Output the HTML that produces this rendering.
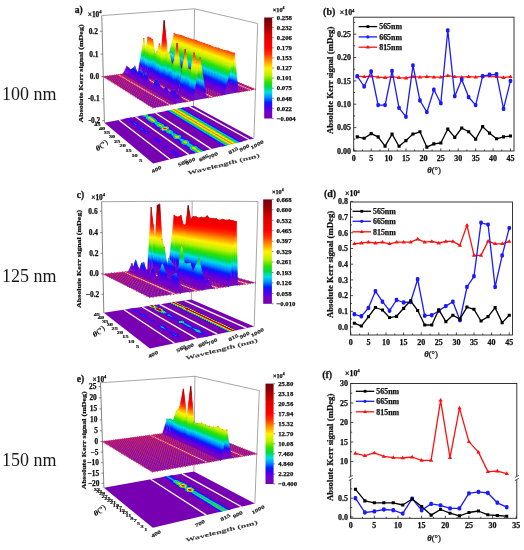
<!DOCTYPE html>
<html><head><meta charset="utf-8"><style>
html,body{margin:0;padding:0;background:#fff;}
body{width:524px;height:550px;overflow:hidden;position:relative;}
svg{position:absolute;left:0;top:0;}
svg text{font-family:'Liberation Serif', serif;fill:#111;font-weight:bold;stroke:#111;stroke-width:.25px;}
.lab{position:absolute;font-family:'Liberation Serif',serif;font-size:18px;line-height:1;color:#1a1a1a;white-space:nowrap;}
</style></head><body>
<div class="lab" style="left:2px;top:85px">100 nm</div>
<div class="lab" style="left:2px;top:267.4px">125 nm</div>
<div class="lab" style="left:2px;top:451px">150 nm</div>
<svg width="524" height="550" viewBox="0 0 524 550">
<path d="M193.5 105.8L194.5 8.8M253.9 138.6L257.7 23.5L194.5 8.8 101.8 15.6" stroke="#909090" stroke-width=".8" fill="none"/><path d="M104.4 122.7L101.8 15.6" stroke="#666" stroke-width=".8"/><text transform="translate(97.9 33.7) scale(1.0 1)" font-size="7.4" text-anchor="end" >0.2</text><text transform="translate(98.5 56.6) scale(1.0 1)" font-size="7.4" text-anchor="end" >0.1</text><text transform="translate(99.1 79.1) scale(1.0 1)" font-size="7.4" text-anchor="end" >0.0</text><text transform="translate(99.6 101.2) scale(1.0 1)" font-size="7.4" text-anchor="end" >-0.1</text><text transform="translate(100.2 123) scale(1.0 1)" font-size="7.4" text-anchor="end" >-0.2</text><path d="M102.1 31.2h-2M102.7 54.1h-2M103.3 76.6h-2M103.8 98.7h-2M104.4 120.5h-2" stroke="#666" stroke-width=".8"/><defs><linearGradient id="cma" gradientUnits="userSpaceOnUse" x1="0" y1="0" x2="0" y2="1"><stop offset="0.0" stop-color="#7a00a8"/><stop offset="0.06" stop-color="#7000d0"/><stop offset="0.12" stop-color="#4000f0"/><stop offset="0.16" stop-color="#0020ff"/><stop offset="0.21" stop-color="#0090ff"/><stop offset="0.26" stop-color="#00e0e8"/><stop offset="0.31" stop-color="#00d850"/><stop offset="0.36" stop-color="#30e000"/><stop offset="0.43" stop-color="#c0f000"/><stop offset="0.5" stop-color="#fff000"/><stop offset="0.57" stop-color="#ff9000"/><stop offset="0.64" stop-color="#ff3000"/><stop offset="0.7" stop-color="#ff0000"/><stop offset="0.82" stop-color="#e00000"/><stop offset="0.91" stop-color="#a00000"/><stop offset="1.0" stop-color="#700010"/></linearGradient><linearGradient id="a1" href="#cma" x1="175" y1="158.3" x2="196.7" y2="134.5"/><linearGradient id="a2" href="#cma" x1="175" y1="158.3" x2="194.9" y2="132"/><linearGradient id="a3" href="#cma" x1="181.9" y1="153.8" x2="164.7" y2="177.5"/><linearGradient id="a4" href="#cma" x1="181.6" y1="153.6" x2="166.4" y2="179"/><linearGradient id="a5" href="#cma" x1="193.2" y1="153.6" x2="201.4" y2="145.8"/><linearGradient id="a6" href="#cma" x1="193.2" y1="153.6" x2="199.7" y2="144.4"/><linearGradient id="a7" href="#cma" x1="202.1" y1="148" x2="196.9" y2="155.9"/><linearGradient id="a8" href="#cma" x1="201.4" y1="147.8" x2="197.7" y2="156.1"/><linearGradient id="a9" href="#cma" x1="222.3" y1="146.5" x2="228.9" y2="135.6"/><linearGradient id="a10" href="#cma" x1="222.3" y1="146.5" x2="229" y2="135.7"/><linearGradient id="a11" href="#cma" x1="236" y1="137.4" x2="229.6" y2="148.6"/><linearGradient id="a12" href="#cma" x1="236" y1="137.4" x2="229.6" y2="148.6"/><linearGradient id="a13" href="#cma" x1="172.4" y1="156.2" x2="181.1" y2="133.5"/><linearGradient id="a14" href="#cma" x1="172.3" y1="156.1" x2="186.7" y2="137"/><linearGradient id="a15" href="#cma" x1="179" y1="151.7" x2="160.1" y2="177.7"/><linearGradient id="a16" href="#cma" x1="179.6" y1="152.8" x2="156.3" y2="169.3"/><linearGradient id="a17" href="#cma" x1="190.4" y1="151.6" x2="193.3" y2="143.7"/><linearGradient id="a18" href="#cma" x1="190.3" y1="151.6" x2="195.5" y2="144.2"/><linearGradient id="a19" href="#cma" x1="199.2" y1="146" x2="193.2" y2="155.1"/><linearGradient id="a20" href="#cma" x1="200.2" y1="147.1" x2="191.8" y2="153.8"/><linearGradient id="a21" href="#cma" x1="219.2" y1="144.6" x2="225.4" y2="133.9"/><linearGradient id="a22" href="#cma" x1="219.2" y1="144.6" x2="225.8" y2="133.9"/><linearGradient id="a23" href="#cma" x1="232.8" y1="135.6" x2="226.5" y2="146.8"/><linearGradient id="a24" href="#cma" x1="233.1" y1="135.6" x2="226.3" y2="146.8"/><linearGradient id="a25" href="#cma" x1="169.4" y1="154" x2="190.1" y2="136"/><linearGradient id="a26" href="#cma" x1="169.5" y1="154.1" x2="187.1" y2="130.8"/><linearGradient id="a27" href="#cma" x1="176.2" y1="149.8" x2="162.5" y2="168.6"/><linearGradient id="a28" href="#cma" x1="175.6" y1="149.4" x2="165.3" y2="170.7"/><linearGradient id="a29" href="#cma" x1="187.4" y1="149.5" x2="199.3" y2="148.2"/><linearGradient id="a30" href="#cma" x1="187.4" y1="149.7" x2="196.3" y2="136.9"/><linearGradient id="a31" href="#cma" x1="196.2" y1="144.1" x2="191.4" y2="151.4"/><linearGradient id="a32" href="#cma" x1="194.1" y1="144.2" x2="193.2" y2="151.3"/><linearGradient id="a33" href="#cma" x1="216.1" y1="142.8" x2="222.9" y2="132"/><linearGradient id="a34" href="#cma" x1="216.1" y1="142.8" x2="222.8" y2="132"/><linearGradient id="a35" href="#cma" x1="229.7" y1="133.8" x2="223.5" y2="144.8"/><linearGradient id="a36" href="#cma" x1="229.6" y1="133.8" x2="223.5" y2="144.8"/><linearGradient id="a37" href="#cma" x1="166.5" y1="151.7" x2="202.9" y2="153.4"/><linearGradient id="a38" href="#cma" x1="166.3" y1="152.7" x2="218.4" y2="83.5"/><linearGradient id="a39" href="#cma" x1="173.4" y1="147.7" x2="156.7" y2="170.7"/><linearGradient id="a40" href="#cma" x1="171.3" y1="147.3" x2="171.2" y2="173.2"/><linearGradient id="a41" href="#cma" x1="184.6" y1="147.7" x2="193.2" y2="135"/><linearGradient id="a42" href="#cma" x1="184.6" y1="147.7" x2="193.4" y2="135.1"/><linearGradient id="a43" href="#cma" x1="193.4" y1="142.1" x2="185.1" y2="154.6"/><linearGradient id="a44" href="#cma" x1="193.4" y1="142.2" x2="185" y2="154.6"/><linearGradient id="a45" href="#cma" x1="213.2" y1="140.9" x2="219.7" y2="130.2"/><linearGradient id="a46" href="#cma" x1="213.2" y1="140.9" x2="219.8" y2="130.2"/><linearGradient id="a47" href="#cma" x1="226.6" y1="132.1" x2="220.4" y2="143.1"/><linearGradient id="a48" href="#cma" x1="226.7" y1="132.1" x2="220.3" y2="143.1"/><linearGradient id="a49" href="#cma" x1="164.4" y1="150" x2="163.5" y2="129.2"/><linearGradient id="a50" href="#cma" x1="164.2" y1="150" x2="178.5" y2="130.9"/><linearGradient id="a51" href="#cma" x1="171.2" y1="145" x2="121.6" y2="213.4"/><linearGradient id="a52" href="#cma" x1="170.1" y1="148.9" x2="141.4" y2="145.1"/><linearGradient id="a53" href="#cma" x1="181.9" y1="145.7" x2="182.7" y2="138.8"/><linearGradient id="a54" href="#cma" x1="181.9" y1="145.7" x2="186.9" y2="138.5"/><linearGradient id="a55" href="#cma" x1="190.5" y1="140.3" x2="182.4" y2="152.6"/><linearGradient id="a56" href="#cma" x1="191.6" y1="143.8" x2="180.1" y2="144.9"/><linearGradient id="a57" href="#cma" x1="210.2" y1="139.1" x2="216.1" y2="128.6"/><linearGradient id="a58" href="#cma" x1="210.2" y1="139.1" x2="216.7" y2="128.6"/><linearGradient id="a59" href="#cma" x1="223.6" y1="130.4" x2="217.4" y2="141.4"/><linearGradient id="a60" href="#cma" x1="224" y1="130.4" x2="217.1" y2="141.4"/><linearGradient id="a61" href="#cma" x1="161.3" y1="147.6" x2="189.8" y2="152.2"/><linearGradient id="a62" href="#cma" x1="161" y1="148.7" x2="212.2" y2="80.8"/><linearGradient id="a63" href="#cma" x1="168" y1="143.9" x2="154.4" y2="162.7"/><linearGradient id="a64" href="#cma" x1="165.8" y1="143.6" x2="166.6" y2="163.9"/><linearGradient id="a65" href="#cma" x1="179.1" y1="143.7" x2="190.5" y2="144"/><linearGradient id="a66" href="#cma" x1="179.1" y1="143.9" x2="188.3" y2="130.7"/><linearGradient id="a67" href="#cma" x1="187.7" y1="138.5" x2="183.1" y2="145.5"/><linearGradient id="a68" href="#cma" x1="185.5" y1="138.8" x2="185" y2="145.3"/><linearGradient id="a69" href="#cma" x1="207.3" y1="137.3" x2="214" y2="126.8"/><linearGradient id="a70" href="#cma" x1="207.3" y1="137.3" x2="213.8" y2="126.8"/><linearGradient id="a71" href="#cma" x1="220.7" y1="128.7" x2="214.5" y2="139.5"/><linearGradient id="a72" href="#cma" x1="220.6" y1="128.7" x2="214.6" y2="139.5"/><linearGradient id="a73" href="#cma" x1="159.2" y1="146.3" x2="162.7" y2="111.1"/><linearGradient id="a74" href="#cma" x1="158.9" y1="146.2" x2="181.9" y2="115.6"/><linearGradient id="a75" href="#cma" x1="166" y1="141.2" x2="117.2" y2="208.4"/><linearGradient id="a76" href="#cma" x1="166" y1="144.5" x2="116.8" y2="151"/><linearGradient id="a77" href="#cma" x1="176.3" y1="142" x2="193" y2="130.6"/><linearGradient id="a78" href="#cma" x1="176.4" y1="142.1" x2="187.9" y2="125.6"/><linearGradient id="a79" href="#cma" x1="185.1" y1="136.6" x2="176.5" y2="149.6"/><linearGradient id="a80" href="#cma" x1="183.9" y1="136.5" x2="179.2" y2="149.9"/><linearGradient id="a81" href="#cma" x1="204.5" y1="135.6" x2="210.9" y2="125.1"/><linearGradient id="a82" href="#cma" x1="204.5" y1="135.6" x2="211" y2="125.1"/><linearGradient id="a83" href="#cma" x1="217.8" y1="127.1" x2="211.6" y2="137.9"/><linearGradient id="a84" href="#cma" x1="217.8" y1="127.1" x2="211.6" y2="137.9"/><linearGradient id="a85" href="#cma" x1="156.6" y1="144.2" x2="162" y2="122.4"/><linearGradient id="a86" href="#cma" x1="156.5" y1="144.1" x2="170.5" y2="125.6"/><linearGradient id="a87" href="#cma" x1="163" y1="139.9" x2="141" y2="170.2"/><linearGradient id="a88" href="#cma" x1="163.5" y1="141.8" x2="136.1" y2="153.3"/><linearGradient id="a89" href="#cma" x1="173.9" y1="140.1" x2="173.8" y2="134.6"/><linearGradient id="a90" href="#cma" x1="173.9" y1="140.1" x2="178.4" y2="133.6"/><linearGradient id="a91" href="#cma" x1="182.4" y1="134.8" x2="171.7" y2="151"/><linearGradient id="a92" href="#cma" x1="181.9" y1="139.4" x2="173.3" y2="136.4"/><linearGradient id="a93" href="#cma" x1="201.8" y1="133.9" x2="207.3" y2="123.7"/><linearGradient id="a94" href="#cma" x1="201.7" y1="133.9" x2="208.1" y2="123.6"/><linearGradient id="a95" href="#cma" x1="214.9" y1="125.4" x2="208.8" y2="136.2"/><linearGradient id="a96" href="#cma" x1="215.4" y1="125.4" x2="208.4" y2="136.2"/><linearGradient id="a97" href="#cma" x1="154.1" y1="142.3" x2="164" y2="124.5"/><linearGradient id="a98" href="#cma" x1="154" y1="142.2" x2="166.2" y2="126.1"/><linearGradient id="a99" href="#cma" x1="160.3" y1="138.3" x2="147" y2="156.6"/><linearGradient id="a100" href="#cma" x1="160.7" y1="138.7" x2="145.2" y2="154.4"/><linearGradient id="a101" href="#cma" x1="171.2" y1="138.2" x2="181.8" y2="137.5"/><linearGradient id="a102" href="#cma" x1="171.2" y1="138.4" x2="178.9" y2="127.4"/><linearGradient id="a103" href="#cma" x1="179.7" y1="133.2" x2="175.5" y2="139.6"/><linearGradient id="a104" href="#cma" x1="177.7" y1="133.4" x2="176.9" y2="139.5"/><linearGradient id="a105" href="#cma" x1="199" y1="132.2" x2="205.2" y2="122"/><linearGradient id="a106" href="#cma" x1="199" y1="132.2" x2="205.3" y2="122"/><linearGradient id="a107" href="#cma" x1="212.1" y1="123.9" x2="206.1" y2="134.3"/><linearGradient id="a108" href="#cma" x1="212.1" y1="123.8" x2="206.1" y2="134.3"/><linearGradient id="a109" href="#cma" x1="151.5" y1="140.1" x2="172.9" y2="147.5"/><linearGradient id="a110" href="#cma" x1="150.8" y1="141.4" x2="212.6" y2="59.5"/><linearGradient id="a111" href="#cma" x1="157.8" y1="136.5" x2="146.3" y2="152.5"/><linearGradient id="a112" href="#cma" x1="155.6" y1="136.6" x2="157.1" y2="152.4"/><linearGradient id="a113" href="#cma" x1="168.6" y1="136.6" x2="183.6" y2="127.9"/><linearGradient id="a114" href="#cma" x1="168.7" y1="136.7" x2="178.5" y2="122.5"/><linearGradient id="a115" href="#cma" x1="177.1" y1="131.5" x2="170" y2="142.2"/><linearGradient id="a116" href="#cma" x1="175.9" y1="131.4" x2="172.4" y2="142.3"/><linearGradient id="a117" href="#cma" x1="196.3" y1="130.5" x2="202.1" y2="120.5"/><linearGradient id="a118" href="#cma" x1="196.3" y1="130.5" x2="202.5" y2="120.5"/><linearGradient id="a119" href="#cma" x1="209.3" y1="122.3" x2="203.4" y2="132.8"/><linearGradient id="a120" href="#cma" x1="209.6" y1="122.3" x2="203.2" y2="132.8"/><linearGradient id="a121" href="#cma" x1="149.3" y1="139.1" x2="157.5" y2="89.7"/><linearGradient id="a122" href="#cma" x1="148.9" y1="139" x2="181.6" y2="95.7"/><linearGradient id="a123" href="#cma" x1="156.1" y1="133.8" x2="97.4" y2="214.8"/><linearGradient id="a124" href="#cma" x1="156.6" y1="136.7" x2="87.4" y2="153.2"/><linearGradient id="a125" href="#cma" x1="166.3" y1="134.8" x2="167.7" y2="126.3"/><linearGradient id="a126" href="#cma" x1="166.2" y1="134.8" x2="172.4" y2="126"/><linearGradient id="a127" href="#cma" x1="174.6" y1="129.7" x2="165.5" y2="143.6"/><linearGradient id="a128" href="#cma" x1="176" y1="132.7" x2="161.7" y2="135.3"/><linearGradient id="a129" href="#cma" x1="193.7" y1="128.9" x2="199.8" y2="118.9"/><linearGradient id="a130" href="#cma" x1="193.7" y1="128.9" x2="199.9" y2="118.9"/><linearGradient id="a131" href="#cma" x1="206.6" y1="120.7" x2="200.7" y2="131.1"/><linearGradient id="a132" href="#cma" x1="206.6" y1="120.7" x2="200.7" y2="131.1"/><linearGradient id="a133" href="#cma" x1="146.7" y1="137.2" x2="169.9" y2="95.8"/><linearGradient id="a134" href="#cma" x1="146.6" y1="137.2" x2="175.2" y2="99.3"/><linearGradient id="a135" href="#cma" x1="153.3" y1="132.6" x2="122.3" y2="175.5"/><linearGradient id="a136" href="#cma" x1="153.7" y1="133.1" x2="117.4" y2="170.2"/><linearGradient id="a137" href="#cma" x1="163.7" y1="133.1" x2="175.7" y2="125.9"/><linearGradient id="a138" href="#cma" x1="163.8" y1="133.2" x2="171.6" y2="121.9"/><linearGradient id="a139" href="#cma" x1="172.1" y1="128.2" x2="166.3" y2="136.8"/><linearGradient id="a140" href="#cma" x1="170.9" y1="128.1" x2="168" y2="136.9"/><linearGradient id="a141" href="#cma" x1="191.1" y1="127.3" x2="197" y2="117.3"/><linearGradient id="a142" href="#cma" x1="191.1" y1="127.3" x2="197.2" y2="117.3"/><linearGradient id="a143" href="#cma" x1="203.9" y1="119.2" x2="198.1" y2="129.5"/><linearGradient id="a144" href="#cma" x1="204.1" y1="119.2" x2="198" y2="129.5"/><linearGradient id="a145" href="#cma" x1="144.7" y1="135.1" x2="145.1" y2="120.7"/><linearGradient id="a146" href="#cma" x1="144.6" y1="135.1" x2="154.8" y2="121.5"/><linearGradient id="a147" href="#cma" x1="150.9" y1="131" x2="123.7" y2="168.5"/><linearGradient id="a148" href="#cma" x1="150.5" y1="134.2" x2="129.2" y2="132"/><linearGradient id="a149" href="#cma" x1="161.5" y1="131.4" x2="161.4" y2="127.9"/><linearGradient id="a150" href="#cma" x1="161.4" y1="131.4" x2="164.5" y2="127"/><linearGradient id="a151" href="#cma" x1="169.6" y1="126.5" x2="162.3" y2="137.6"/><linearGradient id="a152" href="#cma" x1="169" y1="130.9" x2="163.6" y2="128.5"/><linearGradient id="a153" href="#cma" x1="188.6" y1="125.7" x2="193.8" y2="116.1"/><linearGradient id="a154" href="#cma" x1="188.5" y1="125.7" x2="194.5" y2="116"/><linearGradient id="a155" href="#cma" x1="201.3" y1="117.7" x2="195.5" y2="128"/><linearGradient id="a156" href="#cma" x1="201.8" y1="117.7" x2="195.1" y2="128"/><linearGradient id="a157" href="#cma" x1="142.2" y1="133.3" x2="163.2" y2="125.6"/><linearGradient id="a158" href="#cma" x1="142.2" y1="133.5" x2="158.7" y2="111.6"/><linearGradient id="a159" href="#cma" x1="148.4" y1="129.7" x2="138.6" y2="143.1"/><linearGradient id="a160" href="#cma" x1="147.2" y1="129.4" x2="143.4" y2="144.5"/><linearGradient id="a161" href="#cma" x1="159" y1="129.6" x2="165.1" y2="131.7"/><linearGradient id="a162" href="#cma" x1="159" y1="129.8" x2="165.8" y2="120.1"/><linearGradient id="a163" href="#cma" x1="167.2" y1="125" x2="164.3" y2="129.3"/><linearGradient id="a164" href="#cma" x1="164.9" y1="125.6" x2="164.8" y2="129.2"/><linearGradient id="a165" href="#cma" x1="186" y1="124.2" x2="192.2" y2="114.4"/><linearGradient id="a166" href="#cma" x1="186" y1="124.2" x2="192" y2="114.4"/><linearGradient id="a167" href="#cma" x1="198.7" y1="116.3" x2="193.1" y2="126.2"/><linearGradient id="a168" href="#cma" x1="198.6" y1="116.3" x2="193.1" y2="126.2"/><linearGradient id="a169" href="#cma" x1="140.2" y1="131.7" x2="143.4" y2="117.3"/><linearGradient id="a170" href="#cma" x1="140.1" y1="131.7" x2="149.8" y2="118.9"/><linearGradient id="a171" href="#cma" x1="146.2" y1="127.9" x2="130.5" y2="149.5"/><linearGradient id="a172" href="#cma" x1="146.7" y1="129.9" x2="126.6" y2="136.3"/><linearGradient id="a173" href="#cma" x1="156.8" y1="128.2" x2="159" y2="120.8"/><linearGradient id="a174" href="#cma" x1="156.7" y1="128.2" x2="161.8" y2="120.8"/><linearGradient id="a175" href="#cma" x1="164.8" y1="123.4" x2="158.6" y2="132.8"/><linearGradient id="a176" href="#cma" x1="166.3" y1="124.8" x2="156.1" y2="130.4"/><linearGradient id="a177" href="#cma" x1="183.6" y1="122.7" x2="189.5" y2="112.9"/><linearGradient id="a178" href="#cma" x1="183.6" y1="122.7" x2="189.6" y2="112.9"/><linearGradient id="a179" href="#cma" x1="196.2" y1="114.8" x2="190.5" y2="124.8"/><linearGradient id="a180" href="#cma" x1="196.2" y1="114.8" x2="190.5" y2="124.8"/><linearGradient id="a181" href="#cma" x1="137.9" y1="130" x2="151.8" y2="117.7"/><linearGradient id="a182" href="#cma" x1="137.9" y1="130.1" x2="149.4" y2="114.9"/><linearGradient id="a183" href="#cma" x1="143.9" y1="126.5" x2="134.7" y2="139.1"/><linearGradient id="a184" href="#cma" x1="143.4" y1="126.2" x2="136.5" y2="140.1"/><linearGradient id="a185" href="#cma" x1="154.4" y1="126.6" x2="165.2" y2="121.4"/><linearGradient id="a186" href="#cma" x1="154.4" y1="126.6" x2="161.2" y2="116.9"/><linearGradient id="a187" href="#cma" x1="162.5" y1="121.8" x2="157.7" y2="129"/><linearGradient id="a188" href="#cma" x1="161.2" y1="121.9" x2="159.1" y2="129"/><linearGradient id="a189" href="#cma" x1="181.1" y1="121.2" x2="186.6" y2="111.6"/><linearGradient id="a190" href="#cma" x1="181.1" y1="121.2" x2="187" y2="111.6"/><linearGradient id="a191" href="#cma" x1="193.7" y1="113.4" x2="188" y2="123.4"/><linearGradient id="a192" href="#cma" x1="193.9" y1="113.4" x2="187.8" y2="123.4"/><linearGradient id="a193" href="#cma" x1="135.6" y1="128.3" x2="159.6" y2="120.5"/><linearGradient id="a194" href="#cma" x1="135.6" y1="128.6" x2="154.3" y2="103.9"/><linearGradient id="a195" href="#cma" x1="141.7" y1="124.8" x2="130.8" y2="139.9"/><linearGradient id="a196" href="#cma" x1="140.5" y1="124.6" x2="136.6" y2="141.2"/><linearGradient id="a197" href="#cma" x1="152.1" y1="125" x2="163.1" y2="115.8"/><linearGradient id="a198" href="#cma" x1="152.2" y1="125.1" x2="160" y2="113.8"/><linearGradient id="a199" href="#cma" x1="160.2" y1="120.3" x2="153.9" y2="129.8"/><linearGradient id="a200" href="#cma" x1="159.4" y1="120.2" x2="155.4" y2="129.9"/><linearGradient id="a201" href="#cma" x1="178.7" y1="119.7" x2="184.6" y2="110.1"/><linearGradient id="a202" href="#cma" x1="178.7" y1="119.7" x2="184.6" y2="110.1"/><linearGradient id="a203" href="#cma" x1="191.2" y1="112" x2="185.6" y2="121.8"/><linearGradient id="a204" href="#cma" x1="191.2" y1="112" x2="185.6" y2="121.8"/><linearGradient id="a205" href="#cma" x1="133.8" y1="126.8" x2="135.2" y2="114.2"/><linearGradient id="a206" href="#cma" x1="133.7" y1="126.8" x2="142.6" y2="115"/><linearGradient id="a207" href="#cma" x1="139.6" y1="123.1" x2="121.9" y2="147.6"/><linearGradient id="a208" href="#cma" x1="139.8" y1="125.7" x2="120.4" y2="126.9"/><linearGradient id="a209" href="#cma" x1="150" y1="123.5" x2="150.9" y2="117.3"/><linearGradient id="a210" href="#cma" x1="150" y1="123.5" x2="154.8" y2="116.6"/><linearGradient id="a211" href="#cma" x1="158" y1="118.8" x2="150.6" y2="129.8"/><linearGradient id="a212" href="#cma" x1="159.2" y1="122.1" x2="147.9" y2="122.6"/><linearGradient id="a213" href="#cma" x1="176.4" y1="118.2" x2="181.6" y2="108.9"/><linearGradient id="a214" href="#cma" x1="176.4" y1="118.2" x2="182.2" y2="108.9"/><linearGradient id="a215" href="#cma" x1="188.8" y1="110.6" x2="183.2" y2="120.4"/><linearGradient id="a216" href="#cma" x1="189.2" y1="110.6" x2="182.9" y2="120.5"/><linearGradient id="a217" href="#cma" x1="131.5" y1="125.2" x2="147.5" y2="115.7"/><linearGradient id="a218" href="#cma" x1="131.5" y1="125.3" x2="143.6" y2="109.3"/><linearGradient id="a219" href="#cma" x1="137.4" y1="121.8" x2="128.9" y2="133.4"/><linearGradient id="a220" href="#cma" x1="136.6" y1="121.5" x2="131.9" y2="134.4"/><linearGradient id="a221" href="#cma" x1="147.8" y1="122" x2="152.1" y2="115.2"/><linearGradient id="a222" href="#cma" x1="147.8" y1="122" x2="152.5" y2="115.3"/><linearGradient id="a223" href="#cma" x1="155.7" y1="117.4" x2="151.2" y2="124.1"/><linearGradient id="a224" href="#cma" x1="155.9" y1="117.4" x2="151.1" y2="124"/><linearGradient id="a225" href="#cma" x1="174.1" y1="116.8" x2="179.6" y2="107.5"/><linearGradient id="a226" href="#cma" x1="174.1" y1="116.8" x2="179.8" y2="107.5"/><linearGradient id="a227" href="#cma" x1="186.4" y1="109.3" x2="180.9" y2="118.9"/><linearGradient id="a228" href="#cma" x1="186.5" y1="109.3" x2="180.8" y2="118.9"/><linearGradient id="a229" href="#cma" x1="129.3" y1="123.7" x2="152.9" y2="112.5"/><linearGradient id="a230" href="#cma" x1="129.4" y1="123.9" x2="146.9" y2="100.7"/><linearGradient id="a231" href="#cma" x1="135.4" y1="120.2" x2="123.9" y2="136"/><linearGradient id="a232" href="#cma" x1="134.4" y1="120" x2="129" y2="137.4"/><linearGradient id="a233" href="#cma" x1="145.7" y1="120.5" x2="150.1" y2="113.8"/><linearGradient id="a234" href="#cma" x1="145.7" y1="120.5" x2="150.3" y2="113.9"/><linearGradient id="a235" href="#cma" x1="153.5" y1="115.9" x2="149.2" y2="122.5"/><linearGradient id="a236" href="#cma" x1="153.6" y1="115.9" x2="149.1" y2="122.4"/><linearGradient id="a237" href="#cma" x1="171.8" y1="115.4" x2="177.5" y2="106.1"/><linearGradient id="a238" href="#cma" x1="171.8" y1="115.4" x2="177.5" y2="106.1"/><linearGradient id="a239" href="#cma" x1="184" y1="107.9" x2="178.6" y2="117.5"/><linearGradient id="a240" href="#cma" x1="184.1" y1="107.9" x2="178.6" y2="117.5"/><linearGradient id="a241" href="#cma" x1="127.5" y1="122.3" x2="138.9" y2="100.7"/><linearGradient id="a242" href="#cma" x1="127.4" y1="122.3" x2="142.5" y2="102.4"/><linearGradient id="a243" href="#cma" x1="133.4" y1="118.6" x2="116.8" y2="141.5"/><linearGradient id="a244" href="#cma" x1="133.8" y1="119" x2="113.5" y2="138.4"/><linearGradient id="a245" href="#cma" x1="143.5" y1="118.9" x2="153.6" y2="120.9"/><linearGradient id="a246" href="#cma" x1="143.5" y1="119.1" x2="151.8" y2="107.2"/><linearGradient id="a247" href="#cma" x1="151.3" y1="114.5" x2="147.1" y2="121"/><linearGradient id="a248" href="#cma" x1="149.4" y1="115" x2="148.9" y2="120.5"/><linearGradient id="a249" href="#cma" x1="169.5" y1="114" x2="175.5" y2="104.7"/><linearGradient id="a250" href="#cma" x1="169.5" y1="114" x2="175.3" y2="104.7"/><linearGradient id="a251" href="#cma" x1="181.7" y1="106.6" x2="176.3" y2="116.2"/><linearGradient id="a252" href="#cma" x1="181.6" y1="106.6" x2="176.4" y2="116.1"/><linearGradient id="a253" href="#cma" x1="125.5" y1="120.8" x2="137.8" y2="101.3"/><linearGradient id="a254" href="#cma" x1="125.5" y1="120.8" x2="139.4" y2="102.2"/><linearGradient id="a255" href="#cma" x1="131.3" y1="117.2" x2="117" y2="136.9"/><linearGradient id="a256" href="#cma" x1="131.5" y1="117.4" x2="115.6" y2="135.8"/><linearGradient id="a257" href="#cma" x1="141.6" y1="117.5" x2="142.3" y2="111.4"/><linearGradient id="a258" href="#cma" x1="141.5" y1="117.6" x2="146.4" y2="110.5"/><linearGradient id="a259" href="#cma" x1="149.3" y1="113" x2="141.6" y2="124.7"/><linearGradient id="a260" href="#cma" x1="150.4" y1="116.6" x2="138.8" y2="116"/><linearGradient id="a261" href="#cma" x1="167.3" y1="112.7" x2="172.4" y2="103.5"/><linearGradient id="a262" href="#cma" x1="167.3" y1="112.7" x2="173" y2="103.5"/><linearGradient id="a263" href="#cma" x1="179.4" y1="105.3" x2="174" y2="114.9"/><linearGradient id="a264" href="#cma" x1="179.8" y1="105.3" x2="173.7" y2="114.9"/><linearGradient id="a265" href="#cma" x1="165" y1="61" x2="183.8" y2="18.1"/><linearGradient id="a266" href="#cma" x1="166.7" y1="62.8" x2="182.7" y2="16.9"/><linearGradient id="a267" href="#cma" x1="167.5" y1="69.8" x2="191.7" y2="17.5"/><linearGradient id="a268" href="#cma" x1="167.1" y1="61.9" x2="186" y2="18.6"/><linearGradient id="a269" href="#cma" x1="167.6" y1="69.8" x2="185.2" y2="13.5"/><linearGradient id="a270" href="#cma" x1="169.5" y1="64.3" x2="184.5" y2="17.1"/><linearGradient id="a271" href="#cma" x1="169.7" y1="70.8" x2="194.1" y2="18.1"/><linearGradient id="a272" href="#cma" x1="169.3" y1="62.9" x2="188.4" y2="19.2"/><linearGradient id="a273" href="#cma" x1="169.8" y1="70.9" x2="189.6" y2="15"/><linearGradient id="a274" href="#cma" x1="171.6" y1="65.2" x2="187" y2="17.8"/><linearGradient id="a275" href="#cma" x1="172" y1="71.9" x2="196.6" y2="18.8"/><linearGradient id="a276" href="#cma" x1="171.6" y1="63.9" x2="190.8" y2="19.8"/><linearGradient id="a277" href="#cma" x1="172.1" y1="71.9" x2="191.4" y2="15.4"/><linearGradient id="a278" href="#cma" x1="173.8" y1="66.1" x2="189.5" y2="18.5"/><linearGradient id="a279" href="#cma" x1="174.3" y1="73" x2="199.1" y2="19.5"/><linearGradient id="a280" href="#cma" x1="174.1" y1="65" x2="193.5" y2="20.6"/><linearGradient id="a281" href="#cma" x1="139.5" y1="65.6" x2="157.7" y2="29.1"/><linearGradient id="a282" href="#cma" x1="174.4" y1="73" x2="193.3" y2="15.8"/><linearGradient id="a283" href="#cma" x1="175.9" y1="66.9" x2="192.3" y2="19.5"/><linearGradient id="a284" href="#cma" x1="153.4" y1="53.9" x2="132.8" y2="50"/><linearGradient id="a285" href="#cma" x1="176.7" y1="74.1" x2="201.6" y2="20.2"/><linearGradient id="a286" href="#cma" x1="176.4" y1="66" x2="195.9" y2="21.3"/><linearGradient id="a287" href="#cma" x1="139.8" y1="73.6" x2="165.9" y2="24"/><linearGradient id="a288" href="#cma" x1="134.9" y1="63.4" x2="155.4" y2="22.3"/><linearGradient id="a289" href="#cma" x1="176.8" y1="74.1" x2="194.9" y2="16"/><linearGradient id="a290" href="#cma" x1="140.1" y1="73.8" x2="144.2" y2="13.5"/><linearGradient id="a291" href="#cma" x1="178.7" y1="68.3" x2="194.5" y2="19.9"/><linearGradient id="a292" href="#cma" x1="148.5" y1="72.1" x2="147.8" y2="17.4"/><linearGradient id="a293" href="#cma" x1="141.8" y1="74.8" x2="170.1" y2="21.3"/><linearGradient id="a294" href="#cma" x1="179.1" y1="75.2" x2="204.3" y2="20.8"/><linearGradient id="a295" href="#cma" x1="178.9" y1="67.1" x2="198.6" y2="22"/><linearGradient id="a296" href="#cma" x1="137.1" y1="64.5" x2="157.7" y2="23.1"/><linearGradient id="a297" href="#cma" x1="179.1" y1="75.2" x2="199" y2="17.3"/><linearGradient id="a298" href="#cma" x1="180.9" y1="69.2" x2="197.3" y2="20.8"/><linearGradient id="a299" href="#cma" x1="126.8" y1="70.9" x2="141.5" y2="47.2"/><linearGradient id="a300" href="#cma" x1="142.5" y1="74.1" x2="126.6" y2="66.3"/><linearGradient id="a301" href="#cma" x1="126.8" y1="71.3" x2="141.2" y2="45"/><linearGradient id="a302" href="#cma" x1="139" y1="67.1" x2="156.7" y2="21.6"/><linearGradient id="a303" href="#cma" x1="124.4" y1="75.9" x2="158.4" y2="16.3"/><linearGradient id="a304" href="#cma" x1="181.5" y1="76.3" x2="206.9" y2="21.5"/><linearGradient id="a305" href="#cma" x1="181.3" y1="68.2" x2="201.1" y2="22.7"/><linearGradient id="a306" href="#cma" x1="144" y1="75.9" x2="170.4" y2="25.9"/><linearGradient id="a307" href="#cma" x1="124.5" y1="76" x2="153.6" y2="11.9"/><linearGradient id="a308" href="#cma" x1="139.5" y1="65.7" x2="160.3" y2="24"/><linearGradient id="a309" href="#cma" x1="181.6" y1="76.4" x2="200.6" y2="17.5"/><linearGradient id="a310" href="#cma" x1="129.3" y1="71.8" x2="142.2" y2="54.8"/><linearGradient id="a311" href="#cma" x1="183.7" y1="70.5" x2="199.7" y2="21.2"/><linearGradient id="a312" href="#cma" x1="129.2" y1="72.6" x2="142.3" y2="48.8"/><linearGradient id="a313" href="#cma" x1="144.1" y1="75.9" x2="164.6" y2="20.5"/><linearGradient id="a314" href="#cma" x1="140.9" y1="67.7" x2="159.4" y2="22.8"/><linearGradient id="a315" href="#cma" x1="126.4" y1="77.1" x2="161.3" y2="15.9"/><linearGradient id="a316" href="#cma" x1="184" y1="77.5" x2="209.6" y2="22.2"/><linearGradient id="a317" href="#cma" x1="183.6" y1="69.2" x2="203.7" y2="23.3"/><linearGradient id="a318" href="#cma" x1="147.4" y1="69.5" x2="166.5" y2="31"/><linearGradient id="a319" href="#cma" x1="126.5" y1="77.2" x2="152.5" y2="8.9"/><linearGradient id="a320" href="#cma" x1="146.2" y1="77" x2="172.8" y2="26.6"/><linearGradient id="a321" href="#cma" x1="184.1" y1="77.5" x2="204.2" y2="18.6"/><linearGradient id="a322" href="#cma" x1="186.2" y1="71.7" x2="202.1" y2="21.8"/><linearGradient id="a323" href="#cma" x1="131.3" y1="75" x2="140.4" y2="32.9"/><linearGradient id="a324" href="#cma" x1="130.1" y1="73.1" x2="146.8" y2="42.6"/><linearGradient id="a325" href="#cma" x1="160.2" y1="54.9" x2="146.4" y2="54"/><linearGradient id="a326" href="#cma" x1="146.3" y1="77.1" x2="166.3" y2="20.8"/><linearGradient id="a327" href="#cma" x1="128.4" y1="78.3" x2="165.2" y2="13.8"/><linearGradient id="a328" href="#cma" x1="186.5" y1="78.6" x2="212.3" y2="22.9"/><linearGradient id="a329" href="#cma" x1="186.4" y1="70.4" x2="206.6" y2="24.2"/><linearGradient id="a330" href="#cma" x1="148.4" y1="78.2" x2="175.2" y2="27.2"/><linearGradient id="a331" href="#cma" x1="128.3" y1="77.8" x2="175.2" y2="47.1"/><linearGradient id="a332" href="#cma" x1="148" y1="69.9" x2="168" y2="29.8"/><linearGradient id="a333" href="#cma" x1="186.6" y1="78.7" x2="207.3" y2="19.6"/><linearGradient id="a334" href="#cma" x1="188.2" y1="72.2" x2="205.5" y2="23.1"/><linearGradient id="a335" href="#cma" x1="151.9" y1="74.3" x2="163.4" y2="24.4"/><linearGradient id="a336" href="#cma" x1="148.7" y1="78.4" x2="153.5" y2="16.3"/><linearGradient id="a337" href="#cma" x1="132.5" y1="75.9" x2="143.5" y2="30.5"/><linearGradient id="a338" href="#cma" x1="130.8" y1="73.6" x2="149.8" y2="38.9"/><linearGradient id="a339" href="#cma" x1="130.5" y1="79.4" x2="163.8" y2="21"/><linearGradient id="a340" href="#cma" x1="150.6" y1="79.4" x2="179.3" y2="24.9"/><linearGradient id="a341" href="#cma" x1="189.1" y1="79.8" x2="215" y2="23.8"/><linearGradient id="a342" href="#cma" x1="189" y1="71.6" x2="209.3" y2="24.9"/><linearGradient id="a343" href="#cma" x1="130.4" y1="79" x2="172.1" y2="44"/><linearGradient id="a344" href="#cma" x1="146.8" y1="69.3" x2="167.9" y2="26.8"/><linearGradient id="a345" href="#cma" x1="150.5" y1="79.3" x2="185.8" y2="35"/><linearGradient id="a346" href="#cma" x1="189.2" y1="79.9" x2="207.6" y2="19.2"/><linearGradient id="a347" href="#cma" x1="191.2" y1="73.8" x2="207.9" y2="23.6"/><linearGradient id="a348" href="#cma" x1="135.6" y1="76" x2="148.5" y2="52.6"/><linearGradient id="a349" href="#cma" x1="138.8" y1="73.3" x2="123.1" y2="74.6"/><linearGradient id="a350" href="#cma" x1="155.7" y1="76.7" x2="161.9" y2="21.9"/><linearGradient id="a351" href="#cma" x1="132.7" y1="80.5" x2="164" y2="25.5"/><linearGradient id="a352" href="#cma" x1="152.9" y1="80.6" x2="181.2" y2="26.9"/><linearGradient id="a353" href="#cma" x1="191.7" y1="81.1" x2="217.9" y2="24.4"/><linearGradient id="a354" href="#cma" x1="191.5" y1="72.7" x2="212.1" y2="25.6"/><linearGradient id="a355" href="#cma" x1="152.4" y1="72.1" x2="172.8" y2="31.1"/><linearGradient id="a356" href="#cma" x1="133.1" y1="80.7" x2="138.4" y2="12.4"/><linearGradient id="a357" href="#cma" x1="191.7" y1="81.1" x2="211.9" y2="20.5"/><linearGradient id="a358" href="#cma" x1="194" y1="75.1" x2="210.6" y2="24.2"/><linearGradient id="a359" href="#cma" x1="137.9" y1="78.8" x2="145.3" y2="33.3"/><linearGradient id="a360" href="#cma" x1="152.7" y1="80.2" x2="188.7" y2="55.1"/><linearGradient id="a361" href="#cma" x1="136.1" y1="76.5" x2="153.9" y2="44.1"/><linearGradient id="a362" href="#cma" x1="152.4" y1="60" x2="172.9" y2="45.2"/><linearGradient id="a363" href="#cma" x1="134.7" y1="81.9" x2="172.9" y2="14.9"/><linearGradient id="a364" href="#cma" x1="194.3" y1="82.3" x2="220.8" y2="25.1"/><linearGradient id="a365" href="#cma" x1="194.3" y1="73.9" x2="215" y2="26.5"/><linearGradient id="a366" href="#cma" x1="155.2" y1="81.8" x2="182.9" y2="29.4"/><linearGradient id="a367" href="#cma" x1="134.6" y1="81.2" x2="179.1" y2="61.2"/><linearGradient id="a368" href="#cma" x1="194.4" y1="82.4" x2="215.2" y2="21.4"/><linearGradient id="a369" href="#cma" x1="196.4" y1="76" x2="213.7" y2="25.2"/><linearGradient id="a370" href="#cma" x1="155.4" y1="82" x2="166.2" y2="19.1"/><linearGradient id="a371" href="#cma" x1="138.4" y1="78.8" x2="153" y2="36.4"/><linearGradient id="a372" href="#cma" x1="137.5" y1="77.3" x2="156.7" y2="42.4"/><linearGradient id="a373" href="#cma" x1="141.3" y1="66.6" x2="164.2" y2="20.7"/><linearGradient id="a374" href="#cma" x1="137" y1="83.1" x2="170.5" y2="24.3"/><linearGradient id="a375" href="#cma" x1="157.5" y1="83.1" x2="186.3" y2="28.6"/><linearGradient id="a376" href="#cma" x1="197" y1="83.5" x2="223.7" y2="25.9"/><linearGradient id="a377" href="#cma" x1="171" y1="79.7" x2="164.2" y2="20.7"/><linearGradient id="a378" href="#cma" x1="196.9" y1="75.1" x2="217.8" y2="27.2"/><linearGradient id="a379" href="#cma" x1="158.5" y1="75.1" x2="178.7" y2="34.6"/><linearGradient id="a380" href="#cma" x1="136.9" y1="82.9" x2="176.1" y2="33.9"/><linearGradient id="a381" href="#cma" x1="197.1" y1="83.6" x2="217.1" y2="21.7"/><linearGradient id="a382" href="#cma" x1="199.5" y1="77.5" x2="216.3" y2="25.7"/><linearGradient id="a383" href="#cma" x1="141.8" y1="79.5" x2="156.7" y2="52.3"/><linearGradient id="a384" href="#cma" x1="143.3" y1="76.2" x2="146.1" y2="75"/><linearGradient id="a385" href="#cma" x1="158.4" y1="82.6" x2="131.1" y2="59"/><linearGradient id="a386" href="#cma" x1="139.2" y1="84.3" x2="171.7" y2="27.2"/><linearGradient id="a387" href="#cma" x1="179.8" y1="67.5" x2="147.4" y2="45.9"/><linearGradient id="a388" href="#cma" x1="199.7" y1="84.8" x2="226.7" y2="26.7"/><linearGradient id="a389" href="#cma" x1="199.9" y1="76.4" x2="221" y2="28.2"/><linearGradient id="a390" href="#cma" x1="139.6" y1="84.5" x2="150.2" y2="14.2"/><linearGradient id="a391" href="#cma" x1="158.2" y1="75" x2="179.6" y2="32.1"/><linearGradient id="a392" href="#cma" x1="199.8" y1="84.9" x2="221" y2="22.9"/><linearGradient id="a393" href="#cma" x1="201.8" y1="78.2" x2="219.8" y2="27"/><linearGradient id="a394" href="#cma" x1="160" y1="84.3" x2="187.1" y2="32.8"/><linearGradient id="a395" href="#cma" x1="144.4" y1="82.4" x2="152.4" y2="34.4"/><linearGradient id="a396" href="#cma" x1="164.9" y1="81.2" x2="173.3" y2="26.3"/><linearGradient id="a397" href="#cma" x1="142.2" y1="79.9" x2="161.4" y2="44.8"/><linearGradient id="a398" href="#cma" x1="160.4" y1="84.5" x2="160.7" y2="20.7"/><linearGradient id="a399" href="#cma" x1="141.4" y1="85.7" x2="178.8" y2="20.1"/><linearGradient id="a400" href="#cma" x1="162.4" y1="85.7" x2="192.2" y2="29.1"/><linearGradient id="a401" href="#cma" x1="202.5" y1="86.1" x2="229.7" y2="27.5"/><linearGradient id="a402" href="#cma" x1="202.7" y1="77.6" x2="223.9" y2="28.9"/><linearGradient id="a403" href="#cma" x1="165.3" y1="78.5" x2="184.8" y2="39.3"/><linearGradient id="a404" href="#cma" x1="141.3" y1="85.1" x2="185.2" y2="62.6"/><linearGradient id="a405" href="#cma" x1="162.2" y1="85.3" x2="201.1" y2="51.2"/><linearGradient id="a406" href="#cma" x1="202.6" y1="86.2" x2="222.1" y2="22.8"/><linearGradient id="a407" href="#cma" x1="205.2" y1="80" x2="222.4" y2="27.4"/><linearGradient id="a408" href="#cma" x1="173" y1="65.3" x2="169.2" y2="65.8"/><linearGradient id="a409" href="#cma" x1="147.7" y1="82.5" x2="155.2" y2="68.8"/><linearGradient id="a410" href="#cma" x1="150.8" y1="81.7" x2="120.5" y2="77.6"/><linearGradient id="a411" href="#cma" x1="143.8" y1="86.9" x2="177.2" y2="28.4"/><linearGradient id="a412" href="#cma" x1="205.4" y1="87.5" x2="232.8" y2="28.2"/><linearGradient id="a413" href="#cma" x1="205.4" y1="78.8" x2="226.9" y2="29.6"/><linearGradient id="a414" href="#cma" x1="164.9" y1="87" x2="194" y2="31.8"/><linearGradient id="a415" href="#cma" x1="165.4" y1="78.6" x2="186.4" y2="36.5"/><linearGradient id="a416" href="#cma" x1="144.3" y1="87.1" x2="145.2" y2="14.7"/><linearGradient id="a417" href="#cma" x1="165.2" y1="87.1" x2="171.3" y2="20.5"/><linearGradient id="a418" href="#cma" x1="150.5" y1="83.5" x2="153.8" y2="78.9"/><linearGradient id="a419" href="#cma" x1="170.6" y1="83.7" x2="179.4" y2="29.6"/><linearGradient id="a420" href="#cma" x1="205.4" y1="87.5" x2="227.1" y2="24.4"/><linearGradient id="a421" href="#cma" x1="208.1" y1="81.4" x2="225.2" y2="28.1"/><linearGradient id="a422" href="#cma" x1="150.3" y1="83.8" x2="155.4" y2="74.5"/><linearGradient id="a423" href="#cma" x1="145.9" y1="88.6" x2="192" y2="7.7"/><linearGradient id="a424" href="#cma" x1="167.3" y1="88.4" x2="198.7" y2="28.9"/><linearGradient id="a425" href="#cma" x1="208.2" y1="88.8" x2="235.9" y2="29.1"/><linearGradient id="a426" href="#cma" x1="208.5" y1="80.1" x2="230.1" y2="30.6"/><linearGradient id="a427" href="#cma" x1="146.1" y1="88.7" x2="182.4" y2="0.6"/><linearGradient id="a428" href="#cma" x1="167.2" y1="88" x2="208.7" y2="54.5"/><linearGradient id="a429" href="#cma" x1="155.4" y1="85.4" x2="105.4" y2="101.3"/><linearGradient id="a430" href="#cma" x1="160.6" y1="76.3" x2="183.6" y2="30"/><linearGradient id="a431" href="#cma" x1="208.3" y1="88.9" x2="230.6" y2="25.4"/><linearGradient id="a432" href="#cma" x1="153.8" y1="85" x2="140.2" y2="109.7"/><linearGradient id="a433" href="#cma" x1="210.6" y1="82.2" x2="228.8" y2="29.3"/><linearGradient id="a434" href="#cma" x1="177.4" y1="86.3" x2="176.9" y2="26"/><linearGradient id="a435" href="#cma" x1="148.3" y1="90.1" x2="197.4" y2="3.8"/><linearGradient id="a436" href="#cma" x1="169.9" y1="89.7" x2="200.3" y2="32.1"/><linearGradient id="a437" href="#cma" x1="211.2" y1="90.2" x2="239.1" y2="30"/><linearGradient id="a438" href="#cma" x1="148.8" y1="90.3" x2="161.1" y2="-9.3"/><linearGradient id="a439" href="#cma" x1="211.4" y1="81.4" x2="233.2" y2="31.4"/><linearGradient id="a440" href="#cma" x1="174" y1="82.8" x2="193.3" y2="44.1"/><linearGradient id="a441" href="#cma" x1="156.2" y1="88.3" x2="152.4" y2="37.1"/><linearGradient id="a442" href="#cma" x1="211.3" y1="90.2" x2="231.7" y2="25.3"/><linearGradient id="a443" href="#cma" x1="214" y1="83.9" x2="231.6" y2="29.9"/><linearGradient id="a444" href="#cma" x1="152.3" y1="85.4" x2="171.2" y2="51"/><linearGradient id="a445" href="#cma" x1="189.6" y1="77.2" x2="155.8" y2="57.5"/><linearGradient id="a446" href="#cma" x1="170.3" y1="88.8" x2="178.4" y2="89"/><linearGradient id="a447" href="#cma" x1="150.4" y1="92" x2="219.7" y2="-29.8"/><linearGradient id="a448" href="#cma" x1="214.2" y1="91.6" x2="242.3" y2="30.7"/><linearGradient id="a449" href="#cma" x1="214.2" y1="82.7" x2="236.3" y2="32.1"/><linearGradient id="a450" href="#cma" x1="174.8" y1="83.2" x2="195.6" y2="41.5"/><linearGradient id="a451" href="#cma" x1="151.5" y1="90.2" x2="147" y2="88"/><linearGradient id="a452" href="#cma" x1="172.6" y1="91" x2="201.6" y2="36.1"/><linearGradient id="a453" href="#cma" x1="178.5" y1="87.4" x2="189.1" y2="34.3"/><linearGradient id="a454" href="#cma" x1="214.3" y1="91.6" x2="236.4" y2="26.8"/><linearGradient id="a455" href="#cma" x1="217.1" y1="85.3" x2="234.6" y2="30.5"/><linearGradient id="a456" href="#cma" x1="173" y1="91.2" x2="171.9" y2="24.1"/><linearGradient id="a457" href="#cma" x1="155.1" y1="86.2" x2="174.3" y2="58.9"/><linearGradient id="a458" href="#cma" x1="155.3" y1="87" x2="173.3" y2="54.3"/><linearGradient id="a459" href="#cma" x1="175.2" y1="92.6" x2="208.2" y2="30"/><linearGradient id="a460" href="#cma" x1="153.4" y1="92.5" x2="189" y2="29.9"/><linearGradient id="a461" href="#cma" x1="217.2" y1="93" x2="245.6" y2="31.7"/><linearGradient id="a462" href="#cma" x1="217.4" y1="84.1" x2="239.7" y2="33.1"/><linearGradient id="a463" href="#cma" x1="175" y1="92.3" x2="218.7" y2="50.6"/><linearGradient id="a464" href="#cma" x1="153.5" y1="92.6" x2="181.2" y2="22.5"/><linearGradient id="a465" href="#cma" x1="169.6" y1="80.8" x2="193.1" y2="33.7"/><linearGradient id="a466" href="#cma" x1="217.3" y1="93" x2="240.1" y2="27.9"/><linearGradient id="a467" href="#cma" x1="160.4" y1="87" x2="163" y2="85.5"/><linearGradient id="a468" href="#cma" x1="219.8" y1="86.3" x2="238.2" y2="31.7"/><linearGradient id="a469" href="#cma" x1="159.4" y1="89.1" x2="171.7" y2="66.7"/><linearGradient id="a470" href="#cma" x1="186.3" y1="90.4" x2="184.8" y2="28.9"/><linearGradient id="a471" href="#cma" x1="177.9" y1="94" x2="209.9" y2="33.4"/><linearGradient id="a472" href="#cma" x1="155.9" y1="94" x2="193" y2="28.8"/><linearGradient id="a473" href="#cma" x1="220.3" y1="94.4" x2="248.9" y2="32.6"/><linearGradient id="a474" href="#cma" x1="220.4" y1="85.4" x2="242.9" y2="33.9"/><linearGradient id="a475" href="#cma" x1="179.7" y1="85.7" x2="201.2" y2="42.5"/><linearGradient id="a476" href="#cma" x1="156.2" y1="94.2" x2="170.1" y2="15"/><linearGradient id="a477" href="#cma" x1="165.3" y1="90.9" x2="126.9" y2="97.8"/><linearGradient id="a478" href="#cma" x1="220.4" y1="94.5" x2="241.9" y2="28"/><linearGradient id="a479" href="#cma" x1="163.5" y1="90.7" x2="157.8" y2="101.1"/><linearGradient id="a480" href="#cma" x1="223.2" y1="88" x2="241.3" y2="32.4"/><linearGradient id="a481" href="#cma" x1="178.4" y1="93.1" x2="177.1" y2="92.8"/><linearGradient id="a482" href="#cma" x1="191.1" y1="68.8" x2="183.2" y2="69"/><linearGradient id="a483" href="#cma" x1="158.4" y1="95.6" x2="201.9" y2="19.1"/><linearGradient id="a484" href="#cma" x1="223.5" y1="95.9" x2="252.4" y2="33.5"/><linearGradient id="a485" href="#cma" x1="158.9" y1="95.8" x2="165.5" y2="4.6"/><linearGradient id="a486" href="#cma" x1="182.5" y1="87.1" x2="204.2" y2="43.5"/><linearGradient id="a487" href="#cma" x1="180.7" y1="95.4" x2="210.7" y2="38.6"/><linearGradient id="a488" href="#cma" x1="183.1" y1="88.2" x2="203.2" y2="41.9"/><linearGradient id="a489" href="#cma" x1="166.1" y1="93.8" x2="164.4" y2="43.5"/><linearGradient id="a490" href="#cma" x1="223.6" y1="96" x2="246.2" y2="29.4"/><linearGradient id="a491" href="#cma" x1="163.1" y1="91.3" x2="181.5" y2="57.6"/><linearGradient id="a492" href="#cma" x1="181.1" y1="95.6" x2="185.6" y2="26.2"/><linearGradient id="a493" href="#cma" x1="160.7" y1="97.6" x2="223.8" y2="-13.2"/><linearGradient id="a494" href="#cma" x1="183.5" y1="96.9" x2="215.8" y2="35.8"/><linearGradient id="a495" href="#cma" x1="161.4" y1="95.9" x2="176.1" y2="99.1"/><linearGradient id="a496" href="#cma" x1="183.6" y1="97" x2="211.7" y2="32"/><linearGradient id="a497" href="#cma" x1="178" y1="85" x2="202.1" y2="36.6"/><linearGradient id="a498" href="#cma" x1="170.7" y1="94.5" x2="130.6" y2="87.6"/><linearGradient id="a499" href="#cma" x1="168.9" y1="93.6" x2="163.1" y2="104.2"/><linearGradient id="a500" href="#cma" x1="194.3" y1="94.6" x2="193.9" y2="31.7"/><linearGradient id="a501" href="#cma" x1="163.7" y1="98.5" x2="201.9" y2="31.5"/><linearGradient id="a502" href="#cma" x1="186.4" y1="98.5" x2="218.9" y2="36.8"/><linearGradient id="a503" href="#cma" x1="164.3" y1="98.7" x2="161.5" y2="17"/><linearGradient id="a504" href="#cma" x1="184.2" y1="88" x2="207.8" y2="40.6"/><linearGradient id="a505" href="#cma" x1="171.3" y1="96.7" x2="171.3" y2="49.5"/><linearGradient id="a506" href="#cma" x1="169.1" y1="94.6" x2="186" y2="63.7"/><linearGradient id="a507" href="#cma" x1="186.7" y1="97.5" x2="201.4" y2="96.7"/><linearGradient id="a508" href="#cma" x1="181.7" y1="79.8" x2="209.9" y2="47.5"/><linearGradient id="a509" href="#cma" x1="166" y1="100.7" x2="230.4" y2="-12.2"/><linearGradient id="a510" href="#cma" x1="166.5" y1="98.9" x2="199.4" y2="101"/><linearGradient id="a511" href="#cma" x1="189.3" y1="100" x2="220.2" y2="41.5"/><linearGradient id="a512" href="#cma" x1="184.9" y1="88.4" x2="209.2" y2="39.4"/><linearGradient id="a513" href="#cma" x1="171.9" y1="96.9" x2="186.4" y2="54.1"/><linearGradient id="a514" href="#cma" x1="171.1" y1="95.7" x2="190.4" y2="60.6"/><linearGradient id="a515" href="#cma" x1="189.6" y1="100.1" x2="204.4" y2="30.6"/><linearGradient id="a516" href="#cma" x1="192.1" y1="95.2" x2="204.9" y2="35.4"/><linearGradient id="a517" href="#cma" x1="169.2" y1="101.7" x2="210" y2="29.9"/><linearGradient id="a518" href="#cma" x1="192.3" y1="101.6" x2="224.1" y2="41.4"/><linearGradient id="a519" href="#cma" x1="169" y1="101.5" x2="217.4" y2="42.7"/><linearGradient id="a520" href="#cma" x1="175.1" y1="96.1" x2="190.7" y2="81"/><linearGradient id="a521" href="#cma" x1="175.1" y1="97.8" x2="191" y2="68.7"/><linearGradient id="a522" href="#cma" x1="192.3" y1="101.5" x2="227" y2="45.3"/><linearGradient id="a523" href="#cma" x1="172" y1="103.2" x2="211" y2="34.8"/><linearGradient id="a524" href="#cma" x1="172.3" y1="103.4" x2="194.5" y2="22"/><linearGradient id="a525" href="#cma" x1="177.9" y1="99.8" x2="193.4" y2="63.8"/><linearGradient id="a526" href="#cma" x1="177.7" y1="99.2" x2="195" y2="67.5"/><linearGradient id="a527" href="#cma" x1="174.8" y1="105" x2="217.9" y2="29.4"/><linearGradient id="a528" href="#cma" x1="174.8" y1="104.9" x2="221.4" y2="34.3"/></defs><path d="M153.2 163.4 L104.4 122.7 L193.5 105.8 L253.9 138.6z" fill="#7700b2"/><path d="M175.3 157.9L179.7 156.9 176.8 154.8z" fill="url(#a1)" stroke="url(#a1)" stroke-width=".3"/><path d="M175.3 157.9L176.8 154.8 172.5 155.8z" fill="url(#a2)" stroke="url(#a2)" stroke-width=".3"/><path d="M179.7 156.9L183.9 155.8 181 153.7z" fill="url(#a3)" stroke="url(#a3)" stroke-width=".3"/><path d="M179.7 156.9L181 153.7 176.8 154.8z" fill="url(#a4)" stroke="url(#a4)" stroke-width=".3"/><path d="M193.3 153.5L199.5 152 196.6 150z" fill="url(#a5)" stroke="url(#a5)" stroke-width=".3"/><path d="M193.3 153.5L196.6 150 190.4 151.5z" fill="url(#a6)" stroke="url(#a6)" stroke-width=".3"/><path d="M199.5 152L205.6 150.5 202.6 148.5z" fill="url(#a7)" stroke="url(#a7)" stroke-width=".3"/><path d="M199.5 152L202.6 148.5 196.6 150z" fill="url(#a8)" stroke="url(#a8)" stroke-width=".3"/><path d="M222.4 146.4L232.3 143.9 229.1 142.1z" fill="url(#a9)" stroke="url(#a9)" stroke-width=".3"/><path d="M222.4 146.4L229.1 142.1 219.3 144.5z" fill="url(#a10)" stroke="url(#a10)" stroke-width=".3"/><path d="M232.3 143.9L242.6 141.4 239.4 139.6z" fill="url(#a11)" stroke="url(#a11)" stroke-width=".3"/><path d="M232.3 143.9L239.4 139.6 229.1 142.1z" fill="url(#a12)" stroke="url(#a12)" stroke-width=".3"/><path d="M172.5 155.8L176.8 154.8 174 152.7z" fill="url(#a13)" stroke="url(#a13)" stroke-width=".3"/><path d="M172.5 155.8L174 152.7 169.8 153.7z" fill="url(#a14)" stroke="url(#a14)" stroke-width=".3"/><path d="M176.8 154.8L181 153.7 178.2 151.7z" fill="url(#a15)" stroke="url(#a15)" stroke-width=".3"/><path d="M176.8 154.8L178.2 151.7 174 152.7z" fill="url(#a16)" stroke="url(#a16)" stroke-width=".3"/><path d="M190.4 151.5L196.6 150 193.6 148z" fill="url(#a17)" stroke="url(#a17)" stroke-width=".3"/><path d="M190.4 151.5L193.6 148 187.5 149.5z" fill="url(#a18)" stroke="url(#a18)" stroke-width=".3"/><path d="M196.6 150L202.6 148.5 199.7 146.6z" fill="url(#a19)" stroke="url(#a19)" stroke-width=".3"/><path d="M196.6 150L199.7 146.6 193.6 148z" fill="url(#a20)" stroke="url(#a20)" stroke-width=".3"/><path d="M219.3 144.5L229.1 142.1 226.1 140.2z" fill="url(#a21)" stroke="url(#a21)" stroke-width=".3"/><path d="M219.3 144.5L226.1 140.2 216.2 142.6z" fill="url(#a22)" stroke="url(#a22)" stroke-width=".3"/><path d="M229.1 142.1L239.4 139.6 236.3 137.8z" fill="url(#a23)" stroke="url(#a23)" stroke-width=".3"/><path d="M229.1 142.1L236.3 137.8 226.1 140.2z" fill="url(#a24)" stroke="url(#a24)" stroke-width=".3"/><path d="M169.8 153.7L174 152.7 171.3 150.7z" fill="url(#a25)" stroke="url(#a25)" stroke-width=".3"/><path d="M169.8 153.7L171.3 150.7 167.1 151.7z" fill="url(#a26)" stroke="url(#a26)" stroke-width=".3"/><path d="M174 152.7L178.2 151.7 175.5 149.7z" fill="url(#a27)" stroke="url(#a27)" stroke-width=".3"/><path d="M174 152.7L175.5 149.7 171.3 150.7z" fill="url(#a28)" stroke="url(#a28)" stroke-width=".3"/><path d="M187.5 149.5L193.6 148 190.8 146.1z" fill="url(#a29)" stroke="url(#a29)" stroke-width=".3"/><path d="M187.5 149.5L190.8 146.1 184.7 147.5z" fill="url(#a30)" stroke="url(#a30)" stroke-width=".3"/><path d="M193.6 148L199.7 146.6 196.8 144.7z" fill="url(#a31)" stroke="url(#a31)" stroke-width=".3"/><path d="M193.6 148L196.8 144.7 190.8 146.1z" fill="url(#a32)" stroke="url(#a32)" stroke-width=".3"/><path d="M216.2 142.6L226.1 140.2 223 138.5z" fill="url(#a33)" stroke="url(#a33)" stroke-width=".3"/><path d="M216.2 142.6L223 138.5 213.3 140.8z" fill="url(#a34)" stroke="url(#a34)" stroke-width=".3"/><path d="M226.1 140.2L236.3 137.8 233.2 136.1z" fill="url(#a35)" stroke="url(#a35)" stroke-width=".3"/><path d="M226.1 140.2L233.2 136.1 223 138.5z" fill="url(#a36)" stroke="url(#a36)" stroke-width=".3"/><path d="M167.1 151.7L171.3 150.7 168.6 148.7z" fill="url(#a37)" stroke="url(#a37)" stroke-width=".3"/><path d="M167.1 151.7L168.6 148.7 164.4 149.7z" fill="url(#a38)" stroke="url(#a38)" stroke-width=".3"/><path d="M171.3 150.7L175.5 149.7 172.7 147.7z" fill="url(#a39)" stroke="url(#a39)" stroke-width=".3"/><path d="M171.3 150.7L172.7 147.7 168.6 148.7z" fill="url(#a40)" stroke="url(#a40)" stroke-width=".3"/><path d="M184.7 147.5L190.8 146.1 188 144.2z" fill="url(#a41)" stroke="url(#a41)" stroke-width=".3"/><path d="M184.7 147.5L188 144.2 182 145.6z" fill="url(#a42)" stroke="url(#a42)" stroke-width=".3"/><path d="M190.8 146.1L196.8 144.7 193.9 142.8z" fill="url(#a43)" stroke="url(#a43)" stroke-width=".3"/><path d="M190.8 146.1L193.9 142.8 188 144.2z" fill="url(#a44)" stroke="url(#a44)" stroke-width=".3"/><path d="M213.3 140.8L223 138.5 220 136.7z" fill="url(#a45)" stroke="url(#a45)" stroke-width=".3"/><path d="M213.3 140.8L220 136.7 210.3 139z" fill="url(#a46)" stroke="url(#a46)" stroke-width=".3"/><path d="M223 138.5L233.2 136.1 230.2 134.3z" fill="url(#a47)" stroke="url(#a47)" stroke-width=".3"/><path d="M223 138.5L230.2 134.3 220 136.7z" fill="url(#a48)" stroke="url(#a48)" stroke-width=".3"/><path d="M164.4 149.7L168.6 148.7 165.9 146.7z" fill="url(#a49)" stroke="url(#a49)" stroke-width=".3"/><path d="M164.4 149.7L165.9 146.7 161.8 147.7z" fill="url(#a50)" stroke="url(#a50)" stroke-width=".3"/><path d="M168.6 148.7L172.7 147.7 170.1 145.8z" fill="url(#a51)" stroke="url(#a51)" stroke-width=".3"/><path d="M168.6 148.7L170.1 145.8 165.9 146.7z" fill="url(#a52)" stroke="url(#a52)" stroke-width=".3"/><path d="M182 145.6L188 144.2 185.2 142.3z" fill="url(#a53)" stroke="url(#a53)" stroke-width=".3"/><path d="M182 145.6L185.2 142.3 179.2 143.7z" fill="url(#a54)" stroke="url(#a54)" stroke-width=".3"/><path d="M188 144.2L193.9 142.8 191.1 140.9z" fill="url(#a55)" stroke="url(#a55)" stroke-width=".3"/><path d="M188 144.2L191.1 140.9 185.2 142.3z" fill="url(#a56)" stroke="url(#a56)" stroke-width=".3"/><path d="M210.3 139L220 136.7 217.1 135z" fill="url(#a57)" stroke="url(#a57)" stroke-width=".3"/><path d="M210.3 139L217.1 135 207.4 137.2z" fill="url(#a58)" stroke="url(#a58)" stroke-width=".3"/><path d="M220 136.7L230.2 134.3 227.2 132.6z" fill="url(#a59)" stroke="url(#a59)" stroke-width=".3"/><path d="M220 136.7L227.2 132.6 217.1 135z" fill="url(#a60)" stroke="url(#a60)" stroke-width=".3"/><path d="M161.8 147.7L165.9 146.7 163.4 144.8z" fill="url(#a61)" stroke="url(#a61)" stroke-width=".3"/><path d="M161.8 147.7L163.4 144.8 159.2 145.8z" fill="url(#a62)" stroke="url(#a62)" stroke-width=".3"/><path d="M165.9 146.7L170.1 145.8 167.5 143.9z" fill="url(#a63)" stroke="url(#a63)" stroke-width=".3"/><path d="M165.9 146.7L167.5 143.9 163.4 144.8z" fill="url(#a64)" stroke="url(#a64)" stroke-width=".3"/><path d="M179.2 143.7L185.2 142.3 182.5 140.5z" fill="url(#a65)" stroke="url(#a65)" stroke-width=".3"/><path d="M179.2 143.7L182.5 140.5 176.6 141.8z" fill="url(#a66)" stroke="url(#a66)" stroke-width=".3"/><path d="M185.2 142.3L191.1 140.9 188.4 139.1z" fill="url(#a67)" stroke="url(#a67)" stroke-width=".3"/><path d="M185.2 142.3L188.4 139.1 182.5 140.5z" fill="url(#a68)" stroke="url(#a68)" stroke-width=".3"/><path d="M207.4 137.2L217.1 135 214.2 133.3z" fill="url(#a69)" stroke="url(#a69)" stroke-width=".3"/><path d="M207.4 137.2L214.2 133.3 204.6 135.4z" fill="url(#a70)" stroke="url(#a70)" stroke-width=".3"/><path d="M217.1 135L227.2 132.6 224.3 131z" fill="url(#a71)" stroke="url(#a71)" stroke-width=".3"/><path d="M217.1 135L224.3 131 214.2 133.3z" fill="url(#a72)" stroke="url(#a72)" stroke-width=".3"/><path d="M159.2 145.8L163.4 144.8 160.8 142.9z" fill="url(#a73)" stroke="url(#a73)" stroke-width=".3"/><path d="M159.2 145.8L160.8 142.9 156.7 143.9z" fill="url(#a74)" stroke="url(#a74)" stroke-width=".3"/><path d="M163.4 144.8L167.5 143.9 164.9 142z" fill="url(#a75)" stroke="url(#a75)" stroke-width=".3"/><path d="M163.4 144.8L164.9 142 160.8 142.9z" fill="url(#a76)" stroke="url(#a76)" stroke-width=".3"/><path d="M176.6 141.8L182.5 140.5 179.9 138.7z" fill="url(#a77)" stroke="url(#a77)" stroke-width=".3"/><path d="M176.6 141.8L179.9 138.7 173.9 140z" fill="url(#a78)" stroke="url(#a78)" stroke-width=".3"/><path d="M182.5 140.5L188.4 139.1 185.7 137.4z" fill="url(#a79)" stroke="url(#a79)" stroke-width=".3"/><path d="M182.5 140.5L185.7 137.4 179.9 138.7z" fill="url(#a80)" stroke="url(#a80)" stroke-width=".3"/><path d="M204.6 135.4L214.2 133.3 211.4 131.6z" fill="url(#a81)" stroke="url(#a81)" stroke-width=".3"/><path d="M204.6 135.4L211.4 131.6 201.8 133.7z" fill="url(#a82)" stroke="url(#a82)" stroke-width=".3"/><path d="M214.2 133.3L224.3 131 221.4 129.3z" fill="url(#a83)" stroke="url(#a83)" stroke-width=".3"/><path d="M214.2 133.3L221.4 129.3 211.4 131.6z" fill="url(#a84)" stroke="url(#a84)" stroke-width=".3"/><path d="M156.7 143.9L160.8 142.9 158.3 141.1z" fill="url(#a85)" stroke="url(#a85)" stroke-width=".3"/><path d="M156.7 143.9L158.3 141.1 154.2 142z" fill="url(#a86)" stroke="url(#a86)" stroke-width=".3"/><path d="M160.8 142.9L164.9 142 162.4 140.2z" fill="url(#a87)" stroke="url(#a87)" stroke-width=".3"/><path d="M160.8 142.9L162.4 140.2 158.3 141.1z" fill="url(#a88)" stroke="url(#a88)" stroke-width=".3"/><path d="M173.9 140L179.9 138.7 177.3 136.9z" fill="url(#a89)" stroke="url(#a89)" stroke-width=".3"/><path d="M173.9 140L177.3 136.9 171.4 138.2z" fill="url(#a90)" stroke="url(#a90)" stroke-width=".3"/><path d="M179.9 138.7L185.7 137.4 183.1 135.6z" fill="url(#a91)" stroke="url(#a91)" stroke-width=".3"/><path d="M179.9 138.7L183.1 135.6 177.3 136.9z" fill="url(#a92)" stroke="url(#a92)" stroke-width=".3"/><path d="M201.8 133.7L211.4 131.6 208.6 129.9z" fill="url(#a93)" stroke="url(#a93)" stroke-width=".3"/><path d="M201.8 133.7L208.6 129.9 199.1 132z" fill="url(#a94)" stroke="url(#a94)" stroke-width=".3"/><path d="M211.4 131.6L221.4 129.3 218.5 127.7z" fill="url(#a95)" stroke="url(#a95)" stroke-width=".3"/><path d="M211.4 131.6L218.5 127.7 208.6 129.9z" fill="url(#a96)" stroke="url(#a96)" stroke-width=".3"/><path d="M154.2 142L158.3 141.1 155.9 139.3z" fill="url(#a97)" stroke="url(#a97)" stroke-width=".3"/><path d="M154.2 142L155.9 139.3 151.8 140.2z" fill="url(#a98)" stroke="url(#a98)" stroke-width=".3"/><path d="M158.3 141.1L162.4 140.2 159.9 138.4z" fill="url(#a99)" stroke="url(#a99)" stroke-width=".3"/><path d="M158.3 141.1L159.9 138.4 155.9 139.3z" fill="url(#a100)" stroke="url(#a100)" stroke-width=".3"/><path d="M171.4 138.2L177.3 136.9 174.7 135.2z" fill="url(#a101)" stroke="url(#a101)" stroke-width=".3"/><path d="M171.4 138.2L174.7 135.2 168.8 136.4z" fill="url(#a102)" stroke="url(#a102)" stroke-width=".3"/><path d="M177.3 136.9L183.1 135.6 180.5 133.9z" fill="url(#a103)" stroke="url(#a103)" stroke-width=".3"/><path d="M177.3 136.9L180.5 133.9 174.7 135.2z" fill="url(#a104)" stroke="url(#a104)" stroke-width=".3"/><path d="M199.1 132L208.6 129.9 205.9 128.3z" fill="url(#a105)" stroke="url(#a105)" stroke-width=".3"/><path d="M199.1 132L205.9 128.3 196.4 130.4z" fill="url(#a106)" stroke="url(#a106)" stroke-width=".3"/><path d="M208.6 129.9L218.5 127.7 215.8 126.2z" fill="url(#a107)" stroke="url(#a107)" stroke-width=".3"/><path d="M208.6 129.9L215.8 126.2 205.9 128.3z" fill="url(#a108)" stroke="url(#a108)" stroke-width=".3"/><path d="M151.8 140.2L155.9 139.3 153.4 137.5z" fill="url(#a109)" stroke="url(#a109)" stroke-width=".3"/><path d="M151.8 140.2L153.4 137.5 149.4 138.4z" fill="url(#a110)" stroke="url(#a110)" stroke-width=".3"/><path d="M155.9 139.3L159.9 138.4 157.5 136.6z" fill="url(#a111)" stroke="url(#a111)" stroke-width=".3"/><path d="M155.9 139.3L157.5 136.6 153.4 137.5z" fill="url(#a112)" stroke="url(#a112)" stroke-width=".3"/><path d="M168.8 136.4L174.7 135.2 172.2 133.4z" fill="url(#a113)" stroke="url(#a113)" stroke-width=".3"/><path d="M168.8 136.4L172.2 133.4 166.3 134.7z" fill="url(#a114)" stroke="url(#a114)" stroke-width=".3"/><path d="M174.7 135.2L180.5 133.9 177.9 132.2z" fill="url(#a115)" stroke="url(#a115)" stroke-width=".3"/><path d="M174.7 135.2L177.9 132.2 172.2 133.4z" fill="url(#a116)" stroke="url(#a116)" stroke-width=".3"/><path d="M196.4 130.4L205.9 128.3 203.2 126.7z" fill="url(#a117)" stroke="url(#a117)" stroke-width=".3"/><path d="M196.4 130.4L203.2 126.7 193.8 128.8z" fill="url(#a118)" stroke="url(#a118)" stroke-width=".3"/><path d="M205.9 128.3L215.8 126.2 213 124.6z" fill="url(#a119)" stroke="url(#a119)" stroke-width=".3"/><path d="M205.9 128.3L213 124.6 203.2 126.7z" fill="url(#a120)" stroke="url(#a120)" stroke-width=".3"/><path d="M149.4 138.4L153.4 137.5 151.1 135.7z" fill="url(#a121)" stroke="url(#a121)" stroke-width=".3"/><path d="M149.4 138.4L151.1 135.7 147.1 136.6z" fill="url(#a122)" stroke="url(#a122)" stroke-width=".3"/><path d="M153.4 137.5L157.5 136.6 155.1 134.9z" fill="url(#a123)" stroke="url(#a123)" stroke-width=".3"/><path d="M153.4 137.5L155.1 134.9 151.1 135.7z" fill="url(#a124)" stroke="url(#a124)" stroke-width=".3"/><path d="M166.3 134.7L172.2 133.4 169.7 131.8z" fill="url(#a125)" stroke="url(#a125)" stroke-width=".3"/><path d="M166.3 134.7L169.7 131.8 163.9 133z" fill="url(#a126)" stroke="url(#a126)" stroke-width=".3"/><path d="M172.2 133.4L177.9 132.2 175.4 130.5z" fill="url(#a127)" stroke="url(#a127)" stroke-width=".3"/><path d="M172.2 133.4L175.4 130.5 169.7 131.8z" fill="url(#a128)" stroke="url(#a128)" stroke-width=".3"/><path d="M193.8 128.8L203.2 126.7 200.6 125.2z" fill="url(#a129)" stroke="url(#a129)" stroke-width=".3"/><path d="M193.8 128.8L200.6 125.2 191.2 127.2z" fill="url(#a130)" stroke="url(#a130)" stroke-width=".3"/><path d="M203.2 126.7L213 124.6 210.3 123.1z" fill="url(#a131)" stroke="url(#a131)" stroke-width=".3"/><path d="M203.2 126.7L210.3 123.1 200.6 125.2z" fill="url(#a132)" stroke="url(#a132)" stroke-width=".3"/><path d="M147.1 136.6L151.1 135.7 148.8 134z" fill="url(#a133)" stroke="url(#a133)" stroke-width=".3"/><path d="M147.1 136.6L148.8 134 144.8 134.9z" fill="url(#a134)" stroke="url(#a134)" stroke-width=".3"/><path d="M151.1 135.7L155.1 134.9 152.7 133.2z" fill="url(#a135)" stroke="url(#a135)" stroke-width=".3"/><path d="M151.1 135.7L152.7 133.2 148.8 134z" fill="url(#a136)" stroke="url(#a136)" stroke-width=".3"/><path d="M163.9 133L169.7 131.8 167.2 130.1z" fill="url(#a137)" stroke="url(#a137)" stroke-width=".3"/><path d="M163.9 133L167.2 130.1 161.5 131.3z" fill="url(#a138)" stroke="url(#a138)" stroke-width=".3"/><path d="M169.7 131.8L175.4 130.5 172.9 128.9z" fill="url(#a139)" stroke="url(#a139)" stroke-width=".3"/><path d="M169.7 131.8L172.9 128.9 167.2 130.1z" fill="url(#a140)" stroke="url(#a140)" stroke-width=".3"/><path d="M191.2 127.2L200.6 125.2 198 123.6z" fill="url(#a141)" stroke="url(#a141)" stroke-width=".3"/><path d="M191.2 127.2L198 123.6 188.6 125.6z" fill="url(#a142)" stroke="url(#a142)" stroke-width=".3"/><path d="M200.6 125.2L210.3 123.1 207.7 121.6z" fill="url(#a143)" stroke="url(#a143)" stroke-width=".3"/><path d="M200.6 125.2L207.7 121.6 198 123.6z" fill="url(#a144)" stroke="url(#a144)" stroke-width=".3"/><path d="M144.8 134.9L148.8 134 146.5 132.3z" fill="url(#a145)" stroke="url(#a145)" stroke-width=".3"/><path d="M144.8 134.9L146.5 132.3 142.5 133.2z" fill="url(#a146)" stroke="url(#a146)" stroke-width=".3"/><path d="M148.8 134L152.7 133.2 150.4 131.5z" fill="url(#a147)" stroke="url(#a147)" stroke-width=".3"/><path d="M148.8 134L150.4 131.5 146.5 132.3z" fill="url(#a148)" stroke="url(#a148)" stroke-width=".3"/><path d="M161.5 131.3L167.2 130.1 164.9 128.5z" fill="url(#a149)" stroke="url(#a149)" stroke-width=".3"/><path d="M161.5 131.3L164.9 128.5 159.1 129.7z" fill="url(#a150)" stroke="url(#a150)" stroke-width=".3"/><path d="M167.2 130.1L172.9 128.9 170.5 127.3z" fill="url(#a151)" stroke="url(#a151)" stroke-width=".3"/><path d="M167.2 130.1L170.5 127.3 164.9 128.5z" fill="url(#a152)" stroke="url(#a152)" stroke-width=".3"/><path d="M188.6 125.6L198 123.6 195.4 122.1z" fill="url(#a153)" stroke="url(#a153)" stroke-width=".3"/><path d="M188.6 125.6L195.4 122.1 186.1 124z" fill="url(#a154)" stroke="url(#a154)" stroke-width=".3"/><path d="M198 123.6L207.7 121.6 205.1 120.1z" fill="url(#a155)" stroke="url(#a155)" stroke-width=".3"/><path d="M198 123.6L205.1 120.1 195.4 122.1z" fill="url(#a156)" stroke="url(#a156)" stroke-width=".3"/><path d="M142.5 133.2L146.5 132.3 144.2 130.7z" fill="url(#a157)" stroke="url(#a157)" stroke-width=".3"/><path d="M142.5 133.2L144.2 130.7 140.3 131.5z" fill="url(#a158)" stroke="url(#a158)" stroke-width=".3"/><path d="M146.5 132.3L150.4 131.5 148.1 129.9z" fill="url(#a159)" stroke="url(#a159)" stroke-width=".3"/><path d="M146.5 132.3L148.1 129.9 144.2 130.7z" fill="url(#a160)" stroke="url(#a160)" stroke-width=".3"/><path d="M159.1 129.7L164.9 128.5 162.5 126.9z" fill="url(#a161)" stroke="url(#a161)" stroke-width=".3"/><path d="M159.1 129.7L162.5 126.9 156.8 128.1z" fill="url(#a162)" stroke="url(#a162)" stroke-width=".3"/><path d="M164.9 128.5L170.5 127.3 168.1 125.7z" fill="url(#a163)" stroke="url(#a163)" stroke-width=".3"/><path d="M164.9 128.5L168.1 125.7 162.5 126.9z" fill="url(#a164)" stroke="url(#a164)" stroke-width=".3"/><path d="M186.1 124L195.4 122.1 192.9 120.6z" fill="url(#a165)" stroke="url(#a165)" stroke-width=".3"/><path d="M186.1 124L192.9 120.6 183.6 122.5z" fill="url(#a166)" stroke="url(#a166)" stroke-width=".3"/><path d="M195.4 122.1L205.1 120.1 202.5 118.6z" fill="url(#a167)" stroke="url(#a167)" stroke-width=".3"/><path d="M195.4 122.1L202.5 118.6 192.9 120.6z" fill="url(#a168)" stroke="url(#a168)" stroke-width=".3"/><path d="M140.3 131.5L144.2 130.7 142 129z" fill="url(#a169)" stroke="url(#a169)" stroke-width=".3"/><path d="M140.3 131.5L142 129 138.1 129.8z" fill="url(#a170)" stroke="url(#a170)" stroke-width=".3"/><path d="M144.2 130.7L148.1 129.9 145.9 128.2z" fill="url(#a171)" stroke="url(#a171)" stroke-width=".3"/><path d="M144.2 130.7L145.9 128.2 142 129z" fill="url(#a172)" stroke="url(#a172)" stroke-width=".3"/><path d="M156.8 128.1L162.5 126.9 160.2 125.3z" fill="url(#a173)" stroke="url(#a173)" stroke-width=".3"/><path d="M156.8 128.1L160.2 125.3 154.5 126.5z" fill="url(#a174)" stroke="url(#a174)" stroke-width=".3"/><path d="M162.5 126.9L168.1 125.7 165.8 124.2z" fill="url(#a175)" stroke="url(#a175)" stroke-width=".3"/><path d="M162.5 126.9L165.8 124.2 160.2 125.3z" fill="url(#a176)" stroke="url(#a176)" stroke-width=".3"/><path d="M183.6 122.5L192.9 120.6 190.4 119.1z" fill="url(#a177)" stroke="url(#a177)" stroke-width=".3"/><path d="M183.6 122.5L190.4 119.1 181.2 121z" fill="url(#a178)" stroke="url(#a178)" stroke-width=".3"/><path d="M192.9 120.6L202.5 118.6 200 117.2z" fill="url(#a179)" stroke="url(#a179)" stroke-width=".3"/><path d="M192.9 120.6L200 117.2 190.4 119.1z" fill="url(#a180)" stroke="url(#a180)" stroke-width=".3"/><path d="M138.1 129.8L142 129 139.8 127.4z" fill="url(#a181)" stroke="url(#a181)" stroke-width=".3"/><path d="M138.1 129.8L139.8 127.4 135.9 128.2z" fill="url(#a182)" stroke="url(#a182)" stroke-width=".3"/><path d="M142 129L145.9 128.2 143.7 126.6z" fill="url(#a183)" stroke="url(#a183)" stroke-width=".3"/><path d="M142 129L143.7 126.6 139.8 127.4z" fill="url(#a184)" stroke="url(#a184)" stroke-width=".3"/><path d="M154.5 126.5L160.2 125.3 157.9 123.8z" fill="url(#a185)" stroke="url(#a185)" stroke-width=".3"/><path d="M154.5 126.5L157.9 123.8 152.3 124.9z" fill="url(#a186)" stroke="url(#a186)" stroke-width=".3"/><path d="M160.2 125.3L165.8 124.2 163.5 122.6z" fill="url(#a187)" stroke="url(#a187)" stroke-width=".3"/><path d="M160.2 125.3L163.5 122.6 157.9 123.8z" fill="url(#a188)" stroke="url(#a188)" stroke-width=".3"/><path d="M181.2 121L190.4 119.1 188 117.7z" fill="url(#a189)" stroke="url(#a189)" stroke-width=".3"/><path d="M181.2 121L188 117.7 178.8 119.5z" fill="url(#a190)" stroke="url(#a190)" stroke-width=".3"/><path d="M190.4 119.1L200 117.2 197.5 115.8z" fill="url(#a191)" stroke="url(#a191)" stroke-width=".3"/><path d="M190.4 119.1L197.5 115.8 188 117.7z" fill="url(#a192)" stroke="url(#a192)" stroke-width=".3"/><path d="M135.9 128.2L139.8 127.4 137.7 125.8z" fill="url(#a193)" stroke="url(#a193)" stroke-width=".3"/><path d="M135.9 128.2L137.7 125.8 133.8 126.6z" fill="url(#a194)" stroke="url(#a194)" stroke-width=".3"/><path d="M139.8 127.4L143.7 126.6 141.5 125.1z" fill="url(#a195)" stroke="url(#a195)" stroke-width=".3"/><path d="M139.8 127.4L141.5 125.1 137.7 125.8z" fill="url(#a196)" stroke="url(#a196)" stroke-width=".3"/><path d="M152.3 124.9L157.9 123.8 155.7 122.3z" fill="url(#a197)" stroke="url(#a197)" stroke-width=".3"/><path d="M152.3 124.9L155.7 122.3 150.1 123.4z" fill="url(#a198)" stroke="url(#a198)" stroke-width=".3"/><path d="M157.9 123.8L163.5 122.6 161.2 121.1z" fill="url(#a199)" stroke="url(#a199)" stroke-width=".3"/><path d="M157.9 123.8L161.2 121.1 155.7 122.3z" fill="url(#a200)" stroke="url(#a200)" stroke-width=".3"/><path d="M178.8 119.5L188 117.7 185.6 116.3z" fill="url(#a201)" stroke="url(#a201)" stroke-width=".3"/><path d="M178.8 119.5L185.6 116.3 176.5 118.1z" fill="url(#a202)" stroke="url(#a202)" stroke-width=".3"/><path d="M188 117.7L197.5 115.8 195 114.4z" fill="url(#a203)" stroke="url(#a203)" stroke-width=".3"/><path d="M188 117.7L195 114.4 185.6 116.3z" fill="url(#a204)" stroke="url(#a204)" stroke-width=".3"/><path d="M133.8 126.6L137.7 125.8 135.6 124.3z" fill="url(#a205)" stroke="url(#a205)" stroke-width=".3"/><path d="M133.8 126.6L135.6 124.3 131.7 125z" fill="url(#a206)" stroke="url(#a206)" stroke-width=".3"/><path d="M137.7 125.8L141.5 125.1 139.4 123.5z" fill="url(#a207)" stroke="url(#a207)" stroke-width=".3"/><path d="M137.7 125.8L139.4 123.5 135.6 124.3z" fill="url(#a208)" stroke="url(#a208)" stroke-width=".3"/><path d="M150.1 123.4L155.7 122.3 153.5 120.8z" fill="url(#a209)" stroke="url(#a209)" stroke-width=".3"/><path d="M150.1 123.4L153.5 120.8 147.9 121.9z" fill="url(#a210)" stroke="url(#a210)" stroke-width=".3"/><path d="M155.7 122.3L161.2 121.1 158.9 119.7z" fill="url(#a211)" stroke="url(#a211)" stroke-width=".3"/><path d="M155.7 122.3L158.9 119.7 153.5 120.8z" fill="url(#a212)" stroke="url(#a212)" stroke-width=".3"/><path d="M176.5 118.1L185.6 116.3 183.2 114.9z" fill="url(#a213)" stroke="url(#a213)" stroke-width=".3"/><path d="M176.5 118.1L183.2 114.9 174.1 116.7z" fill="url(#a214)" stroke="url(#a214)" stroke-width=".3"/><path d="M185.6 116.3L195 114.4 192.6 113z" fill="url(#a215)" stroke="url(#a215)" stroke-width=".3"/><path d="M185.6 116.3L192.6 113 183.2 114.9z" fill="url(#a216)" stroke="url(#a216)" stroke-width=".3"/><path d="M131.7 125L135.6 124.3 133.5 122.8z" fill="url(#a217)" stroke="url(#a217)" stroke-width=".3"/><path d="M131.7 125L133.5 122.8 129.7 123.5z" fill="url(#a218)" stroke="url(#a218)" stroke-width=".3"/><path d="M135.6 124.3L139.4 123.5 137.3 122z" fill="url(#a219)" stroke="url(#a219)" stroke-width=".3"/><path d="M135.6 124.3L137.3 122 133.5 122.8z" fill="url(#a220)" stroke="url(#a220)" stroke-width=".3"/><path d="M147.9 121.9L153.5 120.8 151.3 119.3z" fill="url(#a221)" stroke="url(#a221)" stroke-width=".3"/><path d="M147.9 121.9L151.3 119.3 145.7 120.4z" fill="url(#a222)" stroke="url(#a222)" stroke-width=".3"/><path d="M153.5 120.8L158.9 119.7 156.7 118.2z" fill="url(#a223)" stroke="url(#a223)" stroke-width=".3"/><path d="M153.5 120.8L156.7 118.2 151.3 119.3z" fill="url(#a224)" stroke="url(#a224)" stroke-width=".3"/><path d="M174.1 116.7L183.2 114.9 180.9 113.5z" fill="url(#a225)" stroke="url(#a225)" stroke-width=".3"/><path d="M174.1 116.7L180.9 113.5 171.9 115.3z" fill="url(#a226)" stroke="url(#a226)" stroke-width=".3"/><path d="M183.2 114.9L192.6 113 190.3 111.7z" fill="url(#a227)" stroke="url(#a227)" stroke-width=".3"/><path d="M183.2 114.9L190.3 111.7 180.9 113.5z" fill="url(#a228)" stroke="url(#a228)" stroke-width=".3"/><path d="M129.7 123.5L133.5 122.8 131.5 121.2z" fill="url(#a229)" stroke="url(#a229)" stroke-width=".3"/><path d="M129.7 123.5L131.5 121.2 127.7 122z" fill="url(#a230)" stroke="url(#a230)" stroke-width=".3"/><path d="M133.5 122.8L137.3 122 135.3 120.5z" fill="url(#a231)" stroke="url(#a231)" stroke-width=".3"/><path d="M133.5 122.8L135.3 120.5 131.5 121.2z" fill="url(#a232)" stroke="url(#a232)" stroke-width=".3"/><path d="M145.7 120.4L151.3 119.3 149.1 117.8z" fill="url(#a233)" stroke="url(#a233)" stroke-width=".3"/><path d="M145.7 120.4L149.1 117.8 143.6 118.9z" fill="url(#a234)" stroke="url(#a234)" stroke-width=".3"/><path d="M151.3 119.3L156.7 118.2 154.6 116.8z" fill="url(#a235)" stroke="url(#a235)" stroke-width=".3"/><path d="M151.3 119.3L154.6 116.8 149.1 117.8z" fill="url(#a236)" stroke="url(#a236)" stroke-width=".3"/><path d="M171.9 115.3L180.9 113.5 178.6 112.2z" fill="url(#a237)" stroke="url(#a237)" stroke-width=".3"/><path d="M171.9 115.3L178.6 112.2 169.6 113.9z" fill="url(#a238)" stroke="url(#a238)" stroke-width=".3"/><path d="M180.9 113.5L190.3 111.7 187.9 110.3z" fill="url(#a239)" stroke="url(#a239)" stroke-width=".3"/><path d="M180.9 113.5L187.9 110.3 178.6 112.2z" fill="url(#a240)" stroke="url(#a240)" stroke-width=".3"/><path d="M127.7 122L131.5 121.2 129.5 119.8z" fill="url(#a241)" stroke="url(#a241)" stroke-width=".3"/><path d="M127.7 122L129.5 119.8 125.7 120.5z" fill="url(#a242)" stroke="url(#a242)" stroke-width=".3"/><path d="M131.5 121.2L135.3 120.5 133.2 119z" fill="url(#a243)" stroke="url(#a243)" stroke-width=".3"/><path d="M131.5 121.2L133.2 119 129.5 119.8z" fill="url(#a244)" stroke="url(#a244)" stroke-width=".3"/><path d="M143.6 118.9L149.1 117.8 147 116.4z" fill="url(#a245)" stroke="url(#a245)" stroke-width=".3"/><path d="M143.6 118.9L147 116.4 141.6 117.5z" fill="url(#a246)" stroke="url(#a246)" stroke-width=".3"/><path d="M149.1 117.8L154.6 116.8 152.4 115.4z" fill="url(#a247)" stroke="url(#a247)" stroke-width=".3"/><path d="M149.1 117.8L152.4 115.4 147 116.4z" fill="url(#a248)" stroke="url(#a248)" stroke-width=".3"/><path d="M169.6 113.9L178.6 112.2 176.3 110.8z" fill="url(#a249)" stroke="url(#a249)" stroke-width=".3"/><path d="M169.6 113.9L176.3 110.8 167.4 112.5z" fill="url(#a250)" stroke="url(#a250)" stroke-width=".3"/><path d="M178.6 112.2L187.9 110.3 185.6 109z" fill="url(#a251)" stroke="url(#a251)" stroke-width=".3"/><path d="M178.6 112.2L185.6 109 176.3 110.8z" fill="url(#a252)" stroke="url(#a252)" stroke-width=".3"/><path d="M125.7 120.5L129.5 119.8 127.5 118.3z" fill="url(#a253)" stroke="url(#a253)" stroke-width=".3"/><path d="M125.7 120.5L127.5 118.3 123.7 119z" fill="url(#a254)" stroke="url(#a254)" stroke-width=".3"/><path d="M129.5 119.8L133.2 119 131.2 117.6z" fill="url(#a255)" stroke="url(#a255)" stroke-width=".3"/><path d="M129.5 119.8L131.2 117.6 127.5 118.3z" fill="url(#a256)" stroke="url(#a256)" stroke-width=".3"/><path d="M141.6 117.5L147 116.4 145 115z" fill="url(#a257)" stroke="url(#a257)" stroke-width=".3"/><path d="M141.6 117.5L145 115 139.5 116z" fill="url(#a258)" stroke="url(#a258)" stroke-width=".3"/><path d="M147 116.4L152.4 115.4 150.3 114z" fill="url(#a259)" stroke="url(#a259)" stroke-width=".3"/><path d="M147 116.4L150.3 114 145 115z" fill="url(#a260)" stroke="url(#a260)" stroke-width=".3"/><path d="M167.4 112.5L176.3 110.8 174.1 109.5z" fill="url(#a261)" stroke="url(#a261)" stroke-width=".3"/><path d="M167.4 112.5L174.1 109.5 165.2 111.2z" fill="url(#a262)" stroke="url(#a262)" stroke-width=".3"/><path d="M176.3 110.8L185.6 109 183.4 107.7z" fill="url(#a263)" stroke="url(#a263)" stroke-width=".3"/><path d="M176.3 110.8L183.4 107.7 174.1 109.5z" fill="url(#a264)" stroke="url(#a264)" stroke-width=".3"/><path d="M169.9 159.3L119 119.9M188.8 154.6L135.5 116.8M211.4 149.1L155.5 113M249.4 139.7L189.5 106.6" stroke="#fff" stroke-width="1.3"/><path d="M152.8 107.9 L103.3 76.6 L193.9 64 L255.6 89.2z" fill="#7010c8"/><path d="M169.9 104.8L118.1 74.6M189.2 101.3L134.9 72.2M212.3 97.1L155.3 69.4M251 90L189.8 64.6" stroke="#ffc0b0" stroke-width="1.2"/><path d="M152.8 107.9h0M155.4 107.5h0M158 107h0M160.5 106.5h0M163 106.1h0M165.6 105.6h0M168.1 105.2h0M170.5 104.7h0M173 104.3h0M175.5 103.8h0M185.2 102h0M187.6 101.6h0M190 101.2h0M192.3 100.7h0M208.5 97.8h0M210.8 97.4h0M213 96.9h0M215.3 96.5h0M217.5 96.1h0M219.7 95.7h0M221.9 95.3h0M239.1 92.2h0M241.2 91.8h0M243.3 91.4h0M245.3 91h0M247.4 90.7h0M249.5 90.3h0M251.5 89.9h0M253.5 89.5h0M255.6 89.2h0M150.8 106.7h0M153.4 106.2h0M155.9 105.8h0M158.5 105.3h0M161 104.8h0M163.5 104.4h0M166 103.9h0M168.5 103.5h0M170.9 103h0M173.4 102.6h0M183 100.9h0M185.4 100.4h0M187.8 100h0M190.1 99.6h0M204 97.1h0M206.2 96.7h0M208.5 96.2h0M210.7 95.8h0M213 95.4h0M215.2 95h0M217.4 94.6h0M219.6 94.2h0M236.7 91.1h0M238.8 90.8h0M240.9 90.4h0M242.9 90h0M245 89.6h0M247 89.3h0M249.1 88.9h0M251.1 88.5h0M253.1 88.2h0M148.8 105.4h0M151.4 105h0M153.9 104.5h0M156.4 104.1h0M159 103.6h0M161.4 103.2h0M163.9 102.7h0M166.4 102.3h0M168.8 101.8h0M171.3 101.4h0M180.9 99.7h0M183.3 99.3h0M185.6 98.8h0M188 98.4h0M201.8 96h0M204 95.6h0M206.3 95.2h0M208.5 94.8h0M210.7 94.4h0M212.9 94h0M215.1 93.6h0M217.3 93.2h0M234.3 90.1h0M236.4 89.8h0M238.5 89.4h0M240.6 89h0M242.6 88.6h0M244.7 88.3h0M246.7 87.9h0M248.7 87.6h0M250.7 87.2h0M146.9 104.2h0M149.4 103.7h0M152 103.3h0M154.5 102.9h0M157 102.4h0M159.4 102h0M161.9 101.5h0M164.4 101.1h0M166.8 100.7h0M169.2 100.2h0M178.8 98.5h0M181.2 98.1h0M183.5 97.7h0M185.8 97.3h0M201.8 94.5h0M204 94.1h0M206.3 93.7h0M208.5 93.3h0M210.7 92.9h0M212.9 92.5h0M215 92.1h0M232 89.1h0M234.1 88.7h0M236.2 88.4h0M238.2 88h0M240.3 87.7h0M242.3 87.3h0M244.3 86.9h0M246.3 86.6h0M248.3 86.2h0M145 103h0M147.5 102.5h0M150 102.1h0M152.5 101.7h0M155 101.2h0M157.5 100.8h0M159.9 100.4h0M162.4 99.9h0M164.8 99.5h0M167.2 99.1h0M176.7 97.4h0M179.1 97h0M181.4 96.6h0M183.7 96.2h0M197.4 93.8h0M199.6 93.4h0M201.9 93h0M204.1 92.6h0M206.3 92.2h0M208.5 91.8h0M210.6 91.5h0M212.8 91.1h0M229.7 88.1h0M231.8 87.7h0M233.9 87.4h0M235.9 87h0M237.9 86.7h0M240 86.3h0M242 86h0M244 85.6h0M246 85.3h0M143.1 101.8h0M145.6 101.4h0M148.1 100.9h0M150.6 100.5h0M153 100.1h0M155.5 99.6h0M157.9 99.2h0M160.4 98.8h0M162.8 98.4h0M165.2 97.9h0M174.7 96.3h0M177 95.9h0M179.3 95.5h0M181.7 95.1h0M195.3 92.7h0M197.5 92.3h0M199.7 91.9h0M201.9 91.6h0M204.1 91.2h0M206.3 90.8h0M208.5 90.4h0M210.6 90.1h0M227.5 87.1h0M229.5 86.8h0M231.6 86.4h0M233.6 86.1h0M235.6 85.7h0M237.7 85.4h0M239.7 85h0M241.7 84.7h0M243.7 84.3h0M141.2 100.6h0M143.7 100.2h0M146.2 99.8h0M148.7 99.3h0M151.1 98.9h0M153.6 98.5h0M156 98.1h0M158.4 97.6h0M160.8 97.2h0M163.2 96.8h0M172.7 95.2h0M175 94.8h0M177.3 94.4h0M179.6 94h0M193.2 91.7h0M195.4 91.3h0M197.6 90.9h0M199.8 90.5h0M202 90.2h0M204.1 89.8h0M206.3 89.4h0M208.4 89h0M225.2 86.2h0M227.3 85.8h0M229.3 85.4h0M231.4 85.1h0M233.4 84.8h0M235.4 84.4h0M237.4 84.1h0M239.4 83.7h0M241.4 83.4h0M139.4 99.4h0M141.9 99h0M144.3 98.6h0M146.8 98.2h0M149.2 97.8h0M151.7 97.4h0M154.1 96.9h0M156.5 96.5h0M158.9 96.1h0M161.3 95.7h0M170.7 94.1h0M173 93.7h0M175.3 93.3h0M177.6 92.9h0M193.3 90.3h0M195.5 89.9h0M197.7 89.5h0M199.9 89.1h0M202 88.8h0M204.2 88.4h0M206.3 88h0M223 85.2h0M225.1 84.8h0M227.1 84.5h0M229.1 84.2h0M231.2 83.8h0M233.2 83.5h0M235.1 83.1h0M237.1 82.8h0M239.1 82.5h0M137.6 98.3h0M140 97.9h0M142.5 97.5h0M145 97.1h0M147.4 96.6h0M149.8 96.2h0M152.2 95.8h0M154.6 95.4h0M157 95h0M159.4 94.6h0M168.7 93h0M171 92.7h0M173.3 92.3h0M175.6 91.9h0M189 89.6h0M191.2 89.2h0M193.4 88.9h0M195.6 88.5h0M197.8 88.1h0M199.9 87.8h0M202.1 87.4h0M204.2 87.1h0M220.9 84.2h0M222.9 83.9h0M224.9 83.6h0M226.9 83.2h0M228.9 82.9h0M230.9 82.5h0M232.9 82.2h0M234.9 81.9h0M236.9 81.5h0M135.8 97.2h0M138.2 96.8h0M140.7 96.3h0M143.1 95.9h0M145.6 95.5h0M148 95.1h0M150.4 94.7h0M152.7 94.3h0M155.1 93.9h0M157.5 93.5h0M166.8 92h0M169.1 91.6h0M171.4 91.2h0M173.6 90.8h0M187 88.6h0M189.2 88.2h0M191.4 87.9h0M193.5 87.5h0M195.7 87.2h0M197.9 86.8h0M200 86.4h0M202.1 86.1h0M218.7 83.3h0M220.7 83h0M222.8 82.6h0M224.8 82.3h0M226.8 82h0M228.8 81.6h0M230.7 81.3h0M232.7 81h0M234.7 80.6h0M134 96.1h0M136.5 95.7h0M138.9 95.2h0M141.3 94.8h0M143.7 94.4h0M146.1 94h0M148.5 93.7h0M150.9 93.3h0M153.3 92.9h0M155.6 92.5h0M164.9 90.9h0M167.2 90.6h0M169.4 90.2h0M171.7 89.8h0M185 87.6h0M187.2 87.3h0M189.4 86.9h0M191.5 86.5h0M193.7 86.2h0M195.8 85.8h0M197.9 85.5h0M200.1 85.1h0M216.6 82.4h0M218.6 82h0M220.6 81.7h0M222.6 81.4h0M224.6 81.1h0M226.6 80.7h0M228.6 80.4h0M230.5 80.1h0M232.5 79.8h0M132.3 95h0M134.7 94.6h0M137.1 94.2h0M139.6 93.8h0M142 93.4h0M144.3 93h0M146.7 92.6h0M149.1 92.2h0M151.4 91.8h0M153.8 91.4h0M163 89.9h0M165.3 89.5h0M167.5 89.2h0M169.8 88.8h0M185.2 86.3h0M187.4 85.9h0M189.5 85.6h0M191.7 85.2h0M193.8 84.9h0M195.9 84.5h0M198 84.2h0M214.5 81.5h0M216.5 81.1h0M218.5 80.8h0M220.5 80.5h0M222.5 80.2h0M224.5 79.8h0M226.4 79.5h0M228.4 79.2h0M230.3 78.9h0M130.6 93.9h0M133 93.5h0M135.4 93.1h0M137.8 92.7h0M140.2 92.3h0M142.6 91.9h0M144.9 91.5h0M147.3 91.2h0M149.6 90.8h0M151.9 90.4h0M161.1 88.9h0M163.4 88.5h0M165.6 88.2h0M167.9 87.8h0M181.1 85.7h0M183.3 85.3h0M185.4 85h0M187.6 84.6h0M189.7 84.3h0M191.8 83.9h0M193.9 83.6h0M196 83.2h0M212.4 80.6h0M214.4 80.2h0M216.4 79.9h0M218.4 79.6h0M220.4 79.3h0M222.4 79h0M224.3 78.6h0M226.3 78.3h0M228.2 78h0M128.9 92.8h0M131.3 92.4h0M133.7 92h0M136.1 91.6h0M138.5 91.3h0M140.8 90.9h0M143.2 90.5h0M145.5 90.1h0M147.8 89.7h0M150.2 89.4h0M159.3 87.9h0M161.5 87.5h0M163.8 87.2h0M166 86.8h0M179.2 84.7h0M181.3 84.4h0M183.5 84h0M185.6 83.7h0M187.7 83.3h0M189.8 83h0M191.9 82.6h0M194 82.3h0M210.4 79.7h0M212.4 79.4h0M214.4 79h0M216.4 78.7h0M218.3 78.4h0M220.3 78.1h0M222.2 77.8h0M224.2 77.5h0M226.1 77.1h0M127.2 91.7h0M129.6 91.4h0M132 91h0M134.4 90.6h0M136.7 90.2h0M139.1 89.9h0M141.4 89.5h0M143.8 89.1h0M146.1 88.7h0M148.4 88.4h0M157.5 86.9h0M159.7 86.6h0M162 86.2h0M164.2 85.8h0M177.3 83.8h0M179.4 83.4h0M181.6 83.1h0M183.7 82.7h0M185.8 82.4h0M187.9 82.1h0M190 81.7h0M192.1 81.4h0M208.4 78.8h0M210.4 78.5h0M212.3 78.2h0M214.3 77.8h0M216.3 77.5h0M218.2 77.2h0M220.2 76.9h0M222.1 76.6h0M224 76.3h0M125.6 90.7h0M128 90.3h0M130.3 90h0M132.7 89.6h0M135.1 89.2h0M137.4 88.8h0M139.7 88.5h0M142 88.1h0M144.3 87.7h0M146.6 87.4h0M155.7 85.9h0M157.9 85.6h0M160.2 85.2h0M162.4 84.9h0M175.4 82.8h0M177.5 82.5h0M179.7 82.2h0M181.8 81.8h0M183.9 81.5h0M186 81.2h0M188.1 80.8h0M190.1 80.5h0M206.4 77.9h0M208.4 77.6h0M210.3 77.3h0M212.3 77h0M214.3 76.7h0M216.2 76.4h0M218.1 76.1h0M220.1 75.8h0M222 75.5h0M123.9 89.7h0M126.3 89.3h0M128.7 88.9h0M131 88.6h0M133.4 88.2h0M135.7 87.8h0M138 87.5h0M140.3 87.1h0M142.6 86.8h0M144.9 86.4h0M153.9 85h0M156.2 84.6h0M158.4 84.3h0M160.6 83.9h0M173.6 81.9h0M175.7 81.6h0M177.8 81.2h0M179.9 80.9h0M182 80.6h0M184.1 80.3h0M186.2 79.9h0M188.2 79.6h0M204.4 77.1h0M206.4 76.8h0M208.3 76.5h0M210.3 76.1h0M212.3 75.8h0M214.2 75.5h0M216.1 75.2h0M218 74.9h0M220 74.6h0M122.3 88.7h0M124.7 88.3h0M127.1 87.9h0M129.4 87.6h0M131.7 87.2h0M134.1 86.8h0M136.4 86.5h0M138.7 86.1h0M140.9 85.8h0M143.2 85.4h0M152.2 84h0M154.4 83.7h0M156.6 83.3h0M158.8 83h0M173.9 80.7h0M176 80.3h0M178.1 80h0M180.2 79.7h0M182.2 79.4h0M184.3 79h0M186.4 78.7h0M202.5 76.2h0M204.4 75.9h0M206.4 75.6h0M208.3 75.3h0M210.3 75h0M212.2 74.7h0M214.1 74.4h0M216.1 74.1h0M218 73.8h0M120.8 87.7h0M123.1 87.3h0M125.5 86.9h0M127.8 86.6h0M130.1 86.2h0M132.4 85.9h0M134.7 85.5h0M137 85.2h0M139.3 84.8h0M141.5 84.5h0M150.5 83.1h0M152.7 82.8h0M154.9 82.4h0M157.1 82.1h0M172 79.8h0M174.1 79.4h0M176.2 79.1h0M178.3 78.8h0M180.4 78.5h0M182.4 78.2h0M184.5 77.9h0M200.5 75.4h0M202.5 75.1h0M204.5 74.8h0M206.4 74.5h0M208.3 74.2h0M210.3 73.9h0M212.2 73.6h0M214.1 73.3h0M216 73h0M119.2 86.7h0M121.5 86.3h0M123.9 86h0M126.2 85.6h0M128.5 85.3h0M130.8 84.9h0M133.1 84.6h0M135.4 84.2h0M137.6 83.9h0M139.9 83.5h0M148.8 82.2h0M151 81.8h0M153.2 81.5h0M155.3 81.2h0M168.2 79.2h0M170.3 78.9h0M172.3 78.6h0M174.4 78.3h0M176.5 77.9h0M178.6 77.6h0M180.6 77.3h0M182.7 77h0M198.6 74.6h0M200.6 74.3h0M202.5 74h0M204.5 73.7h0M206.4 73.4h0M208.3 73.1h0M210.2 72.8h0M212.1 72.5h0M214 72.2h0M117.7 85.7h0M120 85.4h0M122.3 85h0M124.6 84.7h0M126.9 84.3h0M129.2 84h0M131.5 83.6h0M133.7 83.3h0M136 82.9h0M138.2 82.6h0M147.1 81.3h0M149.3 80.9h0M151.5 80.6h0M153.6 80.3h0M166.4 78.3h0M168.5 78h0M170.6 77.7h0M172.6 77.4h0M174.7 77.1h0M176.8 76.8h0M178.8 76.5h0M180.8 76.1h0M196.8 73.7h0M198.7 73.4h0M200.6 73.2h0M202.6 72.9h0M204.5 72.6h0M206.4 72.3h0M208.3 72h0M210.2 71.7h0M212.1 71.4h0M116.1 84.7h0M118.5 84.4h0M120.8 84h0M123.1 83.7h0M125.4 83.4h0M127.6 83h0M129.9 82.7h0M132.2 82.3h0M134.4 82h0M136.6 81.7h0M145.4 80.3h0M147.6 80h0M149.8 79.7h0M151.9 79.4h0M164.7 77.5h0M166.7 77.2h0M168.8 76.8h0M170.9 76.5h0M172.9 76.2h0M175 75.9h0M177 75.6h0M179 75.3h0M194.9 72.9h0M196.8 72.6h0M198.8 72.3h0M200.7 72.1h0M202.6 71.8h0M204.5 71.5h0M206.4 71.2h0M208.3 70.9h0M210.2 70.6h0M114.6 83.8h0M116.9 83.5h0M119.2 83.1h0M121.5 82.8h0M123.8 82.4h0M126.1 82.1h0M128.3 81.8h0M130.6 81.4h0M132.8 81.1h0M135 80.8h0M143.8 79.5h0M146 79.1h0M148.1 78.8h0M150.3 78.5h0M162.9 76.6h0M165 76.3h0M167.1 76h0M169.1 75.7h0M171.2 75.4h0M173.2 75.1h0M175.3 74.8h0M177.3 74.5h0M193.1 72.1h0M195 71.8h0M196.9 71.6h0M198.8 71.3h0M200.8 71h0M202.7 70.7h0M204.5 70.4h0M206.4 70.1h0M208.3 69.9h0M113.1 82.9h0M115.4 82.5h0M117.7 82.2h0M120 81.8h0M122.3 81.5h0M124.5 81.2h0M126.8 80.8h0M129 80.5h0M131.2 80.2h0M133.5 79.9h0M142.2 78.6h0M144.4 78.3h0M146.5 77.9h0M148.6 77.6h0M161.2 75.8h0M163.3 75.5h0M165.4 75.2h0M167.4 74.9h0M169.5 74.6h0M171.5 74.3h0M173.5 74h0M175.5 73.7h0M191.3 71.3h0M193.2 71.1h0M195.1 70.8h0M197 70.5h0M198.9 70.2h0M200.8 69.9h0M202.7 69.7h0M204.6 69.4h0M206.4 69.1h0M111.7 81.9h0M114 81.6h0M116.3 81.3h0M118.5 80.9h0M120.8 80.6h0M123 80.3h0M125.3 79.9h0M127.5 79.6h0M129.7 79.3h0M131.9 79h0M140.6 77.7h0M142.7 77.4h0M144.9 77.1h0M147 76.8h0M159.6 74.9h0M161.6 74.6h0M163.7 74.3h0M165.7 74h0M167.8 73.7h0M169.8 73.4h0M171.8 73.1h0M173.8 72.9h0M189.5 70.6h0M191.4 70.3h0M193.3 70h0M195.2 69.7h0M197.1 69.4h0M199 69.2h0M200.9 68.9h0M202.7 68.6h0M204.6 68.3h0M110.2 81h0M112.5 80.7h0M114.8 80.4h0M117 80h0M119.3 79.7h0M121.5 79.4h0M123.8 79.1h0M126 78.7h0M128.2 78.4h0M130.4 78.1h0M139 76.8h0M141.2 76.5h0M143.3 76.2h0M145.4 75.9h0M160 73.8h0M162 73.5h0M164 73.2h0M166.1 72.9h0M168.1 72.6h0M170.1 72.3h0M172.1 72.1h0M187.7 69.8h0M189.6 69.5h0M191.5 69.2h0M193.4 69h0M195.3 68.7h0M197.2 68.4h0M199 68.1h0M200.9 67.9h0M202.8 67.6h0M108.8 80.1h0M111.1 79.8h0M113.3 79.5h0M115.6 79.1h0M117.8 78.8h0M120 78.5h0M122.3 78.2h0M124.5 77.9h0M126.7 77.6h0M128.8 77.2h0M137.5 76h0M139.6 75.7h0M141.7 75.4h0M143.8 75.1h0M158.3 73h0M160.4 72.7h0M162.4 72.4h0M164.4 72.1h0M166.4 71.8h0M168.4 71.5h0M170.4 71.3h0M185.9 69h0M187.9 68.8h0M189.7 68.5h0M191.6 68.2h0M193.5 67.9h0M195.4 67.7h0M197.3 67.4h0M199.1 67.1h0M201 66.9h0M107.4 79.2h0M109.7 78.9h0M111.9 78.6h0M114.1 78.3h0M116.4 77.9h0M118.6 77.6h0M120.8 77.3h0M123 77h0M125.2 76.7h0M127.3 76.4h0M135.9 75.2h0M138.1 74.9h0M140.2 74.6h0M142.3 74.3h0M156.7 72.2h0M158.7 71.9h0M160.7 71.6h0M162.7 71.3h0M164.7 71h0M166.7 70.8h0M168.7 70.5h0M184.2 68.3h0M186.1 68h0M188 67.7h0M189.9 67.5h0M191.8 67.2h0M193.6 66.9h0M195.5 66.7h0M197.3 66.4h0M199.2 66.1h0M106 78.3h0M108.3 78h0M110.5 77.7h0M112.7 77.4h0M114.9 77.1h0M117.1 76.8h0M119.3 76.5h0M121.5 76.2h0M123.7 75.8h0M125.9 75.5h0M134.4 74.3h0M136.5 74h0M138.6 73.7h0M140.7 73.4h0M153.1 71.7h0M155.1 71.4h0M157.1 71.1h0M159.1 70.8h0M161.1 70.6h0M163.1 70.3h0M165.1 70h0M167.1 69.7h0M182.5 67.5h0M184.4 67.3h0M186.3 67h0M188.2 66.7h0M190 66.5h0M191.9 66.2h0M193.7 65.9h0M195.6 65.7h0M197.4 65.4h0M104.6 77.5h0M106.9 77.2h0M109.1 76.8h0M111.3 76.5h0M113.5 76.2h0M115.7 75.9h0M117.9 75.6h0M120.1 75.3h0M122.2 75h0M124.4 74.7h0M132.9 73.5h0M135 73.2h0M137.1 72.9h0M139.2 72.6h0M151.5 70.9h0M153.5 70.6h0M155.5 70.3h0M157.5 70.1h0M159.5 69.8h0M161.5 69.5h0M163.5 69.2h0M165.4 68.9h0M180.8 66.8h0M182.7 66.5h0M184.6 66.3h0M186.4 66h0M188.3 65.7h0M190.2 65.5h0M192 65.2h0M193.8 65h0M195.7 64.7h0M103.3 76.6h0M105.5 76.3h0M107.7 76h0M109.9 75.7h0M112.1 75.4h0M114.3 75.1h0M116.5 74.8h0M118.6 74.5h0M120.8 74.2h0M122.9 73.9h0M131.4 72.7h0M133.5 72.4h0M135.6 72.1h0M137.7 71.8h0M149.9 70.1h0M151.9 69.8h0M153.9 69.6h0M155.9 69.3h0M157.9 69h0M159.9 68.7h0M161.9 68.5h0M163.8 68.2h0M179.1 66.1h0M181 65.8h0M182.9 65.5h0M184.8 65.3h0M186.6 65h0M188.5 64.8h0M190.3 64.5h0M192.1 64.3h0M193.9 64h0" stroke="#f02828" stroke-width="1.24" stroke-linecap="round"/><path d="M176.5 34.6L180.8 67.1 178.5 66.1z" fill="url(#a265)" stroke="url(#a265)" stroke-width=".3"/><path d="M176.5 34.6L178.5 66.1 174.2 33.4z" fill="url(#a266)" stroke="url(#a266)" stroke-width=".3"/><circle cx="174.2" cy="33.4" r="0.62" fill="#f02828"/><path d="M167.8 69L174.2 33.4 165.6 67.9z" fill="url(#a267)" stroke="url(#a267)" stroke-width=".3"/><path d="M178.9 35L183.1 68.2 180.8 67.1z" fill="url(#a268)" stroke="url(#a268)" stroke-width=".3"/><path d="M167.8 69L176.5 34.6 174.2 33.4z" fill="url(#a269)" stroke="url(#a269)" stroke-width=".3"/><path d="M178.9 35L180.8 67.1 176.5 34.6z" fill="url(#a270)" stroke="url(#a270)" stroke-width=".3"/><circle cx="176.5" cy="34.6" r="0.62" fill="#f02828"/><path d="M170.1 70L176.5 34.6 167.8 69z" fill="url(#a271)" stroke="url(#a271)" stroke-width=".3"/><path d="M181.2 35.5L185.5 69.2 183.1 68.2z" fill="url(#a272)" stroke="url(#a272)" stroke-width=".3"/><path d="M170.1 70L178.9 35 176.5 34.6z" fill="url(#a273)" stroke="url(#a273)" stroke-width=".3"/><path d="M181.2 35.5L183.1 68.2 178.9 35z" fill="url(#a274)" stroke="url(#a274)" stroke-width=".3"/><circle cx="178.9" cy="35" r="0.62" fill="#f02828"/><path d="M172.4 71.1L178.9 35 170.1 70z" fill="url(#a275)" stroke="url(#a275)" stroke-width=".3"/><path d="M183.6 36.3L187.9 70.2 185.5 69.2z" fill="url(#a276)" stroke="url(#a276)" stroke-width=".3"/><path d="M172.4 71.1L181.2 35.5 178.9 35z" fill="url(#a277)" stroke="url(#a277)" stroke-width=".3"/><path d="M183.6 36.3L185.5 69.2 181.2 35.5z" fill="url(#a278)" stroke="url(#a278)" stroke-width=".3"/><circle cx="181.2" cy="35.5" r="0.62" fill="#f02828"/><path d="M174.7 72.1L181.2 35.5 172.4 71.1z" fill="url(#a279)" stroke="url(#a279)" stroke-width=".3"/><path d="M186.1 37.6L190.3 71.3 187.9 70.2z" fill="url(#a280)" stroke="url(#a280)" stroke-width=".3"/><path d="M146 52.5L152.2 71.2 150 70.1z" fill="url(#a281)" stroke="url(#a281)" stroke-width=".3"/><path d="M174.7 72.1L183.6 36.3 181.2 35.5z" fill="url(#a282)" stroke="url(#a282)" stroke-width=".3"/><path d="M186.1 37.6L187.9 70.2 183.6 36.3z" fill="url(#a283)" stroke="url(#a283)" stroke-width=".3"/><path d="M146 52.5L150 70.1 143.8 38.5z" fill="url(#a284)" stroke="url(#a284)" stroke-width=".3"/><circle cx="183.6" cy="36.3" r="0.62" fill="#f02828"/><path d="M177 73.2L183.6 36.3 174.7 72.1z" fill="url(#a285)" stroke="url(#a285)" stroke-width=".3"/><path d="M188.5 38.2L192.8 72.4 190.3 71.3z" fill="url(#a286)" stroke="url(#a286)" stroke-width=".3"/><path d="M140.2 72.9L143.8 38.5 138.1 71.8z" fill="url(#a287)" stroke="url(#a287)" stroke-width=".3"/><circle cx="143.8" cy="38.5" r="0.62" fill="#f02828"/><path d="M148.1 37L154.3 72.3 152.2 71.2z" fill="url(#a288)" stroke="url(#a288)" stroke-width=".3"/><path d="M177 73.2L186.1 37.6 183.6 36.3z" fill="url(#a289)" stroke="url(#a289)" stroke-width=".3"/><path d="M140.2 72.9L146 52.5 143.8 38.5z" fill="url(#a290)" stroke="url(#a290)" stroke-width=".3"/><path d="M188.5 38.2L190.3 71.3 186.1 37.6z" fill="url(#a291)" stroke="url(#a291)" stroke-width=".3"/><path d="M148.1 37L152.2 71.2 146 52.5z" fill="url(#a292)" stroke="url(#a292)" stroke-width=".3"/><circle cx="146" cy="52.5" r="0.62" fill="#f02828"/><circle cx="186.1" cy="37.6" r="0.62" fill="#f02828"/><path d="M142.3 74L146 52.5 140.2 72.9z" fill="url(#a293)" stroke="url(#a293)" stroke-width=".3"/><path d="M179.4 74.4L186.1 37.6 177 73.2z" fill="url(#a294)" stroke="url(#a294)" stroke-width=".3"/><path d="M191.1 39.2L195.3 73.5 192.8 72.4z" fill="url(#a295)" stroke="url(#a295)" stroke-width=".3"/><path d="M150.3 38.1L156.5 73.3 154.3 72.3z" fill="url(#a296)" stroke="url(#a296)" stroke-width=".3"/><circle cx="126.7" cy="66.4" r="0.62" fill="#f02828"/><path d="M179.4 74.4L188.5 38.2 186.1 37.6z" fill="url(#a297)" stroke="url(#a297)" stroke-width=".3"/><path d="M191.1 39.2L192.8 72.4 188.5 38.2z" fill="url(#a298)" stroke="url(#a298)" stroke-width=".3"/><path d="M128.7 67.9L130.6 72.8 126.7 66.4z" fill="url(#a299)" stroke="url(#a299)" stroke-width=".3"/><path d="M142.3 74L148.1 37 146 52.5z" fill="url(#a300)" stroke="url(#a300)" stroke-width=".3"/><path d="M128.7 67.9L132.6 73.9 130.6 72.8z" fill="url(#a301)" stroke="url(#a301)" stroke-width=".3"/><path d="M150.3 38.1L154.3 72.3 148.1 37z" fill="url(#a302)" stroke="url(#a302)" stroke-width=".3"/><path d="M124.9 75L126.7 66.4 122.9 73.9z" fill="url(#a303)" stroke="url(#a303)" stroke-width=".3"/><circle cx="188.5" cy="38.2" r="0.62" fill="#f02828"/><path d="M181.9 75.5L188.5 38.2 179.4 74.4z" fill="url(#a304)" stroke="url(#a304)" stroke-width=".3"/><path d="M193.6 39.9L197.8 74.6 195.3 73.5z" fill="url(#a305)" stroke="url(#a305)" stroke-width=".3"/><path d="M144.4 75.1L148.1 37 142.3 74z" fill="url(#a306)" stroke="url(#a306)" stroke-width=".3"/><path d="M124.9 75L128.7 67.9 126.7 66.4z" fill="url(#a307)" stroke="url(#a307)" stroke-width=".3"/><path d="M152.5 39.6L158.8 74.5 156.5 73.3z" fill="url(#a308)" stroke="url(#a308)" stroke-width=".3"/><circle cx="148.1" cy="37" r="0.62" fill="#f02828"/><circle cx="128.7" cy="67.9" r="0.62" fill="#f02828"/><path d="M181.9 75.5L191.1 39.2 188.5 38.2z" fill="url(#a309)" stroke="url(#a309)" stroke-width=".3"/><path d="M130.7 69.8L132.6 73.9 128.7 67.9z" fill="url(#a310)" stroke="url(#a310)" stroke-width=".3"/><path d="M193.6 39.9L195.3 73.5 191.1 39.2z" fill="url(#a311)" stroke="url(#a311)" stroke-width=".3"/><path d="M130.7 69.8L134.7 75.1 132.6 73.9z" fill="url(#a312)" stroke="url(#a312)" stroke-width=".3"/><path d="M144.4 75.1L150.3 38.1 148.1 37z" fill="url(#a313)" stroke="url(#a313)" stroke-width=".3"/><path d="M152.5 39.6L156.5 73.3 150.3 38.1z" fill="url(#a314)" stroke="url(#a314)" stroke-width=".3"/><circle cx="191.1" cy="39.2" r="0.62" fill="#f02828"/><path d="M126.9 76.2L128.7 67.9 124.9 75z" fill="url(#a315)" stroke="url(#a315)" stroke-width=".3"/><path d="M184.4 76.6L191.1 39.2 181.9 75.5z" fill="url(#a316)" stroke="url(#a316)" stroke-width=".3"/><path d="M196.2 40.3L200.4 75.7 197.8 74.6z" fill="url(#a317)" stroke="url(#a317)" stroke-width=".3"/><path d="M154.8 54.5L161 75.6 158.8 74.5z" fill="url(#a318)" stroke="url(#a318)" stroke-width=".3"/><path d="M126.9 76.2L130.7 69.8 128.7 67.9z" fill="url(#a319)" stroke="url(#a319)" stroke-width=".3"/><path d="M146.6 76.2L150.3 38.1 144.4 75.1z" fill="url(#a320)" stroke="url(#a320)" stroke-width=".3"/><circle cx="150.3" cy="38.1" r="0.62" fill="#f02828"/><circle cx="130.7" cy="69.8" r="0.62" fill="#f02828"/><path d="M184.4 76.6L193.6 39.9 191.1 39.2z" fill="url(#a321)" stroke="url(#a321)" stroke-width=".3"/><path d="M196.2 40.3L197.8 74.6 193.6 39.9z" fill="url(#a322)" stroke="url(#a322)" stroke-width=".3"/><path d="M132.8 68.3L134.7 75.1 130.7 69.8z" fill="url(#a323)" stroke="url(#a323)" stroke-width=".3"/><path d="M132.8 68.3L136.8 76.2 134.7 75.1z" fill="url(#a324)" stroke="url(#a324)" stroke-width=".3"/><path d="M154.8 54.5L158.8 74.5 152.5 39.6z" fill="url(#a325)" stroke="url(#a325)" stroke-width=".3"/><path d="M146.6 76.2L152.5 39.6 150.3 38.1z" fill="url(#a326)" stroke="url(#a326)" stroke-width=".3"/><path d="M129 77.3L130.7 69.8 126.9 76.2z" fill="url(#a327)" stroke="url(#a327)" stroke-width=".3"/><circle cx="193.6" cy="39.9" r="0.62" fill="#f02828"/><path d="M186.9 77.8L193.6 39.9 184.4 76.6z" fill="url(#a328)" stroke="url(#a328)" stroke-width=".3"/><path d="M198.9 41.8L203 76.9 200.4 75.7z" fill="url(#a329)" stroke="url(#a329)" stroke-width=".3"/><path d="M148.8 77.4L152.5 39.6 146.6 76.2z" fill="url(#a330)" stroke="url(#a330)" stroke-width=".3"/><path d="M129 77.3L132.8 68.3 130.7 69.8z" fill="url(#a331)" stroke="url(#a331)" stroke-width=".3"/><path d="M157.1 51.7L163.4 76.7 161 75.6z" fill="url(#a332)" stroke="url(#a332)" stroke-width=".3"/><circle cx="152.5" cy="39.6" r="0.62" fill="#f02828"/><path d="M186.9 77.8L196.2 40.3 193.6 39.9z" fill="url(#a333)" stroke="url(#a333)" stroke-width=".3"/><path d="M198.9 41.8L200.4 75.7 196.2 40.3z" fill="url(#a334)" stroke="url(#a334)" stroke-width=".3"/><path d="M157.1 51.7L161 75.6 154.8 54.5z" fill="url(#a335)" stroke="url(#a335)" stroke-width=".3"/><circle cx="132.8" cy="68.3" r="0.62" fill="#f02828"/><path d="M148.8 77.4L154.8 54.5 152.5 39.6z" fill="url(#a336)" stroke="url(#a336)" stroke-width=".3"/><path d="M134.8 66.2L136.8 76.2 132.8 68.3z" fill="url(#a337)" stroke="url(#a337)" stroke-width=".3"/><path d="M134.8 66.2L138.9 77.4 136.8 76.2z" fill="url(#a338)" stroke="url(#a338)" stroke-width=".3"/><circle cx="154.8" cy="54.5" r="0.62" fill="#f02828"/><path d="M131.1 78.5L132.8 68.3 129 77.3z" fill="url(#a339)" stroke="url(#a339)" stroke-width=".3"/><circle cx="196.2" cy="40.3" r="0.62" fill="#f02828"/><path d="M151 78.6L154.8 54.5 148.8 77.4z" fill="url(#a340)" stroke="url(#a340)" stroke-width=".3"/><path d="M189.4 79L196.2 40.3 186.9 77.8z" fill="url(#a341)" stroke="url(#a341)" stroke-width=".3"/><path d="M201.6 42.7L205.7 78 203 76.9z" fill="url(#a342)" stroke="url(#a342)" stroke-width=".3"/><path d="M131.1 78.5L134.8 66.2 132.8 68.3z" fill="url(#a343)" stroke="url(#a343)" stroke-width=".3"/><path d="M159.4 43.9L165.7 77.9 163.4 76.7z" fill="url(#a344)" stroke="url(#a344)" stroke-width=".3"/><path d="M151 78.6L157.1 51.7 154.8 54.5z" fill="url(#a345)" stroke="url(#a345)" stroke-width=".3"/><path d="M189.4 79L198.9 41.8 196.2 40.3z" fill="url(#a346)" stroke="url(#a346)" stroke-width=".3"/><path d="M201.6 42.7L203 76.9 198.9 41.8z" fill="url(#a347)" stroke="url(#a347)" stroke-width=".3"/><path d="M137.1 73.4L141 78.5 138.9 77.4z" fill="url(#a348)" stroke="url(#a348)" stroke-width=".3"/><path d="M137.1 73.4L138.9 77.4 134.8 66.2z" fill="url(#a349)" stroke="url(#a349)" stroke-width=".3"/><circle cx="134.8" cy="66.2" r="0.62" fill="#f02828"/><path d="M159.4 43.9L163.4 76.7 157.1 51.7z" fill="url(#a350)" stroke="url(#a350)" stroke-width=".3"/><circle cx="157.1" cy="51.7" r="0.62" fill="#f02828"/><circle cx="198.9" cy="41.8" r="0.62" fill="#f02828"/><path d="M133.2 79.7L134.8 66.2 131.1 78.5z" fill="url(#a351)" stroke="url(#a351)" stroke-width=".3"/><path d="M153.3 79.8L157.1 51.7 151 78.6z" fill="url(#a352)" stroke="url(#a352)" stroke-width=".3"/><path d="M192.1 80.2L198.9 41.8 189.4 79z" fill="url(#a353)" stroke="url(#a353)" stroke-width=".3"/><path d="M204.3 43.4L208.4 79.2 205.7 78z" fill="url(#a354)" stroke="url(#a354)" stroke-width=".3"/><path d="M161.8 53.2L168.1 79.1 165.7 77.9z" fill="url(#a355)" stroke="url(#a355)" stroke-width=".3"/><path d="M133.2 79.7L137.1 73.4 134.8 66.2z" fill="url(#a356)" stroke="url(#a356)" stroke-width=".3"/><circle cx="137.1" cy="73.4" r="0.62" fill="#f02828"/><path d="M192.1 80.2L201.6 42.7 198.9 41.8z" fill="url(#a357)" stroke="url(#a357)" stroke-width=".3"/><path d="M204.3 43.4L205.7 78 201.6 42.7z" fill="url(#a358)" stroke="url(#a358)" stroke-width=".3"/><path d="M139.2 70.9L141 78.5 137.1 73.4z" fill="url(#a359)" stroke="url(#a359)" stroke-width=".3"/><path d="M153.3 79.8L159.4 43.9 157.1 51.7z" fill="url(#a360)" stroke="url(#a360)" stroke-width=".3"/><path d="M139.2 70.9L143.2 79.7 141 78.5z" fill="url(#a361)" stroke="url(#a361)" stroke-width=".3"/><path d="M161.8 53.2L165.7 77.9 159.4 43.9z" fill="url(#a362)" stroke="url(#a362)" stroke-width=".3"/><path d="M135.3 80.9L137.1 73.4 133.2 79.7z" fill="url(#a363)" stroke="url(#a363)" stroke-width=".3"/><circle cx="201.6" cy="42.7" r="0.62" fill="#f02828"/><path d="M194.7 81.4L201.6 42.7 192.1 80.2z" fill="url(#a364)" stroke="url(#a364)" stroke-width=".3"/><path d="M207.1 44.6L211.2 80.4 208.4 79.2z" fill="url(#a365)" stroke="url(#a365)" stroke-width=".3"/><path d="M155.6 81L159.4 43.9 153.3 79.8z" fill="url(#a366)" stroke="url(#a366)" stroke-width=".3"/><path d="M135.3 80.9L139.2 70.9 137.1 73.4z" fill="url(#a367)" stroke="url(#a367)" stroke-width=".3"/><circle cx="159.4" cy="43.9" r="0.62" fill="#f02828"/><path d="M194.7 81.4L204.3 43.4 201.6 42.7z" fill="url(#a368)" stroke="url(#a368)" stroke-width=".3"/><path d="M207.1 44.6L208.4 79.2 204.3 43.4z" fill="url(#a369)" stroke="url(#a369)" stroke-width=".3"/><circle cx="139.2" cy="70.9" r="0.62" fill="#f02828"/><path d="M155.6 81L161.8 53.2 159.4 43.9z" fill="url(#a370)" stroke="url(#a370)" stroke-width=".3"/><path d="M141.4 70.2L143.2 79.7 139.2 70.9z" fill="url(#a371)" stroke="url(#a371)" stroke-width=".3"/><path d="M141.4 70.2L145.5 81 143.2 79.7z" fill="url(#a372)" stroke="url(#a372)" stroke-width=".3"/><path d="M164.2 20.7L170.5 80.3 168.1 79.1z" fill="url(#a373)" stroke="url(#a373)" stroke-width=".3"/><circle cx="161.8" cy="53.2" r="0.62" fill="#f02828"/><circle cx="204.3" cy="43.4" r="0.62" fill="#f02828"/><path d="M137.5 82.2L139.2 70.9 135.3 80.9z" fill="url(#a374)" stroke="url(#a374)" stroke-width=".3"/><path d="M158 82.3L161.8 53.2 155.6 81z" fill="url(#a375)" stroke="url(#a375)" stroke-width=".3"/><path d="M197.4 82.7L204.3 43.4 194.7 81.4z" fill="url(#a376)" stroke="url(#a376)" stroke-width=".3"/><path d="M164.2 20.7L168.1 79.1 161.8 53.2z" fill="url(#a377)" stroke="url(#a377)" stroke-width=".3"/><path d="M209.9 45.3L214 81.7 211.2 80.4z" fill="url(#a378)" stroke="url(#a378)" stroke-width=".3"/><path d="M166.7 58.7L173 81.6 170.5 80.3z" fill="url(#a379)" stroke="url(#a379)" stroke-width=".3"/><path d="M137.5 82.2L141.4 70.2 139.2 70.9z" fill="url(#a380)" stroke="url(#a380)" stroke-width=".3"/><path d="M197.4 82.7L207.1 44.6 204.3 43.4z" fill="url(#a381)" stroke="url(#a381)" stroke-width=".3"/><path d="M209.9 45.3L211.2 80.4 207.1 44.6z" fill="url(#a382)" stroke="url(#a382)" stroke-width=".3"/><path d="M143.7 76.1L147.7 82.2 145.5 81z" fill="url(#a383)" stroke="url(#a383)" stroke-width=".3"/><path d="M143.7 76.1L145.5 81 141.4 70.2z" fill="url(#a384)" stroke="url(#a384)" stroke-width=".3"/><circle cx="141.4" cy="70.2" r="0.62" fill="#f02828"/><circle cx="207.1" cy="44.6" r="0.62" fill="#f02828"/><path d="M158 82.3L164.2 20.7 161.8 53.2z" fill="url(#a385)" stroke="url(#a385)" stroke-width=".3"/><path d="M139.7 83.4L141.4 70.2 137.5 82.2z" fill="url(#a386)" stroke="url(#a386)" stroke-width=".3"/><path d="M166.7 58.7L170.5 80.3 164.2 20.7z" fill="url(#a387)" stroke="url(#a387)" stroke-width=".3"/><path d="M200.1 83.9L207.1 44.6 197.4 82.7z" fill="url(#a388)" stroke="url(#a388)" stroke-width=".3"/><path d="M212.8 46.9L216.9 82.9 214 81.7z" fill="url(#a389)" stroke="url(#a389)" stroke-width=".3"/><path d="M139.7 83.4L143.7 76.1 141.4 70.2z" fill="url(#a390)" stroke="url(#a390)" stroke-width=".3"/><path d="M169.2 52.9L175.5 82.8 173 81.6z" fill="url(#a391)" stroke="url(#a391)" stroke-width=".3"/><circle cx="143.7" cy="76.1" r="0.62" fill="#f02828"/><path d="M200.1 83.9L209.9 45.3 207.1 44.6z" fill="url(#a392)" stroke="url(#a392)" stroke-width=".3"/><path d="M212.8 46.9L214 81.7 209.9 45.3z" fill="url(#a393)" stroke="url(#a393)" stroke-width=".3"/><path d="M160.4 83.5L164.2 20.7 158 82.3z" fill="url(#a394)" stroke="url(#a394)" stroke-width=".3"/><path d="M145.9 73.1L147.7 82.2 143.7 76.1z" fill="url(#a395)" stroke="url(#a395)" stroke-width=".3"/><path d="M169.2 52.9L173 81.6 166.7 58.7z" fill="url(#a396)" stroke="url(#a396)" stroke-width=".3"/><path d="M145.9 73.1L150.1 83.5 147.7 82.2z" fill="url(#a397)" stroke="url(#a397)" stroke-width=".3"/><circle cx="166.7" cy="58.7" r="0.62" fill="#f02828"/><path d="M160.4 83.5L166.7 58.7 164.2 20.7z" fill="url(#a398)" stroke="url(#a398)" stroke-width=".3"/><path d="M142 84.7L143.7 76.1 139.7 83.4z" fill="url(#a399)" stroke="url(#a399)" stroke-width=".3"/><circle cx="209.9" cy="45.3" r="0.62" fill="#f02828"/><path d="M162.8 84.8L166.7 58.7 160.4 83.5z" fill="url(#a400)" stroke="url(#a400)" stroke-width=".3"/><path d="M202.9 85.2L209.9 45.3 200.1 83.9z" fill="url(#a401)" stroke="url(#a401)" stroke-width=".3"/><path d="M215.7 47.7L219.8 84.2 216.9 82.9z" fill="url(#a402)" stroke="url(#a402)" stroke-width=".3"/><path d="M171.8 65.4L178.1 84.1 175.5 82.8z" fill="url(#a403)" stroke="url(#a403)" stroke-width=".3"/><path d="M142 84.7L145.9 73.1 143.7 76.1z" fill="url(#a404)" stroke="url(#a404)" stroke-width=".3"/><circle cx="164.2" cy="20.7" r="0.62" fill="#f02828"/><path d="M162.8 84.8L169.2 52.9 166.7 58.7z" fill="url(#a405)" stroke="url(#a405)" stroke-width=".3"/><path d="M202.9 85.2L212.8 46.9 209.9 45.3z" fill="url(#a406)" stroke="url(#a406)" stroke-width=".3"/><path d="M215.7 47.7L216.9 82.9 212.8 46.9z" fill="url(#a407)" stroke="url(#a407)" stroke-width=".3"/><path d="M171.8 65.4L175.5 82.8 169.2 52.9z" fill="url(#a408)" stroke="url(#a408)" stroke-width=".3"/><path d="M148.3 81.4L152.4 84.8 150.1 83.5z" fill="url(#a409)" stroke="url(#a409)" stroke-width=".3"/><path d="M148.3 81.4L150.1 83.5 145.9 73.1z" fill="url(#a410)" stroke="url(#a410)" stroke-width=".3"/><circle cx="145.9" cy="73.1" r="0.62" fill="#f02828"/><circle cx="212.8" cy="46.9" r="0.62" fill="#f02828"/><path d="M144.3 86L145.9 73.1 142 84.7z" fill="url(#a411)" stroke="url(#a411)" stroke-width=".3"/><path d="M205.8 86.5L212.8 46.9 202.9 85.2z" fill="url(#a412)" stroke="url(#a412)" stroke-width=".3"/><circle cx="169.2" cy="52.9" r="0.62" fill="#f02828"/><path d="M218.7 48.2L222.8 85.5 219.8 84.2z" fill="url(#a413)" stroke="url(#a413)" stroke-width=".3"/><path d="M165.3 86.1L169.2 52.9 162.8 84.8z" fill="url(#a414)" stroke="url(#a414)" stroke-width=".3"/><path d="M174.4 60.6L180.7 85.4 178.1 84.1z" fill="url(#a415)" stroke="url(#a415)" stroke-width=".3"/><path d="M144.3 86L148.3 81.4 145.9 73.1z" fill="url(#a416)" stroke="url(#a416)" stroke-width=".3"/><circle cx="148.3" cy="81.4" r="0.62" fill="#f02828"/><path d="M165.3 86.1L171.8 65.4 169.2 52.9z" fill="url(#a417)" stroke="url(#a417)" stroke-width=".3"/><path d="M150.7 83.2L152.4 84.8 148.3 81.4z" fill="url(#a418)" stroke="url(#a418)" stroke-width=".3"/><path d="M174.4 60.6L178.1 84.1 171.8 65.4z" fill="url(#a419)" stroke="url(#a419)" stroke-width=".3"/><path d="M205.8 86.5L215.7 47.7 212.8 46.9z" fill="url(#a420)" stroke="url(#a420)" stroke-width=".3"/><path d="M218.7 48.2L219.8 84.2 215.7 47.7z" fill="url(#a421)" stroke="url(#a421)" stroke-width=".3"/><path d="M150.7 83.2L154.8 86.1 152.4 84.8z" fill="url(#a422)" stroke="url(#a422)" stroke-width=".3"/><circle cx="171.8" cy="65.4" r="0.62" fill="#f02828"/><path d="M146.6 87.4L148.3 81.4 144.3 86z" fill="url(#a423)" stroke="url(#a423)" stroke-width=".3"/><path d="M167.8 87.5L171.8 65.4 165.3 86.1z" fill="url(#a424)" stroke="url(#a424)" stroke-width=".3"/><circle cx="215.7" cy="47.7" r="0.62" fill="#f02828"/><path d="M208.7 87.9L215.7 47.7 205.8 86.5z" fill="url(#a425)" stroke="url(#a425)" stroke-width=".3"/><path d="M221.8 49.7L225.8 86.8 222.8 85.5z" fill="url(#a426)" stroke="url(#a426)" stroke-width=".3"/><path d="M146.6 87.4L150.7 83.2 148.3 81.4z" fill="url(#a427)" stroke="url(#a427)" stroke-width=".3"/><circle cx="150.7" cy="83.2" r="0.62" fill="#f02828"/><path d="M167.8 87.5L174.4 60.6 171.8 65.4z" fill="url(#a428)" stroke="url(#a428)" stroke-width=".3"/><path d="M153.1 86.2L154.8 86.1 150.7 83.2z" fill="url(#a429)" stroke="url(#a429)" stroke-width=".3"/><path d="M177.1 43.3L183.3 86.7 180.7 85.4z" fill="url(#a430)" stroke="url(#a430)" stroke-width=".3"/><path d="M208.7 87.9L218.7 48.2 215.7 47.7z" fill="url(#a431)" stroke="url(#a431)" stroke-width=".3"/><path d="M153.1 86.2L157.2 87.4 154.8 86.1z" fill="url(#a432)" stroke="url(#a432)" stroke-width=".3"/><path d="M221.8 49.7L222.8 85.5 218.7 48.2z" fill="url(#a433)" stroke="url(#a433)" stroke-width=".3"/><path d="M177.1 43.3L180.7 85.4 174.4 60.6z" fill="url(#a434)" stroke="url(#a434)" stroke-width=".3"/><circle cx="174.4" cy="60.6" r="0.62" fill="#f02828"/><path d="M149 88.7L150.7 83.2 146.6 87.4z" fill="url(#a435)" stroke="url(#a435)" stroke-width=".3"/><circle cx="218.7" cy="48.2" r="0.62" fill="#f02828"/><path d="M170.4 88.8L174.4 60.6 167.8 87.5z" fill="url(#a436)" stroke="url(#a436)" stroke-width=".3"/><path d="M211.6 89.3L218.7 48.2 208.7 87.9z" fill="url(#a437)" stroke="url(#a437)" stroke-width=".3"/><path d="M149 88.7L153.1 86.2 150.7 83.2z" fill="url(#a438)" stroke="url(#a438)" stroke-width=".3"/><path d="M224.9 50.5L228.9 88.1 225.8 86.8z" fill="url(#a439)" stroke="url(#a439)" stroke-width=".3"/><path d="M179.6 71.4L186 88 183.3 86.7z" fill="url(#a440)" stroke="url(#a440)" stroke-width=".3"/><circle cx="153.1" cy="86.2" r="0.62" fill="#f02828"/><path d="M155.6 79.5L157.2 87.4 153.1 86.2z" fill="url(#a441)" stroke="url(#a441)" stroke-width=".3"/><path d="M211.6 89.3L221.8 49.7 218.7 48.2z" fill="url(#a442)" stroke="url(#a442)" stroke-width=".3"/><path d="M224.9 50.5L225.8 86.8 221.8 49.7z" fill="url(#a443)" stroke="url(#a443)" stroke-width=".3"/><path d="M155.6 79.5L159.7 88.8 157.2 87.4z" fill="url(#a444)" stroke="url(#a444)" stroke-width=".3"/><path d="M179.6 71.4L183.3 86.7 177.1 43.3z" fill="url(#a445)" stroke="url(#a445)" stroke-width=".3"/><path d="M170.4 88.8L177.1 43.3 174.4 60.6z" fill="url(#a446)" stroke="url(#a446)" stroke-width=".3"/><path d="M151.5 90.1L153.1 86.2 149 88.7z" fill="url(#a447)" stroke="url(#a447)" stroke-width=".3"/><circle cx="221.8" cy="49.7" r="0.62" fill="#f02828"/><path d="M214.6 90.6L221.8 49.7 211.6 89.3z" fill="url(#a448)" stroke="url(#a448)" stroke-width=".3"/><path d="M228 51L232 89.5 228.9 88.1z" fill="url(#a449)" stroke="url(#a449)" stroke-width=".3"/><path d="M182.4 67.9L188.8 89.4 186 88z" fill="url(#a450)" stroke="url(#a450)" stroke-width=".3"/><path d="M151.5 90.1L155.6 79.5 153.1 86.2z" fill="url(#a451)" stroke="url(#a451)" stroke-width=".3"/><path d="M173 90.2L177.1 43.3 170.4 88.8z" fill="url(#a452)" stroke="url(#a452)" stroke-width=".3"/><path d="M182.4 67.9L186 88 179.6 71.4z" fill="url(#a453)" stroke="url(#a453)" stroke-width=".3"/><circle cx="179.6" cy="71.4" r="0.62" fill="#f02828"/><path d="M214.6 90.6L224.9 50.5 221.8 49.7z" fill="url(#a454)" stroke="url(#a454)" stroke-width=".3"/><path d="M228 51L228.9 88.1 224.9 50.5z" fill="url(#a455)" stroke="url(#a455)" stroke-width=".3"/><path d="M173 90.2L179.6 71.4 177.1 43.3z" fill="url(#a456)" stroke="url(#a456)" stroke-width=".3"/><circle cx="155.6" cy="79.5" r="0.62" fill="#f02828"/><path d="M158.1 82L159.7 88.8 155.6 79.5z" fill="url(#a457)" stroke="url(#a457)" stroke-width=".3"/><path d="M158.1 82L162.2 90.2 159.7 88.8z" fill="url(#a458)" stroke="url(#a458)" stroke-width=".3"/><circle cx="177.1" cy="43.3" r="0.62" fill="#f02828"/><path d="M175.7 91.6L179.6 71.4 173 90.2z" fill="url(#a459)" stroke="url(#a459)" stroke-width=".3"/><circle cx="224.9" cy="50.5" r="0.62" fill="#f02828"/><path d="M153.9 91.5L155.6 79.5 151.5 90.1z" fill="url(#a460)" stroke="url(#a460)" stroke-width=".3"/><path d="M217.7 92.1L224.9 50.5 214.6 90.6z" fill="url(#a461)" stroke="url(#a461)" stroke-width=".3"/><path d="M231.3 52.3L235.2 90.9 232 89.5z" fill="url(#a462)" stroke="url(#a462)" stroke-width=".3"/><path d="M175.7 91.6L182.4 67.9 179.6 71.4z" fill="url(#a463)" stroke="url(#a463)" stroke-width=".3"/><path d="M153.9 91.5L158.1 82 155.6 79.5z" fill="url(#a464)" stroke="url(#a464)" stroke-width=".3"/><path d="M185.3 49.3L191.6 90.8 188.8 89.4z" fill="url(#a465)" stroke="url(#a465)" stroke-width=".3"/><path d="M217.7 92.1L228 51 224.9 50.5z" fill="url(#a466)" stroke="url(#a466)" stroke-width=".3"/><path d="M160.6 86.8L162.2 90.2 158.1 82z" fill="url(#a467)" stroke="url(#a467)" stroke-width=".3"/><path d="M231.3 52.3L232 89.5 228 51z" fill="url(#a468)" stroke="url(#a468)" stroke-width=".3"/><circle cx="158.1" cy="82" r="0.62" fill="#f02828"/><path d="M160.6 86.8L164.8 91.6 162.2 90.2z" fill="url(#a469)" stroke="url(#a469)" stroke-width=".3"/><circle cx="182.4" cy="67.9" r="0.62" fill="#f02828"/><path d="M185.3 49.3L188.8 89.4 182.4 67.9z" fill="url(#a470)" stroke="url(#a470)" stroke-width=".3"/><path d="M178.4 93.1L182.4 67.9 175.7 91.6z" fill="url(#a471)" stroke="url(#a471)" stroke-width=".3"/><circle cx="228" cy="51" r="0.62" fill="#f02828"/><path d="M156.5 93L158.1 82 153.9 91.5z" fill="url(#a472)" stroke="url(#a472)" stroke-width=".3"/><path d="M220.8 93.5L228 51 217.7 92.1z" fill="url(#a473)" stroke="url(#a473)" stroke-width=".3"/><path d="M234.5 53.2L238.4 92.3 235.2 90.9z" fill="url(#a474)" stroke="url(#a474)" stroke-width=".3"/><path d="M188 68.9L194.4 92.2 191.6 90.8z" fill="url(#a475)" stroke="url(#a475)" stroke-width=".3"/><path d="M156.5 93L160.6 86.8 158.1 82z" fill="url(#a476)" stroke="url(#a476)" stroke-width=".3"/><circle cx="160.6" cy="86.8" r="0.62" fill="#f02828"/><path d="M163.2 91.2L164.8 91.6 160.6 86.8z" fill="url(#a477)" stroke="url(#a477)" stroke-width=".3"/><path d="M220.8 93.5L231.3 52.3 228 51z" fill="url(#a478)" stroke="url(#a478)" stroke-width=".3"/><path d="M163.2 91.2L167.4 93 164.8 91.6z" fill="url(#a479)" stroke="url(#a479)" stroke-width=".3"/><path d="M234.5 53.2L235.2 90.9 231.3 52.3z" fill="url(#a480)" stroke="url(#a480)" stroke-width=".3"/><path d="M178.4 93.1L185.3 49.3 182.4 67.9z" fill="url(#a481)" stroke="url(#a481)" stroke-width=".3"/><path d="M188 68.9L191.6 90.8 185.3 49.3z" fill="url(#a482)" stroke="url(#a482)" stroke-width=".3"/><path d="M159 94.4L160.6 86.8 156.5 93z" fill="url(#a483)" stroke="url(#a483)" stroke-width=".3"/><circle cx="231.3" cy="52.3" r="0.62" fill="#f02828"/><path d="M223.9 95L231.3 52.3 220.8 93.5z" fill="url(#a484)" stroke="url(#a484)" stroke-width=".3"/><path d="M159 94.4L163.2 91.2 160.6 86.8z" fill="url(#a485)" stroke="url(#a485)" stroke-width=".3"/><path d="M190.9 70.1L197.3 93.7 194.4 92.2z" fill="url(#a486)" stroke="url(#a486)" stroke-width=".3"/><path d="M181.2 94.5L185.3 49.3 178.4 93.1z" fill="url(#a487)" stroke="url(#a487)" stroke-width=".3"/><circle cx="163.2" cy="91.2" r="0.62" fill="#f02828"/><path d="M190.9 70.1L194.4 92.2 188 68.9z" fill="url(#a488)" stroke="url(#a488)" stroke-width=".3"/><path d="M165.9 86.1L167.4 93 163.2 91.2z" fill="url(#a489)" stroke="url(#a489)" stroke-width=".3"/><circle cx="185.3" cy="49.3" r="0.62" fill="#f02828"/><path d="M223.9 95L234.5 53.2 231.3 52.3z" fill="url(#a490)" stroke="url(#a490)" stroke-width=".3"/><path d="M165.9 86.1L170.1 94.5 167.4 93z" fill="url(#a491)" stroke="url(#a491)" stroke-width=".3"/><path d="M181.2 94.5L188 68.9 185.3 49.3z" fill="url(#a492)" stroke="url(#a492)" stroke-width=".3"/><circle cx="188" cy="68.9" r="0.62" fill="#f02828"/><path d="M161.6 95.9L163.2 91.2 159 94.4z" fill="url(#a493)" stroke="url(#a493)" stroke-width=".3"/><circle cx="234.5" cy="53.2" r="0.62" fill="#f02828"/><path d="M184 96L188 68.9 181.2 94.5z" fill="url(#a494)" stroke="url(#a494)" stroke-width=".3"/><path d="M161.6 95.9L165.9 86.1 163.2 91.2z" fill="url(#a495)" stroke="url(#a495)" stroke-width=".3"/><path d="M184 96L190.9 70.1 188 68.9z" fill="url(#a496)" stroke="url(#a496)" stroke-width=".3"/><path d="M194 52.8L200.3 95.1 197.3 93.7z" fill="url(#a497)" stroke="url(#a497)" stroke-width=".3"/><path d="M168.6 94.2L170.1 94.5 165.9 86.1z" fill="url(#a498)" stroke="url(#a498)" stroke-width=".3"/><path d="M168.6 94.2L172.8 96 170.1 94.5z" fill="url(#a499)" stroke="url(#a499)" stroke-width=".3"/><circle cx="165.9" cy="86.1" r="0.62" fill="#f02828"/><path d="M194 52.8L197.3 93.7 190.9 70.1z" fill="url(#a500)" stroke="url(#a500)" stroke-width=".3"/><circle cx="190.9" cy="70.1" r="0.62" fill="#f02828"/><path d="M164.3 97.4L165.9 86.1 161.6 95.9z" fill="url(#a501)" stroke="url(#a501)" stroke-width=".3"/><path d="M186.9 97.5L190.9 70.1 184 96z" fill="url(#a502)" stroke="url(#a502)" stroke-width=".3"/><path d="M164.3 97.4L168.6 94.2 165.9 86.1z" fill="url(#a503)" stroke="url(#a503)" stroke-width=".3"/><circle cx="168.6" cy="94.2" r="0.62" fill="#f02828"/><path d="M197 62.3L203.3 96.6 200.3 95.1z" fill="url(#a504)" stroke="url(#a504)" stroke-width=".3"/><path d="M171.3 90.6L172.8 96 168.6 94.2z" fill="url(#a505)" stroke="url(#a505)" stroke-width=".3"/><path d="M171.3 90.6L175.6 97.5 172.8 96z" fill="url(#a506)" stroke="url(#a506)" stroke-width=".3"/><path d="M186.9 97.5L194 52.8 190.9 70.1z" fill="url(#a507)" stroke="url(#a507)" stroke-width=".3"/><path d="M197 62.3L200.3 95.1 194 52.8z" fill="url(#a508)" stroke="url(#a508)" stroke-width=".3"/><path d="M167 99L168.6 94.2 164.3 97.4z" fill="url(#a509)" stroke="url(#a509)" stroke-width=".3"/><path d="M167 99L171.3 90.6 168.6 94.2z" fill="url(#a510)" stroke="url(#a510)" stroke-width=".3"/><path d="M189.8 99.1L194 52.8 186.9 97.5z" fill="url(#a511)" stroke="url(#a511)" stroke-width=".3"/><path d="M200.1 57.7L206.4 98.2 203.3 96.6z" fill="url(#a512)" stroke="url(#a512)" stroke-width=".3"/><circle cx="171.3" cy="90.6" r="0.62" fill="#f02828"/><circle cx="194" cy="52.8" r="0.62" fill="#f02828"/><path d="M174.1 90.2L175.6 97.5 171.3 90.6z" fill="url(#a513)" stroke="url(#a513)" stroke-width=".3"/><path d="M174.1 90.2L178.4 99 175.6 97.5z" fill="url(#a514)" stroke="url(#a514)" stroke-width=".3"/><path d="M189.8 99.1L197 62.3 194 52.8z" fill="url(#a515)" stroke="url(#a515)" stroke-width=".3"/><path d="M200.1 57.7L203.3 96.6 197 62.3z" fill="url(#a516)" stroke="url(#a516)" stroke-width=".3"/><path d="M169.8 100.6L171.3 90.6 167 99z" fill="url(#a517)" stroke="url(#a517)" stroke-width=".3"/><path d="M192.8 100.6L197 62.3 189.8 99.1z" fill="url(#a518)" stroke="url(#a518)" stroke-width=".3"/><circle cx="197" cy="62.3" r="0.62" fill="#f02828"/><path d="M169.8 100.6L174.1 90.2 171.3 90.6z" fill="url(#a519)" stroke="url(#a519)" stroke-width=".3"/><path d="M177 94.4L178.4 99 174.1 90.2z" fill="url(#a520)" stroke="url(#a520)" stroke-width=".3"/><circle cx="174.1" cy="90.2" r="0.62" fill="#f02828"/><path d="M177 94.4L181.3 100.6 178.4 99z" fill="url(#a521)" stroke="url(#a521)" stroke-width=".3"/><path d="M192.8 100.6L200.1 57.7 197 62.3z" fill="url(#a522)" stroke="url(#a522)" stroke-width=".3"/><path d="M172.6 102.2L174.1 90.2 169.8 100.6z" fill="url(#a523)" stroke="url(#a523)" stroke-width=".3"/><path d="M172.6 102.2L177 94.4 174.1 90.2z" fill="url(#a524)" stroke="url(#a524)" stroke-width=".3"/><circle cx="200.1" cy="57.7" r="0.62" fill="#f02828"/><circle cx="177" cy="94.4" r="0.62" fill="#f02828"/><path d="M179.9 95.1L181.3 100.6 177 94.4z" fill="url(#a525)" stroke="url(#a525)" stroke-width=".3"/><path d="M179.9 95.1L184.2 102.2 181.3 100.6z" fill="url(#a526)" stroke="url(#a526)" stroke-width=".3"/><path d="M175.5 103.8L177 94.4 172.6 102.2z" fill="url(#a527)" stroke="url(#a527)" stroke-width=".3"/><path d="M175.5 103.8L179.9 95.1 177 94.4z" fill="url(#a528)" stroke="url(#a528)" stroke-width=".3"/><circle cx="179.9" cy="95.1" r="0.62" fill="#f02828"/><linearGradient id="cba" x1="0" y1="1" x2="0" y2="0"><stop offset="0.0" stop-color="#7a00a8"/><stop offset="0.06" stop-color="#7000d0"/><stop offset="0.12" stop-color="#4000f0"/><stop offset="0.16" stop-color="#0020ff"/><stop offset="0.21" stop-color="#0090ff"/><stop offset="0.26" stop-color="#00e0e8"/><stop offset="0.31" stop-color="#00d850"/><stop offset="0.36" stop-color="#30e000"/><stop offset="0.43" stop-color="#c0f000"/><stop offset="0.5" stop-color="#fff000"/><stop offset="0.57" stop-color="#ff9000"/><stop offset="0.64" stop-color="#ff3000"/><stop offset="0.7" stop-color="#ff0000"/><stop offset="0.82" stop-color="#e00000"/><stop offset="0.91" stop-color="#a00000"/><stop offset="1.0" stop-color="#700010"/></linearGradient><rect x="264.2" y="17.5" width="8" height="101" fill="url(#cba)"/><text transform="translate(276.8 120.7) scale(1.0 1)" font-size="6.7" >−0.004</text><text transform="translate(276.8 110.6) scale(1.0 1)" font-size="6.7" >0.022</text><text transform="translate(276.8 100.5) scale(1.0 1)" font-size="6.7" >0.048</text><text transform="translate(276.8 90.4) scale(1.0 1)" font-size="6.7" >0.075</text><text transform="translate(276.8 80.3) scale(1.0 1)" font-size="6.7" >0.101</text><text transform="translate(276.8 70.2) scale(1.0 1)" font-size="6.7" >0.127</text><text transform="translate(276.8 60.1) scale(1.0 1)" font-size="6.7" >0.153</text><text transform="translate(276.8 50) scale(1.0 1)" font-size="6.7" >0.179</text><text transform="translate(276.8 39.9) scale(1.0 1)" font-size="6.7" >0.206</text><text transform="translate(276.8 29.8) scale(1.0 1)" font-size="6.7" >0.232</text><text transform="translate(276.8 19.7) scale(1.0 1)" font-size="6.7" >0.258</text><path d="M272.2 118.5h1.6M272.2 108.4h1.6M272.2 98.3h1.6M272.2 88.2h1.6M272.2 78.1h1.6M272.2 68h1.6M272.2 57.9h1.6M272.2 47.8h1.6M272.2 37.7h1.6M272.2 27.6h1.6M272.2 17.5h1.6" stroke="#333" stroke-width=".6"/><text transform="translate(74.7 12.5) scale(1.0 1)" font-size="9.6" >a)</text><text transform="translate(87.7 16.5) scale(1.0 1)" font-size="7.4">×10<tspan font-size="4.6" dy="-3.1">4</tspan></text><text transform="translate(272.8 11.5) scale(1.0 1)" font-size="6.2">×10<tspan font-size="3.8" dy="-2.6">4</tspan></text><text transform="translate(82.6 73.5) scale(0.87 1) rotate(-90)" font-size="8.0" text-anchor="middle" >Absolute Kerr signal (mDeg)</text><text transform="translate(97.4 126.1) scale(1 .72)" font-size="6.2" text-anchor="middle">45</text><text transform="translate(102.1 129.9) scale(1 .72)" font-size="6.2" text-anchor="middle">40</text><text transform="translate(106.9 134) scale(1 .72)" font-size="6.2" text-anchor="middle">35</text><text transform="translate(112 138.2) scale(1 .72)" font-size="6.2" text-anchor="middle">30</text><text transform="translate(117.2 142.6) scale(1 .72)" font-size="6.2" text-anchor="middle">25</text><text transform="translate(122.7 147.2) scale(1 .72)" font-size="6.2" text-anchor="middle">20</text><text transform="translate(128.5 152) scale(1 .72)" font-size="6.2" text-anchor="middle">15</text><text transform="translate(134.5 157.1) scale(1 .72)" font-size="6.2" text-anchor="middle">10</text><text transform="translate(140.9 162.4) scale(1 .72)" font-size="6.2" text-anchor="middle">5</text><text transform="translate(103 147) rotate(-38) scale(1 .8)" font-size="8.5" text-anchor="middle"><tspan font-style="italic">θ</tspan><tspan font-weight="normal">(°)</tspan></text><text transform="translate(157.2 170.9) rotate(-28) scale(1 .7)" font-size="7.0" text-anchor="middle" style="fill:#333">400</text><text transform="translate(183.7 164.4) rotate(-28) scale(1 .7)" font-size="7.0" text-anchor="middle" style="fill:#333">565</text><text transform="translate(191.1 162.5) rotate(-28) scale(1 .7)" font-size="7.0" text-anchor="middle" style="fill:#333">600</text><text transform="translate(204.5 159.2) rotate(-28) scale(1 .7)" font-size="7.0" text-anchor="middle" style="fill:#333">665</text><text transform="translate(213.6 157) rotate(-28) scale(1 .7)" font-size="7.0" text-anchor="middle" style="fill:#333">700</text><text transform="translate(234 152) rotate(-28) scale(1 .7)" font-size="7.0" text-anchor="middle" style="fill:#333">815</text><text transform="translate(245.2 149.2) rotate(-28) scale(1 .7)" font-size="7.0" text-anchor="middle" style="fill:#333">900</text><text transform="translate(257.9 146.1) rotate(-28) scale(1 .7)" font-size="7.0" text-anchor="middle" style="fill:#333">1000</text><text transform="translate(224 166) rotate(-14) scale(1.12 .62)" font-size="9" text-anchor="middle" style="fill:#3a3a3a;stroke:#3a3a3a;stroke-width:.15px">Wavelength (nm)</text>
<path d="M191.3 299.6L192.2 201.1M254.2 326.5L258 201.5L192.2 201.1 101.6 201.7" stroke="#909090" stroke-width=".8" fill="none"/><path d="M103.8 312.8L101.6 201.7" stroke="#666" stroke-width=".8"/><text transform="translate(97.6 213.8) scale(1.0 1)" font-size="7.4" text-anchor="end" >0.6</text><text transform="translate(98 234.9) scale(1.0 1)" font-size="7.4" text-anchor="end" >0.4</text><text transform="translate(98.4 255.8) scale(1.0 1)" font-size="7.4" text-anchor="end" >0.2</text><text transform="translate(98.8 276.4) scale(1.0 1)" font-size="7.4" text-anchor="end" >0.0</text><text transform="translate(99.3 296.7) scale(1.0 1)" font-size="7.4" text-anchor="end" >−0.2</text><path d="M101.8 211.3h-2M102.2 232.4h-2M102.6 253.3h-2M103 273.9h-2M103.5 294.2h-2" stroke="#666" stroke-width=".8"/><defs><linearGradient id="cmc" gradientUnits="userSpaceOnUse" x1="0" y1="0" x2="0" y2="1"><stop offset="0.0" stop-color="#7a00a8"/><stop offset="0.06" stop-color="#7000d0"/><stop offset="0.12" stop-color="#4000f0"/><stop offset="0.16" stop-color="#0020ff"/><stop offset="0.21" stop-color="#0090ff"/><stop offset="0.26" stop-color="#00e0e8"/><stop offset="0.31" stop-color="#00d850"/><stop offset="0.36" stop-color="#30e000"/><stop offset="0.43" stop-color="#c0f000"/><stop offset="0.5" stop-color="#fff000"/><stop offset="0.57" stop-color="#ff9000"/><stop offset="0.64" stop-color="#ff3000"/><stop offset="0.7" stop-color="#ff0000"/><stop offset="0.82" stop-color="#e00000"/><stop offset="0.91" stop-color="#a00000"/><stop offset="1.0" stop-color="#700010"/></linearGradient><linearGradient id="c1" href="#cmc" x1="178.4" y1="341.8" x2="299.6" y2="355.2"/><linearGradient id="c2" href="#cmc" x1="186.9" y1="337.4" x2="142" y2="411.4"/><linearGradient id="c3" href="#cmc" x1="184.5" y1="337.2" x2="188.3" y2="414.2"/><linearGradient id="c4" href="#cmc" x1="202.7" y1="337.6" x2="221.3" y2="313.5"/><linearGradient id="c5" href="#cmc" x1="202.7" y1="337.6" x2="217.9" y2="310.6"/><linearGradient id="c6" href="#cmc" x1="209.2" y1="333.3" x2="197.3" y2="355.6"/><linearGradient id="c7" href="#cmc" x1="208.8" y1="333.1" x2="199.8" y2="356.6"/><linearGradient id="c8" href="#cmc" x1="227.6" y1="332.1" x2="229.7" y2="327.7"/><linearGradient id="c9" href="#cmc" x1="227.6" y1="332.1" x2="229.8" y2="327.7"/><linearGradient id="c10" href="#cmc" x1="234.6" y1="329.1" x2="233.7" y2="331.1"/><linearGradient id="c11" href="#cmc" x1="234.6" y1="329.1" x2="233.7" y2="331.1"/><linearGradient id="c12" href="#cmc" x1="177.3" y1="340.5" x2="173.3" y2="314.6"/><linearGradient id="c13" href="#cmc" x1="177" y1="340.5" x2="194.4" y2="313.3"/><linearGradient id="c14" href="#cmc" x1="182.5" y1="339.5" x2="145.6" y2="326.2"/><linearGradient id="c15" href="#cmc" x1="199.7" y1="335.7" x2="202" y2="319.8"/><linearGradient id="c16" href="#cmc" x1="199.6" y1="335.7" x2="208" y2="320.7"/><linearGradient id="c17" href="#cmc" x1="206" y1="331.5" x2="192" y2="357.7"/><linearGradient id="c18" href="#cmc" x1="206.9" y1="333.1" x2="185.2" y2="345.1"/><linearGradient id="c19" href="#cmc" x1="224.2" y1="330.4" x2="226.2" y2="326.1"/><linearGradient id="c20" href="#cmc" x1="224.2" y1="330.4" x2="226.3" y2="326.1"/><linearGradient id="c21" href="#cmc" x1="231.2" y1="327.5" x2="230.3" y2="329.5"/><linearGradient id="c22" href="#cmc" x1="231.2" y1="327.5" x2="230.3" y2="329.5"/><linearGradient id="c23" href="#cmc" x1="174.3" y1="338.4" x2="176.5" y2="322.9"/><linearGradient id="c24" href="#cmc" x1="174.2" y1="338.4" x2="183.2" y2="324.3"/><linearGradient id="c25" href="#cmc" x1="180.4" y1="334.4" x2="164.3" y2="361"/><linearGradient id="c26" href="#cmc" x1="181.1" y1="336.4" x2="159.2" y2="344.9"/><linearGradient id="c27" href="#cmc" x1="196.6" y1="333.8" x2="197.6" y2="325.6"/><linearGradient id="c28" href="#cmc" x1="196.6" y1="333.8" x2="201" y2="326"/><linearGradient id="c29" href="#cmc" x1="202.7" y1="329.9" x2="195" y2="344.5"/><linearGradient id="c30" href="#cmc" x1="203.5" y1="331.7" x2="191.5" y2="337.2"/><linearGradient id="c31" href="#cmc" x1="220.9" y1="328.8" x2="223" y2="324.5"/><linearGradient id="c32" href="#cmc" x1="220.9" y1="328.8" x2="223" y2="324.5"/><linearGradient id="c33" href="#cmc" x1="227.8" y1="325.9" x2="226.9" y2="327.9"/><linearGradient id="c34" href="#cmc" x1="227.8" y1="325.9" x2="226.9" y2="327.9"/><linearGradient id="c35" href="#cmc" x1="171.3" y1="336.6" x2="183.2" y2="322.2"/><linearGradient id="c36" href="#cmc" x1="171.3" y1="336.6" x2="181.5" y2="320.7"/><linearGradient id="c37" href="#cmc" x1="177.4" y1="332.8" x2="169.1" y2="346.6"/><linearGradient id="c38" href="#cmc" x1="177.1" y1="332.7" x2="170.2" y2="347.2"/><linearGradient id="c39" href="#cmc" x1="193.4" y1="332.1" x2="202.5" y2="324.2"/><linearGradient id="c40" href="#cmc" x1="193.5" y1="332.1" x2="199.6" y2="321.2"/><linearGradient id="c41" href="#cmc" x1="199.6" y1="328.4" x2="195.5" y2="336"/><linearGradient id="c42" href="#cmc" x1="198.9" y1="328.2" x2="196.8" y2="336.3"/><linearGradient id="c43" href="#cmc" x1="217.7" y1="327.2" x2="219.6" y2="323"/><linearGradient id="c44" href="#cmc" x1="217.7" y1="327.2" x2="219.7" y2="323"/><linearGradient id="c45" href="#cmc" x1="224.5" y1="324.4" x2="223.6" y2="326.3"/><linearGradient id="c46" href="#cmc" x1="224.5" y1="324.4" x2="223.6" y2="326.3"/><linearGradient id="c47" href="#cmc" x1="168.3" y1="334.8" x2="193.3" y2="324.7"/><linearGradient id="c48" href="#cmc" x1="168.4" y1="335" x2="186.5" y2="306.7"/><linearGradient id="c49" href="#cmc" x1="174.6" y1="331.1" x2="165.1" y2="346.7"/><linearGradient id="c50" href="#cmc" x1="173.5" y1="330.8" x2="170.5" y2="347.7"/><linearGradient id="c51" href="#cmc" x1="190.4" y1="330.5" x2="205" y2="320.3"/><linearGradient id="c52" href="#cmc" x1="190.5" y1="330.6" x2="199.9" y2="313.8"/><linearGradient id="c53" href="#cmc" x1="196.6" y1="326.7" x2="190.9" y2="337.4"/><linearGradient id="c54" href="#cmc" x1="195.7" y1="326.6" x2="193.4" y2="337.8"/><linearGradient id="c55" href="#cmc" x1="214.5" y1="325.7" x2="216.6" y2="321.4"/><linearGradient id="c56" href="#cmc" x1="214.5" y1="325.7" x2="216.6" y2="321.4"/><linearGradient id="c57" href="#cmc" x1="221.3" y1="322.9" x2="220.4" y2="324.8"/><linearGradient id="c58" href="#cmc" x1="221.3" y1="322.9" x2="220.4" y2="324.8"/><linearGradient id="c59" href="#cmc" x1="165.8" y1="333.3" x2="178.4" y2="307"/><linearGradient id="c60" href="#cmc" x1="165.7" y1="333.3" x2="181.5" y2="308.5"/><linearGradient id="c61" href="#cmc" x1="171.9" y1="329.2" x2="155.1" y2="356.9"/><linearGradient id="c62" href="#cmc" x1="172.3" y1="329.5" x2="152.1" y2="354.5"/><linearGradient id="c63" href="#cmc" x1="187.7" y1="328.9" x2="189.5" y2="318.5"/><linearGradient id="c64" href="#cmc" x1="187.6" y1="328.8" x2="193.3" y2="318.8"/><linearGradient id="c65" href="#cmc" x1="193.7" y1="325.1" x2="185" y2="341.4"/><linearGradient id="c66" href="#cmc" x1="194.6" y1="326.4" x2="180.3" y2="334.9"/><linearGradient id="c67" href="#cmc" x1="211.4" y1="324.2" x2="213.3" y2="320.1"/><linearGradient id="c68" href="#cmc" x1="211.4" y1="324.2" x2="213.4" y2="320.1"/><linearGradient id="c69" href="#cmc" x1="218.2" y1="321.4" x2="217.3" y2="323.3"/><linearGradient id="c70" href="#cmc" x1="218.2" y1="321.5" x2="217.3" y2="323.3"/><linearGradient id="c71" href="#cmc" x1="163.3" y1="331.4" x2="165.9" y2="316.5"/><linearGradient id="c72" href="#cmc" x1="163.2" y1="331.4" x2="172.1" y2="317.5"/><linearGradient id="c73" href="#cmc" x1="169.2" y1="327.6" x2="154.6" y2="351.8"/><linearGradient id="c74" href="#cmc" x1="170" y1="329.4" x2="148.6" y2="338.6"/><linearGradient id="c75" href="#cmc" x1="184.8" y1="327.3" x2="191.8" y2="316.8"/><linearGradient id="c76" href="#cmc" x1="184.8" y1="327.3" x2="190.9" y2="316.4"/><linearGradient id="c77" href="#cmc" x1="190.7" y1="323.7" x2="185.5" y2="333.4"/><linearGradient id="c78" href="#cmc" x1="190.5" y1="323.6" x2="186.1" y2="333.6"/><linearGradient id="c79" href="#cmc" x1="208.4" y1="322.7" x2="210.4" y2="318.6"/><linearGradient id="c80" href="#cmc" x1="208.4" y1="322.7" x2="210.4" y2="318.6"/><linearGradient id="c81" href="#cmc" x1="215.1" y1="320" x2="214.3" y2="321.9"/><linearGradient id="c82" href="#cmc" x1="215.1" y1="320" x2="214.3" y2="321.9"/><linearGradient id="c83" href="#cmc" x1="160.7" y1="329.7" x2="163.9" y2="319.1"/><linearGradient id="c84" href="#cmc" x1="160.7" y1="329.7" x2="166.9" y2="319.9"/><linearGradient id="c85" href="#cmc" x1="166.5" y1="326.2" x2="158.2" y2="339.8"/><linearGradient id="c86" href="#cmc" x1="167.2" y1="327.1" x2="155.2" y2="336.2"/><linearGradient id="c87" href="#cmc" x1="182.1" y1="325.7" x2="187.7" y2="315"/><linearGradient id="c88" href="#cmc" x1="182.1" y1="325.7" x2="188" y2="315.1"/><linearGradient id="c89" href="#cmc" x1="187.9" y1="322.1" x2="182.3" y2="332.8"/><linearGradient id="c90" href="#cmc" x1="188" y1="322.2" x2="182.1" y2="332.7"/><linearGradient id="c91" href="#cmc" x1="205.5" y1="321.3" x2="207.4" y2="317.2"/><linearGradient id="c92" href="#cmc" x1="205.5" y1="321.3" x2="207.5" y2="317.2"/><linearGradient id="c93" href="#cmc" x1="212.1" y1="318.6" x2="211.3" y2="320.4"/><linearGradient id="c94" href="#cmc" x1="212.2" y1="318.6" x2="211.3" y2="320.4"/><linearGradient id="c95" href="#cmc" x1="158" y1="328.1" x2="172.5" y2="320.6"/><linearGradient id="c96" href="#cmc" x1="158.1" y1="328.2" x2="168" y2="312.8"/><linearGradient id="c97" href="#cmc" x1="163.9" y1="324.7" x2="158.1" y2="334.3"/><linearGradient id="c98" href="#cmc" x1="163" y1="324.5" x2="160.7" y2="334.7"/><linearGradient id="c99" href="#cmc" x1="179.4" y1="324.1" x2="180" y2="318.8"/><linearGradient id="c100" href="#cmc" x1="179.4" y1="324.1" x2="182.5" y2="318.7"/><linearGradient id="c101" href="#cmc" x1="185.2" y1="320.7" x2="179.7" y2="331"/><linearGradient id="c102" href="#cmc" x1="186.1" y1="322.5" x2="177" y2="325.6"/><linearGradient id="c103" href="#cmc" x1="202.6" y1="319.9" x2="204.3" y2="316"/><linearGradient id="c104" href="#cmc" x1="202.6" y1="319.9" x2="204.5" y2="316"/><linearGradient id="c105" href="#cmc" x1="209.2" y1="317.2" x2="208.4" y2="319.1"/><linearGradient id="c106" href="#cmc" x1="209.3" y1="317.3" x2="208.4" y2="319"/><linearGradient id="c107" href="#cmc" x1="155.5" y1="326.3" x2="174" y2="336.3"/><linearGradient id="c108" href="#cmc" x1="161.5" y1="323.1" x2="152.3" y2="338.2"/><linearGradient id="c109" href="#cmc" x1="159.6" y1="323.5" x2="161.2" y2="336.5"/><linearGradient id="c110" href="#cmc" x1="176.7" y1="322.6" x2="184.8" y2="325.4"/><linearGradient id="c111" href="#cmc" x1="176.6" y1="322.9" x2="189.4" y2="300.1"/><linearGradient id="c112" href="#cmc" x1="182.5" y1="319.3" x2="179.6" y2="324.7"/><linearGradient id="c113" href="#cmc" x1="181" y1="319.7" x2="181.3" y2="324.3"/><linearGradient id="c114" href="#cmc" x1="199.8" y1="318.5" x2="201.9" y2="314.5"/><linearGradient id="c115" href="#cmc" x1="199.8" y1="318.5" x2="201.7" y2="314.5"/><linearGradient id="c116" href="#cmc" x1="206.4" y1="315.9" x2="205.6" y2="317.6"/><linearGradient id="c117" href="#cmc" x1="206.4" y1="315.9" x2="205.6" y2="317.6"/><linearGradient id="c118" href="#cmc" x1="174.1" y1="321.5" x2="185.1" y2="299.5"/><linearGradient id="c119" href="#cmc" x1="174.1" y1="321.5" x2="186.2" y2="299.8"/><linearGradient id="c120" href="#cmc" x1="180" y1="317.7" x2="168.2" y2="339.9"/><linearGradient id="c121" href="#cmc" x1="180.1" y1="317.8" x2="167.1" y2="339.5"/><linearGradient id="c122" href="#cmc" x1="197.1" y1="317.1" x2="198.9" y2="313.3"/><linearGradient id="c123" href="#cmc" x1="197.1" y1="317.1" x2="199" y2="313.3"/><linearGradient id="c124" href="#cmc" x1="203.6" y1="314.6" x2="202.8" y2="316.4"/><linearGradient id="c125" href="#cmc" x1="203.6" y1="314.6" x2="202.8" y2="316.4"/><linearGradient id="c126" href="#cmc" x1="151.1" y1="323.6" x2="149.7" y2="311.8"/><linearGradient id="c127" href="#cmc" x1="150.9" y1="323.6" x2="160" y2="309.4"/><linearGradient id="c128" href="#cmc" x1="155.7" y1="323" x2="139.2" y2="313.5"/><linearGradient id="c129" href="#cmc" x1="171.7" y1="320" x2="175.7" y2="304.3"/><linearGradient id="c130" href="#cmc" x1="171.6" y1="320" x2="180.3" y2="304.5"/><linearGradient id="c131" href="#cmc" x1="177.4" y1="316.4" x2="166.2" y2="337.4"/><linearGradient id="c132" href="#cmc" x1="178.3" y1="317.1" x2="160" y2="332.5"/><linearGradient id="c133" href="#cmc" x1="194.4" y1="315.8" x2="196.3" y2="311.9"/><linearGradient id="c134" href="#cmc" x1="194.4" y1="315.8" x2="196.3" y2="311.9"/><linearGradient id="c135" href="#cmc" x1="200.9" y1="313.3" x2="200.1" y2="315.1"/><linearGradient id="c136" href="#cmc" x1="200.9" y1="313.3" x2="200.1" y2="315.1"/><linearGradient id="c137" href="#cmc" x1="148.5" y1="321.8" x2="170.4" y2="327.7"/><linearGradient id="c138" href="#cmc" x1="148.4" y1="322.6" x2="177.4" y2="277.2"/><linearGradient id="c139" href="#cmc" x1="154.3" y1="318.8" x2="145.9" y2="332.7"/><linearGradient id="c140" href="#cmc" x1="152.8" y1="319" x2="152.9" y2="331.7"/><linearGradient id="c141" href="#cmc" x1="169.3" y1="318.6" x2="173" y2="306.4"/><linearGradient id="c142" href="#cmc" x1="169.2" y1="318.6" x2="175.9" y2="306.6"/><linearGradient id="c143" href="#cmc" x1="174.9" y1="315.1" x2="166.9" y2="330.1"/><linearGradient id="c144" href="#cmc" x1="175.6" y1="315.5" x2="163.5" y2="328"/><linearGradient id="c145" href="#cmc" x1="191.8" y1="314.5" x2="193.5" y2="310.8"/><linearGradient id="c146" href="#cmc" x1="191.8" y1="314.5" x2="193.6" y2="310.8"/><linearGradient id="c147" href="#cmc" x1="198.2" y1="312.1" x2="197.4" y2="313.8"/><linearGradient id="c148" href="#cmc" x1="198.2" y1="312.1" x2="197.4" y2="313.8"/><linearGradient id="c149" href="#cmc" x1="146.6" y1="320.8" x2="148.1" y2="301.1"/><linearGradient id="c150" href="#cmc" x1="146.4" y1="320.8" x2="159.4" y2="300.4"/><linearGradient id="c151" href="#cmc" x1="152.3" y1="317" x2="125.3" y2="361.4"/><linearGradient id="c152" href="#cmc" x1="152.8" y1="319.7" x2="117.5" y2="321.4"/><linearGradient id="c153" href="#cmc" x1="166.9" y1="317.2" x2="170.4" y2="307.2"/><linearGradient id="c154" href="#cmc" x1="166.8" y1="317.2" x2="172.3" y2="307.4"/><linearGradient id="c155" href="#cmc" x1="172.4" y1="313.9" x2="166.2" y2="325.5"/><linearGradient id="c156" href="#cmc" x1="173" y1="314.2" x2="164.2" y2="324.4"/><linearGradient id="c157" href="#cmc" x1="189.2" y1="313.3" x2="191" y2="309.6"/><linearGradient id="c158" href="#cmc" x1="189.2" y1="313.3" x2="191" y2="309.5"/><linearGradient id="c159" href="#cmc" x1="195.6" y1="310.9" x2="194.8" y2="312.6"/><linearGradient id="c160" href="#cmc" x1="195.6" y1="310.9" x2="194.8" y2="312.6"/><linearGradient id="c161" href="#cmc" x1="144" y1="319.4" x2="173.9" y2="303.1"/><linearGradient id="c162" href="#cmc" x1="144.1" y1="319.6" x2="163.4" y2="289.4"/><linearGradient id="c163" href="#cmc" x1="149.9" y1="316" x2="137.8" y2="335.9"/><linearGradient id="c164" href="#cmc" x1="149" y1="315.9" x2="143.9" y2="336.4"/><linearGradient id="c165" href="#cmc" x1="164.4" y1="315.6" x2="178.3" y2="321.4"/><linearGradient id="c166" href="#cmc" x1="164.3" y1="316.3" x2="184.5" y2="280.1"/><linearGradient id="c167" href="#cmc" x1="170" y1="312.6" x2="165" y2="322.1"/><linearGradient id="c168" href="#cmc" x1="168.7" y1="313" x2="169" y2="320.9"/><linearGradient id="c169" href="#cmc" x1="186.7" y1="312.1" x2="188.8" y2="308.2"/><linearGradient id="c170" href="#cmc" x1="186.7" y1="312.1" x2="188.6" y2="308.2"/><linearGradient id="c171" href="#cmc" x1="193" y1="309.7" x2="192.2" y2="311.3"/><linearGradient id="c172" href="#cmc" x1="193" y1="309.7" x2="192.2" y2="311.4"/><linearGradient id="c173" href="#cmc" x1="142.3" y1="317.9" x2="142.7" y2="307.1"/><linearGradient id="c174" href="#cmc" x1="142.2" y1="317.9" x2="149.7" y2="306.2"/><linearGradient id="c175" href="#cmc" x1="147.8" y1="314.5" x2="129.9" y2="344"/><linearGradient id="c176" href="#cmc" x1="147.9" y1="317.3" x2="128.2" y2="314.9"/><linearGradient id="c177" href="#cmc" x1="162.3" y1="314.5" x2="161.9" y2="309.9"/><linearGradient id="c178" href="#cmc" x1="162.2" y1="314.5" x2="165.6" y2="308.5"/><linearGradient id="c179" href="#cmc" x1="167.9" y1="311" x2="149.2" y2="346.2"/><linearGradient id="c180" href="#cmc" x1="167" y1="314.1" x2="160" y2="309.7"/><linearGradient id="c181" href="#cmc" x1="184.3" y1="310.8" x2="185" y2="308"/><linearGradient id="c182" href="#cmc" x1="184.3" y1="310.8" x2="185.8" y2="307.8"/><linearGradient id="c183" href="#cmc" x1="190.5" y1="308.5" x2="189.7" y2="310.2"/><linearGradient id="c184" href="#cmc" x1="190.7" y1="308.7" x2="189.7" y2="310.2"/><linearGradient id="c185" href="#cmc" x1="140.1" y1="316.6" x2="150.1" y2="304.5"/><linearGradient id="c186" href="#cmc" x1="140.1" y1="316.6" x2="148.4" y2="303.6"/><linearGradient id="c187" href="#cmc" x1="145.5" y1="313.5" x2="138.5" y2="325"/><linearGradient id="c188" href="#cmc" x1="145.2" y1="313.4" x2="139.6" y2="325.3"/><linearGradient id="c189" href="#cmc" x1="160" y1="313.3" x2="161.5" y2="308.5"/><linearGradient id="c190" href="#cmc" x1="160" y1="313.3" x2="162.7" y2="308.6"/><linearGradient id="c191" href="#cmc" x1="165.4" y1="310.2" x2="162.3" y2="316.1"/><linearGradient id="c192" href="#cmc" x1="166.1" y1="310.6" x2="161.2" y2="315.5"/><linearGradient id="c193" href="#cmc" x1="181.8" y1="309.7" x2="186.8" y2="307"/><linearGradient id="c194" href="#cmc" x1="181.9" y1="309.7" x2="184" y2="305.4"/><linearGradient id="c195" href="#cmc" x1="188.1" y1="307.4" x2="187.4" y2="308.7"/><linearGradient id="c196" href="#cmc" x1="187.9" y1="307.2" x2="187.4" y2="308.7"/><linearGradient id="c197" href="#cmc" x1="137.9" y1="315.1" x2="157.7" y2="321.3"/><linearGradient id="c198" href="#cmc" x1="137.8" y1="315.7" x2="162.4" y2="277.3"/><linearGradient id="c199" href="#cmc" x1="143.4" y1="312.2" x2="135.7" y2="325"/><linearGradient id="c200" href="#cmc" x1="142" y1="312.5" x2="141.9" y2="323.7"/><linearGradient id="c201" href="#cmc" x1="157.9" y1="312" x2="158" y2="310"/><linearGradient id="c202" href="#cmc" x1="157.8" y1="312" x2="159.1" y2="309.7"/><linearGradient id="c203" href="#cmc" x1="163.1" y1="309.1" x2="160.7" y2="313.6"/><linearGradient id="c204" href="#cmc" x1="164" y1="311.1" x2="159.9" y2="311.5"/><linearGradient id="c205" href="#cmc" x1="179.5" y1="308.5" x2="181.5" y2="304.3"/><linearGradient id="c206" href="#cmc" x1="179.5" y1="308.5" x2="181.6" y2="304.3"/><linearGradient id="c207" href="#cmc" x1="185.7" y1="306.2" x2="184.8" y2="308.2"/><linearGradient id="c208" href="#cmc" x1="185.7" y1="306.2" x2="184.8" y2="308.2"/><linearGradient id="c209" href="#cmc" x1="136.1" y1="314.2" x2="139.6" y2="292.8"/><linearGradient id="c210" href="#cmc" x1="136" y1="314.2" x2="150" y2="292.3"/><linearGradient id="c211" href="#cmc" x1="141.6" y1="310.6" x2="118.8" y2="348.2"/><linearGradient id="c212" href="#cmc" x1="142.6" y1="312.6" x2="105.3" y2="322.4"/><linearGradient id="c213" href="#cmc" x1="155.7" y1="310.8" x2="157" y2="308.5"/><linearGradient id="c214" href="#cmc" x1="155.7" y1="310.8" x2="157" y2="308.5"/><linearGradient id="c215" href="#cmc" x1="160.9" y1="307.9" x2="159.8" y2="310.1"/><linearGradient id="c216" href="#cmc" x1="160.9" y1="307.9" x2="159.8" y2="310.1"/><linearGradient id="c217" href="#cmc" x1="177.2" y1="307.4" x2="178.1" y2="304.1"/><linearGradient id="c218" href="#cmc" x1="177.2" y1="307.4" x2="178.9" y2="303.9"/><linearGradient id="c219" href="#cmc" x1="183.3" y1="305.1" x2="182.4" y2="307.1"/><linearGradient id="c220" href="#cmc" x1="183.4" y1="305.3" x2="182.4" y2="307"/><linearGradient id="c221" href="#cmc" x1="134.2" y1="312.8" x2="135.7" y2="301.8"/><linearGradient id="c222" href="#cmc" x1="134.1" y1="312.8" x2="141.6" y2="301.2"/><linearGradient id="c223" href="#cmc" x1="139.5" y1="309.6" x2="126.5" y2="331"/><linearGradient id="c224" href="#cmc" x1="140.3" y1="311.7" x2="119.9" y2="314.7"/><linearGradient id="c225" href="#cmc" x1="153.6" y1="309.6" x2="157.4" y2="310.5"/><linearGradient id="c226" href="#cmc" x1="153.6" y1="309.7" x2="156.8" y2="303.9"/><linearGradient id="c227" href="#cmc" x1="158.8" y1="306.8" x2="157.6" y2="309"/><linearGradient id="c228" href="#cmc" x1="157.7" y1="307.1" x2="157.6" y2="309"/><linearGradient id="c229" href="#cmc" x1="174.9" y1="306.3" x2="176.8" y2="302.7"/><linearGradient id="c230" href="#cmc" x1="174.9" y1="306.3" x2="176.7" y2="302.7"/><linearGradient id="c231" href="#cmc" x1="181" y1="304.1" x2="180.3" y2="305.7"/><linearGradient id="c232" href="#cmc" x1="181" y1="304.1" x2="180.3" y2="305.7"/><linearGradient id="c233" href="#cmc" x1="132.2" y1="311.3" x2="145.7" y2="319.6"/><linearGradient id="c234" href="#cmc" x1="131.9" y1="312.2" x2="164.2" y2="261.6"/><linearGradient id="c235" href="#cmc" x1="137.4" y1="308.6" x2="130.5" y2="320"/><linearGradient id="c236" href="#cmc" x1="136" y1="309.1" x2="136.5" y2="318.1"/><linearGradient id="c237" href="#cmc" x1="151.6" y1="308.5" x2="151.9" y2="305.6"/><linearGradient id="c238" href="#cmc" x1="151.5" y1="308.5" x2="153.3" y2="305.3"/><linearGradient id="c239" href="#cmc" x1="156.7" y1="305.6" x2="153.7" y2="311.2"/><linearGradient id="c240" href="#cmc" x1="157.8" y1="307.3" x2="152.1" y2="308.6"/><linearGradient id="c241" href="#cmc" x1="172.7" y1="305.2" x2="174.4" y2="301.6"/><linearGradient id="c242" href="#cmc" x1="172.7" y1="305.2" x2="174.5" y2="301.6"/><linearGradient id="c243" href="#cmc" x1="178.8" y1="303" x2="178" y2="304.6"/><linearGradient id="c244" href="#cmc" x1="178.8" y1="303" x2="178" y2="304.6"/><linearGradient id="c245" href="#cmc" x1="130.5" y1="310.5" x2="130.9" y2="294.5"/><linearGradient id="c246" href="#cmc" x1="130.3" y1="310.5" x2="142.2" y2="291.8"/><linearGradient id="c247" href="#cmc" x1="135.9" y1="306.9" x2="105.9" y2="356.3"/><linearGradient id="c248" href="#cmc" x1="135.8" y1="310.1" x2="106.8" y2="301.7"/><linearGradient id="c249" href="#cmc" x1="149.5" y1="307.3" x2="150.1" y2="305.1"/><linearGradient id="c250" href="#cmc" x1="149.5" y1="307.3" x2="150.8" y2="305.1"/><linearGradient id="c251" href="#cmc" x1="154.7" y1="304.6" x2="153" y2="307.7"/><linearGradient id="c252" href="#cmc" x1="155.6" y1="305.2" x2="152.6" y2="307.4"/><linearGradient id="c253" href="#cmc" x1="170.6" y1="304.1" x2="172" y2="300.7"/><linearGradient id="c254" href="#cmc" x1="170.6" y1="304.1" x2="172.3" y2="300.7"/><linearGradient id="c255" href="#cmc" x1="176.6" y1="302" x2="175.8" y2="303.6"/><linearGradient id="c256" href="#cmc" x1="176.6" y1="302" x2="175.8" y2="303.6"/><linearGradient id="c257" href="#cmc" x1="162.2" y1="263.1" x2="180" y2="205"/><linearGradient id="c258" href="#cmc" x1="171.5" y1="267" x2="177.6" y2="204"/><linearGradient id="c259" href="#cmc" x1="170.4" y1="268.9" x2="189.9" y2="208.1"/><linearGradient id="c260" href="#cmc" x1="164.3" y1="263.8" x2="182.3" y2="205.1"/><linearGradient id="c261" href="#cmc" x1="170.6" y1="269" x2="175.3" y2="203.3"/><linearGradient id="c262" href="#cmc" x1="174.6" y1="267.8" x2="179.7" y2="204"/><linearGradient id="c263" href="#cmc" x1="172.6" y1="269.6" x2="192.3" y2="208.2"/><linearGradient id="c264" href="#cmc" x1="166" y1="264.3" x2="184.2" y2="204.9"/><linearGradient id="c265" href="#cmc" x1="172.8" y1="269.7" x2="178.1" y2="203.4"/><linearGradient id="c266" href="#cmc" x1="178.1" y1="268.7" x2="181.6" y2="204"/><linearGradient id="c267" href="#cmc" x1="174.8" y1="270.3" x2="194.8" y2="208.2"/><linearGradient id="c268" href="#cmc" x1="170.7" y1="265.7" x2="189" y2="206.1"/><linearGradient id="c269" href="#cmc" x1="139.6" y1="264.1" x2="159.5" y2="207.1"/><linearGradient id="c270" href="#cmc" x1="175" y1="270.4" x2="180.5" y2="203.4"/><linearGradient id="c271" href="#cmc" x1="173.6" y1="267.4" x2="187.6" y2="205.4"/><linearGradient id="c272" href="#cmc" x1="177.1" y1="271.1" x2="197.2" y2="208.4"/><linearGradient id="c273" href="#cmc" x1="133.4" y1="255.3" x2="162.3" y2="211.1"/><linearGradient id="c274" href="#cmc" x1="149.1" y1="271.1" x2="171.2" y2="210.9"/><linearGradient id="c275" href="#cmc" x1="147.8" y1="266.9" x2="167.2" y2="211.6"/><linearGradient id="c276" href="#cmc" x1="173" y1="266.4" x2="191.4" y2="206.2"/><linearGradient id="c277" href="#cmc" x1="177.3" y1="271.2" x2="181.5" y2="203.4"/><linearGradient id="c278" href="#cmc" x1="148.4" y1="248.1" x2="166.2" y2="240.9"/><linearGradient id="c279" href="#cmc" x1="149.3" y1="271.2" x2="154.6" y2="203.8"/><linearGradient id="c280" href="#cmc" x1="180.7" y1="269.7" x2="188" y2="204.7"/><linearGradient id="c281" href="#cmc" x1="151.1" y1="271.8" x2="173.6" y2="210.7"/><linearGradient id="c282" href="#cmc" x1="179.4" y1="271.8" x2="199.9" y2="208.1"/><linearGradient id="c283" href="#cmc" x1="151.4" y1="271.9" x2="154.5" y2="203.5"/><linearGradient id="c284" href="#cmc" x1="179.6" y1="271.9" x2="187.3" y2="203.6"/><linearGradient id="c285" href="#cmc" x1="136.7" y1="270.3" x2="84.6" y2="246.7"/><linearGradient id="c286" href="#cmc" x1="133.4" y1="270" x2="141" y2="250.9"/><linearGradient id="c287" href="#cmc" x1="153.2" y1="272.6" x2="176.5" y2="209.3"/><linearGradient id="c288" href="#cmc" x1="170" y1="265.5" x2="188.9" y2="203.8"/><linearGradient id="c289" href="#cmc" x1="137.2" y1="263.3" x2="157.9" y2="203.9"/><linearGradient id="c290" href="#cmc" x1="168.4" y1="269.6" x2="157.2" y2="203.8"/><linearGradient id="c291" href="#cmc" x1="181.8" y1="272.6" x2="202.5" y2="208.2"/><linearGradient id="c292" href="#cmc" x1="196.6" y1="269.9" x2="188" y2="203.7"/><linearGradient id="c293" href="#cmc" x1="129.6" y1="273.2" x2="159.7" y2="201.6"/><linearGradient id="c294" href="#cmc" x1="130.1" y1="273.3" x2="130.6" y2="195.9"/><linearGradient id="c295" href="#cmc" x1="154" y1="272.1" x2="122.2" y2="244.8"/><linearGradient id="c296" href="#cmc" x1="175.9" y1="267.4" x2="194.8" y2="205.5"/><linearGradient id="c297" href="#cmc" x1="136.2" y1="272.4" x2="133.3" y2="209.9"/><linearGradient id="c298" href="#cmc" x1="181.9" y1="272.7" x2="195.7" y2="205.1"/><linearGradient id="c299" href="#cmc" x1="138.8" y1="263.9" x2="159.8" y2="203.8"/><linearGradient id="c300" href="#cmc" x1="131.7" y1="269.9" x2="151.6" y2="220"/><linearGradient id="c301" href="#cmc" x1="131.3" y1="274.4" x2="172.3" y2="176.8"/><linearGradient id="c302" href="#cmc" x1="178.5" y1="268.9" x2="194.1" y2="205.1"/><linearGradient id="c303" href="#cmc" x1="155.3" y1="273.4" x2="178.1" y2="211.3"/><linearGradient id="c304" href="#cmc" x1="184.3" y1="273.4" x2="205" y2="208.9"/><linearGradient id="c305" href="#cmc" x1="159.2" y1="271.8" x2="159.7" y2="203.7"/><linearGradient id="c306" href="#cmc" x1="132.3" y1="273.3" x2="107.5" y2="249.2"/><linearGradient id="c307" href="#cmc" x1="151.9" y1="268.4" x2="172.3" y2="210.2"/><linearGradient id="c308" href="#cmc" x1="177.6" y1="267.9" x2="196.8" y2="205.2"/><linearGradient id="c309" href="#cmc" x1="138.2" y1="266.5" x2="133" y2="267.7"/><linearGradient id="c310" href="#cmc" x1="135.7" y1="271.4" x2="152.7" y2="228.9"/><linearGradient id="c311" href="#cmc" x1="184.5" y1="273.5" x2="188.1" y2="203.6"/><linearGradient id="c312" href="#cmc" x1="190.7" y1="272.4" x2="193.9" y2="204.2"/><linearGradient id="c313" href="#cmc" x1="159.4" y1="240.2" x2="164.5" y2="239.5"/><linearGradient id="c314" href="#cmc" x1="155.6" y1="273.5" x2="157.1" y2="203.7"/><linearGradient id="c315" href="#cmc" x1="186.7" y1="274.2" x2="207.8" y2="208.7"/><linearGradient id="c316" href="#cmc" x1="133.5" y1="274.7" x2="161.7" y2="207.5"/><linearGradient id="c317" href="#cmc" x1="157.5" y1="274.2" x2="180.5" y2="211.4"/><linearGradient id="c318" href="#cmc" x1="133.8" y1="274.8" x2="138.8" y2="199.5"/><linearGradient id="c319" href="#cmc" x1="156.3" y1="269.9" x2="176.5" y2="212.2"/><linearGradient id="c320" href="#cmc" x1="154.4" y1="267.7" x2="179.5" y2="215.6"/><linearGradient id="c321" href="#cmc" x1="140.4" y1="269.9" x2="129.8" y2="274.3"/><linearGradient id="c322" href="#cmc" x1="180.1" y1="268.7" x2="199.5" y2="205.3"/><linearGradient id="c323" href="#cmc" x1="157.7" y1="274.3" x2="161.8" y2="203.9"/><linearGradient id="c324" href="#cmc" x1="187" y1="274.3" x2="193" y2="203.7"/><linearGradient id="c325" href="#cmc" x1="138.8" y1="272.4" x2="150.9" y2="242"/><linearGradient id="c326" href="#cmc" x1="159.7" y1="275" x2="183.4" y2="210.4"/><linearGradient id="c327" href="#cmc" x1="191.9" y1="273.1" x2="196.9" y2="204.3"/><linearGradient id="c328" href="#cmc" x1="135.4" y1="275.7" x2="167.3" y2="199.7"/><linearGradient id="c329" href="#cmc" x1="189.3" y1="275" x2="210.5" y2="208.9"/><linearGradient id="c330" href="#cmc" x1="165.5" y1="272.8" x2="178" y2="237.1"/><linearGradient id="c331" href="#cmc" x1="159.9" y1="275.1" x2="168.4" y2="203.8"/><linearGradient id="c332" href="#cmc" x1="169.6" y1="273" x2="129.6" y2="235"/><linearGradient id="c333" href="#cmc" x1="135.7" y1="275.8" x2="143.4" y2="193.1"/><linearGradient id="c334" href="#cmc" x1="182.9" y1="269.5" x2="202.5" y2="205.5"/><linearGradient id="c335" href="#cmc" x1="141.8" y1="274.7" x2="141" y2="211.3"/><linearGradient id="c336" href="#cmc" x1="189.5" y1="275.1" x2="194.7" y2="203.7"/><linearGradient id="c337" href="#cmc" x1="161.9" y1="275.9" x2="186.3" y2="209.7"/><linearGradient id="c338" href="#cmc" x1="138" y1="272.4" x2="158.2" y2="221.7"/><linearGradient id="c339" href="#cmc" x1="162.3" y1="276" x2="157.5" y2="203.4"/><linearGradient id="c340" href="#cmc" x1="193.7" y1="273.8" x2="199.8" y2="204.5"/><linearGradient id="c341" href="#cmc" x1="137.3" y1="276.7" x2="175" y2="186.9"/><linearGradient id="c342" href="#cmc" x1="191.9" y1="275.9" x2="213.4" y2="209"/><linearGradient id="c343" href="#cmc" x1="169.7" y1="275" x2="166.5" y2="209.1"/><linearGradient id="c344" href="#cmc" x1="163.9" y1="272.6" x2="183.5" y2="216.4"/><linearGradient id="c345" href="#cmc" x1="138" y1="275.5" x2="126.7" y2="269.7"/><linearGradient id="c346" href="#cmc" x1="164.1" y1="277.1" x2="197.1" y2="187.4"/><linearGradient id="c347" href="#cmc" x1="185.2" y1="270.2" x2="205" y2="205.4"/><linearGradient id="c348" href="#cmc" x1="192.1" y1="276" x2="197.4" y2="203.7"/><linearGradient id="c349" href="#cmc" x1="140.7" y1="274.3" x2="155.5" y2="215.8"/><linearGradient id="c350" href="#cmc" x1="139.5" y1="273" x2="160.4" y2="220.6"/><linearGradient id="c351" href="#cmc" x1="164.9" y1="276" x2="143.6" y2="261.8"/><linearGradient id="c352" href="#cmc" x1="197.8" y1="274.8" x2="202.2" y2="204.4"/><linearGradient id="c353" href="#cmc" x1="194.5" y1="276.8" x2="216.3" y2="209.1"/><linearGradient id="c354" href="#cmc" x1="139.5" y1="277.3" x2="169" y2="207"/><linearGradient id="c355" href="#cmc" x1="167.2" y1="273.7" x2="186.5" y2="218.5"/><linearGradient id="c356" href="#cmc" x1="166.3" y1="272.5" x2="189.9" y2="222.8"/><linearGradient id="c357" href="#cmc" x1="139.4" y1="277.3" x2="171" y2="208.6"/><linearGradient id="c358" href="#cmc" x1="188" y1="271.1" x2="208" y2="205.6"/><linearGradient id="c359" href="#cmc" x1="166.6" y1="277.7" x2="192.4" y2="207.4"/><linearGradient id="c360" href="#cmc" x1="194.8" y1="276.8" x2="200.4" y2="203.8"/><linearGradient id="c361" href="#cmc" x1="148.9" y1="272" x2="115.4" y2="265.4"/><linearGradient id="c362" href="#cmc" x1="144.6" y1="274.8" x2="160" y2="236"/><linearGradient id="c363" href="#cmc" x1="166.8" y1="277.7" x2="180.2" y2="201.9"/><linearGradient id="c364" href="#cmc" x1="199.6" y1="275.5" x2="205.3" y2="204.6"/><linearGradient id="c365" href="#cmc" x1="197.2" y1="277.6" x2="219.2" y2="209.2"/><linearGradient id="c366" href="#cmc" x1="141.6" y1="278.2" x2="171" y2="208.2"/><linearGradient id="c367" href="#cmc" x1="169.6" y1="273.2" x2="194.2" y2="229.6"/><linearGradient id="c368" href="#cmc" x1="170.6" y1="274.9" x2="189.2" y2="221.5"/><linearGradient id="c369" href="#cmc" x1="142" y1="278.3" x2="142.8" y2="199.7"/><linearGradient id="c370" href="#cmc" x1="169" y1="278.6" x2="195.7" y2="206"/><linearGradient id="c371" href="#cmc" x1="147.1" y1="276.8" x2="155.2" y2="219.1"/><linearGradient id="c372" href="#cmc" x1="190.1" y1="271.8" x2="210.4" y2="205.4"/><linearGradient id="c373" href="#cmc" x1="197.5" y1="277.7" x2="202.9" y2="203.8"/><linearGradient id="c374" href="#cmc" x1="145.7" y1="275.4" x2="164.5" y2="228.3"/><linearGradient id="c375" href="#cmc" x1="169.2" y1="278.7" x2="182" y2="200.3"/><linearGradient id="c376" href="#cmc" x1="204.4" y1="276.6" x2="207.7" y2="204.5"/><linearGradient id="c377" href="#cmc" x1="143.6" y1="279.3" x2="179.5" y2="194"/><linearGradient id="c378" href="#cmc" x1="200" y1="278.5" x2="222.3" y2="209.3"/><linearGradient id="c379" href="#cmc" x1="173.3" y1="274" x2="196.9" y2="240.9"/><linearGradient id="c380" href="#cmc" x1="174.1" y1="276" x2="191.3" y2="226.6"/><linearGradient id="c381" href="#cmc" x1="143.3" y1="278.8" x2="201.6" y2="227.6"/><linearGradient id="c382" href="#cmc" x1="171.5" y1="279.6" x2="199.4" y2="203.6"/><linearGradient id="c383" href="#cmc" x1="152.3" y1="274.7" x2="121.6" y2="276.9"/><linearGradient id="c384" href="#cmc" x1="193.4" y1="272.8" x2="214" y2="205.7"/><linearGradient id="c385" href="#cmc" x1="200.3" y1="278.6" x2="205.8" y2="203.9"/><linearGradient id="c386" href="#cmc" x1="149.6" y1="276.7" x2="161" y2="248.2"/><linearGradient id="c387" href="#cmc" x1="171.7" y1="279.6" x2="183.2" y2="197.8"/><linearGradient id="c388" href="#cmc" x1="204.4" y1="277.1" x2="211.4" y2="204.7"/><linearGradient id="c389" href="#cmc" x1="145.9" y1="280.1" x2="178.7" y2="202"/><linearGradient id="c390" href="#cmc" x1="202.9" y1="279.5" x2="225.3" y2="209.5"/><linearGradient id="c391" href="#cmc" x1="176.7" y1="276.9" x2="194.1" y2="227.9"/><linearGradient id="c392" href="#cmc" x1="176.7" y1="276.9" x2="194" y2="227.7"/><linearGradient id="c393" href="#cmc" x1="146.3" y1="280.2" x2="149.7" y2="194.4"/><linearGradient id="c394" href="#cmc" x1="174" y1="280.6" x2="203.9" y2="199.1"/><linearGradient id="c395" href="#cmc" x1="196.3" y1="273.7" x2="217" y2="205.8"/><linearGradient id="c396" href="#cmc" x1="152.9" y1="279.1" x2="151.4" y2="212.7"/><linearGradient id="c397" href="#cmc" x1="203.1" y1="279.5" x2="208.2" y2="203.9"/><linearGradient id="c398" href="#cmc" x1="174.1" y1="280.6" x2="198.6" y2="196.6"/><linearGradient id="c399" href="#cmc" x1="148.8" y1="276.8" x2="170.1" y2="223.3"/><linearGradient id="c400" href="#cmc" x1="208.6" y1="278.2" x2="214.2" y2="204.7"/><linearGradient id="c401" href="#cmc" x1="148" y1="281.4" x2="189.5" y2="182.5"/><linearGradient id="c402" href="#cmc" x1="205.8" y1="280.4" x2="228.5" y2="209.6"/><linearGradient id="c403" href="#cmc" x1="148.7" y1="280" x2="141.8" y2="277"/><linearGradient id="c404" href="#cmc" x1="184.4" y1="279.3" x2="178.4" y2="207.1"/><linearGradient id="c405" href="#cmc" x1="171.4" y1="275.3" x2="193.5" y2="211.8"/><linearGradient id="c406" href="#cmc" x1="176.6" y1="281.6" x2="207.1" y2="198.5"/><linearGradient id="c407" href="#cmc" x1="199.2" y1="274.6" x2="220.2" y2="205.9"/><linearGradient id="c408" href="#cmc" x1="156.7" y1="280.5" x2="107" y2="236.7"/><linearGradient id="c409" href="#cmc" x1="206" y1="280.5" x2="211.8" y2="204"/><linearGradient id="c410" href="#cmc" x1="211.7" y1="279.1" x2="217.3" y2="204.8"/><linearGradient id="c411" href="#cmc" x1="177.4" y1="280.6" x2="151" y2="264.6"/><linearGradient id="c412" href="#cmc" x1="208.8" y1="281.4" x2="231.8" y2="209.7"/><linearGradient id="c413" href="#cmc" x1="150.4" y1="282" x2="181.9" y2="207.2"/><linearGradient id="c414" href="#cmc" x1="179" y1="277.9" x2="200" y2="217.7"/><linearGradient id="c415" href="#cmc" x1="151" y1="282.1" x2="144.2" y2="199.9"/><linearGradient id="c416" href="#cmc" x1="177.9" y1="266.6" x2="203.4" y2="251.8"/><linearGradient id="c417" href="#cmc" x1="202.4" y1="275.6" x2="223.7" y2="206.1"/><linearGradient id="c418" href="#cmc" x1="209" y1="281.5" x2="214.8" y2="204"/><linearGradient id="c419" href="#cmc" x1="179.3" y1="282.4" x2="205.4" y2="211.3"/><linearGradient id="c420" href="#cmc" x1="214" y1="280" x2="220.8" y2="205"/><linearGradient id="c421" href="#cmc" x1="211.8" y1="282.4" x2="235.1" y2="209.8"/><linearGradient id="c422" href="#cmc" x1="179.6" y1="282.5" x2="182.6" y2="203.4"/><linearGradient id="c423" href="#cmc" x1="181.8" y1="278.9" x2="203.1" y2="218.1"/><linearGradient id="c424" href="#cmc" x1="182.5" y1="279.5" x2="201" y2="216.4"/><linearGradient id="c425" href="#cmc" x1="160.8" y1="282" x2="155.1" y2="213.8"/><linearGradient id="c426" href="#cmc" x1="205.2" y1="276.5" x2="226.7" y2="206"/><linearGradient id="c427" href="#cmc" x1="182" y1="283.4" x2="209.8" y2="208"/><linearGradient id="c428" href="#cmc" x1="212.1" y1="282.5" x2="218" y2="204.1"/><linearGradient id="c429" href="#cmc" x1="156.1" y1="279.7" x2="178" y2="224.8"/><linearGradient id="c430" href="#cmc" x1="182.1" y1="283.5" x2="203.3" y2="204.3"/><linearGradient id="c431" href="#cmc" x1="218.7" y1="281.1" x2="223.6" y2="204.9"/><linearGradient id="c432" href="#cmc" x1="214.9" y1="283.4" x2="238.5" y2="209.9"/><linearGradient id="c433" href="#cmc" x1="184.1" y1="279.7" x2="205.8" y2="217.4"/><linearGradient id="c434" href="#cmc" x1="156" y1="283.2" x2="132.1" y2="263.2"/><linearGradient id="c435" href="#cmc" x1="186" y1="281.1" x2="200.5" y2="213.6"/><linearGradient id="c436" href="#cmc" x1="208.5" y1="277.5" x2="230.3" y2="206.2"/><linearGradient id="c437" href="#cmc" x1="184.8" y1="284.5" x2="212.9" y2="208"/><linearGradient id="c438" href="#cmc" x1="215.2" y1="283.5" x2="221.5" y2="204.2"/><linearGradient id="c439" href="#cmc" x1="160.6" y1="282.7" x2="167.2" y2="211.5"/><linearGradient id="c440" href="#cmc" x1="156.1" y1="279.8" x2="180.1" y2="219.6"/><linearGradient id="c441" href="#cmc" x1="184.8" y1="284.5" x2="211.7" y2="207.1"/><linearGradient id="c442" href="#cmc" x1="220.9" y1="282" x2="227.2" y2="205.1"/><linearGradient id="c443" href="#cmc" x1="218.2" y1="284.4" x2="242" y2="210.1"/><linearGradient id="c444" href="#cmc" x1="157.7" y1="285.1" x2="190.5" y2="207"/><linearGradient id="c445" href="#cmc" x1="189.4" y1="281.5" x2="209.6" y2="223.5"/><linearGradient id="c446" href="#cmc" x1="187.8" y1="276.7" x2="217.3" y2="247"/><linearGradient id="c447" href="#cmc" x1="157.4" y1="284.6" x2="206.8" y2="238.9"/><linearGradient id="c448" href="#cmc" x1="211.5" y1="278.4" x2="233.6" y2="206.2"/><linearGradient id="c449" href="#cmc" x1="187.7" y1="285.5" x2="215.9" y2="208.8"/><linearGradient id="c450" href="#cmc" x1="218.4" y1="284.5" x2="224.4" y2="204.2"/><linearGradient id="c451" href="#cmc" x1="159.1" y1="278.3" x2="189.8" y2="237.7"/><linearGradient id="c452" href="#cmc" x1="160.6" y1="281.5" x2="183.6" y2="223.8"/><linearGradient id="c453" href="#cmc" x1="188" y1="285.6" x2="194.7" y2="201.2"/><linearGradient id="c454" href="#cmc" x1="225" y1="283.1" x2="230.5" y2="205.1"/><linearGradient id="c455" href="#cmc" x1="221.4" y1="285.5" x2="245.6" y2="210.2"/><linearGradient id="c456" href="#cmc" x1="160.3" y1="286.1" x2="191.6" y2="211.5"/><linearGradient id="c457" href="#cmc" x1="194.2" y1="284.1" x2="200.5" y2="212.1"/><linearGradient id="c458" href="#cmc" x1="190.2" y1="281.9" x2="212.4" y2="218.5"/><linearGradient id="c459" href="#cmc" x1="160.5" y1="286.3" x2="173.1" y2="202.2"/><linearGradient id="c460" href="#cmc" x1="190.6" y1="286.7" x2="221" y2="204.1"/><linearGradient id="c461" href="#cmc" x1="214.9" y1="279.5" x2="237.3" y2="206.4"/><linearGradient id="c462" href="#cmc" x1="221.7" y1="285.6" x2="228" y2="204.3"/><linearGradient id="c463" href="#cmc" x1="165.3" y1="279.1" x2="185.3" y2="265.1"/><linearGradient id="c464" href="#cmc" x1="165.3" y1="283.3" x2="185.3" y2="233.1"/><linearGradient id="c465" href="#cmc" x1="190.3" y1="286.4" x2="238.6" y2="226.5"/><linearGradient id="c466" href="#cmc" x1="227.7" y1="284.1" x2="234.2" y2="205.2"/><linearGradient id="c467" href="#cmc" x1="224.8" y1="286.6" x2="249.3" y2="210.3"/><linearGradient id="c468" href="#cmc" x1="162.8" y1="287.3" x2="195.9" y2="208.6"/><linearGradient id="c469" href="#cmc" x1="190.8" y1="282.1" x2="214.1" y2="215.3"/><linearGradient id="c470" href="#cmc" x1="196.7" y1="285.1" x2="203.3" y2="209.9"/><linearGradient id="c471" href="#cmc" x1="163.2" y1="287.4" x2="171.3" y2="198.7"/><linearGradient id="c472" href="#cmc" x1="218.5" y1="280.6" x2="241.1" y2="206.5"/><linearGradient id="c473" href="#cmc" x1="168.1" y1="284" x2="189.6" y2="240.2"/><linearGradient id="c474" href="#cmc" x1="193.6" y1="287.8" x2="222.7" y2="208.6"/><linearGradient id="c475" href="#cmc" x1="225.1" y1="286.7" x2="231.3" y2="204.3"/><linearGradient id="c476" href="#cmc" x1="168.4" y1="284.5" x2="187.6" y2="236.3"/><linearGradient id="c477" href="#cmc" x1="231.1" y1="285.1" x2="237.9" y2="205.4"/><linearGradient id="c478" href="#cmc" x1="193.5" y1="287.6" x2="232.9" y2="218.8"/><linearGradient id="c479" href="#cmc" x1="228.3" y1="287.7" x2="253.1" y2="210.5"/><linearGradient id="c480" href="#cmc" x1="165.5" y1="288.5" x2="202.4" y2="200.5"/><linearGradient id="c481" href="#cmc" x1="197.8" y1="284.5" x2="219.5" y2="222.4"/><linearGradient id="c482" href="#cmc" x1="165.6" y1="288.6" x2="192.3" y2="194.9"/><linearGradient id="c483" href="#cmc" x1="196.1" y1="277.2" x2="226.8" y2="253"/><linearGradient id="c484" href="#cmc" x1="228.5" y1="287.8" x2="235" y2="204.4"/><linearGradient id="c485" href="#cmc" x1="172.1" y1="287" x2="178" y2="216.4"/><linearGradient id="c486" href="#cmc" x1="196.7" y1="288.9" x2="225.4" y2="211"/><linearGradient id="c487" href="#cmc" x1="169.1" y1="284.9" x2="192.5" y2="226.1"/><linearGradient id="c488" href="#cmc" x1="197.1" y1="289" x2="201.1" y2="202.6"/><linearGradient id="c489" href="#cmc" x1="168.2" y1="289.7" x2="206.8" y2="198"/><linearGradient id="c490" href="#cmc" x1="202.2" y1="282.6" x2="227.6" y2="259.6"/><linearGradient id="c491" href="#cmc" x1="203" y1="286.2" x2="221.8" y2="232.2"/><linearGradient id="c492" href="#cmc" x1="167.9" y1="289" x2="226.7" y2="249.7"/><linearGradient id="c493" href="#cmc" x1="199.9" y1="290.1" x2="230.8" y2="206.1"/><linearGradient id="c494" href="#cmc" x1="172.7" y1="287.1" x2="189.7" y2="219.3"/><linearGradient id="c495" href="#cmc" x1="171.2" y1="285.8" x2="195.6" y2="224.6"/><linearGradient id="c496" href="#cmc" x1="200.2" y1="290.3" x2="206.8" y2="198.1"/><linearGradient id="c497" href="#cmc" x1="171.1" y1="290.8" x2="205.9" y2="207.9"/><linearGradient id="c498" href="#cmc" x1="206.6" y1="287.9" x2="220.6" y2="224.6"/><linearGradient id="c499" href="#cmc" x1="205.8" y1="287.2" x2="226" y2="229.2"/><linearGradient id="c500" href="#cmc" x1="171" y1="290.8" x2="208.4" y2="210.1"/><linearGradient id="c501" href="#cmc" x1="203.1" y1="291.5" x2="237.7" y2="197.4"/><linearGradient id="c502" href="#cmc" x1="176.8" y1="283.5" x2="196.4" y2="271"/><linearGradient id="c503" href="#cmc" x1="176.7" y1="287.8" x2="197.4" y2="235.9"/><linearGradient id="c504" href="#cmc" x1="203" y1="291.4" x2="244.2" y2="202.1"/><linearGradient id="c505" href="#cmc" x1="174" y1="292" x2="208.6" y2="209.6"/><linearGradient id="c506" href="#cmc" x1="174.4" y1="292.2" x2="181" y2="198.7"/><linearGradient id="c507" href="#cmc" x1="183.5" y1="291.5" x2="115.8" y2="254.9"/><linearGradient id="c508" href="#cmc" x1="176.9" y1="293.4" x2="216.2" y2="199.7"/><linearGradient id="c509" href="#cmc" x1="177.6" y1="293.5" x2="167.1" y2="192.6"/><linearGradient id="c510" href="#cmc" x1="185.1" y1="291.4" x2="183.9" y2="256.6"/><linearGradient id="c511" href="#cmc" x1="184.7" y1="290.5" x2="191.2" y2="274.2"/><linearGradient id="c512" href="#cmc" x1="178.9" y1="293.1" x2="287" y2="310.9"/></defs><path d="M149.9 348.4 L103.8 312.8 L191.3 299.6 L254.2 326.5z" fill="#7800b2"/><path d="M180.2 342L184.7 341.1 181.6 339.2z" fill="url(#c1)" stroke="url(#c1)" stroke-width=".3"/><path d="M180.2 342L181.6 339.2 177.2 340.1z" fill="#7700b4" stroke="#7700b4" stroke-width=".3"/><path d="M184.7 341.1L189.1 340.2 186 338.3z" fill="url(#c2)" stroke="url(#c2)" stroke-width=".3"/><path d="M184.7 341.1L186 338.3 181.6 339.2z" fill="url(#c3)" stroke="url(#c3)" stroke-width=".3"/><path d="M202.9 337.2L207.6 336.3 204.4 334.5z" fill="url(#c4)" stroke="url(#c4)" stroke-width=".3"/><path d="M202.9 337.2L204.4 334.5 199.7 335.4z" fill="url(#c5)" stroke="url(#c5)" stroke-width=".3"/><path d="M207.6 336.3L212.2 335.3 209 333.5z" fill="url(#c6)" stroke="url(#c6)" stroke-width=".3"/><path d="M207.6 336.3L209 333.5 204.4 334.5z" fill="url(#c7)" stroke="url(#c7)" stroke-width=".3"/><path d="M227.6 332L233.9 330.7 230.4 329.1z" fill="url(#c8)" stroke="url(#c8)" stroke-width=".3"/><path d="M227.6 332L230.4 329.1 224.2 330.4z" fill="url(#c9)" stroke="url(#c9)" stroke-width=".3"/><path d="M233.9 330.7L236.7 330.1 233.3 328.5z" fill="url(#c10)" stroke="url(#c10)" stroke-width=".3"/><path d="M233.9 330.7L233.3 328.5 230.4 329.1z" fill="url(#c11)" stroke="url(#c11)" stroke-width=".3"/><path d="M177.2 340.1L181.6 339.2 178.7 337.3z" fill="url(#c12)" stroke="url(#c12)" stroke-width=".3"/><path d="M177.2 340.1L178.7 337.3 174.3 338.2z" fill="url(#c13)" stroke="url(#c13)" stroke-width=".3"/><path d="M181.6 339.2L186 338.3 183 336.5z" fill="#7700b4" stroke="#7700b4" stroke-width=".3"/><path d="M181.6 339.2L183 336.5 178.7 337.3z" fill="url(#c14)" stroke="url(#c14)" stroke-width=".3"/><path d="M199.7 335.4L204.4 334.5 201.2 332.8z" fill="url(#c15)" stroke="url(#c15)" stroke-width=".3"/><path d="M199.7 335.4L201.2 332.8 196.6 333.7z" fill="url(#c16)" stroke="url(#c16)" stroke-width=".3"/><path d="M204.4 334.5L209 333.5 205.8 331.8z" fill="url(#c17)" stroke="url(#c17)" stroke-width=".3"/><path d="M204.4 334.5L205.8 331.8 201.2 332.8z" fill="url(#c18)" stroke="url(#c18)" stroke-width=".3"/><path d="M224.2 330.4L230.4 329.1 227.1 327.5z" fill="url(#c19)" stroke="url(#c19)" stroke-width=".3"/><path d="M224.2 330.4L227.1 327.5 220.9 328.8z" fill="url(#c20)" stroke="url(#c20)" stroke-width=".3"/><path d="M230.4 329.1L233.3 328.5 229.9 326.9z" fill="url(#c21)" stroke="url(#c21)" stroke-width=".3"/><path d="M230.4 329.1L229.9 326.9 227.1 327.5z" fill="url(#c22)" stroke="url(#c22)" stroke-width=".3"/><path d="M174.3 338.2L178.7 337.3 175.8 335.5z" fill="url(#c23)" stroke="url(#c23)" stroke-width=".3"/><path d="M174.3 338.2L175.8 335.5 171.4 336.4z" fill="url(#c24)" stroke="url(#c24)" stroke-width=".3"/><path d="M178.7 337.3L183 336.5 180 334.7z" fill="url(#c25)" stroke="url(#c25)" stroke-width=".3"/><path d="M178.7 337.3L180 334.7 175.8 335.5z" fill="url(#c26)" stroke="url(#c26)" stroke-width=".3"/><path d="M196.6 333.7L201.2 332.8 198.1 331.1z" fill="url(#c27)" stroke="url(#c27)" stroke-width=".3"/><path d="M196.6 333.7L198.1 331.1 193.6 332z" fill="url(#c28)" stroke="url(#c28)" stroke-width=".3"/><path d="M201.2 332.8L205.8 331.8 202.6 330.2z" fill="url(#c29)" stroke="url(#c29)" stroke-width=".3"/><path d="M201.2 332.8L202.6 330.2 198.1 331.1z" fill="url(#c30)" stroke="url(#c30)" stroke-width=".3"/><path d="M220.9 328.8L227.1 327.5 223.8 325.9z" fill="url(#c31)" stroke="url(#c31)" stroke-width=".3"/><path d="M220.9 328.8L223.8 325.9 217.7 327.2z" fill="url(#c32)" stroke="url(#c32)" stroke-width=".3"/><path d="M227.1 327.5L229.9 326.9 226.6 325.4z" fill="url(#c33)" stroke="url(#c33)" stroke-width=".3"/><path d="M227.1 327.5L226.6 325.4 223.8 325.9z" fill="url(#c34)" stroke="url(#c34)" stroke-width=".3"/><path d="M171.4 336.4L175.8 335.5 173 333.8z" fill="url(#c35)" stroke="url(#c35)" stroke-width=".3"/><path d="M171.4 336.4L173 333.8 168.7 334.6z" fill="url(#c36)" stroke="url(#c36)" stroke-width=".3"/><path d="M175.8 335.5L180 334.7 177.2 333z" fill="url(#c37)" stroke="url(#c37)" stroke-width=".3"/><path d="M175.8 335.5L177.2 333 173 333.8z" fill="url(#c38)" stroke="url(#c38)" stroke-width=".3"/><path d="M193.6 332L198.1 331.1 195.1 329.4z" fill="url(#c39)" stroke="url(#c39)" stroke-width=".3"/><path d="M193.6 332L195.1 329.4 190.6 330.3z" fill="url(#c40)" stroke="url(#c40)" stroke-width=".3"/><path d="M198.1 331.1L202.6 330.2 199.6 328.6z" fill="url(#c41)" stroke="url(#c41)" stroke-width=".3"/><path d="M198.1 331.1L199.6 328.6 195.1 329.4z" fill="url(#c42)" stroke="url(#c42)" stroke-width=".3"/><path d="M217.7 327.2L223.8 325.9 220.6 324.4z" fill="url(#c43)" stroke="url(#c43)" stroke-width=".3"/><path d="M217.7 327.2L220.6 324.4 214.5 325.6z" fill="url(#c44)" stroke="url(#c44)" stroke-width=".3"/><path d="M223.8 325.9L226.6 325.4 223.4 323.9z" fill="url(#c45)" stroke="url(#c45)" stroke-width=".3"/><path d="M223.8 325.9L223.4 323.9 220.6 324.4z" fill="url(#c46)" stroke="url(#c46)" stroke-width=".3"/><path d="M168.7 334.6L173 333.8 170.2 332.1z" fill="url(#c47)" stroke="url(#c47)" stroke-width=".3"/><path d="M168.7 334.6L170.2 332.1 166 332.9z" fill="url(#c48)" stroke="url(#c48)" stroke-width=".3"/><path d="M173 333.8L177.2 333 174.4 331.3z" fill="url(#c49)" stroke="url(#c49)" stroke-width=".3"/><path d="M173 333.8L174.4 331.3 170.2 332.1z" fill="url(#c50)" stroke="url(#c50)" stroke-width=".3"/><path d="M190.6 330.3L195.1 329.4 192.2 327.8z" fill="url(#c51)" stroke="url(#c51)" stroke-width=".3"/><path d="M190.6 330.3L192.2 327.8 187.7 328.7z" fill="url(#c52)" stroke="url(#c52)" stroke-width=".3"/><path d="M195.1 329.4L199.6 328.6 196.6 327z" fill="url(#c53)" stroke="url(#c53)" stroke-width=".3"/><path d="M195.1 329.4L196.6 327 192.2 327.8z" fill="url(#c54)" stroke="url(#c54)" stroke-width=".3"/><path d="M214.5 325.6L220.6 324.4 217.5 323z" fill="url(#c55)" stroke="url(#c55)" stroke-width=".3"/><path d="M214.5 325.6L217.5 323 211.5 324.1z" fill="url(#c56)" stroke="url(#c56)" stroke-width=".3"/><path d="M220.6 324.4L223.4 323.9 220.2 322.4z" fill="url(#c57)" stroke="url(#c57)" stroke-width=".3"/><path d="M220.6 324.4L220.2 322.4 217.5 323z" fill="url(#c58)" stroke="url(#c58)" stroke-width=".3"/><path d="M166 332.9L170.2 332.1 167.5 330.4z" fill="url(#c59)" stroke="url(#c59)" stroke-width=".3"/><path d="M166 332.9L167.5 330.4 163.3 331.2z" fill="url(#c60)" stroke="url(#c60)" stroke-width=".3"/><path d="M170.2 332.1L174.4 331.3 171.7 329.6z" fill="url(#c61)" stroke="url(#c61)" stroke-width=".3"/><path d="M170.2 332.1L171.7 329.6 167.5 330.4z" fill="url(#c62)" stroke="url(#c62)" stroke-width=".3"/><path d="M187.7 328.7L192.2 327.8 189.3 326.3z" fill="url(#c63)" stroke="url(#c63)" stroke-width=".3"/><path d="M187.7 328.7L189.3 326.3 184.9 327.1z" fill="url(#c64)" stroke="url(#c64)" stroke-width=".3"/><path d="M192.2 327.8L196.6 327 193.7 325.4z" fill="url(#c65)" stroke="url(#c65)" stroke-width=".3"/><path d="M192.2 327.8L193.7 325.4 189.3 326.3z" fill="url(#c66)" stroke="url(#c66)" stroke-width=".3"/><path d="M211.5 324.1L217.5 323 214.4 321.5z" fill="url(#c67)" stroke="url(#c67)" stroke-width=".3"/><path d="M211.5 324.1L214.4 321.5 208.5 322.6z" fill="url(#c68)" stroke="url(#c68)" stroke-width=".3"/><path d="M217.5 323L220.2 322.4 217.2 321z" fill="url(#c69)" stroke="url(#c69)" stroke-width=".3"/><path d="M217.5 323L217.2 321 214.4 321.5z" fill="url(#c70)" stroke="url(#c70)" stroke-width=".3"/><path d="M163.3 331.2L167.5 330.4 164.9 328.8z" fill="url(#c71)" stroke="url(#c71)" stroke-width=".3"/><path d="M163.3 331.2L164.9 328.8 160.8 329.6z" fill="url(#c72)" stroke="url(#c72)" stroke-width=".3"/><path d="M167.5 330.4L171.7 329.6 169.1 328z" fill="url(#c73)" stroke="url(#c73)" stroke-width=".3"/><path d="M167.5 330.4L169.1 328 164.9 328.8z" fill="url(#c74)" stroke="url(#c74)" stroke-width=".3"/><path d="M184.9 327.1L189.3 326.3 186.6 324.7z" fill="url(#c75)" stroke="url(#c75)" stroke-width=".3"/><path d="M184.9 327.1L186.6 324.7 182.1 325.6z" fill="url(#c76)" stroke="url(#c76)" stroke-width=".3"/><path d="M189.3 326.3L193.7 325.4 190.9 323.9z" fill="url(#c77)" stroke="url(#c77)" stroke-width=".3"/><path d="M189.3 326.3L190.9 323.9 186.6 324.7z" fill="url(#c78)" stroke="url(#c78)" stroke-width=".3"/><path d="M208.5 322.6L214.4 321.5 211.5 320.1z" fill="url(#c79)" stroke="url(#c79)" stroke-width=".3"/><path d="M208.5 322.6L211.5 320.1 205.5 321.2z" fill="url(#c80)" stroke="url(#c80)" stroke-width=".3"/><path d="M214.4 321.5L217.2 321 214.2 319.6z" fill="url(#c81)" stroke="url(#c81)" stroke-width=".3"/><path d="M214.4 321.5L214.2 319.6 211.5 320.1z" fill="url(#c82)" stroke="url(#c82)" stroke-width=".3"/><path d="M160.8 329.6L164.9 328.8 162.4 327.2z" fill="url(#c83)" stroke="url(#c83)" stroke-width=".3"/><path d="M160.8 329.6L162.4 327.2 158.2 328z" fill="url(#c84)" stroke="url(#c84)" stroke-width=".3"/><path d="M164.9 328.8L169.1 328 166.5 326.5z" fill="url(#c85)" stroke="url(#c85)" stroke-width=".3"/><path d="M164.9 328.8L166.5 326.5 162.4 327.2z" fill="url(#c86)" stroke="url(#c86)" stroke-width=".3"/><path d="M182.1 325.6L186.6 324.7 183.8 323.3z" fill="url(#c87)" stroke="url(#c87)" stroke-width=".3"/><path d="M182.1 325.6L183.8 323.3 179.5 324.1z" fill="url(#c88)" stroke="url(#c88)" stroke-width=".3"/><path d="M186.6 324.7L190.9 323.9 188.2 322.5z" fill="url(#c89)" stroke="url(#c89)" stroke-width=".3"/><path d="M186.6 324.7L188.2 322.5 183.8 323.3z" fill="url(#c90)" stroke="url(#c90)" stroke-width=".3"/><path d="M205.5 321.2L211.5 320.1 208.5 318.7z" fill="url(#c91)" stroke="url(#c91)" stroke-width=".3"/><path d="M205.5 321.2L208.5 318.7 202.6 319.8z" fill="url(#c92)" stroke="url(#c92)" stroke-width=".3"/><path d="M211.5 320.1L214.2 319.6 211.2 318.2z" fill="url(#c93)" stroke="url(#c93)" stroke-width=".3"/><path d="M211.5 320.1L211.2 318.2 208.5 318.7z" fill="url(#c94)" stroke="url(#c94)" stroke-width=".3"/><path d="M158.2 328L162.4 327.2 159.9 325.7z" fill="url(#c95)" stroke="url(#c95)" stroke-width=".3"/><path d="M158.2 328L159.9 325.7 155.8 326.4z" fill="url(#c96)" stroke="url(#c96)" stroke-width=".3"/><path d="M162.4 327.2L166.5 326.5 164 324.9z" fill="url(#c97)" stroke="url(#c97)" stroke-width=".3"/><path d="M162.4 327.2L164 324.9 159.9 325.7z" fill="url(#c98)" stroke="url(#c98)" stroke-width=".3"/><path d="M179.5 324.1L183.8 323.3 181.2 321.8z" fill="url(#c99)" stroke="url(#c99)" stroke-width=".3"/><path d="M179.5 324.1L181.2 321.8 176.8 322.6z" fill="url(#c100)" stroke="url(#c100)" stroke-width=".3"/><path d="M183.8 323.3L188.2 322.5 185.5 321z" fill="url(#c101)" stroke="url(#c101)" stroke-width=".3"/><path d="M183.8 323.3L185.5 321 181.2 321.8z" fill="url(#c102)" stroke="url(#c102)" stroke-width=".3"/><path d="M202.6 319.8L208.5 318.7 205.7 317.4z" fill="url(#c103)" stroke="url(#c103)" stroke-width=".3"/><path d="M202.6 319.8L205.7 317.4 199.8 318.4z" fill="url(#c104)" stroke="url(#c104)" stroke-width=".3"/><path d="M208.5 318.7L211.2 318.2 208.4 316.9z" fill="url(#c105)" stroke="url(#c105)" stroke-width=".3"/><path d="M208.5 318.7L208.4 316.9 205.7 317.4z" fill="url(#c106)" stroke="url(#c106)" stroke-width=".3"/><path d="M155.8 326.4L159.9 325.7 157.5 324.2z" fill="url(#c107)" stroke="url(#c107)" stroke-width=".3"/><path d="M155.8 326.4L157.5 324.2 153.4 324.9z" fill="#7600b6" stroke="#7600b6" stroke-width=".3"/><path d="M159.9 325.7L164 324.9 161.5 323.4z" fill="url(#c108)" stroke="url(#c108)" stroke-width=".3"/><path d="M159.9 325.7L161.5 323.4 157.5 324.2z" fill="url(#c109)" stroke="url(#c109)" stroke-width=".3"/><path d="M176.8 322.6L181.2 321.8 178.6 320.4z" fill="url(#c110)" stroke="url(#c110)" stroke-width=".3"/><path d="M176.8 322.6L178.6 320.4 174.3 321.2z" fill="url(#c111)" stroke="url(#c111)" stroke-width=".3"/><path d="M181.2 321.8L185.5 321 182.8 319.6z" fill="url(#c112)" stroke="url(#c112)" stroke-width=".3"/><path d="M181.2 321.8L182.8 319.6 178.6 320.4z" fill="url(#c113)" stroke="url(#c113)" stroke-width=".3"/><path d="M199.8 318.4L205.7 317.4 202.9 316z" fill="url(#c114)" stroke="url(#c114)" stroke-width=".3"/><path d="M199.8 318.4L202.9 316 197.1 317.1z" fill="url(#c115)" stroke="url(#c115)" stroke-width=".3"/><path d="M205.7 317.4L208.4 316.9 205.6 315.6z" fill="url(#c116)" stroke="url(#c116)" stroke-width=".3"/><path d="M205.7 317.4L205.6 315.6 202.9 316z" fill="url(#c117)" stroke="url(#c117)" stroke-width=".3"/><path d="M174.3 321.2L178.6 320.4 176 319z" fill="url(#c118)" stroke="url(#c118)" stroke-width=".3"/><path d="M174.3 321.2L176 319 171.8 319.8z" fill="url(#c119)" stroke="url(#c119)" stroke-width=".3"/><path d="M178.6 320.4L182.8 319.6 180.3 318.3z" fill="url(#c120)" stroke="url(#c120)" stroke-width=".3"/><path d="M178.6 320.4L180.3 318.3 176 319z" fill="url(#c121)" stroke="url(#c121)" stroke-width=".3"/><path d="M197.1 317.1L202.9 316 200.2 314.8z" fill="url(#c122)" stroke="url(#c122)" stroke-width=".3"/><path d="M197.1 317.1L200.2 314.8 194.4 315.8z" fill="url(#c123)" stroke="url(#c123)" stroke-width=".3"/><path d="M202.9 316L205.6 315.6 202.8 314.3z" fill="url(#c124)" stroke="url(#c124)" stroke-width=".3"/><path d="M202.9 316L202.8 314.3 200.2 314.8z" fill="url(#c125)" stroke="url(#c125)" stroke-width=".3"/><path d="M151.1 323.4L155.1 322.7 152.8 321.2z" fill="url(#c126)" stroke="url(#c126)" stroke-width=".3"/><path d="M151.1 323.4L152.8 321.2 148.8 321.9z" fill="url(#c127)" stroke="url(#c127)" stroke-width=".3"/><path d="M155.1 322.7L159.1 322 156.8 320.6z" fill="#7600b6" stroke="#7600b6" stroke-width=".3"/><path d="M155.1 322.7L156.8 320.6 152.8 321.2z" fill="url(#c128)" stroke="url(#c128)" stroke-width=".3"/><path d="M171.8 319.8L176 319 173.6 317.6z" fill="url(#c129)" stroke="url(#c129)" stroke-width=".3"/><path d="M171.8 319.8L173.6 317.6 169.3 318.4z" fill="url(#c130)" stroke="url(#c130)" stroke-width=".3"/><path d="M176 319L180.3 318.3 177.7 316.9z" fill="url(#c131)" stroke="url(#c131)" stroke-width=".3"/><path d="M176 319L177.7 316.9 173.6 317.6z" fill="url(#c132)" stroke="url(#c132)" stroke-width=".3"/><path d="M194.4 315.8L200.2 314.8 197.5 313.5z" fill="url(#c133)" stroke="url(#c133)" stroke-width=".3"/><path d="M194.4 315.8L197.5 313.5 191.8 314.5z" fill="url(#c134)" stroke="url(#c134)" stroke-width=".3"/><path d="M200.2 314.8L202.8 314.3 200.1 313z" fill="url(#c135)" stroke="url(#c135)" stroke-width=".3"/><path d="M200.2 314.8L200.1 313 197.5 313.5z" fill="url(#c136)" stroke="url(#c136)" stroke-width=".3"/><path d="M148.8 321.9L152.8 321.2 150.5 319.8z" fill="url(#c137)" stroke="url(#c137)" stroke-width=".3"/><path d="M148.8 321.9L150.5 319.8 146.6 320.5z" fill="url(#c138)" stroke="url(#c138)" stroke-width=".3"/><path d="M152.8 321.2L156.8 320.6 154.5 319.2z" fill="url(#c139)" stroke="url(#c139)" stroke-width=".3"/><path d="M152.8 321.2L154.5 319.2 150.5 319.8z" fill="url(#c140)" stroke="url(#c140)" stroke-width=".3"/><path d="M169.3 318.4L173.6 317.6 171.1 316.3z" fill="url(#c141)" stroke="url(#c141)" stroke-width=".3"/><path d="M169.3 318.4L171.1 316.3 166.9 317z" fill="url(#c142)" stroke="url(#c142)" stroke-width=".3"/><path d="M173.6 317.6L177.7 316.9 175.3 315.6z" fill="url(#c143)" stroke="url(#c143)" stroke-width=".3"/><path d="M173.6 317.6L175.3 315.6 171.1 316.3z" fill="url(#c144)" stroke="url(#c144)" stroke-width=".3"/><path d="M191.8 314.5L197.5 313.5 194.9 312.3z" fill="url(#c145)" stroke="url(#c145)" stroke-width=".3"/><path d="M191.8 314.5L194.9 312.3 189.2 313.2z" fill="url(#c146)" stroke="url(#c146)" stroke-width=".3"/><path d="M197.5 313.5L200.1 313 197.5 311.8z" fill="url(#c147)" stroke="url(#c147)" stroke-width=".3"/><path d="M197.5 313.5L197.5 311.8 194.9 312.3z" fill="url(#c148)" stroke="url(#c148)" stroke-width=".3"/><path d="M146.6 320.5L150.5 319.8 148.3 318.5z" fill="url(#c149)" stroke="url(#c149)" stroke-width=".3"/><path d="M146.6 320.5L148.3 318.5 144.4 319.1z" fill="url(#c150)" stroke="url(#c150)" stroke-width=".3"/><path d="M150.5 319.8L154.5 319.2 152.2 317.8z" fill="url(#c151)" stroke="url(#c151)" stroke-width=".3"/><path d="M150.5 319.8L152.2 317.8 148.3 318.5z" fill="url(#c152)" stroke="url(#c152)" stroke-width=".3"/><path d="M166.9 317L171.1 316.3 168.8 315z" fill="url(#c153)" stroke="url(#c153)" stroke-width=".3"/><path d="M166.9 317L168.8 315 164.6 315.7z" fill="url(#c154)" stroke="url(#c154)" stroke-width=".3"/><path d="M171.1 316.3L175.3 315.6 172.9 314.3z" fill="url(#c155)" stroke="url(#c155)" stroke-width=".3"/><path d="M171.1 316.3L172.9 314.3 168.8 315z" fill="url(#c156)" stroke="url(#c156)" stroke-width=".3"/><path d="M189.2 313.2L194.9 312.3 192.4 311z" fill="url(#c157)" stroke="url(#c157)" stroke-width=".3"/><path d="M189.2 313.2L192.4 311 186.7 312z" fill="url(#c158)" stroke="url(#c158)" stroke-width=".3"/><path d="M194.9 312.3L197.5 311.8 195 310.6z" fill="url(#c159)" stroke="url(#c159)" stroke-width=".3"/><path d="M194.9 312.3L195 310.6 192.4 311z" fill="url(#c160)" stroke="url(#c160)" stroke-width=".3"/><path d="M144.4 319.1L148.3 318.5 146.2 317.1z" fill="url(#c161)" stroke="url(#c161)" stroke-width=".3"/><path d="M144.4 319.1L146.2 317.1 142.3 317.8z" fill="url(#c162)" stroke="url(#c162)" stroke-width=".3"/><path d="M148.3 318.5L152.2 317.8 150 316.5z" fill="url(#c163)" stroke="url(#c163)" stroke-width=".3"/><path d="M148.3 318.5L150 316.5 146.2 317.1z" fill="url(#c164)" stroke="url(#c164)" stroke-width=".3"/><path d="M164.6 315.7L168.8 315 166.4 313.8z" fill="url(#c165)" stroke="url(#c165)" stroke-width=".3"/><path d="M164.6 315.7L166.4 313.8 162.3 314.4z" fill="url(#c166)" stroke="url(#c166)" stroke-width=".3"/><path d="M168.8 315L172.9 314.3 170.5 313.1z" fill="url(#c167)" stroke="url(#c167)" stroke-width=".3"/><path d="M168.8 315L170.5 313.1 166.4 313.8z" fill="url(#c168)" stroke="url(#c168)" stroke-width=".3"/><path d="M186.7 312L192.4 311 189.9 309.9z" fill="url(#c169)" stroke="url(#c169)" stroke-width=".3"/><path d="M186.7 312L189.9 309.9 184.3 310.8z" fill="url(#c170)" stroke="url(#c170)" stroke-width=".3"/><path d="M192.4 311L195 310.6 192.5 309.4z" fill="url(#c171)" stroke="url(#c171)" stroke-width=".3"/><path d="M192.4 311L192.5 309.4 189.9 309.9z" fill="url(#c172)" stroke="url(#c172)" stroke-width=".3"/><path d="M142.3 317.8L146.2 317.1 144.1 315.8z" fill="url(#c173)" stroke="url(#c173)" stroke-width=".3"/><path d="M142.3 317.8L144.1 315.8 140.2 316.4z" fill="url(#c174)" stroke="url(#c174)" stroke-width=".3"/><path d="M146.2 317.1L150 316.5 147.9 315.2z" fill="url(#c175)" stroke="url(#c175)" stroke-width=".3"/><path d="M146.2 317.1L147.9 315.2 144.1 315.8z" fill="url(#c176)" stroke="url(#c176)" stroke-width=".3"/><path d="M162.3 314.4L166.4 313.8 164.2 312.5z" fill="url(#c177)" stroke="url(#c177)" stroke-width=".3"/><path d="M162.3 314.4L164.2 312.5 160.1 313.2z" fill="url(#c178)" stroke="url(#c178)" stroke-width=".3"/><path d="M166.4 313.8L170.5 313.1 168.2 311.9z" fill="url(#c179)" stroke="url(#c179)" stroke-width=".3"/><path d="M166.4 313.8L168.2 311.9 164.2 312.5z" fill="url(#c180)" stroke="url(#c180)" stroke-width=".3"/><path d="M184.3 310.8L189.9 309.9 187.5 308.7z" fill="url(#c181)" stroke="url(#c181)" stroke-width=".3"/><path d="M184.3 310.8L187.5 308.7 181.9 309.6z" fill="url(#c182)" stroke="url(#c182)" stroke-width=".3"/><path d="M189.9 309.9L192.5 309.4 190 308.3z" fill="url(#c183)" stroke="url(#c183)" stroke-width=".3"/><path d="M189.9 309.9L190 308.3 187.5 308.7z" fill="url(#c184)" stroke="url(#c184)" stroke-width=".3"/><path d="M140.2 316.4L144.1 315.8 142 314.5z" fill="url(#c185)" stroke="url(#c185)" stroke-width=".3"/><path d="M140.2 316.4L142 314.5 138.2 315.1z" fill="url(#c186)" stroke="url(#c186)" stroke-width=".3"/><path d="M144.1 315.8L147.9 315.2 145.8 313.9z" fill="url(#c187)" stroke="url(#c187)" stroke-width=".3"/><path d="M144.1 315.8L145.8 313.9 142 314.5z" fill="url(#c188)" stroke="url(#c188)" stroke-width=".3"/><path d="M160.1 313.2L164.2 312.5 161.9 311.3z" fill="url(#c189)" stroke="url(#c189)" stroke-width=".3"/><path d="M160.1 313.2L161.9 311.3 157.9 312z" fill="url(#c190)" stroke="url(#c190)" stroke-width=".3"/><path d="M164.2 312.5L168.2 311.9 166 310.7z" fill="url(#c191)" stroke="url(#c191)" stroke-width=".3"/><path d="M164.2 312.5L166 310.7 161.9 311.3z" fill="url(#c192)" stroke="url(#c192)" stroke-width=".3"/><path d="M181.9 309.6L187.5 308.7 185.1 307.6z" fill="url(#c193)" stroke="url(#c193)" stroke-width=".3"/><path d="M181.9 309.6L185.1 307.6 179.5 308.5z" fill="url(#c194)" stroke="url(#c194)" stroke-width=".3"/><path d="M187.5 308.7L190 308.3 187.6 307.2z" fill="url(#c195)" stroke="url(#c195)" stroke-width=".3"/><path d="M187.5 308.7L187.6 307.2 185.1 307.6z" fill="url(#c196)" stroke="url(#c196)" stroke-width=".3"/><path d="M138.2 315.1L142 314.5 140 313.3z" fill="url(#c197)" stroke="url(#c197)" stroke-width=".3"/><path d="M138.2 315.1L140 313.3 136.2 313.9z" fill="url(#c198)" stroke="url(#c198)" stroke-width=".3"/><path d="M142 314.5L145.8 313.9 143.8 312.7z" fill="url(#c199)" stroke="url(#c199)" stroke-width=".3"/><path d="M142 314.5L143.8 312.7 140 313.3z" fill="url(#c200)" stroke="url(#c200)" stroke-width=".3"/><path d="M157.9 312L161.9 311.3 159.8 310.1z" fill="url(#c201)" stroke="url(#c201)" stroke-width=".3"/><path d="M157.9 312L159.8 310.1 155.7 310.8z" fill="url(#c202)" stroke="url(#c202)" stroke-width=".3"/><path d="M161.9 311.3L166 310.7 163.8 309.5z" fill="url(#c203)" stroke="url(#c203)" stroke-width=".3"/><path d="M161.9 311.3L163.8 309.5 159.8 310.1z" fill="url(#c204)" stroke="url(#c204)" stroke-width=".3"/><path d="M179.5 308.5L185.1 307.6 182.7 306.5z" fill="url(#c205)" stroke="url(#c205)" stroke-width=".3"/><path d="M179.5 308.5L182.7 306.5 177.2 307.3z" fill="url(#c206)" stroke="url(#c206)" stroke-width=".3"/><path d="M185.1 307.6L187.6 307.2 185.2 306.1z" fill="url(#c207)" stroke="url(#c207)" stroke-width=".3"/><path d="M185.1 307.6L185.2 306.1 182.7 306.5z" fill="url(#c208)" stroke="url(#c208)" stroke-width=".3"/><path d="M136.2 313.9L140 313.3 138 312z" fill="url(#c209)" stroke="url(#c209)" stroke-width=".3"/><path d="M136.2 313.9L138 312 134.3 312.6z" fill="url(#c210)" stroke="url(#c210)" stroke-width=".3"/><path d="M140 313.3L143.8 312.7 141.8 311.5z" fill="url(#c211)" stroke="url(#c211)" stroke-width=".3"/><path d="M140 313.3L141.8 311.5 138 312z" fill="url(#c212)" stroke="url(#c212)" stroke-width=".3"/><path d="M155.7 310.8L159.8 310.1 157.6 309z" fill="url(#c213)" stroke="url(#c213)" stroke-width=".3"/><path d="M155.7 310.8L157.6 309 153.6 309.6z" fill="url(#c214)" stroke="url(#c214)" stroke-width=".3"/><path d="M159.8 310.1L163.8 309.5 161.6 308.3z" fill="url(#c215)" stroke="url(#c215)" stroke-width=".3"/><path d="M159.8 310.1L161.6 308.3 157.6 309z" fill="url(#c216)" stroke="url(#c216)" stroke-width=".3"/><path d="M177.2 307.3L182.7 306.5 180.4 305.4z" fill="url(#c217)" stroke="url(#c217)" stroke-width=".3"/><path d="M177.2 307.3L180.4 305.4 175 306.2z" fill="url(#c218)" stroke="url(#c218)" stroke-width=".3"/><path d="M182.7 306.5L185.2 306.1 182.9 305z" fill="url(#c219)" stroke="url(#c219)" stroke-width=".3"/><path d="M182.7 306.5L182.9 305 180.4 305.4z" fill="url(#c220)" stroke="url(#c220)" stroke-width=".3"/><path d="M134.3 312.6L138 312 136.1 310.8z" fill="url(#c221)" stroke="url(#c221)" stroke-width=".3"/><path d="M134.3 312.6L136.1 310.8 132.4 311.4z" fill="url(#c222)" stroke="url(#c222)" stroke-width=".3"/><path d="M138 312L141.8 311.5 139.8 310.3z" fill="url(#c223)" stroke="url(#c223)" stroke-width=".3"/><path d="M138 312L139.8 310.3 136.1 310.8z" fill="url(#c224)" stroke="url(#c224)" stroke-width=".3"/><path d="M153.6 309.6L157.6 309 155.6 307.8z" fill="url(#c225)" stroke="url(#c225)" stroke-width=".3"/><path d="M153.6 309.6L155.6 307.8 151.6 308.4z" fill="url(#c226)" stroke="url(#c226)" stroke-width=".3"/><path d="M157.6 309L161.6 308.3 159.5 307.2z" fill="url(#c227)" stroke="url(#c227)" stroke-width=".3"/><path d="M157.6 309L159.5 307.2 155.6 307.8z" fill="url(#c228)" stroke="url(#c228)" stroke-width=".3"/><path d="M175 306.2L180.4 305.4 178.2 304.3z" fill="url(#c229)" stroke="url(#c229)" stroke-width=".3"/><path d="M175 306.2L178.2 304.3 172.8 305.1z" fill="url(#c230)" stroke="url(#c230)" stroke-width=".3"/><path d="M180.4 305.4L182.9 305 180.7 303.9z" fill="url(#c231)" stroke="url(#c231)" stroke-width=".3"/><path d="M180.4 305.4L180.7 303.9 178.2 304.3z" fill="url(#c232)" stroke="url(#c232)" stroke-width=".3"/><path d="M132.4 311.4L136.1 310.8 134.2 309.7z" fill="url(#c233)" stroke="url(#c233)" stroke-width=".3"/><path d="M132.4 311.4L134.2 309.7 130.5 310.2z" fill="url(#c234)" stroke="url(#c234)" stroke-width=".3"/><path d="M136.1 310.8L139.8 310.3 137.9 309.1z" fill="url(#c235)" stroke="url(#c235)" stroke-width=".3"/><path d="M136.1 310.8L137.9 309.1 134.2 309.7z" fill="url(#c236)" stroke="url(#c236)" stroke-width=".3"/><path d="M151.6 308.4L155.6 307.8 153.5 306.7z" fill="url(#c237)" stroke="url(#c237)" stroke-width=".3"/><path d="M151.6 308.4L153.5 306.7 149.6 307.3z" fill="url(#c238)" stroke="url(#c238)" stroke-width=".3"/><path d="M155.6 307.8L159.5 307.2 157.4 306.1z" fill="url(#c239)" stroke="url(#c239)" stroke-width=".3"/><path d="M155.6 307.8L157.4 306.1 153.5 306.7z" fill="url(#c240)" stroke="url(#c240)" stroke-width=".3"/><path d="M172.8 305.1L178.2 304.3 176 303.3z" fill="url(#c241)" stroke="url(#c241)" stroke-width=".3"/><path d="M172.8 305.1L176 303.3 170.6 304.1z" fill="url(#c242)" stroke="url(#c242)" stroke-width=".3"/><path d="M178.2 304.3L180.7 303.9 178.4 302.9z" fill="url(#c243)" stroke="url(#c243)" stroke-width=".3"/><path d="M178.2 304.3L178.4 302.9 176 303.3z" fill="url(#c244)" stroke="url(#c244)" stroke-width=".3"/><path d="M130.5 310.2L134.2 309.7 132.3 308.5z" fill="url(#c245)" stroke="url(#c245)" stroke-width=".3"/><path d="M130.5 310.2L132.3 308.5 128.7 309.1z" fill="url(#c246)" stroke="url(#c246)" stroke-width=".3"/><path d="M134.2 309.7L137.9 309.1 136 308z" fill="url(#c247)" stroke="url(#c247)" stroke-width=".3"/><path d="M134.2 309.7L136 308 132.3 308.5z" fill="url(#c248)" stroke="url(#c248)" stroke-width=".3"/><path d="M149.6 307.3L153.5 306.7 151.5 305.6z" fill="url(#c249)" stroke="url(#c249)" stroke-width=".3"/><path d="M149.6 307.3L151.5 305.6 147.6 306.2z" fill="url(#c250)" stroke="url(#c250)" stroke-width=".3"/><path d="M153.5 306.7L157.4 306.1 155.4 305z" fill="url(#c251)" stroke="url(#c251)" stroke-width=".3"/><path d="M153.5 306.7L155.4 305 151.5 305.6z" fill="url(#c252)" stroke="url(#c252)" stroke-width=".3"/><path d="M170.6 304.1L176 303.3 173.8 302.2z" fill="url(#c253)" stroke="url(#c253)" stroke-width=".3"/><path d="M170.6 304.1L173.8 302.2 168.5 303z" fill="url(#c254)" stroke="url(#c254)" stroke-width=".3"/><path d="M176 303.3L178.4 302.9 176.3 301.9z" fill="url(#c255)" stroke="url(#c255)" stroke-width=".3"/><path d="M176 303.3L176.3 301.9 173.8 302.2z" fill="url(#c256)" stroke="url(#c256)" stroke-width=".3"/><path d="M174.6 343.2L124 309.8M196.6 338.6L142.3 307M217.3 334.2L159.7 304.4M246.5 328.1L184.7 300.6" stroke="#fff" stroke-width="1.3"/><path d="M149.6 297.6 L103 273.9 L191.6 265 L255.5 282.8z" fill="#7010c8"/><path d="M174.8 294.1L123.5 271.8M197.2 291L142 270M218.1 288.1L159.6 268.2M247.7 283.9L184.9 265.7" stroke="#ffc0b0" stroke-width="1.2"/><path d="M149.6 297.6h0M153.2 297.2h0M156.7 296.7h0M160.1 296.2h0M163.5 295.7h0M166.9 295.2h0M170.3 294.8h0M173.6 294.3h0M176.9 293.8h0M180.2 293.4h0M189.8 292h0M193 291.6h0M196.1 291.2h0M199.2 290.7h0M202.2 290.3h0M214.2 288.6h0M217.1 288.2h0M220 287.8h0M222.9 287.4h0M225.7 287h0M228.6 286.6h0M239.6 285.1h0M242.3 284.7h0M245 284.3h0M247.7 283.9h0M250.3 283.6h0M252.9 283.2h0M255.5 282.8h0M146.9 296.2h0M150.4 295.8h0M153.8 295.3h0M157.3 294.8h0M160.6 294.4h0M164 293.9h0M167.3 293.4h0M170.6 293h0M173.9 292.5h0M177.1 292.1h0M180.3 291.6h0M183.5 291.2h0M186.7 290.8h0M189.8 290.4h0M192.9 289.9h0M195.9 289.5h0M199 289.1h0M210.8 287.5h0M213.7 287.1h0M216.6 286.7h0M219.5 286.3h0M222.3 285.9h0M225.1 285.5h0M236.1 284h0M238.8 283.6h0M241.4 283.3h0M244.1 282.9h0M246.7 282.5h0M249.3 282.2h0M251.9 281.8h0M144.2 294.9h0M147.7 294.4h0M151.1 294h0M154.5 293.5h0M157.8 293h0M161.2 292.6h0M164.4 292.1h0M167.7 291.7h0M170.9 291.3h0M174.2 290.8h0M183.6 289.6h0M186.7 289.1h0M189.8 288.7h0M192.8 288.3h0M195.8 287.9h0M207.6 286.3h0M210.5 285.9h0M213.3 285.6h0M216.1 285.2h0M218.9 284.8h0M221.7 284.4h0M232.6 282.9h0M235.3 282.6h0M237.9 282.2h0M240.6 281.9h0M243.2 281.5h0M245.7 281.2h0M248.3 280.8h0M141.6 293.6h0M145 293.1h0M148.4 292.6h0M151.8 292.2h0M155.1 291.8h0M158.4 291.3h0M161.6 290.9h0M164.9 290.5h0M168.1 290h0M171.3 289.6h0M180.6 288.4h0M183.7 288h0M186.7 287.6h0M189.7 287.2h0M192.7 286.8h0M204.4 285.2h0M207.2 284.8h0M210.1 284.5h0M212.9 284.1h0M215.7 283.7h0M218.4 283.4h0M229.3 281.9h0M231.9 281.6h0M234.5 281.2h0M237.1 280.9h0M239.7 280.5h0M242.3 280.2h0M244.8 279.9h0M139.1 292.3h0M142.5 291.8h0M145.8 291.4h0M149.1 291h0M152.4 290.5h0M155.7 290.1h0M158.9 289.7h0M162.1 289.3h0M165.3 288.8h0M168.4 288.4h0M177.7 287.2h0M180.8 286.8h0M183.8 286.4h0M186.7 286h0M189.7 285.7h0M201.3 284.1h0M204.1 283.8h0M206.9 283.4h0M209.7 283h0M212.5 282.7h0M215.2 282.3h0M226 280.9h0M228.6 280.6h0M231.2 280.2h0M233.8 279.9h0M236.4 279.6h0M238.9 279.2h0M241.4 278.9h0M136.6 291h0M140 290.6h0M143.3 290.2h0M146.6 289.7h0M149.8 289.3h0M153.1 288.9h0M156.3 288.5h0M159.4 288.1h0M162.6 287.7h0M165.7 287.3h0M174.9 286.1h0M177.9 285.7h0M180.9 285.3h0M183.8 284.9h0M186.8 284.6h0M198.3 283.1h0M201.1 282.7h0M203.9 282.4h0M206.6 282h0M209.4 281.7h0M212.1 281.3h0M222.8 280h0M225.4 279.6h0M228 279.3h0M230.5 279h0M233.1 278.6h0M235.6 278.3h0M238.1 278h0M134.2 289.8h0M137.5 289.4h0M140.8 289h0M144.1 288.5h0M147.3 288.1h0M150.5 287.7h0M153.7 287.3h0M156.8 286.9h0M159.9 286.5h0M163 286.1h0M172.1 285h0M175.1 284.6h0M178.1 284.2h0M181 283.9h0M183.9 283.5h0M195.3 282.1h0M198.1 281.7h0M200.9 281.4h0M203.6 281h0M206.3 280.7h0M209 280.3h0M219.6 279h0M222.2 278.7h0M224.8 278.3h0M227.3 278h0M229.9 277.7h0M232.4 277.4h0M234.9 277.1h0M131.9 288.6h0M135.2 288.2h0M138.4 287.8h0M141.6 287.4h0M144.8 287h0M148 286.6h0M151.2 286.2h0M154.3 285.8h0M157.4 285.4h0M160.4 285h0M169.4 283.9h0M172.4 283.6h0M175.3 283.2h0M178.2 282.8h0M181.1 282.5h0M192.4 281.1h0M195.2 280.7h0M197.9 280.4h0M200.7 280h0M203.4 279.7h0M206.1 279.4h0M216.6 278.1h0M219.1 277.8h0M221.7 277.4h0M224.2 277.1h0M226.7 276.8h0M229.2 276.5h0M231.7 276.2h0M129.6 287.4h0M132.9 287h0M136.1 286.6h0M139.3 286.3h0M142.4 285.9h0M145.6 285.5h0M148.7 285.1h0M151.8 284.7h0M154.8 284.3h0M157.9 284h0M166.8 282.9h0M169.8 282.5h0M172.7 282.2h0M175.5 281.8h0M178.4 281.5h0M189.6 280.1h0M192.4 279.8h0M195.1 279.4h0M197.8 279.1h0M200.5 278.8h0M203.1 278.4h0M213.6 277.2h0M216.1 276.9h0M218.7 276.5h0M221.2 276.2h0M223.7 275.9h0M226.2 275.6h0M228.6 275.3h0M127.4 286.3h0M130.6 285.9h0M133.8 285.5h0M137 285.2h0M140.1 284.8h0M143.2 284.4h0M146.3 284h0M149.4 283.7h0M152.4 283.3h0M155.4 282.9h0M164.3 281.9h0M167.2 281.5h0M170.1 281.2h0M172.9 280.8h0M175.8 280.5h0M186.9 279.1h0M189.6 278.8h0M192.3 278.5h0M195 278.2h0M197.6 277.8h0M200.3 277.5h0M210.6 276.3h0M213.2 276h0M215.7 275.7h0M218.2 275.4h0M220.7 275.1h0M223.2 274.8h0M225.6 274.5h0M125.2 285.2h0M128.4 284.8h0M131.6 284.5h0M134.7 284.1h0M137.8 283.7h0M140.9 283.3h0M144 283h0M147 282.6h0M150 282.3h0M153 281.9h0M161.8 280.9h0M164.6 280.5h0M167.5 280.2h0M170.3 279.9h0M173.2 279.5h0M184.2 278.2h0M186.9 277.9h0M189.6 277.6h0M192.2 277.3h0M194.9 276.9h0M197.5 276.6h0M207.8 275.4h0M210.3 275.1h0M212.8 274.8h0M215.3 274.5h0M217.8 274.2h0M220.2 273.9h0M222.6 273.7h0M123.1 284.1h0M126.3 283.8h0M129.4 283.4h0M132.5 283h0M135.6 282.7h0M138.7 282.3h0M141.7 282h0M144.7 281.6h0M147.7 281.3h0M150.6 280.9h0M159.3 279.9h0M162.2 279.6h0M165 279.2h0M167.8 278.9h0M170.6 278.6h0M181.6 277.3h0M184.3 277h0M186.9 276.7h0M189.6 276.4h0M192.2 276.1h0M194.8 275.8h0M205 274.6h0M207.5 274.3h0M210 274h0M212.5 273.7h0M214.9 273.4h0M217.3 273.1h0M219.7 272.8h0M121.1 283.1h0M124.2 282.7h0M127.3 282.4h0M130.4 282h0M133.4 281.7h0M136.5 281.3h0M139.5 281h0M142.4 280.6h0M145.4 280.3h0M148.3 280h0M156.9 279h0M159.8 278.6h0M162.6 278.3h0M165.4 278h0M168.2 277.7h0M179 276.4h0M181.7 276.1h0M184.3 275.8h0M186.9 275.5h0M189.5 275.2h0M192.1 274.9h0M202.3 273.7h0M204.8 273.5h0M207.2 273.2h0M209.7 272.9h0M212.1 272.6h0M214.5 272.3h0M216.9 272.1h0M119.1 282.1h0M122.2 281.7h0M125.2 281.4h0M128.3 281h0M131.3 280.7h0M134.3 280.3h0M137.3 280h0M140.2 279.7h0M143.2 279.3h0M146.1 279h0M154.6 278h0M157.4 277.7h0M160.2 277.4h0M163 277.1h0M165.7 276.8h0M176.5 275.5h0M179.2 275.2h0M181.8 275h0M184.4 274.7h0M187 274.4h0M189.5 274.1h0M199.6 272.9h0M202.1 272.6h0M204.5 272.4h0M206.9 272.1h0M209.4 271.8h0M211.8 271.5h0M214.1 271.3h0M117.1 281.1h0M120.2 280.7h0M123.2 280.4h0M126.3 280h0M129.2 279.7h0M132.2 279.4h0M135.2 279.1h0M138.1 278.7h0M141 278.4h0M143.9 278.1h0M152.4 277.1h0M155.1 276.8h0M157.9 276.5h0M160.7 276.2h0M163.4 275.9h0M174.1 274.7h0M176.7 274.4h0M179.3 274.1h0M181.9 273.8h0M184.4 273.5h0M187 273.3h0M197 272.1h0M199.4 271.9h0M201.9 271.6h0M204.3 271.3h0M206.7 271.1h0M209.1 270.8h0M211.4 270.5h0M115.2 280.1h0M118.3 279.8h0M121.3 279.4h0M124.3 279.1h0M127.2 278.8h0M130.2 278.4h0M133.1 278.1h0M136 277.8h0M138.9 277.5h0M141.7 277.2h0M150.1 276.2h0M152.9 275.9h0M155.6 275.6h0M158.4 275.3h0M161.1 275h0M171.7 273.9h0M174.3 273.6h0M176.9 273.3h0M179.4 273h0M182 272.7h0M184.5 272.5h0M194.4 271.4h0M196.9 271.1h0M199.3 270.8h0M201.7 270.6h0M204.1 270.3h0M206.4 270h0M208.8 269.8h0M113.4 279.1h0M116.4 278.8h0M119.4 278.5h0M122.3 278.2h0M125.3 277.9h0M128.2 277.5h0M131.1 277.2h0M133.9 276.9h0M136.8 276.6h0M139.6 276.3h0M148 275.4h0M150.7 275.1h0M153.4 274.8h0M156.1 274.5h0M158.8 274.2h0M169.3 273.1h0M171.9 272.8h0M174.5 272.5h0M177 272.2h0M179.6 271.9h0M182.1 271.7h0M191.9 270.6h0M194.3 270.3h0M196.7 270.1h0M199.1 269.8h0M201.5 269.6h0M203.8 269.3h0M206.2 269.1h0M111.5 278.2h0M114.5 277.9h0M117.5 277.6h0M120.4 277.3h0M123.3 277h0M126.2 276.6h0M129.1 276.3h0M131.9 276h0M134.8 275.7h0M137.6 275.4h0M145.8 274.5h0M148.6 274.2h0M151.3 274h0M153.9 273.7h0M156.6 273.4h0M167 272.3h0M169.6 272h0M172.2 271.7h0M174.7 271.4h0M177.2 271.2h0M179.7 270.9h0M189.5 269.9h0M191.9 269.6h0M194.3 269.3h0M196.6 269.1h0M199 268.8h0M201.3 268.6h0M203.6 268.3h0M109.8 277.3h0M112.7 277h0M115.7 276.7h0M118.6 276.4h0M121.4 276.1h0M124.3 275.8h0M127.2 275.5h0M130 275.2h0M132.8 274.9h0M135.6 274.6h0M143.8 273.7h0M146.5 273.4h0M149.1 273.1h0M151.8 272.9h0M154.4 272.6h0M164.8 271.5h0M167.3 271.2h0M169.9 270.9h0M172.4 270.7h0M174.9 270.4h0M177.3 270.2h0M187.1 269.1h0M189.4 268.9h0M191.8 268.6h0M194.2 268.4h0M196.5 268.1h0M198.8 267.9h0M201.1 267.6h0M108 276.4h0M111 276.1h0M113.9 275.8h0M116.7 275.5h0M119.6 275.2h0M122.4 274.9h0M125.3 274.6h0M128.1 274.3h0M130.8 274h0M133.6 273.8h0M141.7 272.9h0M144.4 272.6h0M147.1 272.3h0M149.7 272.1h0M152.3 271.8h0M162.6 270.7h0M165.1 270.5h0M167.6 270.2h0M170.1 269.9h0M172.6 269.7h0M175.1 269.4h0M184.7 268.4h0M187.1 268.2h0M189.4 267.9h0M191.8 267.7h0M194.1 267.4h0M196.4 267.2h0M198.7 267h0M106.3 275.6h0M109.2 275.3h0M112.1 275h0M115 274.7h0M117.8 274.4h0M120.6 274.1h0M123.4 273.8h0M126.2 273.5h0M128.9 273.2h0M131.7 272.9h0M139.8 272.1h0M142.4 271.8h0M145 271.6h0M147.7 271.3h0M150.3 271h0M160.5 270h0M163 269.7h0M165.5 269.5h0M167.9 269.2h0M170.4 269h0M172.8 268.7h0M182.4 267.7h0M184.8 267.5h0M187.1 267.2h0M189.4 267h0M191.7 266.8h0M194 266.5h0M196.3 266.3h0M104.7 274.7h0M107.5 274.4h0M110.4 274.1h0M113.2 273.8h0M116 273.6h0M118.8 273.3h0M121.6 273h0M124.4 272.7h0M127.1 272.4h0M129.8 272.2h0M137.8 271.3h0M140.4 271.1h0M143.1 270.8h0M145.7 270.5h0M148.2 270.3h0M158.4 269.3h0M160.8 269h0M163.3 268.7h0M165.8 268.5h0M168.2 268.2h0M170.6 268h0M180.1 267h0M182.5 266.8h0M184.8 266.6h0M187.1 266.3h0M189.4 266.1h0M191.7 265.9h0M193.9 265.6h0M103 273.9h0M105.9 273.6h0M108.7 273.3h0M111.5 273h0M114.3 272.8h0M117.1 272.5h0M119.8 272.2h0M122.6 271.9h0M125.3 271.7h0M128 271.4h0M135.9 270.6h0M138.5 270.3h0M141.1 270.1h0M143.7 269.8h0M146.2 269.5h0M156.3 268.5h0M158.8 268.3h0M161.2 268h0M163.7 267.8h0M166.1 267.6h0M168.5 267.3h0M177.9 266.4h0M180.3 266.1h0M182.6 265.9h0M184.9 265.7h0M187.1 265.4h0M189.4 265.2h0M191.6 265h0" stroke="#f02828" stroke-width="1.3" stroke-linecap="round"/><path d="M176.3 216.8L178.6 267.2 176.4 266.5z" fill="url(#c257)" stroke="url(#c257)" stroke-width=".3"/><path d="M176.3 216.8L176.4 266.5 174.1 215.2z" fill="url(#c258)" stroke="url(#c258)" stroke-width=".3"/><path d="M170.7 268L174.1 215.2 168.5 267.3z" fill="url(#c259)" stroke="url(#c259)" stroke-width=".3"/><circle cx="174.1" cy="215.2" r="0.65" fill="#f02828"/><path d="M178.6 217L180.9 267.9 178.6 267.2z" fill="url(#c260)" stroke="url(#c260)" stroke-width=".3"/><path d="M170.7 268L176.3 216.8 174.1 215.2z" fill="url(#c261)" stroke="url(#c261)" stroke-width=".3"/><path d="M178.6 217L178.6 267.2 176.3 216.8z" fill="url(#c262)" stroke="url(#c262)" stroke-width=".3"/><path d="M172.9 268.7L176.3 216.8 170.7 268z" fill="url(#c263)" stroke="url(#c263)" stroke-width=".3"/><circle cx="176.3" cy="216.8" r="0.65" fill="#f02828"/><path d="M180.9 215.5L183.2 268.6 180.9 267.9z" fill="url(#c264)" stroke="url(#c264)" stroke-width=".3"/><path d="M172.9 268.7L178.6 217 176.3 216.8z" fill="url(#c265)" stroke="url(#c265)" stroke-width=".3"/><path d="M180.9 215.5L180.9 267.9 178.6 217z" fill="url(#c266)" stroke="url(#c266)" stroke-width=".3"/><path d="M175.1 269.4L178.6 217 172.9 268.7z" fill="url(#c267)" stroke="url(#c267)" stroke-width=".3"/><circle cx="178.6" cy="217" r="0.65" fill="#f02828"/><path d="M183.3 224.8L185.5 269.3 183.2 268.6z" fill="url(#c268)" stroke="url(#c268)" stroke-width=".3"/><path d="M153.2 224.9L157.4 269.4 155.3 268.6z" fill="url(#c269)" stroke="url(#c269)" stroke-width=".3"/><path d="M175.1 269.4L180.9 215.5 178.6 217z" fill="url(#c270)" stroke="url(#c270)" stroke-width=".3"/><path d="M183.3 224.8L183.2 268.6 180.9 215.5z" fill="url(#c271)" stroke="url(#c271)" stroke-width=".3"/><path d="M177.4 270.2L180.9 215.5 175.1 269.4z" fill="url(#c272)" stroke="url(#c272)" stroke-width=".3"/><path d="M153.2 224.9L155.3 268.6 151.1 207.3z" fill="url(#c273)" stroke="url(#c273)" stroke-width=".3"/><path d="M149.4 270.2L151.1 207.3 147.4 269.4z" fill="url(#c274)" stroke="url(#c274)" stroke-width=".3"/><circle cx="180.9" cy="215.5" r="0.65" fill="#f02828"/><path d="M155.4 245.3L159.5 270.1 157.4 269.4z" fill="url(#c275)" stroke="url(#c275)" stroke-width=".3"/><path d="M185.7 225L187.9 270 185.5 269.3z" fill="url(#c276)" stroke="url(#c276)" stroke-width=".3"/><path d="M177.4 270.2L183.3 224.8 180.9 215.5z" fill="url(#c277)" stroke="url(#c277)" stroke-width=".3"/><path d="M155.4 245.3L157.4 269.4 153.2 224.9z" fill="url(#c278)" stroke="url(#c278)" stroke-width=".3"/><circle cx="151.1" cy="207.3" r="0.65" fill="#f02828"/><path d="M149.4 270.2L153.2 224.9 151.1 207.3z" fill="url(#c279)" stroke="url(#c279)" stroke-width=".3"/><path d="M185.7 225L185.5 269.3 183.3 224.8z" fill="url(#c280)" stroke="url(#c280)" stroke-width=".3"/><path d="M151.4 270.9L153.2 224.9 149.4 270.2z" fill="url(#c281)" stroke="url(#c281)" stroke-width=".3"/><path d="M179.7 270.9L183.3 224.8 177.4 270.2z" fill="url(#c282)" stroke="url(#c282)" stroke-width=".3"/><circle cx="183.3" cy="224.8" r="0.65" fill="#f02828"/><circle cx="153.2" cy="224.9" r="0.65" fill="#f02828"/><path d="M151.4 270.9L155.4 245.3 153.2 224.9z" fill="url(#c283)" stroke="url(#c283)" stroke-width=".3"/><path d="M179.7 270.9L185.7 225 183.3 224.8z" fill="url(#c284)" stroke="url(#c284)" stroke-width=".3"/><circle cx="131.9" cy="263.6" r="0.65" fill="#f02828"/><circle cx="155.4" cy="245.3" r="0.65" fill="#f02828"/><path d="M133.8 269L135.6 270.6 131.9 263.6z" fill="url(#c285)" stroke="url(#c285)" stroke-width=".3"/><path d="M133.8 269L137.5 271.4 135.6 270.6z" fill="url(#c286)" stroke="url(#c286)" stroke-width=".3"/><path d="M153.5 271.7L155.4 245.3 151.4 270.9z" fill="url(#c287)" stroke="url(#c287)" stroke-width=".3"/><path d="M188.3 205.6L190.3 270.8 187.9 270z" fill="url(#c288)" stroke="url(#c288)" stroke-width=".3"/><path d="M157.4 205.3L161.6 270.8 159.5 270.1z" fill="url(#c289)" stroke="url(#c289)" stroke-width=".3"/><path d="M157.4 205.3L159.5 270.1 155.4 245.3z" fill="url(#c290)" stroke="url(#c290)" stroke-width=".3"/><path d="M182.1 271.7L185.7 225 179.7 270.9z" fill="url(#c291)" stroke="url(#c291)" stroke-width=".3"/><path d="M188.3 205.6L187.9 270 185.7 225z" fill="url(#c292)" stroke="url(#c292)" stroke-width=".3"/><path d="M130.1 272.1L131.9 263.6 128.2 271.4z" fill="url(#c293)" stroke="url(#c293)" stroke-width=".3"/><circle cx="185.7" cy="225" r="0.65" fill="#f02828"/><path d="M130.1 272.1L133.8 269 131.9 263.6z" fill="url(#c294)" stroke="url(#c294)" stroke-width=".3"/><circle cx="133.8" cy="269" r="0.65" fill="#f02828"/><path d="M153.5 271.7L157.4 205.3 155.4 245.3z" fill="url(#c295)" stroke="url(#c295)" stroke-width=".3"/><path d="M190.7 219L192.8 271.5 190.3 270.8z" fill="url(#c296)" stroke="url(#c296)" stroke-width=".3"/><path d="M135.6 260.1L137.5 271.4 133.8 269z" fill="url(#c297)" stroke="url(#c297)" stroke-width=".3"/><path d="M182.1 271.7L188.3 205.6 185.7 225z" fill="url(#c298)" stroke="url(#c298)" stroke-width=".3"/><path d="M159.6 204.1L163.8 271.6 161.6 270.8z" fill="url(#c299)" stroke="url(#c299)" stroke-width=".3"/><path d="M135.6 260.1L139.5 272.1 137.5 271.4z" fill="url(#c300)" stroke="url(#c300)" stroke-width=".3"/><path d="M131.9 272.9L133.8 269 130.1 272.1z" fill="url(#c301)" stroke="url(#c301)" stroke-width=".3"/><path d="M190.7 219L190.3 270.8 188.3 205.6z" fill="url(#c302)" stroke="url(#c302)" stroke-width=".3"/><path d="M155.6 272.5L157.4 205.3 153.5 271.7z" fill="url(#c303)" stroke="url(#c303)" stroke-width=".3"/><path d="M184.6 272.4L188.3 205.6 182.1 271.7z" fill="url(#c304)" stroke="url(#c304)" stroke-width=".3"/><path d="M159.6 204.1L161.6 270.8 157.4 205.3z" fill="url(#c305)" stroke="url(#c305)" stroke-width=".3"/><path d="M131.9 272.9L135.6 260.1 133.8 269z" fill="url(#c306)" stroke="url(#c306)" stroke-width=".3"/><path d="M161.9 239.8L166 272.4 163.8 271.6z" fill="url(#c307)" stroke="url(#c307)" stroke-width=".3"/><path d="M193.3 216.6L195.4 272.3 192.8 271.5z" fill="url(#c308)" stroke="url(#c308)" stroke-width=".3"/><circle cx="188.3" cy="205.6" r="0.65" fill="#f02828"/><path d="M137.6 266.6L139.5 272.1 135.6 260.1z" fill="url(#c309)" stroke="url(#c309)" stroke-width=".3"/><circle cx="135.6" cy="260.1" r="0.65" fill="#f02828"/><path d="M137.6 266.6L141.5 272.9 139.5 272.1z" fill="url(#c310)" stroke="url(#c310)" stroke-width=".3"/><path d="M184.6 272.4L190.7 219 188.3 205.6z" fill="url(#c311)" stroke="url(#c311)" stroke-width=".3"/><circle cx="157.4" cy="205.3" r="0.65" fill="#f02828"/><path d="M193.3 216.6L192.8 271.5 190.7 219z" fill="url(#c312)" stroke="url(#c312)" stroke-width=".3"/><path d="M161.9 239.8L163.8 271.6 159.6 204.1z" fill="url(#c313)" stroke="url(#c313)" stroke-width=".3"/><path d="M155.6 272.5L159.6 204.1 157.4 205.3z" fill="url(#c314)" stroke="url(#c314)" stroke-width=".3"/><path d="M187 273.2L190.7 219 184.6 272.4z" fill="url(#c315)" stroke="url(#c315)" stroke-width=".3"/><path d="M133.9 273.7L135.6 260.1 131.9 272.9z" fill="url(#c316)" stroke="url(#c316)" stroke-width=".3"/><path d="M157.8 273.3L159.6 204.1 155.6 272.5z" fill="url(#c317)" stroke="url(#c317)" stroke-width=".3"/><circle cx="190.7" cy="219" r="0.65" fill="#f02828"/><path d="M133.9 273.7L137.6 266.6 135.6 260.1z" fill="url(#c318)" stroke="url(#c318)" stroke-width=".3"/><path d="M164.2 247.4L168.3 273.2 166 272.4z" fill="url(#c319)" stroke="url(#c319)" stroke-width=".3"/><circle cx="137.6" cy="266.6" r="0.65" fill="#f02828"/><path d="M164.2 247.4L166 272.4 161.9 239.8z" fill="url(#c320)" stroke="url(#c320)" stroke-width=".3"/><path d="M139.7 270.2L141.5 272.9 137.6 266.6z" fill="url(#c321)" stroke="url(#c321)" stroke-width=".3"/><path d="M196 216.8L198 273.1 195.4 272.3z" fill="url(#c322)" stroke="url(#c322)" stroke-width=".3"/><path d="M157.8 273.3L161.9 239.8 159.6 204.1z" fill="url(#c323)" stroke="url(#c323)" stroke-width=".3"/><path d="M187 273.2L193.3 216.6 190.7 219z" fill="url(#c324)" stroke="url(#c324)" stroke-width=".3"/><path d="M139.7 270.2L143.5 273.7 141.5 272.9z" fill="url(#c325)" stroke="url(#c325)" stroke-width=".3"/><circle cx="161.9" cy="239.8" r="0.65" fill="#f02828"/><path d="M160 274.1L161.9 239.8 157.8 273.3z" fill="url(#c326)" stroke="url(#c326)" stroke-width=".3"/><circle cx="159.6" cy="204.1" r="0.65" fill="#f02828"/><path d="M196 216.8L195.4 272.3 193.3 216.6z" fill="url(#c327)" stroke="url(#c327)" stroke-width=".3"/><path d="M135.8 274.6L137.6 266.6 133.9 273.7z" fill="url(#c328)" stroke="url(#c328)" stroke-width=".3"/><path d="M189.6 274.1L193.3 216.6 187 273.2z" fill="url(#c329)" stroke="url(#c329)" stroke-width=".3"/><path d="M166.5 270L170.6 274 168.3 273.2z" fill="url(#c330)" stroke="url(#c330)" stroke-width=".3"/><path d="M160 274.1L164.2 247.4 161.9 239.8z" fill="url(#c331)" stroke="url(#c331)" stroke-width=".3"/><path d="M166.5 270L168.3 273.2 164.2 247.4z" fill="url(#c332)" stroke="url(#c332)" stroke-width=".3"/><path d="M135.8 274.6L139.7 270.2 137.6 266.6z" fill="url(#c333)" stroke="url(#c333)" stroke-width=".3"/><circle cx="193.3" cy="216.6" r="0.65" fill="#f02828"/><circle cx="139.7" cy="270.2" r="0.65" fill="#f02828"/><circle cx="164.2" cy="247.4" r="0.65" fill="#f02828"/><path d="M198.6 218.1L200.6 273.9 198 273.1z" fill="url(#c334)" stroke="url(#c334)" stroke-width=".3"/><path d="M141.6 263.2L143.5 273.7 139.7 270.2z" fill="url(#c335)" stroke="url(#c335)" stroke-width=".3"/><path d="M189.6 274.1L196 216.8 193.3 216.6z" fill="url(#c336)" stroke="url(#c336)" stroke-width=".3"/><path d="M162.3 274.9L164.2 247.4 160 274.1z" fill="url(#c337)" stroke="url(#c337)" stroke-width=".3"/><path d="M141.6 263.2L145.6 274.6 143.5 273.7z" fill="url(#c338)" stroke="url(#c338)" stroke-width=".3"/><circle cx="166.5" cy="270" r="0.65" fill="#f02828"/><path d="M162.3 274.9L166.5 270 164.2 247.4z" fill="url(#c339)" stroke="url(#c339)" stroke-width=".3"/><path d="M198.6 218.1L198 273.1 196 216.8z" fill="url(#c340)" stroke="url(#c340)" stroke-width=".3"/><path d="M137.8 275.4L139.7 270.2 135.8 274.6z" fill="url(#c341)" stroke="url(#c341)" stroke-width=".3"/><path d="M192.2 274.9L196 216.8 189.6 274.1z" fill="url(#c342)" stroke="url(#c342)" stroke-width=".3"/><path d="M168.9 258.4L170.6 274 166.5 270z" fill="url(#c343)" stroke="url(#c343)" stroke-width=".3"/><path d="M168.9 258.4L173 274.8 170.6 274z" fill="url(#c344)" stroke="url(#c344)" stroke-width=".3"/><path d="M137.8 275.4L141.6 263.2 139.7 270.2z" fill="url(#c345)" stroke="url(#c345)" stroke-width=".3"/><circle cx="196" cy="216.8" r="0.65" fill="#f02828"/><path d="M164.6 275.8L166.5 270 162.3 274.9z" fill="url(#c346)" stroke="url(#c346)" stroke-width=".3"/><path d="M201.4 217.2L203.4 274.8 200.6 273.9z" fill="url(#c347)" stroke="url(#c347)" stroke-width=".3"/><circle cx="141.6" cy="263.2" r="0.65" fill="#f02828"/><path d="M192.2 274.9L198.6 218.1 196 216.8z" fill="url(#c348)" stroke="url(#c348)" stroke-width=".3"/><path d="M143.7 262.4L145.6 274.6 141.6 263.2z" fill="url(#c349)" stroke="url(#c349)" stroke-width=".3"/><path d="M143.7 262.4L147.7 275.4 145.6 274.6z" fill="url(#c350)" stroke="url(#c350)" stroke-width=".3"/><path d="M164.6 275.8L168.9 258.4 166.5 270z" fill="url(#c351)" stroke="url(#c351)" stroke-width=".3"/><path d="M201.4 217.2L200.6 273.9 198.6 218.1z" fill="url(#c352)" stroke="url(#c352)" stroke-width=".3"/><path d="M194.8 275.8L198.6 218.1 192.2 274.9z" fill="url(#c353)" stroke="url(#c353)" stroke-width=".3"/><path d="M139.9 276.3L141.6 263.2 137.8 275.4z" fill="url(#c354)" stroke="url(#c354)" stroke-width=".3"/><path d="M171.3 262.1L175.5 275.7 173 274.8z" fill="url(#c355)" stroke="url(#c355)" stroke-width=".3"/><path d="M171.3 262.1L173 274.8 168.9 258.4z" fill="url(#c356)" stroke="url(#c356)" stroke-width=".3"/><circle cx="168.9" cy="258.4" r="0.65" fill="#f02828"/><circle cx="198.6" cy="218.1" r="0.65" fill="#f02828"/><path d="M139.9 276.3L143.7 262.4 141.6 263.2z" fill="url(#c357)" stroke="url(#c357)" stroke-width=".3"/><path d="M204.2 217.9L206.1 275.6 203.4 274.8z" fill="url(#c358)" stroke="url(#c358)" stroke-width=".3"/><path d="M167 276.6L168.9 258.4 164.6 275.8z" fill="url(#c359)" stroke="url(#c359)" stroke-width=".3"/><path d="M194.8 275.8L201.4 217.2 198.6 218.1z" fill="url(#c360)" stroke="url(#c360)" stroke-width=".3"/><path d="M145.9 271.4L147.7 275.4 143.7 262.4z" fill="url(#c361)" stroke="url(#c361)" stroke-width=".3"/><circle cx="143.7" cy="262.4" r="0.65" fill="#f02828"/><path d="M145.9 271.4L149.9 276.3 147.7 275.4z" fill="url(#c362)" stroke="url(#c362)" stroke-width=".3"/><path d="M167 276.6L171.3 262.1 168.9 258.4z" fill="url(#c363)" stroke="url(#c363)" stroke-width=".3"/><path d="M204.2 217.9L203.4 274.8 201.4 217.2z" fill="url(#c364)" stroke="url(#c364)" stroke-width=".3"/><path d="M197.6 276.6L201.4 217.2 194.8 275.8z" fill="url(#c365)" stroke="url(#c365)" stroke-width=".3"/><path d="M142 277.1L143.7 262.4 139.9 276.3z" fill="url(#c366)" stroke="url(#c366)" stroke-width=".3"/><path d="M173.7 265.9L175.5 275.7 171.3 262.1z" fill="url(#c367)" stroke="url(#c367)" stroke-width=".3"/><circle cx="171.3" cy="262.1" r="0.65" fill="#f02828"/><path d="M173.7 265.9L177.9 276.5 175.5 275.7z" fill="url(#c368)" stroke="url(#c368)" stroke-width=".3"/><circle cx="201.4" cy="217.2" r="0.65" fill="#f02828"/><path d="M142 277.1L145.9 271.4 143.7 262.4z" fill="url(#c369)" stroke="url(#c369)" stroke-width=".3"/><circle cx="145.9" cy="271.4" r="0.65" fill="#f02828"/><path d="M169.4 277.5L171.3 262.1 167 276.6z" fill="url(#c370)" stroke="url(#c370)" stroke-width=".3"/><path d="M148.1 269.5L149.9 276.3 145.9 271.4z" fill="url(#c371)" stroke="url(#c371)" stroke-width=".3"/><path d="M207.2 215.9L209 276.5 206.1 275.6z" fill="url(#c372)" stroke="url(#c372)" stroke-width=".3"/><path d="M197.6 276.6L204.2 217.9 201.4 217.2z" fill="url(#c373)" stroke="url(#c373)" stroke-width=".3"/><path d="M148.1 269.5L152.1 277.2 149.9 276.3z" fill="url(#c374)" stroke="url(#c374)" stroke-width=".3"/><path d="M169.4 277.5L173.7 265.9 171.3 262.1z" fill="url(#c375)" stroke="url(#c375)" stroke-width=".3"/><path d="M207.2 215.9L206.1 275.6 204.2 217.9z" fill="url(#c376)" stroke="url(#c376)" stroke-width=".3"/><path d="M144.1 278L145.9 271.4 142 277.1z" fill="url(#c377)" stroke="url(#c377)" stroke-width=".3"/><path d="M200.4 277.5L204.2 217.9 197.6 276.6z" fill="url(#c378)" stroke="url(#c378)" stroke-width=".3"/><circle cx="173.7" cy="265.9" r="0.65" fill="#f02828"/><path d="M176.2 269.8L177.9 276.5 173.7 265.9z" fill="url(#c379)" stroke="url(#c379)" stroke-width=".3"/><path d="M176.2 269.8L180.5 277.4 177.9 276.5z" fill="url(#c380)" stroke="url(#c380)" stroke-width=".3"/><path d="M144.1 278L148.1 269.5 145.9 271.4z" fill="url(#c381)" stroke="url(#c381)" stroke-width=".3"/><circle cx="204.2" cy="217.9" r="0.65" fill="#f02828"/><circle cx="148.1" cy="269.5" r="0.65" fill="#f02828"/><path d="M171.9 278.4L173.7 265.9 169.4 277.5z" fill="url(#c382)" stroke="url(#c382)" stroke-width=".3"/><path d="M150.4 274.8L152.1 277.2 148.1 269.5z" fill="url(#c383)" stroke="url(#c383)" stroke-width=".3"/><path d="M210.1 218.4L211.9 277.4 209 276.5z" fill="url(#c384)" stroke="url(#c384)" stroke-width=".3"/><path d="M200.4 277.5L207.2 215.9 204.2 217.9z" fill="url(#c385)" stroke="url(#c385)" stroke-width=".3"/><path d="M150.4 274.8L154.3 278.1 152.1 277.2z" fill="url(#c386)" stroke="url(#c386)" stroke-width=".3"/><path d="M171.9 278.4L176.2 269.8 173.7 265.9z" fill="url(#c387)" stroke="url(#c387)" stroke-width=".3"/><path d="M210.1 218.4L209 276.5 207.2 215.9z" fill="url(#c388)" stroke="url(#c388)" stroke-width=".3"/><circle cx="176.2" cy="269.8" r="0.65" fill="#f02828"/><path d="M146.3 279L148.1 269.5 144.1 278z" fill="url(#c389)" stroke="url(#c389)" stroke-width=".3"/><path d="M203.2 278.4L207.2 215.9 200.4 277.5z" fill="url(#c390)" stroke="url(#c390)" stroke-width=".3"/><path d="M178.8 271L180.5 277.4 176.2 269.8z" fill="url(#c391)" stroke="url(#c391)" stroke-width=".3"/><path d="M178.8 271L183.1 278.3 180.5 277.4z" fill="url(#c392)" stroke="url(#c392)" stroke-width=".3"/><path d="M146.3 279L150.4 274.8 148.1 269.5z" fill="url(#c393)" stroke="url(#c393)" stroke-width=".3"/><circle cx="207.2" cy="215.9" r="0.65" fill="#f02828"/><circle cx="150.4" cy="274.8" r="0.65" fill="#f02828"/><path d="M174.4 279.4L176.2 269.8 171.9 278.4z" fill="url(#c394)" stroke="url(#c394)" stroke-width=".3"/><path d="M213.1 218.6L214.9 278.3 211.9 277.4z" fill="url(#c395)" stroke="url(#c395)" stroke-width=".3"/><path d="M152.6 267.3L154.3 278.1 150.4 274.8z" fill="url(#c396)" stroke="url(#c396)" stroke-width=".3"/><path d="M203.2 278.4L210.1 218.4 207.2 215.9z" fill="url(#c397)" stroke="url(#c397)" stroke-width=".3"/><path d="M174.4 279.4L178.8 271 176.2 269.8z" fill="url(#c398)" stroke="url(#c398)" stroke-width=".3"/><path d="M152.6 267.3L156.7 279 154.3 278.1z" fill="url(#c399)" stroke="url(#c399)" stroke-width=".3"/><path d="M213.1 218.6L211.9 277.4 210.1 218.4z" fill="url(#c400)" stroke="url(#c400)" stroke-width=".3"/><circle cx="178.8" cy="271" r="0.65" fill="#f02828"/><path d="M148.6 279.9L150.4 274.8 146.3 279z" fill="url(#c401)" stroke="url(#c401)" stroke-width=".3"/><path d="M206.1 279.4L210.1 218.4 203.2 278.4z" fill="url(#c402)" stroke="url(#c402)" stroke-width=".3"/><path d="M148.6 279.9L152.6 267.3 150.4 274.8z" fill="url(#c403)" stroke="url(#c403)" stroke-width=".3"/><circle cx="210.1" cy="218.4" r="0.65" fill="#f02828"/><path d="M181.6 245.9L183.1 278.3 178.8 271z" fill="url(#c404)" stroke="url(#c404)" stroke-width=".3"/><path d="M181.6 245.9L185.8 279.3 183.1 278.3z" fill="url(#c405)" stroke="url(#c405)" stroke-width=".3"/><path d="M177 280.3L178.8 271 174.4 279.4z" fill="url(#c406)" stroke="url(#c406)" stroke-width=".3"/><path d="M216.2 218.8L217.9 279.2 214.9 278.3z" fill="url(#c407)" stroke="url(#c407)" stroke-width=".3"/><path d="M155 279L156.7 279 152.6 267.3z" fill="url(#c408)" stroke="url(#c408)" stroke-width=".3"/><circle cx="152.6" cy="267.3" r="0.65" fill="#f02828"/><path d="M206.1 279.4L213.1 218.6 210.1 218.4z" fill="url(#c409)" stroke="url(#c409)" stroke-width=".3"/><path d="M155 279L159 279.9 156.7 279z" fill="#7600b6" stroke="#7600b6" stroke-width=".3"/><path d="M216.2 218.8L214.9 278.3 213.1 218.6z" fill="url(#c410)" stroke="url(#c410)" stroke-width=".3"/><path d="M177 280.3L181.6 245.9 178.8 271z" fill="url(#c411)" stroke="url(#c411)" stroke-width=".3"/><path d="M209.1 280.3L213.1 218.6 206.1 279.4z" fill="url(#c412)" stroke="url(#c412)" stroke-width=".3"/><path d="M150.9 280.9L152.6 267.3 148.6 279.9z" fill="url(#c413)" stroke="url(#c413)" stroke-width=".3"/><path d="M184.3 262.9L188.5 280.2 185.8 279.3z" fill="url(#c414)" stroke="url(#c414)" stroke-width=".3"/><path d="M150.9 280.9L155 279 152.6 267.3z" fill="url(#c415)" stroke="url(#c415)" stroke-width=".3"/><circle cx="213.1" cy="218.6" r="0.65" fill="#f02828"/><circle cx="155" cy="279" r="0.65" fill="#f02828"/><path d="M184.3 262.9L185.8 279.3 181.6 245.9z" fill="url(#c416)" stroke="url(#c416)" stroke-width=".3"/><path d="M157.4 279.9L159 279.9 155 279z" fill="#7500ba" stroke="#7500ba" stroke-width=".3"/><path d="M219.4 220.2L221 280.2 217.9 279.2z" fill="url(#c417)" stroke="url(#c417)" stroke-width=".3"/><path d="M209.1 280.3L216.2 218.8 213.1 218.6z" fill="url(#c418)" stroke="url(#c418)" stroke-width=".3"/><path d="M157.4 279.9L161.5 280.9 159 279.9z" fill="#7600b6" stroke="#7600b6" stroke-width=".3"/><circle cx="181.6" cy="245.9" r="0.65" fill="#f02828"/><path d="M179.7 281.3L181.6 245.9 177 280.3z" fill="url(#c419)" stroke="url(#c419)" stroke-width=".3"/><path d="M219.4 220.2L217.9 279.2 216.2 218.8z" fill="url(#c420)" stroke="url(#c420)" stroke-width=".3"/><path d="M153.3 281.9L155 279 150.9 280.9z" fill="#7600b6" stroke="#7600b6" stroke-width=".3"/><path d="M212.2 281.3L216.2 218.8 209.1 280.3z" fill="url(#c421)" stroke="url(#c421)" stroke-width=".3"/><path d="M179.7 281.3L184.3 262.9 181.6 245.9z" fill="url(#c422)" stroke="url(#c422)" stroke-width=".3"/><path d="M153.3 281.9L157.4 279.9 155 279z" fill="#7500ba" stroke="#7500ba" stroke-width=".3"/><path d="M187 264L191.3 281.2 188.5 280.2z" fill="url(#c423)" stroke="url(#c423)" stroke-width=".3"/><path d="M187 264L188.5 280.2 184.3 262.9z" fill="url(#c424)" stroke="url(#c424)" stroke-width=".3"/><circle cx="184.3" cy="262.9" r="0.65" fill="#f02828"/><circle cx="216.2" cy="218.8" r="0.65" fill="#f02828"/><circle cx="157.4" cy="279.9" r="0.65" fill="#f02828"/><path d="M159.8 270.4L161.5 280.9 157.4 279.9z" fill="url(#c425)" stroke="url(#c425)" stroke-width=".3"/><path d="M222.7 219.3L224.2 281.1 221 280.2z" fill="url(#c426)" stroke="url(#c426)" stroke-width=".3"/><path d="M182.4 282.3L184.3 262.9 179.7 281.3z" fill="url(#c427)" stroke="url(#c427)" stroke-width=".3"/><path d="M212.2 281.3L219.4 220.2 216.2 218.8z" fill="url(#c428)" stroke="url(#c428)" stroke-width=".3"/><path d="M159.8 270.4L164 281.9 161.5 280.9z" fill="url(#c429)" stroke="url(#c429)" stroke-width=".3"/><path d="M182.4 282.3L187 264 184.3 262.9z" fill="url(#c430)" stroke="url(#c430)" stroke-width=".3"/><path d="M222.7 219.3L221 280.2 219.4 220.2z" fill="url(#c431)" stroke="url(#c431)" stroke-width=".3"/><path d="M155.7 282.9L157.4 279.9 153.3 281.9z" fill="#7600b6" stroke="#7600b6" stroke-width=".3"/><path d="M215.3 282.3L219.4 220.2 212.2 281.3z" fill="url(#c432)" stroke="url(#c432)" stroke-width=".3"/><circle cx="187" cy="264" r="0.65" fill="#f02828"/><path d="M189.9 263L194.2 282.2 191.3 281.2z" fill="url(#c433)" stroke="url(#c433)" stroke-width=".3"/><path d="M155.7 282.9L159.8 270.4 157.4 279.9z" fill="url(#c434)" stroke="url(#c434)" stroke-width=".3"/><path d="M189.9 263L191.3 281.2 187 264z" fill="url(#c435)" stroke="url(#c435)" stroke-width=".3"/><circle cx="219.4" cy="220.2" r="0.65" fill="#f02828"/><path d="M226 220.2L227.5 282.2 224.2 281.1z" fill="url(#c436)" stroke="url(#c436)" stroke-width=".3"/><path d="M185.2 283.3L187 264 182.4 282.3z" fill="url(#c437)" stroke="url(#c437)" stroke-width=".3"/><circle cx="159.8" cy="270.4" r="0.65" fill="#f02828"/><path d="M215.3 282.3L222.7 219.3 219.4 220.2z" fill="url(#c438)" stroke="url(#c438)" stroke-width=".3"/><path d="M162.4 264.1L164 281.9 159.8 270.4z" fill="url(#c439)" stroke="url(#c439)" stroke-width=".3"/><path d="M162.4 264.1L166.5 282.9 164 281.9z" fill="url(#c440)" stroke="url(#c440)" stroke-width=".3"/><path d="M185.2 283.3L189.9 263 187 264z" fill="url(#c441)" stroke="url(#c441)" stroke-width=".3"/><path d="M226 220.2L224.2 281.1 222.7 219.3z" fill="url(#c442)" stroke="url(#c442)" stroke-width=".3"/><path d="M218.5 283.3L222.7 219.3 215.3 282.3z" fill="url(#c443)" stroke="url(#c443)" stroke-width=".3"/><path d="M158.2 283.9L159.8 270.4 155.7 282.9z" fill="url(#c444)" stroke="url(#c444)" stroke-width=".3"/><path d="M192.8 271.7L197.1 283.2 194.2 282.2z" fill="url(#c445)" stroke="url(#c445)" stroke-width=".3"/><path d="M192.8 271.7L194.2 282.2 189.9 263z" fill="url(#c446)" stroke="url(#c446)" stroke-width=".3"/><circle cx="189.9" cy="263" r="0.65" fill="#f02828"/><circle cx="222.7" cy="219.3" r="0.65" fill="#f02828"/><path d="M158.2 283.9L162.4 264.1 159.8 270.4z" fill="url(#c447)" stroke="url(#c447)" stroke-width=".3"/><path d="M229.4 219.8L230.9 283.2 227.5 282.2z" fill="url(#c448)" stroke="url(#c448)" stroke-width=".3"/><path d="M188.1 284.4L189.9 263 185.2 283.3z" fill="url(#c449)" stroke="url(#c449)" stroke-width=".3"/><path d="M218.5 283.3L226 220.2 222.7 219.3z" fill="url(#c450)" stroke="url(#c450)" stroke-width=".3"/><path d="M165 270.6L166.5 282.9 162.4 264.1z" fill="url(#c451)" stroke="url(#c451)" stroke-width=".3"/><path d="M165 270.6L169.1 284 166.5 282.9z" fill="url(#c452)" stroke="url(#c452)" stroke-width=".3"/><circle cx="162.4" cy="264.1" r="0.65" fill="#f02828"/><path d="M188.1 284.4L192.8 271.7 189.9 263z" fill="url(#c453)" stroke="url(#c453)" stroke-width=".3"/><path d="M229.4 219.8L227.5 282.2 226 220.2z" fill="url(#c454)" stroke="url(#c454)" stroke-width=".3"/><path d="M221.8 284.4L226 220.2 218.5 283.3z" fill="url(#c455)" stroke="url(#c455)" stroke-width=".3"/><circle cx="192.8" cy="271.7" r="0.65" fill="#f02828"/><path d="M160.7 285L162.4 264.1 158.2 283.9z" fill="url(#c456)" stroke="url(#c456)" stroke-width=".3"/><path d="M195.8 265.9L197.1 283.2 192.8 271.7z" fill="url(#c457)" stroke="url(#c457)" stroke-width=".3"/><path d="M195.8 265.9L200.1 284.3 197.1 283.2z" fill="url(#c458)" stroke="url(#c458)" stroke-width=".3"/><circle cx="226" cy="220.2" r="0.65" fill="#f02828"/><path d="M160.7 285L165 270.6 162.4 264.1z" fill="url(#c459)" stroke="url(#c459)" stroke-width=".3"/><path d="M191 285.5L192.8 271.7 188.1 284.4z" fill="url(#c460)" stroke="url(#c460)" stroke-width=".3"/><path d="M232.9 220.7L234.3 284.2 230.9 283.2z" fill="url(#c461)" stroke="url(#c461)" stroke-width=".3"/><path d="M221.8 284.4L229.4 219.8 226 220.2z" fill="url(#c462)" stroke="url(#c462)" stroke-width=".3"/><path d="M167.6 277.5L169.1 284 165 270.6z" fill="url(#c463)" stroke="url(#c463)" stroke-width=".3"/><circle cx="165" cy="270.6" r="0.65" fill="#f02828"/><path d="M167.6 277.5L171.8 285 169.1 284z" fill="url(#c464)" stroke="url(#c464)" stroke-width=".3"/><path d="M191 285.5L195.8 265.9 192.8 271.7z" fill="url(#c465)" stroke="url(#c465)" stroke-width=".3"/><path d="M232.9 220.7L230.9 283.2 229.4 219.8z" fill="url(#c466)" stroke="url(#c466)" stroke-width=".3"/><path d="M225.2 285.5L229.4 219.8 221.8 284.4z" fill="url(#c467)" stroke="url(#c467)" stroke-width=".3"/><path d="M163.3 286.1L165 270.6 160.7 285z" fill="url(#c468)" stroke="url(#c468)" stroke-width=".3"/><circle cx="195.8" cy="265.9" r="0.65" fill="#f02828"/><circle cx="229.4" cy="219.8" r="0.65" fill="#f02828"/><path d="M199 258.7L203.2 285.4 200.1 284.3z" fill="url(#c469)" stroke="url(#c469)" stroke-width=".3"/><path d="M199 258.7L200.1 284.3 195.8 265.9z" fill="url(#c470)" stroke="url(#c470)" stroke-width=".3"/><path d="M163.3 286.1L167.6 277.5 165 270.6z" fill="url(#c471)" stroke="url(#c471)" stroke-width=".3"/><circle cx="167.6" cy="277.5" r="0.65" fill="#f02828"/><path d="M236.5 221.6L237.8 285.3 234.3 284.2z" fill="url(#c472)" stroke="url(#c472)" stroke-width=".3"/><path d="M170.3 279.5L171.8 285 167.6 277.5z" fill="url(#c473)" stroke="url(#c473)" stroke-width=".3"/><path d="M194 286.6L195.8 265.9 191 285.5z" fill="url(#c474)" stroke="url(#c474)" stroke-width=".3"/><path d="M225.2 285.5L232.9 220.7 229.4 219.8z" fill="url(#c475)" stroke="url(#c475)" stroke-width=".3"/><path d="M170.3 279.5L174.6 286.1 171.8 285z" fill="url(#c476)" stroke="url(#c476)" stroke-width=".3"/><path d="M236.5 221.6L234.3 284.2 232.9 220.7z" fill="url(#c477)" stroke="url(#c477)" stroke-width=".3"/><path d="M194 286.6L199 258.7 195.8 265.9z" fill="url(#c478)" stroke="url(#c478)" stroke-width=".3"/><path d="M228.6 286.6L232.9 220.7 225.2 285.5z" fill="url(#c479)" stroke="url(#c479)" stroke-width=".3"/><path d="M166 287.2L167.6 277.5 163.3 286.1z" fill="url(#c480)" stroke="url(#c480)" stroke-width=".3"/><path d="M202 272.5L206.4 286.5 203.2 285.4z" fill="url(#c481)" stroke="url(#c481)" stroke-width=".3"/><path d="M166 287.2L170.3 279.5 167.6 277.5z" fill="url(#c482)" stroke="url(#c482)" stroke-width=".3"/><path d="M202 272.5L203.2 285.4 199 258.7z" fill="url(#c483)" stroke="url(#c483)" stroke-width=".3"/><circle cx="232.9" cy="220.7" r="0.65" fill="#f02828"/><circle cx="199" cy="258.7" r="0.65" fill="#f02828"/><circle cx="170.3" cy="279.5" r="0.65" fill="#f02828"/><path d="M228.6 286.6L236.5 221.6 232.9 220.7z" fill="url(#c484)" stroke="url(#c484)" stroke-width=".3"/><path d="M173.2 274.7L174.6 286.1 170.3 279.5z" fill="url(#c485)" stroke="url(#c485)" stroke-width=".3"/><path d="M197.1 287.7L199 258.7 194 286.6z" fill="url(#c486)" stroke="url(#c486)" stroke-width=".3"/><path d="M173.2 274.7L177.4 287.3 174.6 286.1z" fill="url(#c487)" stroke="url(#c487)" stroke-width=".3"/><path d="M197.1 287.7L202 272.5 199 258.7z" fill="url(#c488)" stroke="url(#c488)" stroke-width=".3"/><path d="M168.8 288.4L170.3 279.5 166 287.2z" fill="url(#c489)" stroke="url(#c489)" stroke-width=".3"/><path d="M205.1 280L206.4 286.5 202 272.5z" fill="url(#c490)" stroke="url(#c490)" stroke-width=".3"/><circle cx="202" cy="272.5" r="0.65" fill="#f02828"/><path d="M205.1 280L209.7 287.6 206.4 286.5z" fill="url(#c491)" stroke="url(#c491)" stroke-width=".3"/><circle cx="236.5" cy="221.6" r="0.65" fill="#f02828"/><path d="M168.8 288.4L173.2 274.7 170.3 279.5z" fill="url(#c492)" stroke="url(#c492)" stroke-width=".3"/><path d="M200.3 288.9L202 272.5 197.1 287.7z" fill="url(#c493)" stroke="url(#c493)" stroke-width=".3"/><circle cx="173.2" cy="274.7" r="0.65" fill="#f02828"/><path d="M176 273.7L177.4 287.3 173.2 274.7z" fill="url(#c494)" stroke="url(#c494)" stroke-width=".3"/><path d="M176 273.7L180.3 288.4 177.4 287.3z" fill="url(#c495)" stroke="url(#c495)" stroke-width=".3"/><path d="M200.3 288.9L205.1 280 202 272.5z" fill="url(#c496)" stroke="url(#c496)" stroke-width=".3"/><circle cx="205.1" cy="280" r="0.65" fill="#f02828"/><path d="M171.6 289.6L173.2 274.7 168.8 288.4z" fill="url(#c497)" stroke="url(#c497)" stroke-width=".3"/><path d="M208.5 279.4L209.7 287.6 205.1 280z" fill="url(#c498)" stroke="url(#c498)" stroke-width=".3"/><path d="M208.5 279.4L213 288.8 209.7 287.6z" fill="url(#c499)" stroke="url(#c499)" stroke-width=".3"/><path d="M171.6 289.6L176 273.7 173.2 274.7z" fill="url(#c500)" stroke="url(#c500)" stroke-width=".3"/><path d="M203.6 290.1L205.1 280 200.3 288.9z" fill="url(#c501)" stroke="url(#c501)" stroke-width=".3"/><path d="M179 282.1L180.3 288.4 176 273.7z" fill="url(#c502)" stroke="url(#c502)" stroke-width=".3"/><circle cx="176" cy="273.7" r="0.65" fill="#f02828"/><path d="M179 282.1L183.3 289.6 180.3 288.4z" fill="url(#c503)" stroke="url(#c503)" stroke-width=".3"/><path d="M203.6 290.1L208.5 279.4 205.1 280z" fill="url(#c504)" stroke="url(#c504)" stroke-width=".3"/><circle cx="208.5" cy="279.4" r="0.65" fill="#f02828"/><path d="M174.5 290.8L176 273.7 171.6 289.6z" fill="url(#c505)" stroke="url(#c505)" stroke-width=".3"/><path d="M174.5 290.8L179 282.1 176 273.7z" fill="url(#c506)" stroke="url(#c506)" stroke-width=".3"/><circle cx="179" cy="282.1" r="0.65" fill="#f02828"/><path d="M181.9 290.7L183.3 289.6 179 282.1z" fill="url(#c507)" stroke="url(#c507)" stroke-width=".3"/><path d="M181.9 290.7L186.3 290.8 183.3 289.6z" fill="#7700b4" stroke="#7700b4" stroke-width=".3"/><path d="M177.5 292L179 282.1 174.5 290.8z" fill="url(#c508)" stroke="url(#c508)" stroke-width=".3"/><path d="M177.5 292L181.9 290.7 179 282.1z" fill="url(#c509)" stroke="url(#c509)" stroke-width=".3"/><circle cx="181.9" cy="290.7" r="0.65" fill="#f02828"/><path d="M185.1 289.6L186.3 290.8 181.9 290.7z" fill="url(#c510)" stroke="url(#c510)" stroke-width=".3"/><path d="M185.1 289.6L189.5 292.1 186.3 290.8z" fill="url(#c511)" stroke="url(#c511)" stroke-width=".3"/><path d="M180.5 293.3L181.9 290.7 177.5 292z" fill="#7700b4" stroke="#7700b4" stroke-width=".3"/><path d="M180.5 293.3L185.1 289.6 181.9 290.7z" fill="url(#c512)" stroke="url(#c512)" stroke-width=".3"/><circle cx="185.1" cy="289.6" r="0.65" fill="#f02828"/><linearGradient id="cbc" x1="0" y1="1" x2="0" y2="0"><stop offset="0.0" stop-color="#7a00a8"/><stop offset="0.06" stop-color="#7000d0"/><stop offset="0.12" stop-color="#4000f0"/><stop offset="0.16" stop-color="#0020ff"/><stop offset="0.21" stop-color="#0090ff"/><stop offset="0.26" stop-color="#00e0e8"/><stop offset="0.31" stop-color="#00d850"/><stop offset="0.36" stop-color="#30e000"/><stop offset="0.43" stop-color="#c0f000"/><stop offset="0.5" stop-color="#fff000"/><stop offset="0.57" stop-color="#ff9000"/><stop offset="0.64" stop-color="#ff3000"/><stop offset="0.7" stop-color="#ff0000"/><stop offset="0.82" stop-color="#e00000"/><stop offset="0.91" stop-color="#a00000"/><stop offset="1.0" stop-color="#700010"/></linearGradient><rect x="263.2" y="199.4" width="8.7" height="104.4" fill="url(#cbc)"/><text transform="translate(276.5 306) scale(1.0 1)" font-size="6.7" >−0.010</text><text transform="translate(276.5 295.6) scale(1.0 1)" font-size="6.7" >0.058</text><text transform="translate(276.5 285.1) scale(1.0 1)" font-size="6.7" >0.126</text><text transform="translate(276.5 274.7) scale(1.0 1)" font-size="6.7" >0.193</text><text transform="translate(276.5 264.2) scale(1.0 1)" font-size="6.7" >0.261</text><text transform="translate(276.5 253.8) scale(1.0 1)" font-size="6.7" >0.329</text><text transform="translate(276.5 243.4) scale(1.0 1)" font-size="6.7" >0.397</text><text transform="translate(276.5 232.9) scale(1.0 1)" font-size="6.7" >0.465</text><text transform="translate(276.5 222.5) scale(1.0 1)" font-size="6.7" >0.532</text><text transform="translate(276.5 212) scale(1.0 1)" font-size="6.7" >0.600</text><text transform="translate(276.5 201.6) scale(1.0 1)" font-size="6.7" >0.668</text><path d="M271.9 303.8h1.6M271.9 293.4h1.6M271.9 282.9h1.6M271.9 272.5h1.6M271.9 262h1.6M271.9 251.6h1.6M271.9 241.2h1.6M271.9 230.7h1.6M271.9 220.3h1.6M271.9 209.8h1.6M271.9 199.4h1.6" stroke="#333" stroke-width=".6"/><text transform="translate(76.8 197.5) scale(1.0 1)" font-size="9.6" >c)</text><text transform="translate(91.2 199.5) scale(1.0 1)" font-size="7.4">×10<tspan font-size="4.6" dy="-3.1">4</tspan></text><text transform="translate(272 193.5) scale(1.0 1)" font-size="6.2">×10<tspan font-size="3.8" dy="-2.6">4</tspan></text><text transform="translate(81 259) scale(0.87 1) rotate(-90)" font-size="8.0" text-anchor="middle" >Absolute Kerr signal (mDeg)</text><text transform="translate(96.8 316.2) scale(1 .72)" font-size="6.2" text-anchor="middle">45</text><text transform="translate(100.9 319.4) scale(1 .72)" font-size="6.2" text-anchor="middle">40</text><text transform="translate(105.3 322.7) scale(1 .72)" font-size="6.2" text-anchor="middle">35</text><text transform="translate(109.8 326.3) scale(1 .72)" font-size="6.2" text-anchor="middle">30</text><text transform="translate(114.7 330) scale(1 .72)" font-size="6.2" text-anchor="middle">25</text><text transform="translate(119.9 334) scale(1 .72)" font-size="6.2" text-anchor="middle">20</text><text transform="translate(125.4 338.3) scale(1 .72)" font-size="6.2" text-anchor="middle">15</text><text transform="translate(131.2 342.8) scale(1 .72)" font-size="6.2" text-anchor="middle">10</text><text transform="translate(137.5 347.7) scale(1 .72)" font-size="6.2" text-anchor="middle">5</text><text transform="translate(100 333) rotate(-38) scale(1 .8)" font-size="8.5" text-anchor="middle"><tspan font-style="italic">θ</tspan><tspan font-weight="normal">(°)</tspan></text><text transform="translate(153.9 355.9) rotate(-28) scale(1 .7)" font-size="7.0" text-anchor="middle" style="fill:#333">400</text><text transform="translate(182 350) rotate(-28) scale(1 .7)" font-size="7.0" text-anchor="middle" style="fill:#333">565</text><text transform="translate(189.8 348.3) rotate(-28) scale(1 .7)" font-size="7.0" text-anchor="middle" style="fill:#333">600</text><text transform="translate(203.8 345.4) rotate(-28) scale(1 .7)" font-size="7.0" text-anchor="middle" style="fill:#333">665</text><text transform="translate(213.2 343.4) rotate(-28) scale(1 .7)" font-size="7.0" text-anchor="middle" style="fill:#333">700</text><text transform="translate(234.1 339) rotate(-28) scale(1 .7)" font-size="7.0" text-anchor="middle" style="fill:#333">815</text><text transform="translate(245.4 336.6) rotate(-28) scale(1 .7)" font-size="7.0" text-anchor="middle" style="fill:#333">900</text><text transform="translate(258.2 334) rotate(-28) scale(1 .7)" font-size="7.0" text-anchor="middle" style="fill:#333">1000</text><text transform="translate(222 351) rotate(-14) scale(1.12 .62)" font-size="9" text-anchor="middle" style="fill:#3a3a3a;stroke:#3a3a3a;stroke-width:.15px">Wavelength (nm)</text>
<path d="M193.9 471.4L194.9 376.3M254.8 503.6L259.3 390.6L194.9 376.3 100.5 382.8" stroke="#909090" stroke-width=".8" fill="none"/><path d="M103.9 487.8L100.5 382.8" stroke="#666" stroke-width=".8"/><text transform="translate(96.5 389.1) scale(1.0 1)" font-size="7.4" text-anchor="end" >25</text><text transform="translate(96.8 400.3) scale(1.0 1)" font-size="7.4" text-anchor="end" >20</text><text transform="translate(97.2 411.4) scale(1.0 1)" font-size="7.4" text-anchor="end" >15</text><text transform="translate(97.5 422.4) scale(1.0 1)" font-size="7.4" text-anchor="end" >10</text><text transform="translate(97.9 433.2) scale(1.0 1)" font-size="7.4" text-anchor="end" >5</text><text transform="translate(98.2 444) scale(1.0 1)" font-size="7.4" text-anchor="end" >0</text><text transform="translate(98.5 454.6) scale(1.0 1)" font-size="7.4" text-anchor="end" >−5</text><text transform="translate(98.9 465.2) scale(1.0 1)" font-size="7.4" text-anchor="end" >−10</text><text transform="translate(99.2 475.6) scale(1.0 1)" font-size="7.4" text-anchor="end" >−15</text><text transform="translate(99.5 485.9) scale(1.0 1)" font-size="7.4" text-anchor="end" >−20</text><path d="M100.7 386.6h-2M101 397.8h-2M101.4 408.9h-2M101.7 419.9h-2M102.1 430.7h-2M102.4 441.5h-2M102.7 452.1h-2M103.1 462.7h-2M103.4 473.1h-2M103.7 483.4h-2" stroke="#666" stroke-width=".8"/><defs><linearGradient id="cme" gradientUnits="userSpaceOnUse" x1="0" y1="0" x2="0" y2="1"><stop offset="0.0" stop-color="#7a00a8"/><stop offset="0.06" stop-color="#7000d0"/><stop offset="0.12" stop-color="#4000f0"/><stop offset="0.16" stop-color="#0020ff"/><stop offset="0.21" stop-color="#0090ff"/><stop offset="0.26" stop-color="#00e0e8"/><stop offset="0.31" stop-color="#00d850"/><stop offset="0.36" stop-color="#30e000"/><stop offset="0.43" stop-color="#c0f000"/><stop offset="0.5" stop-color="#fff000"/><stop offset="0.57" stop-color="#ff9000"/><stop offset="0.64" stop-color="#ff3000"/><stop offset="0.7" stop-color="#ff0000"/><stop offset="0.82" stop-color="#e00000"/><stop offset="0.91" stop-color="#a00000"/><stop offset="1.0" stop-color="#700010"/></linearGradient><linearGradient id="e1" href="#cme" x1="218.9" y1="512.3" x2="225.4" y2="502.4"/><linearGradient id="e2" href="#cme" x1="218.9" y1="512.3" x2="225.1" y2="502.1"/><linearGradient id="e3" href="#cme" x1="227.2" y1="506.7" x2="221.1" y2="517.1"/><linearGradient id="e4" href="#cme" x1="227" y1="506.7" x2="221.3" y2="517.3"/><linearGradient id="e5" href="#cme" x1="214.6" y1="509.7" x2="219.9" y2="499.8"/><linearGradient id="e6" href="#cme" x1="214.6" y1="509.7" x2="220.4" y2="500.2"/><linearGradient id="e7" href="#cme" x1="222.9" y1="504.2" x2="216.6" y2="515"/><linearGradient id="e8" href="#cme" x1="223.1" y1="504.4" x2="216.2" y2="514.7"/><linearGradient id="e9" href="#cme" x1="210.5" y1="507.2" x2="217.2" y2="497.5"/><linearGradient id="e10" href="#cme" x1="210.5" y1="507.2" x2="216.7" y2="497"/><linearGradient id="e11" href="#cme" x1="218.6" y1="501.8" x2="212.8" y2="511.8"/><linearGradient id="e12" href="#cme" x1="218.4" y1="501.7" x2="213.1" y2="512"/><linearGradient id="e13" href="#cme" x1="206.4" y1="504.7" x2="212.8" y2="494.5"/><linearGradient id="e14" href="#cme" x1="206.4" y1="504.7" x2="212.7" y2="494.4"/><linearGradient id="e15" href="#cme" x1="214.5" y1="499.4" x2="208.3" y2="510.1"/><linearGradient id="e16" href="#cme" x1="214.5" y1="499.4" x2="208.4" y2="510.2"/><linearGradient id="e17" href="#cme" x1="202.5" y1="502.3" x2="208.7" y2="492"/><linearGradient id="e18" href="#cme" x1="202.5" y1="502.3" x2="208.8" y2="492"/><linearGradient id="e19" href="#cme" x1="210.5" y1="497.1" x2="204.2" y2="507.9"/><linearGradient id="e20" href="#cme" x1="210.5" y1="497.1" x2="204.2" y2="507.9"/><linearGradient id="e21" href="#cme" x1="198.7" y1="499.9" x2="204.4" y2="489.8"/><linearGradient id="e22" href="#cme" x1="198.7" y1="499.9" x2="204.7" y2="490"/><linearGradient id="e23" href="#cme" x1="206.6" y1="494.8" x2="200.3" y2="505.6"/><linearGradient id="e24" href="#cme" x1="206.7" y1="494.9" x2="200.1" y2="505.5"/><linearGradient id="e25" href="#cme" x1="194.9" y1="497.6" x2="202" y2="487.5"/><linearGradient id="e26" href="#cme" x1="194.9" y1="497.7" x2="201.4" y2="487.1"/><linearGradient id="e27" href="#cme" x1="202.8" y1="492.6" x2="196.7" y2="503"/><linearGradient id="e28" href="#cme" x1="202.5" y1="492.5" x2="197.1" y2="503.2"/><linearGradient id="e29" href="#cme" x1="191.2" y1="495.4" x2="197.5" y2="484.9"/><linearGradient id="e30" href="#cme" x1="191.2" y1="495.4" x2="197.6" y2="484.9"/><linearGradient id="e31" href="#cme" x1="199" y1="490.4" x2="192.5" y2="501.6"/><linearGradient id="e32" href="#cme" x1="199.1" y1="490.4" x2="192.4" y2="501.6"/><linearGradient id="e33" href="#cme" x1="187.7" y1="493.1" x2="187.9" y2="488.9"/><linearGradient id="e34" href="#cme" x1="187.7" y1="493.1" x2="190.2" y2="489"/><linearGradient id="e35" href="#cme" x1="195.4" y1="488.3" x2="189" y2="499.4"/><linearGradient id="e36" href="#cme" x1="195.8" y1="491.9" x2="188.2" y2="492"/><linearGradient id="e37" href="#cme" x1="184.1" y1="490.9" x2="191.2" y2="490.1"/><linearGradient id="e38" href="#cme" x1="184.1" y1="491.1" x2="190" y2="481.5"/><linearGradient id="e39" href="#cme" x1="191.8" y1="486.3" x2="189.2" y2="490.7"/><linearGradient id="e40" href="#cme" x1="189.9" y1="486.4" x2="189.7" y2="490.7"/><linearGradient id="e41" href="#cme" x1="180.8" y1="488.9" x2="181.2" y2="484.4"/><linearGradient id="e42" href="#cme" x1="180.8" y1="488.9" x2="183.5" y2="484.5"/><linearGradient id="e43" href="#cme" x1="188.3" y1="484.2" x2="182.5" y2="494.3"/><linearGradient id="e44" href="#cme" x1="189.1" y1="487.5" x2="181" y2="488.3"/><linearGradient id="e45" href="#cme" x1="177.4" y1="486.9" x2="183.7" y2="483.3"/><linearGradient id="e46" href="#cme" x1="177.4" y1="486.9" x2="181.6" y2="480.1"/><linearGradient id="e47" href="#cme" x1="184.9" y1="482.3" x2="182.2" y2="486.9"/><linearGradient id="e48" href="#cme" x1="183.6" y1="482.2" x2="182.6" y2="487"/><linearGradient id="e49" href="#cme" x1="174.1" y1="484.9" x2="180.6" y2="477.9"/><linearGradient id="e50" href="#cme" x1="174.1" y1="484.9" x2="179.1" y2="476.7"/><linearGradient id="e51" href="#cme" x1="181.6" y1="480.3" x2="177.4" y2="487.5"/><linearGradient id="e52" href="#cme" x1="180.9" y1="480.2" x2="178.1" y2="487.7"/><linearGradient id="e53" href="#cme" x1="170.8" y1="482.9" x2="183.6" y2="477.3"/><linearGradient id="e54" href="#cme" x1="170.9" y1="483.1" x2="179.2" y2="469.4"/><linearGradient id="e55" href="#cme" x1="178.3" y1="478.4" x2="173.3" y2="487.1"/><linearGradient id="e56" href="#cme" x1="176.9" y1="478.4" x2="175.5" y2="487.1"/><linearGradient id="e57" href="#cme" x1="167.8" y1="481.1" x2="175.4" y2="467.7"/><linearGradient id="e58" href="#cme" x1="167.7" y1="481.1" x2="175.8" y2="467.9"/><linearGradient id="e59" href="#cme" x1="175.2" y1="476.5" x2="166.8" y2="490.9"/><linearGradient id="e60" href="#cme" x1="175.3" y1="476.5" x2="166.4" y2="490.7"/><linearGradient id="e61" href="#cme" x1="164.7" y1="479.3" x2="174.6" y2="465.6"/><linearGradient id="e62" href="#cme" x1="164.7" y1="479.3" x2="173.4" y2="465"/><linearGradient id="e63" href="#cme" x1="172.1" y1="474.7" x2="163.9" y2="488.6"/><linearGradient id="e64" href="#cme" x1="171.8" y1="474.6" x2="164.9" y2="488.9"/><linearGradient id="e65" href="#cme" x1="165.2" y1="430.1" x2="181.2" y2="393.4"/><linearGradient id="e66" href="#cme" x1="166.1" y1="431.2" x2="179.1" y2="390.9"/><linearGradient id="e67" href="#cme" x1="165.2" y1="435.7" x2="188.8" y2="383.8"/><linearGradient id="e68" href="#cme" x1="165.2" y1="435.7" x2="189.2" y2="384.3"/><linearGradient id="e69" href="#cme" x1="168.5" y1="431.5" x2="184.5" y2="394.5"/><linearGradient id="e70" href="#cme" x1="168.6" y1="431.8" x2="184.1" y2="394"/><linearGradient id="e71" href="#cme" x1="168.4" y1="437.1" x2="191.8" y2="385.3"/><linearGradient id="e72" href="#cme" x1="168.4" y1="437.2" x2="188.9" y2="382.8"/><linearGradient id="e73" href="#cme" x1="167.8" y1="431.3" x2="185.6" y2="390.3"/><linearGradient id="e74" href="#cme" x1="174.3" y1="435.5" x2="178.8" y2="385.9"/><linearGradient id="e75" href="#cme" x1="171.6" y1="438.6" x2="195.4" y2="386.1"/><linearGradient id="e76" href="#cme" x1="171.4" y1="438.3" x2="204.4" y2="406"/><linearGradient id="e77" href="#cme" x1="169" y1="431.9" x2="187.4" y2="389.3"/><linearGradient id="e78" href="#cme" x1="174" y1="435.8" x2="184" y2="386.6"/><linearGradient id="e79" href="#cme" x1="174.8" y1="440" x2="197.6" y2="389.9"/><linearGradient id="e80" href="#cme" x1="174.8" y1="440" x2="198.7" y2="391.2"/><linearGradient id="e81" href="#cme" x1="165.5" y1="430.4" x2="185" y2="385.4"/><linearGradient id="e82" href="#cme" x1="178.2" y1="441.6" x2="200.8" y2="391.6"/><linearGradient id="e83" href="#cme" x1="182.4" y1="438.7" x2="183.5" y2="384.7"/><linearGradient id="e84" href="#cme" x1="178.9" y1="436.2" x2="197" y2="394.4"/><linearGradient id="e85" href="#cme" x1="178.1" y1="441.5" x2="205.6" y2="398.2"/><linearGradient id="e86" href="#cme" x1="180.1" y1="420.7" x2="195.4" y2="414.4"/><linearGradient id="e87" href="#cme" x1="181.6" y1="443.1" x2="204.1" y2="393.6"/><linearGradient id="e88" href="#cme" x1="181.9" y1="443.2" x2="187.4" y2="384.7"/><linearGradient id="e89" href="#cme" x1="185.1" y1="444.7" x2="208.9" y2="392.3"/><linearGradient id="e90" href="#cme" x1="170.6" y1="432.6" x2="190.7" y2="386.3"/><linearGradient id="e91" href="#cme" x1="195.2" y1="441.5" x2="190.6" y2="386.3"/><linearGradient id="e92" href="#cme" x1="186.5" y1="439.5" x2="204.9" y2="397.2"/><linearGradient id="e93" href="#cme" x1="185" y1="444.3" x2="215.8" y2="423.5"/><linearGradient id="e94" href="#cme" x1="189.7" y1="423.4" x2="200.3" y2="420.4"/><linearGradient id="e95" href="#cme" x1="188.7" y1="446.3" x2="211.6" y2="395.7"/><linearGradient id="e96" href="#cme" x1="190.2" y1="441.1" x2="208.8" y2="398.3"/><linearGradient id="e97" href="#cme" x1="191" y1="441.9" x2="207.6" y2="397.1"/><linearGradient id="e98" href="#cme" x1="189" y1="446.5" x2="193.5" y2="386.4"/><linearGradient id="e99" href="#cme" x1="192.4" y1="448.1" x2="216.9" y2="394"/><linearGradient id="e100" href="#cme" x1="192.4" y1="448.1" x2="213.6" y2="391.1"/><linearGradient id="e101" href="#cme" x1="193.2" y1="442.4" x2="212.3" y2="398.6"/><linearGradient id="e102" href="#cme" x1="195.1" y1="444.2" x2="209.9" y2="396.3"/><linearGradient id="e103" href="#cme" x1="196.1" y1="449.8" x2="220.9" y2="395.1"/><linearGradient id="e104" href="#cme" x1="196.1" y1="449.8" x2="219.7" y2="393.9"/><linearGradient id="e105" href="#cme" x1="197.3" y1="444.2" x2="216.5" y2="399.9"/><linearGradient id="e106" href="#cme" x1="198" y1="444.9" x2="215.6" y2="399"/><linearGradient id="e107" href="#cme" x1="200" y1="451.5" x2="224.9" y2="396.6"/><linearGradient id="e108" href="#cme" x1="200" y1="451.6" x2="220.7" y2="393"/><linearGradient id="e109" href="#cme" x1="201.1" y1="445.9" x2="220.6" y2="401"/><linearGradient id="e110" href="#cme" x1="202.2" y1="447" x2="219.2" y2="399.6"/><linearGradient id="e111" href="#cme" x1="203.9" y1="453.3" x2="229.2" y2="397.6"/><linearGradient id="e112" href="#cme" x1="204" y1="453.4" x2="225.9" y2="394.6"/><linearGradient id="e113" href="#cme" x1="204.9" y1="447.5" x2="224.8" y2="401.9"/><linearGradient id="e114" href="#cme" x1="206.3" y1="448.9" x2="223" y2="400.3"/><linearGradient id="e115" href="#cme" x1="208" y1="455.2" x2="233.5" y2="398.8"/><linearGradient id="e116" href="#cme" x1="208" y1="455.2" x2="230.6" y2="396.1"/><linearGradient id="e117" href="#cme" x1="208.3" y1="449" x2="228.6" y2="402.3"/><linearGradient id="e118" href="#cme" x1="210.6" y1="451.1" x2="226.1" y2="400.1"/><linearGradient id="e119" href="#cme" x1="212.1" y1="457.1" x2="237.9" y2="400.1"/><linearGradient id="e120" href="#cme" x1="212.2" y1="457.1" x2="236.1" y2="398.3"/><linearGradient id="e121" href="#cme" x1="213.1" y1="451.1" x2="233.5" y2="404.2"/><linearGradient id="e122" href="#cme" x1="213.5" y1="451.6" x2="233.1" y2="403.7"/><linearGradient id="e123" href="#cme" x1="216.4" y1="459" x2="242.4" y2="401.7"/><linearGradient id="e124" href="#cme" x1="216.5" y1="459.1" x2="236.8" y2="397.1"/><linearGradient id="e125" href="#cme" x1="217" y1="452.8" x2="237.8" y2="404.9"/><linearGradient id="e126" href="#cme" x1="219" y1="454.6" x2="235.6" y2="403"/><linearGradient id="e127" href="#cme" x1="220.8" y1="461" x2="247.2" y2="402.7"/><linearGradient id="e128" href="#cme" x1="220.8" y1="461.1" x2="244.5" y2="400.2"/></defs><path d="M152.8 527.8 L103.9 487.8 L193.9 471.4 L254.8 503.6z" fill="#7700b2"/><path d="M219 512.1L224.8 510.7 220.6 508.2z" fill="url(#e1)" stroke="url(#e1)" stroke-width=".3"/><path d="M219 512.1L220.6 508.2 214.7 509.5z" fill="url(#e2)" stroke="url(#e2)" stroke-width=".3"/><path d="M224.8 510.7L231.1 509.3 226.8 506.7z" fill="url(#e3)" stroke="url(#e3)" stroke-width=".3"/><path d="M224.8 510.7L226.8 506.7 220.6 508.2z" fill="url(#e4)" stroke="url(#e4)" stroke-width=".3"/><path d="M214.7 509.5L220.6 508.2 216.4 505.7z" fill="url(#e5)" stroke="url(#e5)" stroke-width=".3"/><path d="M214.7 509.5L216.4 505.7 210.6 507z" fill="url(#e6)" stroke="url(#e6)" stroke-width=".3"/><path d="M220.6 508.2L226.8 506.7 222.6 504.3z" fill="url(#e7)" stroke="url(#e7)" stroke-width=".3"/><path d="M220.6 508.2L222.6 504.3 216.4 505.7z" fill="url(#e8)" stroke="url(#e8)" stroke-width=".3"/><path d="M210.6 507L216.4 505.7 212.3 503.3z" fill="url(#e9)" stroke="url(#e9)" stroke-width=".3"/><path d="M210.6 507L212.3 503.3 206.5 504.5z" fill="url(#e10)" stroke="url(#e10)" stroke-width=".3"/><path d="M216.4 505.7L222.6 504.3 218.4 501.9z" fill="url(#e11)" stroke="url(#e11)" stroke-width=".3"/><path d="M216.4 505.7L218.4 501.9 212.3 503.3z" fill="url(#e12)" stroke="url(#e12)" stroke-width=".3"/><path d="M206.5 504.5L212.3 503.3 208.3 500.9z" fill="url(#e13)" stroke="url(#e13)" stroke-width=".3"/><path d="M206.5 504.5L208.3 500.9 202.6 502.1z" fill="url(#e14)" stroke="url(#e14)" stroke-width=".3"/><path d="M212.3 503.3L218.4 501.9 214.4 499.5z" fill="url(#e15)" stroke="url(#e15)" stroke-width=".3"/><path d="M212.3 503.3L214.4 499.5 208.3 500.9z" fill="url(#e16)" stroke="url(#e16)" stroke-width=".3"/><path d="M202.6 502.1L208.3 500.9 204.4 498.6z" fill="url(#e17)" stroke="url(#e17)" stroke-width=".3"/><path d="M202.6 502.1L204.4 498.6 198.7 499.8z" fill="url(#e18)" stroke="url(#e18)" stroke-width=".3"/><path d="M208.3 500.9L214.4 499.5 210.5 497.3z" fill="url(#e19)" stroke="url(#e19)" stroke-width=".3"/><path d="M208.3 500.9L210.5 497.3 204.4 498.6z" fill="url(#e20)" stroke="url(#e20)" stroke-width=".3"/><path d="M198.7 499.8L204.4 498.6 200.6 496.3z" fill="url(#e21)" stroke="url(#e21)" stroke-width=".3"/><path d="M198.7 499.8L200.6 496.3 195 497.5z" fill="url(#e22)" stroke="url(#e22)" stroke-width=".3"/><path d="M204.4 498.6L210.5 497.3 206.6 495z" fill="url(#e23)" stroke="url(#e23)" stroke-width=".3"/><path d="M204.4 498.6L206.6 495 200.6 496.3z" fill="url(#e24)" stroke="url(#e24)" stroke-width=".3"/><path d="M195 497.5L200.6 496.3 196.9 494.1z" fill="url(#e25)" stroke="url(#e25)" stroke-width=".3"/><path d="M195 497.5L196.9 494.1 191.3 495.3z" fill="url(#e26)" stroke="url(#e26)" stroke-width=".3"/><path d="M200.6 496.3L206.6 495 202.9 492.8z" fill="url(#e27)" stroke="url(#e27)" stroke-width=".3"/><path d="M200.6 496.3L202.9 492.8 196.9 494.1z" fill="url(#e28)" stroke="url(#e28)" stroke-width=".3"/><path d="M191.3 495.3L196.9 494.1 193.3 491.9z" fill="url(#e29)" stroke="url(#e29)" stroke-width=".3"/><path d="M191.3 495.3L193.3 491.9 187.7 493.1z" fill="url(#e30)" stroke="url(#e30)" stroke-width=".3"/><path d="M196.9 494.1L202.9 492.8 199.2 490.7z" fill="url(#e31)" stroke="url(#e31)" stroke-width=".3"/><path d="M196.9 494.1L199.2 490.7 193.3 491.9z" fill="url(#e32)" stroke="url(#e32)" stroke-width=".3"/><path d="M187.7 493.1L193.3 491.9 189.7 489.8z" fill="url(#e33)" stroke="url(#e33)" stroke-width=".3"/><path d="M187.7 493.1L189.7 489.8 184.2 490.9z" fill="url(#e34)" stroke="url(#e34)" stroke-width=".3"/><path d="M193.3 491.9L199.2 490.7 195.6 488.6z" fill="url(#e35)" stroke="url(#e35)" stroke-width=".3"/><path d="M193.3 491.9L195.6 488.6 189.7 489.8z" fill="url(#e36)" stroke="url(#e36)" stroke-width=".3"/><path d="M184.2 490.9L189.7 489.8 186.3 487.8z" fill="url(#e37)" stroke="url(#e37)" stroke-width=".3"/><path d="M184.2 490.9L186.3 487.8 180.8 488.8z" fill="url(#e38)" stroke="url(#e38)" stroke-width=".3"/><path d="M189.7 489.8L195.6 488.6 192.1 486.6z" fill="url(#e39)" stroke="url(#e39)" stroke-width=".3"/><path d="M189.7 489.8L192.1 486.6 186.3 487.8z" fill="url(#e40)" stroke="url(#e40)" stroke-width=".3"/><path d="M180.8 488.8L186.3 487.8 182.9 485.7z" fill="url(#e41)" stroke="url(#e41)" stroke-width=".3"/><path d="M180.8 488.8L182.9 485.7 177.5 486.8z" fill="url(#e42)" stroke="url(#e42)" stroke-width=".3"/><path d="M186.3 487.8L192.1 486.6 188.7 484.6z" fill="url(#e43)" stroke="url(#e43)" stroke-width=".3"/><path d="M186.3 487.8L188.7 484.6 182.9 485.7z" fill="url(#e44)" stroke="url(#e44)" stroke-width=".3"/><path d="M177.5 486.8L182.9 485.7 179.6 483.8z" fill="url(#e45)" stroke="url(#e45)" stroke-width=".3"/><path d="M177.5 486.8L179.6 483.8 174.2 484.8z" fill="url(#e46)" stroke="url(#e46)" stroke-width=".3"/><path d="M182.9 485.7L188.7 484.6 185.3 482.6z" fill="url(#e47)" stroke="url(#e47)" stroke-width=".3"/><path d="M182.9 485.7L185.3 482.6 179.6 483.8z" fill="url(#e48)" stroke="url(#e48)" stroke-width=".3"/><path d="M174.2 484.8L179.6 483.8 176.3 481.8z" fill="url(#e49)" stroke="url(#e49)" stroke-width=".3"/><path d="M174.2 484.8L176.3 481.8 171 482.8z" fill="url(#e50)" stroke="url(#e50)" stroke-width=".3"/><path d="M179.6 483.8L185.3 482.6 182.1 480.7z" fill="url(#e51)" stroke="url(#e51)" stroke-width=".3"/><path d="M179.6 483.8L182.1 480.7 176.3 481.8z" fill="url(#e52)" stroke="url(#e52)" stroke-width=".3"/><path d="M171 482.8L176.3 481.8 173.2 479.9z" fill="url(#e53)" stroke="url(#e53)" stroke-width=".3"/><path d="M171 482.8L173.2 479.9 167.9 480.9z" fill="url(#e54)" stroke="url(#e54)" stroke-width=".3"/><path d="M176.3 481.8L182.1 480.7 178.8 478.9z" fill="url(#e55)" stroke="url(#e55)" stroke-width=".3"/><path d="M176.3 481.8L178.8 478.9 173.2 479.9z" fill="url(#e56)" stroke="url(#e56)" stroke-width=".3"/><path d="M167.9 480.9L173.2 479.9 170.1 478.1z" fill="url(#e57)" stroke="url(#e57)" stroke-width=".3"/><path d="M167.9 480.9L170.1 478.1 164.8 479.1z" fill="url(#e58)" stroke="url(#e58)" stroke-width=".3"/><path d="M173.2 479.9L178.8 478.9 175.7 477.1z" fill="url(#e59)" stroke="url(#e59)" stroke-width=".3"/><path d="M173.2 479.9L175.7 477.1 170.1 478.1z" fill="url(#e60)" stroke="url(#e60)" stroke-width=".3"/><path d="M164.8 479.1L170.1 478.1 167 476.3z" fill="url(#e61)" stroke="url(#e61)" stroke-width=".3"/><path d="M164.8 479.1L167 476.3 161.8 477.2z" fill="url(#e62)" stroke="url(#e62)" stroke-width=".3"/><path d="M170.1 478.1L175.7 477.1 172.6 475.3z" fill="url(#e63)" stroke="url(#e63)" stroke-width=".3"/><path d="M170.1 478.1L172.6 475.3 167 476.3z" fill="url(#e64)" stroke="url(#e64)" stroke-width=".3"/><path d="M206.4 515.1L150.7 479.2M241.5 506.8L181.9 473.6" stroke="#fff" stroke-width="1.3"/><path d="M152.3 472.1 L102.4 441.5 L194.4 429.3 L256.8 453.9z" fill="#7010c8"/><path d="M207.3 462.5L150.3 435.2M243.2 456.3L182.2 430.9" stroke="#ffc0b0" stroke-width="1.2"/><path d="M152.3 472.1h0M155 471.6h0M157.6 471.2h0M160.2 470.7h0M162.7 470.3h0M165.3 469.8h0M167.9 469.4h0M170.4 469h0M172.9 468.5h0M175.4 468.1h0M177.9 467.6h0M180.4 467.2h0M182.8 466.8h0M185.3 466.4h0M187.7 465.9h0M190.1 465.5h0M192.5 465.1h0M194.9 464.7h0M197.3 464.3h0M199.7 463.9h0M202 463.4h0M204.4 463h0M206.7 462.6h0M209 462.2h0M211.3 461.8h0M213.6 461.4h0M215.9 461h0M218.1 460.7h0M220.4 460.3h0M233.6 458h0M235.8 457.6h0M237.9 457.2h0M240.1 456.8h0M242.2 456.5h0M244.3 456.1h0M246.4 455.7h0M248.5 455.4h0M250.6 455h0M252.7 454.6h0M254.8 454.3h0M256.8 453.9h0M150.3 470.8h0M152.9 470.4h0M155.5 470h0M158.1 469.5h0M160.7 469.1h0M163.2 468.6h0M165.7 468.2h0M168.3 467.8h0M170.8 467.3h0M173.3 466.9h0M175.7 466.5h0M178.2 466h0M180.7 465.6h0M183.1 465.2h0M185.5 464.8h0M187.9 464.4h0M190.3 464h0M192.7 463.6h0M195.1 463.1h0M197.4 462.7h0M199.8 462.3h0M202.1 461.9h0M204.4 461.5h0M206.7 461.1h0M209 460.7h0M211.3 460.4h0M213.5 460h0M215.8 459.6h0M218 459.2h0M231.2 456.9h0M233.4 456.6h0M235.5 456.2h0M237.7 455.8h0M239.8 455.4h0M241.9 455.1h0M244 454.7h0M246.1 454.4h0M248.2 454h0M250.2 453.7h0M252.3 453.3h0M254.3 452.9h0M148.3 469.6h0M150.9 469.2h0M153.5 468.7h0M156.1 468.3h0M158.6 467.9h0M161.2 467.4h0M163.7 467h0M166.2 466.6h0M168.7 466.2h0M171.2 465.7h0M173.6 465.3h0M176.1 464.9h0M178.5 464.5h0M180.9 464.1h0M183.3 463.7h0M185.7 463.2h0M188.1 462.8h0M190.5 462.4h0M192.9 462h0M195.2 461.6h0M197.5 461.2h0M199.8 460.8h0M202.2 460.5h0M204.4 460.1h0M206.7 459.7h0M209 459.3h0M211.2 458.9h0M213.5 458.5h0M215.7 458.1h0M228.9 455.9h0M231 455.5h0M233.1 455.2h0M235.3 454.8h0M237.4 454.5h0M239.5 454.1h0M241.6 453.7h0M243.7 453.4h0M245.7 453h0M247.8 452.7h0M249.8 452.3h0M251.9 452h0M146.3 468.4h0M148.9 468h0M151.5 467.5h0M154.1 467.1h0M156.6 466.7h0M159.1 466.3h0M161.6 465.8h0M164.1 465.4h0M166.6 465h0M169.1 464.6h0M171.5 464.2h0M174 463.8h0M176.4 463.4h0M178.8 462.9h0M181.2 462.5h0M183.6 462.1h0M186 461.7h0M188.3 461.3h0M190.7 460.9h0M193 460.6h0M195.3 460.2h0M197.6 459.8h0M199.9 459.4h0M202.2 459h0M204.5 458.6h0M206.7 458.2h0M209 457.9h0M211.2 457.5h0M213.4 457.1h0M226.5 454.9h0M228.7 454.5h0M230.8 454.2h0M232.9 453.8h0M235 453.5h0M237.1 453.1h0M239.2 452.8h0M241.3 452.4h0M243.3 452.1h0M245.4 451.7h0M247.4 451.4h0M249.5 451h0M144.4 467.2h0M147 466.8h0M149.5 466.4h0M152.1 465.9h0M154.6 465.5h0M157.1 465.1h0M159.6 464.7h0M162.1 464.3h0M164.6 463.9h0M167 463.5h0M169.5 463h0M171.9 462.6h0M174.3 462.2h0M176.7 461.8h0M179.1 461.4h0M181.5 461h0M183.8 460.6h0M186.2 460.3h0M188.5 459.9h0M190.8 459.5h0M193.2 459.1h0M195.4 458.7h0M197.7 458.3h0M200 457.9h0M202.3 457.6h0M204.5 457.2h0M206.8 456.8h0M209 456.5h0M211.2 456.1h0M224.2 453.9h0M226.4 453.6h0M228.5 453.2h0M230.6 452.8h0M232.7 452.5h0M234.8 452.1h0M236.9 451.8h0M238.9 451.5h0M241 451.1h0M243 450.8h0M245.1 450.4h0M247.1 450.1h0M142.5 466.1h0M145.1 465.6h0M147.6 465.2h0M150.1 464.8h0M152.6 464.4h0M155.1 464h0M157.6 463.6h0M160.1 463.1h0M162.6 462.7h0M165 462.3h0M167.4 461.9h0M169.8 461.5h0M172.2 461.1h0M174.6 460.7h0M177 460.4h0M179.4 460h0M181.7 459.6h0M184.1 459.2h0M186.4 458.8h0M188.7 458.4h0M191 458h0M193.3 457.7h0M195.6 457.3h0M197.8 456.9h0M200.1 456.5h0M202.3 456.2h0M204.6 455.8h0M206.8 455.4h0M209 455.1h0M222 452.9h0M224.1 452.6h0M226.2 452.2h0M228.3 451.9h0M230.4 451.5h0M232.5 451.2h0M234.5 450.8h0M236.6 450.5h0M238.6 450.2h0M240.7 449.8h0M242.7 449.5h0M244.7 449.2h0M140.6 464.9h0M143.2 464.5h0M145.7 464.1h0M148.2 463.7h0M150.7 463.3h0M153.2 462.8h0M155.7 462.4h0M158.1 462h0M160.6 461.6h0M163 461.2h0M165.4 460.8h0M167.8 460.5h0M170.2 460.1h0M172.6 459.7h0M175 459.3h0M177.3 458.9h0M179.7 458.5h0M182 458.1h0M184.3 457.8h0M186.6 457.4h0M188.9 457h0M191.2 456.6h0M193.4 456.3h0M195.7 455.9h0M197.9 455.5h0M200.2 455.2h0M202.4 454.8h0M204.6 454.4h0M206.8 454.1h0M219.7 452h0M221.8 451.6h0M223.9 451.3h0M226 450.9h0M228.1 450.6h0M230.2 450.2h0M232.2 449.9h0M234.3 449.6h0M236.3 449.2h0M238.4 448.9h0M240.4 448.6h0M242.4 448.2h0M138.8 463.8h0M141.3 463.4h0M143.8 462.9h0M146.3 462.5h0M148.8 462.1h0M151.3 461.7h0M153.7 461.3h0M156.2 460.9h0M158.6 460.5h0M161 460.2h0M163.4 459.8h0M165.8 459.4h0M168.2 459h0M170.6 458.6h0M172.9 458.2h0M175.3 457.8h0M177.6 457.5h0M179.9 457.1h0M182.2 456.7h0M184.5 456.3h0M186.8 456h0M189.1 455.6h0M191.3 455.2h0M193.6 454.9h0M195.8 454.5h0M198 454.2h0M200.2 453.8h0M202.4 453.4h0M204.6 453.1h0M217.5 451h0M219.6 450.7h0M221.7 450.3h0M223.8 450h0M225.9 449.7h0M227.9 449.3h0M230 449h0M232 448.7h0M234.1 448.3h0M236.1 448h0M238.1 447.7h0M240.1 447.3h0M136.9 462.6h0M139.5 462.2h0M142 461.8h0M144.4 461.4h0M146.9 461h0M149.4 460.6h0M151.8 460.3h0M154.3 459.9h0M156.7 459.5h0M159.1 459.1h0M161.5 458.7h0M163.9 458.3h0M166.2 457.9h0M168.6 457.6h0M170.9 457.2h0M173.3 456.8h0M175.6 456.4h0M177.9 456.1h0M180.2 455.7h0M182.5 455.3h0M184.8 455h0M187 454.6h0M189.3 454.2h0M191.5 453.9h0M193.7 453.5h0M195.9 453.2h0M198.1 452.8h0M200.3 452.5h0M202.5 452.1h0M215.3 450.1h0M217.4 449.7h0M219.5 449.4h0M221.6 449.1h0M223.7 448.7h0M225.7 448.4h0M227.8 448.1h0M229.8 447.7h0M231.8 447.4h0M233.8 447.1h0M235.8 446.8h0M237.8 446.5h0M135.1 461.5h0M137.6 461.1h0M140.1 460.7h0M142.6 460.4h0M145.1 460h0M147.5 459.6h0M150 459.2h0M152.4 458.8h0M154.8 458.4h0M157.2 458h0M159.6 457.7h0M161.9 457.3h0M164.3 456.9h0M166.6 456.5h0M169 456.2h0M171.3 455.8h0M173.6 455.4h0M175.9 455.1h0M178.2 454.7h0M180.5 454.3h0M182.7 454h0M185 453.6h0M187.2 453.3h0M189.4 452.9h0M191.6 452.6h0M193.9 452.2h0M196 451.9h0M198.2 451.5h0M200.4 451.2h0M213.2 449.1h0M215.3 448.8h0M217.3 448.5h0M219.4 448.1h0M221.5 447.8h0M223.5 447.5h0M225.6 447.2h0M227.6 446.8h0M229.6 446.5h0M231.6 446.2h0M233.6 445.9h0M235.6 445.6h0M133.4 460.4h0M135.8 460.1h0M138.3 459.7h0M140.8 459.3h0M143.2 458.9h0M145.7 458.5h0M148.1 458.1h0M150.5 457.7h0M152.9 457.4h0M155.3 457h0M157.7 456.6h0M160 456.2h0M162.4 455.9h0M164.7 455.5h0M167 455.1h0M169.4 454.8h0M171.6 454.4h0M173.9 454.1h0M176.2 453.7h0M178.5 453.3h0M180.7 453h0M183 452.6h0M185.2 452.3h0M187.4 451.9h0M189.6 451.6h0M191.8 451.2h0M194 450.9h0M196.2 450.6h0M198.3 450.2h0M211 448.2h0M213.1 447.9h0M215.2 447.6h0M217.3 447.2h0M219.3 446.9h0M221.4 446.6h0M223.4 446.3h0M225.4 446h0M227.4 445.6h0M229.4 445.3h0M231.4 445h0M233.4 444.7h0M131.6 459.4h0M134.1 459h0M136.5 458.6h0M139 458.2h0M141.4 457.8h0M143.9 457.5h0M146.3 457.1h0M148.7 456.7h0M151.1 456.3h0M153.4 456h0M155.8 455.6h0M158.2 455.2h0M160.5 454.9h0M162.8 454.5h0M165.1 454.1h0M167.4 453.8h0M169.7 453.4h0M172 453.1h0M174.3 452.7h0M176.5 452.4h0M178.7 452h0M181 451.7h0M183.2 451.3h0M185.4 451h0M187.6 450.6h0M189.8 450.3h0M192 450h0M194.1 449.6h0M196.3 449.3h0M208.9 447.3h0M211 447h0M213.1 446.7h0M215.1 446.4h0M217.2 446h0M219.2 445.7h0M221.2 445.4h0M223.3 445.1h0M225.3 444.8h0M227.3 444.5h0M229.2 444.2h0M231.2 443.8h0M129.9 458.3h0M132.3 457.9h0M134.8 457.6h0M137.2 457.2h0M139.7 456.8h0M142.1 456.4h0M144.5 456.1h0M146.9 455.7h0M149.2 455.3h0M151.6 455h0M154 454.6h0M156.3 454.2h0M158.6 453.9h0M160.9 453.5h0M163.2 453.2h0M165.5 452.8h0M167.8 452.5h0M170.1 452.1h0M172.3 451.8h0M174.6 451.4h0M176.8 451.1h0M179 450.7h0M181.2 450.4h0M183.4 450h0M185.6 449.7h0M187.8 449.4h0M189.9 449h0M192.1 448.7h0M194.2 448.4h0M206.9 446.4h0M208.9 446.1h0M211 445.8h0M213 445.5h0M215.1 445.2h0M217.1 444.8h0M219.1 444.5h0M221.1 444.2h0M223.1 443.9h0M225.1 443.6h0M227.1 443.3h0M229.1 443h0M128.2 457.3h0M130.6 456.9h0M133.1 456.5h0M135.5 456.1h0M137.9 455.8h0M140.3 455.4h0M142.7 455h0M145.1 454.7h0M147.4 454.3h0M149.8 454h0M152.1 453.6h0M154.5 453.2h0M156.8 452.9h0M159.1 452.5h0M161.4 452.2h0M163.7 451.8h0M165.9 451.5h0M168.2 451.1h0M170.4 450.8h0M172.7 450.5h0M174.9 450.1h0M177.1 449.8h0M179.3 449.4h0M181.5 449.1h0M183.6 448.8h0M185.8 448.4h0M188 448.1h0M190.1 447.8h0M192.2 447.5h0M204.8 445.5h0M206.9 445.2h0M208.9 444.9h0M211 444.6h0M213 444.3h0M215 444h0M217 443.7h0M219 443.4h0M221 443.1h0M223 442.8h0M225 442.5h0M226.9 442.2h0M126.5 456.2h0M128.9 455.9h0M131.4 455.5h0M133.8 455.1h0M136.2 454.8h0M138.6 454.4h0M140.9 454h0M143.3 453.7h0M145.7 453.3h0M148 453h0M150.3 452.6h0M152.7 452.3h0M155 451.9h0M157.3 451.6h0M159.5 451.2h0M161.8 450.9h0M164.1 450.5h0M166.3 450.2h0M168.5 449.9h0M170.8 449.5h0M173 449.2h0M175.2 448.9h0M177.4 448.5h0M179.5 448.2h0M181.7 447.9h0M183.9 447.5h0M186 447.2h0M188.1 446.9h0M190.3 446.6h0M202.8 444.7h0M204.8 444.4h0M206.9 444h0M208.9 443.7h0M210.9 443.4h0M213 443.1h0M215 442.8h0M216.9 442.5h0M218.9 442.2h0M220.9 441.9h0M222.9 441.6h0M224.8 441.3h0M124.8 455.2h0M127.3 454.9h0M129.7 454.5h0M132.1 454.1h0M134.5 453.8h0M136.8 453.4h0M139.2 453.1h0M141.6 452.7h0M143.9 452.4h0M146.2 452h0M148.6 451.7h0M150.9 451.3h0M153.2 451h0M155.4 450.6h0M157.7 450.3h0M160 449.9h0M162.2 449.6h0M164.5 449.3h0M166.7 448.9h0M168.9 448.6h0M171.1 448.3h0M173.3 447.9h0M175.5 447.6h0M177.6 447.3h0M179.8 447h0M181.9 446.6h0M184.1 446.3h0M186.2 446h0M188.3 445.7h0M200.8 443.8h0M202.8 443.5h0M204.9 443.2h0M206.9 442.9h0M208.9 442.6h0M210.9 442.3h0M212.9 442h0M214.9 441.7h0M216.9 441.4h0M218.8 441.1h0M220.8 440.8h0M222.7 440.5h0M123.2 454.2h0M125.6 453.9h0M128 453.5h0M130.4 453.1h0M132.8 452.8h0M135.2 452.4h0M137.5 452.1h0M139.9 451.7h0M142.2 451.4h0M144.5 451h0M146.8 450.7h0M149.1 450.4h0M151.4 450h0M153.7 449.7h0M155.9 449.3h0M158.2 449h0M160.4 448.7h0M162.6 448.3h0M164.9 448h0M167.1 447.7h0M169.2 447.4h0M171.4 447h0M173.6 446.7h0M175.8 446.4h0M177.9 446.1h0M180.1 445.8h0M182.2 445.4h0M184.3 445.1h0M186.4 444.8h0M198.8 443h0M200.9 442.7h0M202.9 442.4h0M204.9 442.1h0M206.9 441.8h0M208.9 441.5h0M210.9 441.2h0M212.9 440.9h0M214.8 440.6h0M216.8 440.3h0M218.8 440h0M220.7 439.7h0M121.6 453.2h0M124 452.9h0M126.4 452.5h0M128.8 452.2h0M131.1 451.8h0M133.5 451.5h0M135.8 451.1h0M138.2 450.8h0M140.5 450.4h0M142.8 450.1h0M145.1 449.8h0M147.4 449.4h0M149.6 449.1h0M151.9 448.8h0M154.2 448.4h0M156.4 448.1h0M158.6 447.8h0M160.8 447.4h0M163 447.1h0M165.2 446.8h0M167.4 446.5h0M169.6 446.1h0M171.8 445.8h0M173.9 445.5h0M176 445.2h0M178.2 444.9h0M180.3 444.6h0M182.4 444.3h0M184.5 443.9h0M196.9 442.1h0M198.9 441.8h0M200.9 441.5h0M202.9 441.2h0M204.9 440.9h0M206.9 440.6h0M208.9 440.3h0M210.9 440.1h0M212.8 439.8h0M214.8 439.5h0M216.7 439.2h0M218.7 438.9h0M120 452.2h0M122.4 451.9h0M124.8 451.6h0M127.1 451.2h0M129.5 450.9h0M131.8 450.5h0M134.2 450.2h0M136.5 449.8h0M138.8 449.5h0M141.1 449.2h0M143.4 448.8h0M145.7 448.5h0M147.9 448.2h0M150.2 447.8h0M152.4 447.5h0M154.6 447.2h0M156.9 446.9h0M159.1 446.5h0M161.3 446.2h0M163.4 445.9h0M165.6 445.6h0M167.8 445.3h0M169.9 444.9h0M172.1 444.6h0M174.2 444.3h0M176.3 444h0M178.4 443.7h0M180.5 443.4h0M182.6 443.1h0M195 441.3h0M197 441h0M199 440.7h0M201 440.4h0M203 440.1h0M205 439.8h0M206.9 439.5h0M208.9 439.3h0M210.9 439h0M212.8 438.7h0M214.7 438.4h0M216.7 438.1h0M118.4 451.3h0M120.8 450.9h0M123.2 450.6h0M125.5 450.3h0M127.9 449.9h0M130.2 449.6h0M132.5 449.2h0M134.8 448.9h0M137.1 448.6h0M139.4 448.2h0M141.7 447.9h0M144 447.6h0M146.2 447.3h0M148.5 446.9h0M150.7 446.6h0M152.9 446.3h0M155.1 446h0M157.3 445.6h0M159.5 445.3h0M161.7 445h0M163.8 444.7h0M166 444.4h0M168.1 444.1h0M170.3 443.8h0M172.4 443.5h0M174.5 443.2h0M176.6 442.9h0M178.7 442.6h0M180.8 442.3h0M193.1 440.5h0M195.1 440.2h0M197.1 439.9h0M199.1 439.6h0M201.1 439.3h0M203 439h0M205 438.7h0M206.9 438.5h0M208.9 438.2h0M210.8 437.9h0M212.8 437.6h0M214.7 437.3h0M116.9 450.3h0M119.2 450h0M121.6 449.7h0M123.9 449.3h0M126.3 449h0M128.6 448.6h0M130.9 448.3h0M133.2 448h0M135.5 447.7h0M137.8 447.3h0M140 447h0M142.3 446.7h0M144.5 446.4h0M146.8 446h0M149 445.7h0M151.2 445.4h0M153.4 445.1h0M155.6 444.8h0M157.8 444.5h0M159.9 444.2h0M162.1 443.8h0M164.2 443.5h0M166.4 443.2h0M168.5 442.9h0M170.6 442.6h0M172.7 442.3h0M174.8 442h0M176.9 441.7h0M178.9 441.4h0M191.2 439.7h0M193.2 439.4h0M195.2 439.1h0M197.2 438.8h0M199.1 438.5h0M201.1 438.2h0M203.1 438h0M205 437.7h0M207 437.4h0M208.9 437.1h0M210.8 436.8h0M212.7 436.6h0M115.3 449.4h0M117.7 449.1h0M120 448.7h0M122.4 448.4h0M124.7 448.1h0M127 447.7h0M129.3 447.4h0M131.6 447.1h0M133.9 446.8h0M136.1 446.4h0M138.4 446.1h0M140.6 445.8h0M142.9 445.5h0M145.1 445.2h0M147.3 444.8h0M149.5 444.5h0M151.7 444.2h0M153.9 443.9h0M156 443.6h0M158.2 443.3h0M160.3 443h0M162.5 442.7h0M164.6 442.4h0M166.7 442.1h0M168.8 441.8h0M170.9 441.5h0M173 441.2h0M175.1 440.9h0M177.1 440.6h0M189.3 438.9h0M191.3 438.6h0M193.3 438.3h0M195.3 438h0M197.3 437.7h0M199.2 437.5h0M201.2 437.2h0M203.1 436.9h0M205 436.6h0M207 436.4h0M208.9 436.1h0M210.8 435.8h0M113.8 448.5h0M116.2 448.1h0M118.5 447.8h0M120.8 447.5h0M123.1 447.2h0M125.4 446.8h0M127.7 446.5h0M130 446.2h0M132.3 445.9h0M134.5 445.5h0M136.8 445.2h0M139 444.9h0M141.2 444.6h0M143.4 444.3h0M145.6 444h0M147.8 443.7h0M150 443.4h0M152.2 443.1h0M154.3 442.8h0M156.5 442.4h0M158.6 442.1h0M160.8 441.8h0M162.9 441.5h0M165 441.3h0M167.1 441h0M169.2 440.7h0M171.2 440.4h0M173.3 440.1h0M175.4 439.8h0M187.5 438.1h0M189.5 437.8h0M191.5 437.5h0M193.4 437.2h0M195.4 437h0M197.4 436.7h0M199.3 436.4h0M201.2 436.1h0M203.2 435.9h0M205.1 435.6h0M207 435.3h0M208.9 435.1h0M112.3 447.6h0M114.7 447.2h0M117 446.9h0M119.3 446.6h0M121.6 446.3h0M123.9 445.9h0M126.2 445.6h0M128.4 445.3h0M130.7 445h0M132.9 444.7h0M135.2 444.4h0M137.4 444h0M139.6 443.7h0M141.8 443.4h0M144 443.1h0M146.2 442.8h0M148.4 442.5h0M150.5 442.2h0M152.7 441.9h0M154.8 441.6h0M156.9 441.3h0M159 441h0M161.2 440.7h0M163.3 440.4h0M165.3 440.1h0M167.4 439.8h0M169.5 439.6h0M171.5 439.3h0M173.6 439h0M185.7 437.3h0M187.7 437h0M189.6 436.7h0M191.6 436.5h0M193.6 436.2h0M195.5 435.9h0M197.4 435.6h0M199.4 435.4h0M201.3 435.1h0M203.2 434.8h0M205.1 434.6h0M207 434.3h0M110.8 446.7h0M113.2 446.3h0M115.5 446h0M117.8 445.7h0M120.1 445.4h0M122.4 445.1h0M124.6 444.7h0M126.9 444.4h0M129.1 444.1h0M131.4 443.8h0M133.6 443.5h0M135.8 443.2h0M138 442.9h0M140.2 442.6h0M142.4 442.3h0M144.6 442h0M146.7 441.7h0M148.9 441.4h0M151 441.1h0M153.1 440.8h0M155.3 440.5h0M157.4 440.2h0M159.5 439.9h0M161.6 439.6h0M163.6 439.3h0M165.7 439h0M167.8 438.8h0M169.8 438.5h0M171.9 438.2h0M183.9 436.5h0M185.9 436.2h0M187.8 436h0M189.8 435.7h0M191.7 435.4h0M193.7 435.2h0M195.6 434.9h0M197.5 434.6h0M199.4 434.4h0M201.3 434.1h0M203.2 433.8h0M205.1 433.6h0M109.4 445.8h0M111.7 445.4h0M114 445.1h0M116.3 444.8h0M118.6 444.5h0M120.9 444.2h0M123.1 443.9h0M125.4 443.6h0M127.6 443.3h0M129.8 443h0M132 442.6h0M134.2 442.3h0M136.4 442h0M138.6 441.7h0M140.8 441.4h0M143 441.1h0M145.1 440.9h0M147.2 440.6h0M149.4 440.3h0M151.5 440h0M153.6 439.7h0M155.7 439.4h0M157.8 439.1h0M159.9 438.8h0M161.9 438.5h0M164 438.3h0M166.1 438h0M168.1 437.7h0M170.1 437.4h0M182.1 435.8h0M184.1 435.5h0M186.1 435.2h0M188 435h0M189.9 434.7h0M191.9 434.4h0M193.8 434.2h0M195.7 433.9h0M197.6 433.6h0M199.5 433.4h0M201.4 433.1h0M203.3 432.8h0M108 444.9h0M110.3 444.6h0M112.6 444.3h0M114.8 443.9h0M117.1 443.6h0M119.4 443.3h0M121.6 443h0M123.9 442.7h0M126.1 442.4h0M128.3 442.1h0M130.5 441.8h0M132.7 441.5h0M134.9 441.2h0M137 440.9h0M139.2 440.6h0M141.4 440.3h0M143.5 440h0M145.6 439.7h0M147.8 439.5h0M149.9 439.2h0M152 438.9h0M154.1 438.6h0M156.1 438.3h0M158.2 438h0M160.3 437.7h0M162.3 437.5h0M164.4 437.2h0M166.4 436.9h0M168.4 436.6h0M178.4 435.3h0M180.4 435h0M182.3 434.7h0M184.3 434.5h0M186.2 434.2h0M188.2 433.9h0M190.1 433.7h0M192 433.4h0M193.9 433.2h0M195.8 432.9h0M197.7 432.6h0M199.6 432.4h0M201.5 432.1h0M106.5 444h0M108.8 443.7h0M111.1 443.4h0M113.4 443.1h0M115.6 442.8h0M117.9 442.5h0M120.1 442.2h0M122.4 441.9h0M124.6 441.6h0M126.8 441.3h0M129 441h0M131.2 440.7h0M133.3 440.4h0M135.5 440.1h0M137.7 439.8h0M139.8 439.5h0M141.9 439.2h0M144 438.9h0M146.2 438.7h0M148.3 438.4h0M150.4 438.1h0M152.4 437.8h0M154.5 437.5h0M156.6 437.2h0M158.6 437h0M160.7 436.7h0M162.7 436.4h0M164.7 436.1h0M166.7 435.9h0M176.7 434.5h0M178.7 434.3h0M180.6 434h0M182.5 433.7h0M184.5 433.5h0M186.4 433.2h0M188.3 433h0M190.2 432.7h0M192.1 432.4h0M194 432.2h0M195.9 431.9h0M197.8 431.7h0M199.7 431.4h0M105.1 443.2h0M107.4 442.8h0M109.7 442.5h0M112 442.2h0M114.2 441.9h0M116.4 441.6h0M118.7 441.3h0M120.9 441h0M123.1 440.7h0M125.3 440.5h0M127.5 440.2h0M129.6 439.9h0M131.8 439.6h0M134 439.3h0M136.1 439h0M138.2 438.7h0M140.4 438.4h0M142.5 438.1h0M144.6 437.9h0M146.7 437.6h0M148.8 437.3h0M150.8 437h0M152.9 436.7h0M155 436.5h0M157 436.2h0M159 435.9h0M161.1 435.7h0M163.1 435.4h0M165.1 435.1h0M175 433.8h0M176.9 433.5h0M178.9 433.3h0M180.8 433h0M182.8 432.7h0M184.7 432.5h0M186.6 432.2h0M188.5 432h0M190.4 431.7h0M192.3 431.5h0M194.1 431.2h0M196 431h0M197.9 430.7h0M103.8 442.3h0M106 442h0M108.3 441.7h0M110.5 441.4h0M112.8 441.1h0M115 440.8h0M117.2 440.5h0M119.4 440.2h0M121.6 439.9h0M123.8 439.6h0M126 439.3h0M128.2 439.1h0M130.3 438.8h0M132.5 438.5h0M134.6 438.2h0M136.7 437.9h0M138.8 437.6h0M140.9 437.4h0M143 437.1h0M145.1 436.8h0M147.2 436.5h0M149.2 436.3h0M151.3 436h0M153.4 435.7h0M155.4 435.4h0M157.4 435.2h0M159.4 434.9h0M161.4 434.6h0M163.4 434.4h0M173.3 433.1h0M175.3 432.8h0M177.2 432.5h0M179.1 432.3h0M181 432h0M183 431.8h0M184.9 431.5h0M186.8 431.3h0M188.6 431h0M190.5 430.8h0M192.4 430.5h0M194.2 430.3h0M196.1 430h0M102.4 441.5h0M104.7 441.2h0M106.9 440.9h0M109.1 440.6h0M111.4 440.3h0M113.6 440h0M115.8 439.7h0M118 439.4h0M120.2 439.1h0M122.4 438.8h0M124.5 438.5h0M126.7 438.3h0M128.8 438h0M131 437.7h0M133.1 437.4h0M135.2 437.1h0M137.3 436.9h0M139.4 436.6h0M141.5 436.3h0M143.6 436h0M145.6 435.8h0M147.7 435.5h0M149.7 435.2h0M151.8 435h0M153.8 434.7h0M155.8 434.4h0M157.8 434.2h0M159.8 433.9h0M161.8 433.6h0M171.6 432.3h0M173.6 432.1h0M175.5 431.8h0M177.4 431.6h0M179.4 431.3h0M181.3 431.1h0M183.2 430.8h0M185 430.6h0M186.9 430.3h0M188.8 430.1h0M190.7 429.8h0M192.5 429.6h0M194.4 429.3h0" stroke="#f02828" stroke-width="1.24" stroke-linecap="round"/><path d="M170.1 419L174.9 433.7 171.8 432.3z" fill="url(#e65)" stroke="url(#e65)" stroke-width=".3"/><path d="M170.1 419L171.8 432.3 166.9 419.1z" fill="url(#e66)" stroke="url(#e66)" stroke-width=".3"/><circle cx="166.9" cy="419.1" r="0.62" fill="#f02828"/><path d="M165.6 434.9L166.9 419.1 162.5 433.5z" fill="url(#e67)" stroke="url(#e67)" stroke-width=".3"/><path d="M165.6 434.9L170.1 419 166.9 419.1z" fill="url(#e68)" stroke="url(#e68)" stroke-width=".3"/><path d="M173.2 420.5L178.1 435.1 174.9 433.7z" fill="url(#e69)" stroke="url(#e69)" stroke-width=".3"/><path d="M173.2 420.5L174.9 433.7 170.1 419z" fill="url(#e70)" stroke="url(#e70)" stroke-width=".3"/><circle cx="170.1" cy="419" r="0.62" fill="#f02828"/><path d="M168.7 436.3L170.1 419 165.6 434.9z" fill="url(#e71)" stroke="url(#e71)" stroke-width=".3"/><path d="M168.7 436.3L173.2 420.5 170.1 419z" fill="url(#e72)" stroke="url(#e72)" stroke-width=".3"/><circle cx="173.2" cy="420.5" r="0.62" fill="#f02828"/><path d="M176.5 411.3L181.4 436.5 178.1 435.1z" fill="url(#e73)" stroke="url(#e73)" stroke-width=".3"/><path d="M176.5 411.3L178.1 435.1 173.2 420.5z" fill="url(#e74)" stroke="url(#e74)" stroke-width=".3"/><path d="M171.9 437.8L173.2 420.5 168.7 436.3z" fill="url(#e75)" stroke="url(#e75)" stroke-width=".3"/><path d="M171.9 437.8L176.5 411.3 173.2 420.5z" fill="url(#e76)" stroke="url(#e76)" stroke-width=".3"/><path d="M179.9 406.7L184.7 437.9 181.4 436.5z" fill="url(#e77)" stroke="url(#e77)" stroke-width=".3"/><path d="M179.9 406.7L181.4 436.5 176.5 411.3z" fill="url(#e78)" stroke="url(#e78)" stroke-width=".3"/><path d="M175.2 439.3L176.5 411.3 171.9 437.8z" fill="url(#e79)" stroke="url(#e79)" stroke-width=".3"/><circle cx="176.5" cy="411.3" r="0.62" fill="#f02828"/><path d="M175.2 439.3L179.9 406.7 176.5 411.3z" fill="url(#e80)" stroke="url(#e80)" stroke-width=".3"/><path d="M183.4 389L188.2 439.4 184.7 437.9z" fill="url(#e81)" stroke="url(#e81)" stroke-width=".3"/><path d="M178.5 440.8L179.9 406.7 175.2 439.3z" fill="url(#e82)" stroke="url(#e82)" stroke-width=".3"/><path d="M183.4 389L184.7 437.9 179.9 406.7z" fill="url(#e83)" stroke="url(#e83)" stroke-width=".3"/><circle cx="179.9" cy="406.7" r="0.62" fill="#f02828"/><path d="M186.8 418L191.7 440.9 188.2 439.4z" fill="url(#e84)" stroke="url(#e84)" stroke-width=".3"/><path d="M178.5 440.8L183.4 389 179.9 406.7z" fill="url(#e85)" stroke="url(#e85)" stroke-width=".3"/><path d="M186.8 418L188.2 439.4 183.4 389z" fill="url(#e86)" stroke="url(#e86)" stroke-width=".3"/><path d="M182 442.4L183.4 389 178.5 440.8z" fill="url(#e87)" stroke="url(#e87)" stroke-width=".3"/><path d="M182 442.4L186.8 418 183.4 389z" fill="url(#e88)" stroke="url(#e88)" stroke-width=".3"/><circle cx="186.8" cy="418" r="0.62" fill="#f02828"/><path d="M185.5 443.9L186.8 418 182 442.4z" fill="url(#e89)" stroke="url(#e89)" stroke-width=".3"/><circle cx="183.4" cy="389" r="0.62" fill="#f02828"/><path d="M190.7 386.5L195.2 442.5 191.7 440.9z" fill="url(#e90)" stroke="url(#e90)" stroke-width=".3"/><path d="M190.7 386.5L191.7 440.9 186.8 418z" fill="url(#e91)" stroke="url(#e91)" stroke-width=".3"/><path d="M194 422.2L198.9 444.1 195.2 442.5z" fill="url(#e92)" stroke="url(#e92)" stroke-width=".3"/><path d="M185.5 443.9L190.7 386.5 186.8 418z" fill="url(#e93)" stroke="url(#e93)" stroke-width=".3"/><path d="M194 422.2L195.2 442.5 190.7 386.5z" fill="url(#e94)" stroke="url(#e94)" stroke-width=".3"/><path d="M189.1 445.6L190.7 386.5 185.5 443.9z" fill="url(#e95)" stroke="url(#e95)" stroke-width=".3"/><path d="M197.8 423.6L202.7 445.7 198.9 444.1z" fill="url(#e96)" stroke="url(#e96)" stroke-width=".3"/><path d="M197.8 423.6L198.9 444.1 194 422.2z" fill="url(#e97)" stroke="url(#e97)" stroke-width=".3"/><path d="M189.1 445.6L194 422.2 190.7 386.5z" fill="url(#e98)" stroke="url(#e98)" stroke-width=".3"/><circle cx="194" cy="422.2" r="0.62" fill="#f02828"/><path d="M192.7 447.2L194 422.2 189.1 445.6z" fill="url(#e99)" stroke="url(#e99)" stroke-width=".3"/><circle cx="190.7" cy="386.5" r="0.62" fill="#f02828"/><path d="M192.7 447.2L197.8 423.6 194 422.2z" fill="url(#e100)" stroke="url(#e100)" stroke-width=".3"/><path d="M201.6 423.1L206.5 447.4 202.7 445.7z" fill="url(#e101)" stroke="url(#e101)" stroke-width=".3"/><path d="M201.6 423.1L202.7 445.7 197.8 423.6z" fill="url(#e102)" stroke="url(#e102)" stroke-width=".3"/><circle cx="197.8" cy="423.6" r="0.62" fill="#f02828"/><path d="M196.5 448.9L197.8 423.6 192.7 447.2z" fill="url(#e103)" stroke="url(#e103)" stroke-width=".3"/><path d="M196.5 448.9L201.6 423.1 197.8 423.6z" fill="url(#e104)" stroke="url(#e104)" stroke-width=".3"/><path d="M205.6 425.1L210.4 449.1 206.5 447.4z" fill="url(#e105)" stroke="url(#e105)" stroke-width=".3"/><path d="M205.6 425.1L206.5 447.4 201.6 423.1z" fill="url(#e106)" stroke="url(#e106)" stroke-width=".3"/><circle cx="201.6" cy="423.1" r="0.62" fill="#f02828"/><path d="M200.4 450.7L201.6 423.1 196.5 448.9z" fill="url(#e107)" stroke="url(#e107)" stroke-width=".3"/><path d="M200.4 450.7L205.6 425.1 201.6 423.1z" fill="url(#e108)" stroke="url(#e108)" stroke-width=".3"/><path d="M209.6 426.4L214.5 450.9 210.4 449.1z" fill="url(#e109)" stroke="url(#e109)" stroke-width=".3"/><path d="M209.6 426.4L210.4 449.1 205.6 425.1z" fill="url(#e110)" stroke="url(#e110)" stroke-width=".3"/><circle cx="205.6" cy="425.1" r="0.62" fill="#f02828"/><path d="M204.3 452.5L205.6 425.1 200.4 450.7z" fill="url(#e111)" stroke="url(#e111)" stroke-width=".3"/><path d="M204.3 452.5L209.6 426.4 205.6 425.1z" fill="url(#e112)" stroke="url(#e112)" stroke-width=".3"/><path d="M213.8 427.2L218.6 452.6 214.5 450.9z" fill="url(#e113)" stroke="url(#e113)" stroke-width=".3"/><path d="M213.8 427.2L214.5 450.9 209.6 426.4z" fill="url(#e114)" stroke="url(#e114)" stroke-width=".3"/><circle cx="209.6" cy="426.4" r="0.62" fill="#f02828"/><path d="M208.4 454.3L209.6 426.4 204.3 452.5z" fill="url(#e115)" stroke="url(#e115)" stroke-width=".3"/><path d="M208.4 454.3L213.8 427.2 209.6 426.4z" fill="url(#e116)" stroke="url(#e116)" stroke-width=".3"/><path d="M218.1 426.6L222.8 454.5 218.6 452.6z" fill="url(#e117)" stroke="url(#e117)" stroke-width=".3"/><path d="M218.1 426.6L218.6 452.6 213.8 427.2z" fill="url(#e118)" stroke="url(#e118)" stroke-width=".3"/><circle cx="213.8" cy="427.2" r="0.62" fill="#f02828"/><path d="M212.5 456.2L213.8 427.2 208.4 454.3z" fill="url(#e119)" stroke="url(#e119)" stroke-width=".3"/><path d="M212.5 456.2L218.1 426.6 213.8 427.2z" fill="url(#e120)" stroke="url(#e120)" stroke-width=".3"/><path d="M222.4 429.8L227.2 456.4 222.8 454.5z" fill="url(#e121)" stroke="url(#e121)" stroke-width=".3"/><path d="M222.4 429.8L222.8 454.5 218.1 426.6z" fill="url(#e122)" stroke="url(#e122)" stroke-width=".3"/><path d="M216.8 458.1L218.1 426.6 212.5 456.2z" fill="url(#e123)" stroke="url(#e123)" stroke-width=".3"/><circle cx="218.1" cy="426.6" r="0.62" fill="#f02828"/><path d="M216.8 458.1L222.4 429.8 218.1 426.6z" fill="url(#e124)" stroke="url(#e124)" stroke-width=".3"/><path d="M226.9 430L231.6 458.3 227.2 456.4z" fill="url(#e125)" stroke="url(#e125)" stroke-width=".3"/><path d="M226.9 430L227.2 456.4 222.4 429.8z" fill="url(#e126)" stroke="url(#e126)" stroke-width=".3"/><path d="M221.2 460.1L222.4 429.8 216.8 458.1z" fill="url(#e127)" stroke="url(#e127)" stroke-width=".3"/><circle cx="222.4" cy="429.8" r="0.62" fill="#f02828"/><path d="M221.2 460.1L226.9 430 222.4 429.8z" fill="url(#e128)" stroke="url(#e128)" stroke-width=".3"/><circle cx="226.9" cy="430" r="0.62" fill="#f02828"/><linearGradient id="cbe" x1="0" y1="1" x2="0" y2="0"><stop offset="0.0" stop-color="#7a00a8"/><stop offset="0.06" stop-color="#7000d0"/><stop offset="0.12" stop-color="#4000f0"/><stop offset="0.16" stop-color="#0020ff"/><stop offset="0.21" stop-color="#0090ff"/><stop offset="0.26" stop-color="#00e0e8"/><stop offset="0.31" stop-color="#00d850"/><stop offset="0.36" stop-color="#30e000"/><stop offset="0.43" stop-color="#c0f000"/><stop offset="0.5" stop-color="#fff000"/><stop offset="0.57" stop-color="#ff9000"/><stop offset="0.64" stop-color="#ff3000"/><stop offset="0.7" stop-color="#ff0000"/><stop offset="0.82" stop-color="#e00000"/><stop offset="0.91" stop-color="#a00000"/><stop offset="1.0" stop-color="#700010"/></linearGradient><rect x="265.5" y="383.6" width="8.1" height="100.4" fill="url(#cbe)"/><text transform="translate(278.2 486.2) scale(1.0 1)" font-size="6.7" >−0.400</text><text transform="translate(278.2 476.2) scale(1.0 1)" font-size="6.7" >2.220</text><text transform="translate(278.2 466.1) scale(1.0 1)" font-size="6.7" >4.840</text><text transform="translate(278.2 456.1) scale(1.0 1)" font-size="6.7" >7.460</text><text transform="translate(278.2 446) scale(1.0 1)" font-size="6.7" >10.08</text><text transform="translate(278.2 436) scale(1.0 1)" font-size="6.7" >12.70</text><text transform="translate(278.2 426) scale(1.0 1)" font-size="6.7" >15.32</text><text transform="translate(278.2 415.9) scale(1.0 1)" font-size="6.7" >17.94</text><text transform="translate(278.2 405.9) scale(1.0 1)" font-size="6.7" >20.56</text><text transform="translate(278.2 395.8) scale(1.0 1)" font-size="6.7" >23.18</text><text transform="translate(278.2 385.8) scale(1.0 1)" font-size="6.7" >25.80</text><path d="M273.6 484h1.6M273.6 474h1.6M273.6 463.9h1.6M273.6 453.9h1.6M273.6 443.8h1.6M273.6 433.8h1.6M273.6 423.8h1.6M273.6 413.7h1.6M273.6 403.7h1.6M273.6 393.6h1.6M273.6 383.6h1.6" stroke="#333" stroke-width=".6"/><text transform="translate(76.8 381.5) scale(1.0 1)" font-size="9.6" >e)</text><text transform="translate(92.5 381.5) scale(1.0 1)" font-size="7.4">×10<tspan font-size="4.6" dy="-3.1">4</tspan></text><text transform="translate(273 378) scale(1.0 1)" font-size="6.2">×10<tspan font-size="3.8" dy="-2.6">4</tspan></text><text transform="translate(85.5 440.3) scale(0.87 1) rotate(-90)" font-size="8.0" text-anchor="middle" >Absolute Kerr signal (mDeg)</text><text transform="translate(96.9 491.2) scale(1 .72)" font-size="6.2" text-anchor="middle">33</text><text transform="translate(99.4 493.2) scale(1 .72)" font-size="6.2" text-anchor="middle">31</text><text transform="translate(102 495.4) scale(1 .72)" font-size="6.2" text-anchor="middle">29</text><text transform="translate(104.6 497.5) scale(1 .72)" font-size="6.2" text-anchor="middle">27</text><text transform="translate(107.4 499.7) scale(1 .72)" font-size="6.2" text-anchor="middle">25</text><text transform="translate(110.1 502) scale(1 .72)" font-size="6.2" text-anchor="middle">23</text><text transform="translate(113 504.4) scale(1 .72)" font-size="6.2" text-anchor="middle">21</text><text transform="translate(115.9 506.7) scale(1 .72)" font-size="6.2" text-anchor="middle">19</text><text transform="translate(118.9 509.2) scale(1 .72)" font-size="6.2" text-anchor="middle">17</text><text transform="translate(122 511.7) scale(1 .72)" font-size="6.2" text-anchor="middle">15</text><text transform="translate(125.1 514.3) scale(1 .72)" font-size="6.2" text-anchor="middle">13</text><text transform="translate(128.3 516.9) scale(1 .72)" font-size="6.2" text-anchor="middle">11</text><text transform="translate(131.7 519.6) scale(1 .72)" font-size="6.2" text-anchor="middle">9</text><text transform="translate(135.1 522.4) scale(1 .72)" font-size="6.2" text-anchor="middle">7</text><text transform="translate(138.6 525.3) scale(1 .72)" font-size="6.2" text-anchor="middle">5</text><text transform="translate(142.1 528.2) scale(1 .72)" font-size="6.2" text-anchor="middle">3</text><text transform="translate(145.8 531.2) scale(1 .72)" font-size="6.2" text-anchor="middle">1</text><text transform="translate(101 512) rotate(-38) scale(1 .8)" font-size="8.5" text-anchor="middle"><tspan font-style="italic">θ</tspan><tspan font-weight="normal">(°)</tspan></text><text transform="translate(156.8 535.3) rotate(-28) scale(1 .7)" font-size="7.0" text-anchor="middle" style="fill:#333">400</text><text transform="translate(200.7 524.9) rotate(-28) scale(1 .7)" font-size="7.0" text-anchor="middle" style="fill:#333">700</text><text transform="translate(226.2 518.9) rotate(-28) scale(1 .7)" font-size="7.0" text-anchor="middle" style="fill:#333">815</text><text transform="translate(238.5 516) rotate(-28) scale(1 .7)" font-size="7.0" text-anchor="middle" style="fill:#333">900</text><text transform="translate(258.8 511.1) rotate(-28) scale(1 .7)" font-size="7.0" text-anchor="middle" style="fill:#333">1000</text><text transform="translate(222 533) rotate(-14) scale(1.12 .62)" font-size="9" text-anchor="middle" style="fill:#3a3a3a;stroke:#3a3a3a;stroke-width:.15px">Wavelength (nm)</text>
<rect x="353.7" y="17.2" width="160.3" height="133.8" fill="none" stroke="#222" stroke-width="0.9"/><text transform="translate(353.8 161) scale(1.0 1)" font-size="8" text-anchor="middle" >0</text><text transform="translate(371.2 161) scale(1.0 1)" font-size="8" text-anchor="middle" >5</text><text transform="translate(388.6 161) scale(1.0 1)" font-size="8" text-anchor="middle" >10</text><text transform="translate(406 161) scale(1.0 1)" font-size="8" text-anchor="middle" >15</text><text transform="translate(423.4 161) scale(1.0 1)" font-size="8" text-anchor="middle" >20</text><text transform="translate(440.8 161) scale(1.0 1)" font-size="8" text-anchor="middle" >25</text><text transform="translate(458.2 161) scale(1.0 1)" font-size="8" text-anchor="middle" >30</text><text transform="translate(475.7 161) scale(1.0 1)" font-size="8" text-anchor="middle" >35</text><text transform="translate(493.1 161) scale(1.0 1)" font-size="8" text-anchor="middle" >40</text><text transform="translate(510.5 161) scale(1.0 1)" font-size="8" text-anchor="middle" >45</text><text transform="translate(351.1 153.6) scale(1.0 1)" font-size="8" text-anchor="end" >0.00</text><text transform="translate(351.1 130.2) scale(1.0 1)" font-size="8" text-anchor="end" >0.05</text><text transform="translate(351.1 106.9) scale(1.0 1)" font-size="8" text-anchor="end" >0.10</text><text transform="translate(351.1 83.6) scale(1.0 1)" font-size="8" text-anchor="end" >0.15</text><text transform="translate(351.1 60.2) scale(1.0 1)" font-size="8" text-anchor="end" >0.20</text><text transform="translate(351.1 36.9) scale(1.0 1)" font-size="8" text-anchor="end" >0.25</text><path d="M353.8 151v-2.6M371.2 151v-2.6M388.6 151v-2.6M406 151v-2.6M423.4 151v-2.6M440.8 151v-2.6M458.2 151v-2.6M475.7 151v-2.6M493.1 151v-2.6M510.5 151v-2.6M362.5 151v-1.5M379.9 151v-1.5M397.3 151v-1.5M414.7 151v-1.5M432.1 151v-1.5M449.5 151v-1.5M466.9 151v-1.5M484.4 151v-1.5M501.8 151v-1.5M353.7 150.9h2.6M353.7 127.6h2.6M353.7 104.2h2.6M353.7 80.9h2.6M353.7 57.5h2.6M353.7 34.2h2.6M353.7 139.2h1.5M353.7 115.9h1.5M353.7 92.5h1.5M353.7 69.2h1.5M353.7 45.8h1.5M353.7 22.5h1.5" stroke="#222" stroke-width="0.8" fill="none"/><path d="M357.2 76.2 L364.2 76.6 L371.2 76.2 L378.1 77.1 L385.1 77.6 L392.1 76.6 L399 77.6 L406 78 L413 76.6 L419.9 77.1 L426.9 76.6 L433.9 77.1 L440.8 77.1 L447.8 75.7 L454.8 76.6 L461.7 77.1 L468.7 76.6 L475.7 77.1 L482.6 76.2 L489.6 76.2 L496.6 76.6 L503.5 77.6 L510.5 76.6" fill="none" stroke="#ff1010" stroke-width="1.3" stroke-linejoin="round"/><path d="M357.2 73.9l2.2 3.6h-4.3zM364.2 74.4l2.2 3.6h-4.3zM371.2 73.9l2.2 3.6h-4.3zM378.1 74.9l2.2 3.6h-4.3zM385.1 75.3l2.2 3.6h-4.3zM392.1 74.4l2.2 3.6h-4.3zM399 75.3l2.2 3.6h-4.3zM406 75.8l2.2 3.6h-4.3zM413 74.4l2.2 3.6h-4.3zM419.9 74.9l2.2 3.6h-4.3zM426.9 74.4l2.2 3.6h-4.3zM433.9 74.9l2.2 3.6h-4.3zM440.8 74.9l2.2 3.6h-4.3zM447.8 73.5l2.2 3.6h-4.3zM454.8 74.4l2.2 3.6h-4.3zM461.7 74.9l2.2 3.6h-4.3zM468.7 74.4l2.2 3.6h-4.3zM475.7 74.9l2.2 3.6h-4.3zM482.6 73.9l2.2 3.6h-4.3zM489.6 73.9l2.2 3.6h-4.3zM496.6 74.4l2.2 3.6h-4.3zM503.5 75.3l2.2 3.6h-4.3zM510.5 74.4l2.2 3.6h-4.3z" fill="#ff1010"/><path d="M357.2 76.2 L364.2 86.5 L371.2 71.5 L378.1 105.1 L385.1 105.1 L392.1 71 L399 107.9 L406 116.8 L413 65.4 L419.9 100.5 L426.9 112.1 L433.9 89.7 L440.8 103.3 L447.8 30.4 L454.8 96.3 L461.7 79.4 L468.7 97.2 L475.7 105.1 L482.6 76.2 L489.6 74.8 L496.6 74.3 L503.5 108.9 L510.5 80.9" fill="none" stroke="#1a1aff" stroke-width="1.3" stroke-linejoin="round"/><path d="M355.5 76.2a1.8 1.8 0 1 0 3.5 0a1.8 1.8 0 1 0 -3.5 0zM362.4 86.5a1.8 1.8 0 1 0 3.5 0a1.8 1.8 0 1 0 -3.5 0zM369.4 71.5a1.8 1.8 0 1 0 3.5 0a1.8 1.8 0 1 0 -3.5 0zM376.4 105.1a1.8 1.8 0 1 0 3.5 0a1.8 1.8 0 1 0 -3.5 0zM383.3 105.1a1.8 1.8 0 1 0 3.5 0a1.8 1.8 0 1 0 -3.5 0zM390.3 71a1.8 1.8 0 1 0 3.5 0a1.8 1.8 0 1 0 -3.5 0zM397.3 107.9a1.8 1.8 0 1 0 3.5 0a1.8 1.8 0 1 0 -3.5 0zM404.2 116.8a1.8 1.8 0 1 0 3.5 0a1.8 1.8 0 1 0 -3.5 0zM411.2 65.4a1.8 1.8 0 1 0 3.5 0a1.8 1.8 0 1 0 -3.5 0zM418.2 100.5a1.8 1.8 0 1 0 3.5 0a1.8 1.8 0 1 0 -3.5 0zM425.1 112.1a1.8 1.8 0 1 0 3.5 0a1.8 1.8 0 1 0 -3.5 0zM432.1 89.7a1.8 1.8 0 1 0 3.5 0a1.8 1.8 0 1 0 -3.5 0zM439.1 103.3a1.8 1.8 0 1 0 3.5 0a1.8 1.8 0 1 0 -3.5 0zM446 30.4a1.8 1.8 0 1 0 3.5 0a1.8 1.8 0 1 0 -3.5 0zM453 96.3a1.8 1.8 0 1 0 3.5 0a1.8 1.8 0 1 0 -3.5 0zM460 79.4a1.8 1.8 0 1 0 3.5 0a1.8 1.8 0 1 0 -3.5 0zM466.9 97.2a1.8 1.8 0 1 0 3.5 0a1.8 1.8 0 1 0 -3.5 0zM473.9 105.1a1.8 1.8 0 1 0 3.5 0a1.8 1.8 0 1 0 -3.5 0zM480.9 76.2a1.8 1.8 0 1 0 3.5 0a1.8 1.8 0 1 0 -3.5 0zM487.8 74.8a1.8 1.8 0 1 0 3.5 0a1.8 1.8 0 1 0 -3.5 0zM494.8 74.3a1.8 1.8 0 1 0 3.5 0a1.8 1.8 0 1 0 -3.5 0zM501.8 108.9a1.8 1.8 0 1 0 3.5 0a1.8 1.8 0 1 0 -3.5 0zM508.7 80.9a1.8 1.8 0 1 0 3.5 0a1.8 1.8 0 1 0 -3.5 0z" fill="#1a1aff"/><path d="M357.2 136.9 L364.2 138.3 L371.2 133.6 L378.1 136.9 L385.1 146.2 L392.1 134.1 L399 146.2 L406 140.6 L413 134.1 L419.9 131.8 L426.9 147.2 L433.9 143.9 L440.8 143 L447.8 129 L454.8 137.4 L461.7 128 L468.7 131.8 L475.7 139.2 L482.6 126.6 L489.6 133.2 L496.6 138.8 L503.5 136.9 L510.5 136" fill="none" stroke="#000" stroke-width="1.3" stroke-linejoin="round"/><path d="M355.7 135.3h3.1v3.1h-3.1zM362.6 136.7h3.1v3.1h-3.1zM369.6 132.1h3.1v3.1h-3.1zM376.6 135.3h3.1v3.1h-3.1zM383.5 144.7h3.1v3.1h-3.1zM390.5 132.5h3.1v3.1h-3.1zM397.5 144.7h3.1v3.1h-3.1zM404.4 139.1h3.1v3.1h-3.1zM411.4 132.5h3.1v3.1h-3.1zM418.4 130.2h3.1v3.1h-3.1zM425.3 145.6h3.1v3.1h-3.1zM432.3 142.3h3.1v3.1h-3.1zM439.3 141.4h3.1v3.1h-3.1zM446.2 127.4h3.1v3.1h-3.1zM453.2 135.8h3.1v3.1h-3.1zM460.2 126.5h3.1v3.1h-3.1zM467.1 130.2h3.1v3.1h-3.1zM474.1 137.7h3.1v3.1h-3.1zM481.1 125.1h3.1v3.1h-3.1zM488 131.6h3.1v3.1h-3.1zM495 137.2h3.1v3.1h-3.1zM502 135.3h3.1v3.1h-3.1zM508.9 134.4h3.1v3.1h-3.1z" fill="#000"/><path d="M358.6 26.6h18.5" stroke="#000" stroke-width="1.3"/><path d="M366.5 25.2h2.8v2.8h-2.8z" fill="#000"/><text transform="translate(379.2 29.3) scale(1.0 1)" font-size="7.9" >565nm</text><path d="M358.6 36.9h18.5" stroke="#1a1aff" stroke-width="1.3"/><path d="M366.2 36.9a1.6 1.6 0 1 0 3.2 0a1.6 1.6 0 1 0 -3.2 0z" fill="#1a1aff"/><text transform="translate(379.2 39.6) scale(1.0 1)" font-size="7.9" >665nm</text><path d="M358.6 47.2h18.5" stroke="#ff1010" stroke-width="1.3"/><path d="M367.9 45.1l2 3.3h-4z" fill="#ff1010"/><text transform="translate(379.2 49.9) scale(1.0 1)" font-size="7.9" >815nm</text><text transform="translate(323.1 15) scale(1.0 1)" font-size="10" >(b)</text><text transform="translate(339.8 15) scale(1.0 1)" font-size="7.8">×10<tspan font-size="4.8" dy="-3.3">4</tspan></text><text transform="translate(333.3 80.3) scale(0.9 1) rotate(-90)" font-size="8.75" text-anchor="middle" >Absolute Kerr signal (mDeg)</text><text transform="translate(434 173) scale(1.0 1)" font-size="8.6" text-anchor="middle" ><tspan font-style="italic">θ</tspan><tspan font-weight="normal">(°)</tspan></text><rect x="350.5" y="202" width="162" height="133" fill="none" stroke="#222" stroke-width="0.9"/><text transform="translate(350.8 345) scale(1.0 1)" font-size="8" text-anchor="middle" >0</text><text transform="translate(368.4 345) scale(1.0 1)" font-size="8" text-anchor="middle" >5</text><text transform="translate(386 345) scale(1.0 1)" font-size="8" text-anchor="middle" >10</text><text transform="translate(403.6 345) scale(1.0 1)" font-size="8" text-anchor="middle" >15</text><text transform="translate(421.2 345) scale(1.0 1)" font-size="8" text-anchor="middle" >20</text><text transform="translate(438.8 345) scale(1.0 1)" font-size="8" text-anchor="middle" >25</text><text transform="translate(456.4 345) scale(1.0 1)" font-size="8" text-anchor="middle" >30</text><text transform="translate(474 345) scale(1.0 1)" font-size="8" text-anchor="middle" >35</text><text transform="translate(491.6 345) scale(1.0 1)" font-size="8" text-anchor="middle" >40</text><text transform="translate(509.2 345) scale(1.0 1)" font-size="8" text-anchor="middle" >45</text><text transform="translate(347.9 329.7) scale(1.0 1)" font-size="8" text-anchor="end" >0.0</text><text transform="translate(347.9 314) scale(1.0 1)" font-size="8" text-anchor="end" >0.1</text><text transform="translate(347.9 298.3) scale(1.0 1)" font-size="8" text-anchor="end" >0.2</text><text transform="translate(347.9 282.6) scale(1.0 1)" font-size="8" text-anchor="end" >0.3</text><text transform="translate(347.9 266.9) scale(1.0 1)" font-size="8" text-anchor="end" >0.4</text><text transform="translate(347.9 251.2) scale(1.0 1)" font-size="8" text-anchor="end" >0.5</text><text transform="translate(347.9 235.5) scale(1.0 1)" font-size="8" text-anchor="end" >0.6</text><text transform="translate(347.9 219.8) scale(1.0 1)" font-size="8" text-anchor="end" >0.7</text><text transform="translate(347.9 204.1) scale(1.0 1)" font-size="8" text-anchor="end" >0.8</text><path d="M350.8 335v-2.6M368.4 335v-2.6M386 335v-2.6M403.6 335v-2.6M421.2 335v-2.6M438.8 335v-2.6M456.4 335v-2.6M474 335v-2.6M491.6 335v-2.6M509.2 335v-2.6M359.6 335v-1.5M377.2 335v-1.5M394.8 335v-1.5M412.4 335v-1.5M430 335v-1.5M447.6 335v-1.5M465.2 335v-1.5M482.8 335v-1.5M500.4 335v-1.5M350.5 327h2.6M350.5 311.3h2.6M350.5 295.6h2.6M350.5 279.9h2.6M350.5 264.2h2.6M350.5 248.5h2.6M350.5 232.8h2.6M350.5 217.1h2.6M350.5 201.4h2.6M350.5 319.1h1.5M350.5 303.4h1.5M350.5 287.8h1.5M350.5 272.1h1.5M350.5 256.4h1.5M350.5 240.6h1.5M350.5 224.9h1.5M350.5 209.2h1.5" stroke="#222" stroke-width="0.8" fill="none"/><path d="M354.3 243.8 L361.4 243 L368.4 242.2 L375.4 243 L382.5 242.2 L389.5 243.8 L396.6 242.2 L403.6 242.2 L410.6 242.2 L417.7 239.1 L424.7 242.2 L431.8 241.4 L438.8 243 L445.8 241.4 L452.9 241.4 L459.9 245.4 L467 225.3 L474 255.4 L481 255.4 L488.1 241.1 L495.1 243.8 L502.2 243.8 L509.2 241.4" fill="none" stroke="#ff1010" stroke-width="1.3" stroke-linejoin="round"/><path d="M354.3 241.5l2.2 3.6h-4.3zM361.4 240.8l2.2 3.6h-4.3zM368.4 240l2.2 3.6h-4.3zM375.4 240.8l2.2 3.6h-4.3zM382.5 240l2.2 3.6h-4.3zM389.5 241.5l2.2 3.6h-4.3zM396.6 240l2.2 3.6h-4.3zM403.6 240l2.2 3.6h-4.3zM410.6 240l2.2 3.6h-4.3zM417.7 236.8l2.2 3.6h-4.3zM424.7 240l2.2 3.6h-4.3zM431.8 239.2l2.2 3.6h-4.3zM438.8 240.8l2.2 3.6h-4.3zM445.8 239.2l2.2 3.6h-4.3zM452.9 239.2l2.2 3.6h-4.3zM459.9 243.1l2.2 3.6h-4.3zM467 223l2.2 3.6h-4.3zM474 253.2l2.2 3.6h-4.3zM481 253.2l2.2 3.6h-4.3zM488.1 238.9l2.2 3.6h-4.3zM495.1 241.5l2.2 3.6h-4.3zM502.2 241.5l2.2 3.6h-4.3zM509.2 239.2l2.2 3.6h-4.3z" fill="#ff1010"/><path d="M354.3 314.3 L361.4 316.3 L368.4 308 L375.4 291.2 L382.5 301.7 L389.5 310.7 L396.6 300 L403.6 302.5 L410.6 302 L417.7 279.3 L424.7 315.7 L431.8 315.2 L438.8 310.7 L445.8 306.1 L452.9 301.7 L459.9 320.2 L467 287 L474 276.3 L481 222.8 L488.1 224.6 L495.1 287 L502.2 255.4 L509.2 228.1" fill="none" stroke="#1a1aff" stroke-width="1.3" stroke-linejoin="round"/><path d="M352.6 314.3a1.8 1.8 0 1 0 3.5 0a1.8 1.8 0 1 0 -3.5 0zM359.6 316.3a1.8 1.8 0 1 0 3.5 0a1.8 1.8 0 1 0 -3.5 0zM366.7 308a1.8 1.8 0 1 0 3.5 0a1.8 1.8 0 1 0 -3.5 0zM373.7 291.2a1.8 1.8 0 1 0 3.5 0a1.8 1.8 0 1 0 -3.5 0zM380.7 301.7a1.8 1.8 0 1 0 3.5 0a1.8 1.8 0 1 0 -3.5 0zM387.8 310.7a1.8 1.8 0 1 0 3.5 0a1.8 1.8 0 1 0 -3.5 0zM394.8 300a1.8 1.8 0 1 0 3.5 0a1.8 1.8 0 1 0 -3.5 0zM401.9 302.5a1.8 1.8 0 1 0 3.5 0a1.8 1.8 0 1 0 -3.5 0zM408.9 302a1.8 1.8 0 1 0 3.5 0a1.8 1.8 0 1 0 -3.5 0zM415.9 279.3a1.8 1.8 0 1 0 3.5 0a1.8 1.8 0 1 0 -3.5 0zM423 315.7a1.8 1.8 0 1 0 3.5 0a1.8 1.8 0 1 0 -3.5 0zM430 315.2a1.8 1.8 0 1 0 3.5 0a1.8 1.8 0 1 0 -3.5 0zM437.1 310.7a1.8 1.8 0 1 0 3.5 0a1.8 1.8 0 1 0 -3.5 0zM444.1 306.1a1.8 1.8 0 1 0 3.5 0a1.8 1.8 0 1 0 -3.5 0zM451.1 301.7a1.8 1.8 0 1 0 3.5 0a1.8 1.8 0 1 0 -3.5 0zM458.2 320.2a1.8 1.8 0 1 0 3.5 0a1.8 1.8 0 1 0 -3.5 0zM465.2 287a1.8 1.8 0 1 0 3.5 0a1.8 1.8 0 1 0 -3.5 0zM472.2 276.3a1.8 1.8 0 1 0 3.5 0a1.8 1.8 0 1 0 -3.5 0zM479.3 222.8a1.8 1.8 0 1 0 3.5 0a1.8 1.8 0 1 0 -3.5 0zM486.3 224.6a1.8 1.8 0 1 0 3.5 0a1.8 1.8 0 1 0 -3.5 0zM493.4 287a1.8 1.8 0 1 0 3.5 0a1.8 1.8 0 1 0 -3.5 0zM500.4 255.4a1.8 1.8 0 1 0 3.5 0a1.8 1.8 0 1 0 -3.5 0zM507.5 228.1a1.8 1.8 0 1 0 3.5 0a1.8 1.8 0 1 0 -3.5 0z" fill="#1a1aff"/><path d="M354.3 323.2 L361.4 326.1 L368.4 316.8 L375.4 307.5 L382.5 310 L389.5 317.6 L396.6 316.3 L403.6 308.3 L410.6 300.8 L417.7 310.5 L424.7 325 L431.8 325 L438.8 309.7 L445.8 321.7 L452.9 315.2 L459.9 319.1 L467 307.1 L474 309.3 L481 321 L488.1 316.6 L495.1 307.7 L502.2 322.6 L509.2 315.2" fill="none" stroke="#000" stroke-width="1.3" stroke-linejoin="round"/><path d="M352.8 321.7h3.1v3.1h-3.1zM359.8 324.5h3.1v3.1h-3.1zM366.9 315.2h3.1v3.1h-3.1zM373.9 306h3.1v3.1h-3.1zM380.9 308.5h3.1v3.1h-3.1zM388 316h3.1v3.1h-3.1zM395 314.8h3.1v3.1h-3.1zM402.1 306.8h3.1v3.1h-3.1zM409.1 299.2h3.1v3.1h-3.1zM416.1 309h3.1v3.1h-3.1zM423.2 323.4h3.1v3.1h-3.1zM430.2 323.4h3.1v3.1h-3.1zM437.2 308.2h3.1v3.1h-3.1zM444.3 320.1h3.1v3.1h-3.1zM451.3 313.7h3.1v3.1h-3.1zM458.4 317.6h3.1v3.1h-3.1zM465.4 305.5h3.1v3.1h-3.1zM472.4 307.7h3.1v3.1h-3.1zM479.5 319.5h3.1v3.1h-3.1zM486.5 315.1h3.1v3.1h-3.1zM493.6 306.1h3.1v3.1h-3.1zM500.6 321.1h3.1v3.1h-3.1zM507.7 313.7h3.1v3.1h-3.1z" fill="#000"/><path d="M352.5 211.3h18.5" stroke="#000" stroke-width="1.3"/><path d="M360.4 209.9h2.8v2.8h-2.8z" fill="#000"/><text transform="translate(373 214) scale(1.0 1)" font-size="7.9" >565nm</text><path d="M352.5 221.3h18.5" stroke="#1a1aff" stroke-width="1.3"/><path d="M360.1 221.3a1.6 1.6 0 1 0 3.2 0a1.6 1.6 0 1 0 -3.2 0z" fill="#1a1aff"/><text transform="translate(373 224) scale(1.0 1)" font-size="7.9" >665nm</text><path d="M352.5 231.8h18.5" stroke="#ff1010" stroke-width="1.3"/><path d="M361.8 229.7l2 3.3h-4z" fill="#ff1010"/><text transform="translate(373 234.5) scale(1.0 1)" font-size="7.9" >815nm</text><text transform="translate(323.9 197) scale(1.0 1)" font-size="10" >(d)</text><text transform="translate(345.1 195.8) scale(1.0 1)" font-size="7.8">×10<tspan font-size="4.8" dy="-3.3">4</tspan></text><text transform="translate(333.3 264.4) scale(0.9 1) rotate(-90)" font-size="8.75" text-anchor="middle" >Absolute Kerr signal (mDeg)</text><text transform="translate(431 357) scale(1.0 1)" font-size="8.6" text-anchor="middle" ><tspan font-style="italic">θ</tspan><tspan font-weight="normal">(°)</tspan></text><rect x="350.7" y="383.5" width="166.1" height="134.8" fill="none" stroke="#222" stroke-width="0.9"/><text transform="translate(350.7 528.3) scale(1.0 1)" font-size="8" text-anchor="middle" >0</text><text transform="translate(374.3 528.3) scale(1.0 1)" font-size="8" text-anchor="middle" >5</text><text transform="translate(398 528.3) scale(1.0 1)" font-size="8" text-anchor="middle" >10</text><text transform="translate(421.6 528.3) scale(1.0 1)" font-size="8" text-anchor="middle" >15</text><text transform="translate(445.3 528.3) scale(1.0 1)" font-size="8" text-anchor="middle" >20</text><text transform="translate(468.9 528.3) scale(1.0 1)" font-size="8" text-anchor="middle" >25</text><text transform="translate(492.6 528.3) scale(1.0 1)" font-size="8" text-anchor="middle" >30</text><text transform="translate(516.2 528.3) scale(1.0 1)" font-size="8" text-anchor="middle" >35</text><text transform="translate(348.1 464.2) scale(1.0 1)" font-size="8" text-anchor="end" >10</text><text transform="translate(348.1 444.7) scale(1.0 1)" font-size="8" text-anchor="end" >15</text><text transform="translate(348.1 425.2) scale(1.0 1)" font-size="8" text-anchor="end" >20</text><text transform="translate(348.1 405.7) scale(1.0 1)" font-size="8" text-anchor="end" >25</text><text transform="translate(348.1 386.2) scale(1.0 1)" font-size="8" text-anchor="end" >30</text><text transform="translate(348.1 519.7) scale(1.0 1)" font-size="8" text-anchor="end" >0.0</text><text transform="translate(348.1 500.9) scale(1.0 1)" font-size="8" text-anchor="end" >0.5</text><path d="M350.7 518.3v-2.6M374.3 518.3v-2.6M398 518.3v-2.6M421.6 518.3v-2.6M445.3 518.3v-2.6M468.9 518.3v-2.6M492.6 518.3v-2.6M516.2 518.3v-2.6M362.5 518.3v-1.5M386.2 518.3v-1.5M409.8 518.3v-1.5M433.5 518.3v-1.5M457.1 518.3v-1.5M480.8 518.3v-1.5M504.4 518.3v-1.5M350.7 461.5h2.6M350.7 442h2.6M350.7 422.5h2.6M350.7 403h2.6M350.7 383.5h2.6M350.7 451.8h1.5M350.7 432.2h1.5M350.7 412.8h1.5M350.7 393.2h1.5M350.7 517h2.6M350.7 498.2h2.6M350.7 507.6h1.5M350.7 488.9h1.5" stroke="#222" stroke-width="0.8" fill="none"/><path d="M355.4 453.3 L364.9 455.6 L374.3 452.9 L383.8 456.4 L393.3 457.6 L402.7 458 L412.2 457 L421.6 460.3 L431.1 460.3 L440.6 400.3 L450 457.6 L459.5 408.1 L468.9 441.6 L478.4 452.1 L487.9 471.6 L497.3 471.1 L506.8 473.6" fill="none" stroke="#ff1010" stroke-width="1.3" stroke-linejoin="round"/><path d="M355.4 451.1l2.2 3.6h-4.3zM364.9 453.4l2.2 3.6h-4.3zM374.3 450.7l2.2 3.6h-4.3zM383.8 454.2l2.2 3.6h-4.3zM393.3 455.3l2.2 3.6h-4.3zM402.7 455.7l2.2 3.6h-4.3zM412.2 454.8l2.2 3.6h-4.3zM421.6 458.1l2.2 3.6h-4.3zM431.1 458.1l2.2 3.6h-4.3zM440.6 398l2.2 3.6h-4.3zM450 455.3l2.2 3.6h-4.3zM459.5 405.8l2.2 3.6h-4.3zM468.9 439.4l2.2 3.6h-4.3zM478.4 449.9l2.2 3.6h-4.3zM487.9 469.4l2.2 3.6h-4.3zM497.3 468.8l2.2 3.6h-4.3zM506.8 471.3l2.2 3.6h-4.3z" fill="#ff1010"/><path d="M355.4 498.2 L364.9 512.5 L374.3 511.4 L383.8 509.5 L393.3 510.2 L402.7 513.6 L412.2 498.6 L421.6 510.2 L431.1 503.9 L440.6 505.4 L450 508.4 L459.5 508.4 L468.9 493.4 L478.4 491.9 L487.9 493 L497.3 502.8 L506.8 507.2" fill="none" stroke="#1a1aff" stroke-width="1.3" stroke-linejoin="round"/><path d="M353.7 498.2a1.8 1.8 0 1 0 3.5 0a1.8 1.8 0 1 0 -3.5 0zM363.1 512.5a1.8 1.8 0 1 0 3.5 0a1.8 1.8 0 1 0 -3.5 0zM372.6 511.4a1.8 1.8 0 1 0 3.5 0a1.8 1.8 0 1 0 -3.5 0zM382.1 509.5a1.8 1.8 0 1 0 3.5 0a1.8 1.8 0 1 0 -3.5 0zM391.5 510.2a1.8 1.8 0 1 0 3.5 0a1.8 1.8 0 1 0 -3.5 0zM401 513.6a1.8 1.8 0 1 0 3.5 0a1.8 1.8 0 1 0 -3.5 0zM410.4 498.6a1.8 1.8 0 1 0 3.5 0a1.8 1.8 0 1 0 -3.5 0zM419.9 510.2a1.8 1.8 0 1 0 3.5 0a1.8 1.8 0 1 0 -3.5 0zM429.4 503.9a1.8 1.8 0 1 0 3.5 0a1.8 1.8 0 1 0 -3.5 0zM438.8 505.4a1.8 1.8 0 1 0 3.5 0a1.8 1.8 0 1 0 -3.5 0zM448.3 508.4a1.8 1.8 0 1 0 3.5 0a1.8 1.8 0 1 0 -3.5 0zM457.7 508.4a1.8 1.8 0 1 0 3.5 0a1.8 1.8 0 1 0 -3.5 0zM467.2 493.4a1.8 1.8 0 1 0 3.5 0a1.8 1.8 0 1 0 -3.5 0zM476.7 491.9a1.8 1.8 0 1 0 3.5 0a1.8 1.8 0 1 0 -3.5 0zM486.1 493a1.8 1.8 0 1 0 3.5 0a1.8 1.8 0 1 0 -3.5 0zM495.6 502.8a1.8 1.8 0 1 0 3.5 0a1.8 1.8 0 1 0 -3.5 0zM505 507.2a1.8 1.8 0 1 0 3.5 0a1.8 1.8 0 1 0 -3.5 0z" fill="#1a1aff"/><path d="M355.4 489.2 L364.9 500.9 L374.3 502.8 L383.8 502.8 L393.3 502.8 L402.7 505 L412.2 499 L421.6 506.5 L431.1 515.1 L440.6 509.5 L450 513.2 L459.5 515.9 L468.9 512.5 L478.4 511 L487.9 514.8 L497.3 515.5 L506.8 516.2" fill="none" stroke="#000" stroke-width="1.3" stroke-linejoin="round"/><path d="M353.9 487.7h3.1v3.1h-3.1zM363.3 499.3h3.1v3.1h-3.1zM372.8 501.2h3.1v3.1h-3.1zM382.3 501.2h3.1v3.1h-3.1zM391.7 501.2h3.1v3.1h-3.1zM401.2 503.4h3.1v3.1h-3.1zM410.6 497.4h3.1v3.1h-3.1zM420.1 504.9h3.1v3.1h-3.1zM429.6 513.6h3.1v3.1h-3.1zM439 507.9h3.1v3.1h-3.1zM448.5 511.7h3.1v3.1h-3.1zM457.9 514.3h3.1v3.1h-3.1zM467.4 510.9h3.1v3.1h-3.1zM476.9 509.4h3.1v3.1h-3.1zM486.3 513.2h3.1v3.1h-3.1zM495.8 514h3.1v3.1h-3.1zM505.2 514.7h3.1v3.1h-3.1z" fill="#000"/><path d="M348.5 476.3h5v3.4h-5zM514.5 476.3h5v3.4h-5z" fill="#fff"/><path d="M348.7 477.6l4 -2.2M348.7 480.6l4 -2.2M514.8 477.6l4 -2.2M514.8 480.6l4 -2.2" stroke="#222" stroke-width=".8"/><path d="M355.8 391.3h18.5" stroke="#000" stroke-width="1.3"/><path d="M363.7 389.9h2.8v2.8h-2.8z" fill="#000"/><text transform="translate(376.3 394) scale(1.0 1)" font-size="7.9" >565nm</text><path d="M355.8 401.3h18.5" stroke="#1a1aff" stroke-width="1.3"/><path d="M363.4 401.3a1.6 1.6 0 1 0 3.2 0a1.6 1.6 0 1 0 -3.2 0z" fill="#1a1aff"/><text transform="translate(376.3 404) scale(1.0 1)" font-size="7.9" >665nm</text><path d="M355.8 411.8h18.5" stroke="#ff1010" stroke-width="1.3"/><path d="M365.1 409.7l2 3.3h-4z" fill="#ff1010"/><text transform="translate(376.3 414.5) scale(1.0 1)" font-size="7.9" >815nm</text><text transform="translate(322.2 377.5) scale(1.0 1)" font-size="10" >(f)</text><text transform="translate(345.1 375.7) scale(1.0 1)" font-size="7.8">×10<tspan font-size="4.8" dy="-3.3">4</tspan></text><text transform="translate(333.3 447.3) scale(0.9 1) rotate(-90)" font-size="8.75" text-anchor="middle" >Absolute Kerr signal (mDeg)</text><text transform="translate(434 541) scale(1.0 1)" font-size="8.6" text-anchor="middle" ><tspan font-style="italic">θ</tspan><tspan font-weight="normal">(°)</tspan></text>
</svg>
</body></html>
